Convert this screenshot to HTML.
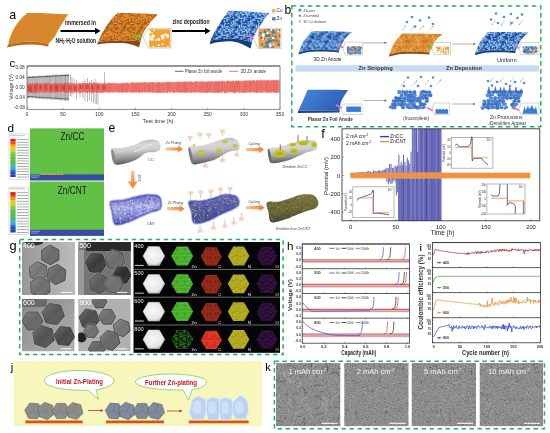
<!DOCTYPE html>
<html><head><meta charset="utf-8"><title>Figure</title>
<style>html,body{margin:0;padding:0;background:#fff;width:550px;height:433px;overflow:hidden}svg{display:block}text{font-family:"Liberation Sans",sans-serif}</style>
</head><body><svg width="550" height="433" viewBox="0 0 550 433"><defs>
<filter id="semnoise" x="0" y="0" width="100%" height="100%">
 <feTurbulence type="fractalNoise" baseFrequency="0.55" numOctaves="3" seed="3" result="n"/>
 <feColorMatrix type="matrix" values="0 0 0 0 0.5  0 0 0 0 0.5  0 0 0 0 0.5  1.2 0 0 0 -0.1" />
</filter>
</defs><defs><pattern id="pOrTex" patternUnits="userSpaceOnUse" width="17" height="17"><rect width="17" height="17" fill="#974C14"/><circle cx="6.8" cy="13.6" r="0.7" fill="#BC6620"/><circle cx="11.1" cy="16.1" r="0.8" fill="#E8922C"/><circle cx="16.5" cy="4.1" r="0.9" fill="#E8922C"/><circle cx="-0.5" cy="4.1" r="0.9" fill="#E8922C"/><circle cx="13.8" cy="16.9" r="0.8" fill="#EE9C36"/><circle cx="13.8" cy="-0.1" r="0.8" fill="#EE9C36"/><circle cx="0.6" cy="11.3" r="0.8" fill="#EE9C36"/><circle cx="17.6" cy="11.3" r="0.8" fill="#EE9C36"/><circle cx="13.9" cy="13.8" r="0.9" fill="#DC8626"/><circle cx="10.5" cy="13.1" r="0.9" fill="#E8922C"/><circle cx="13.1" cy="0.3" r="0.9" fill="#BC6620"/><circle cx="13.1" cy="17.3" r="0.9" fill="#BC6620"/><circle cx="4.8" cy="16.4" r="0.5" fill="#E8922C"/><circle cx="14.9" cy="10.5" r="0.5" fill="#EE9C36"/><circle cx="2.8" cy="1.5" r="0.7" fill="#EE9C36"/><circle cx="12.8" cy="16.5" r="0.8" fill="#E8922C"/><circle cx="12.8" cy="-0.5" r="0.8" fill="#E8922C"/><circle cx="14.5" cy="13.7" r="0.6" fill="#BC6620"/><circle cx="12.8" cy="9.7" r="0.7" fill="#EE9C36"/><circle cx="9" cy="7.1" r="0.8" fill="#DC8626"/><circle cx="14.7" cy="16.5" r="0.6" fill="#DC8626"/><circle cx="14.7" cy="-0.5" r="0.6" fill="#DC8626"/><circle cx="1.2" cy="13.3" r="0.5" fill="#DC8626"/><circle cx="0.7" cy="4.8" r="0.6" fill="#EE9C36"/><circle cx="0.5" cy="13.6" r="0.7" fill="#EE9C36"/><circle cx="17.5" cy="13.6" r="0.7" fill="#EE9C36"/><circle cx="6.9" cy="14" r="0.6" fill="#DC8626"/><circle cx="5.7" cy="2.8" r="0.7" fill="#BC6620"/><circle cx="2.2" cy="11.8" r="0.6" fill="#E8922C"/><circle cx="11.4" cy="1" r="0.9" fill="#E8922C"/><circle cx="9.6" cy="9.1" r="0.6" fill="#EE9C36"/><circle cx="15.4" cy="8.7" r="0.8" fill="#BC6620"/><circle cx="3.8" cy="9" r="0.5" fill="#EE9C36"/><circle cx="8.5" cy="14.4" r="0.8" fill="#E8922C"/><circle cx="8.7" cy="7" r="0.9" fill="#BC6620"/><circle cx="4.7" cy="1.8" r="0.7" fill="#DC8626"/><circle cx="13.4" cy="2.1" r="0.9" fill="#BC6620"/><circle cx="6.8" cy="11.5" r="0.5" fill="#E8922C"/><circle cx="3.2" cy="3.5" r="0.8" fill="#EE9C36"/><circle cx="2.3" cy="9.8" r="0.8" fill="#EE9C36"/><circle cx="0.5" cy="4.3" r="0.6" fill="#EE9C36"/><circle cx="17.5" cy="4.3" r="0.6" fill="#EE9C36"/><circle cx="11.4" cy="3" r="0.8" fill="#DC8626"/><circle cx="8.1" cy="8.1" r="0.7" fill="#DC8626"/><circle cx="5.2" cy="3.4" r="0.5" fill="#DC8626"/><circle cx="4.9" cy="10.5" r="0.6" fill="#BC6620"/><circle cx="15.6" cy="11.2" r="0.5" fill="#EE9C36"/><circle cx="13.7" cy="14.1" r="0.8" fill="#DC8626"/><circle cx="0.5" cy="8.8" r="0.8" fill="#EE9C36"/><circle cx="17.5" cy="8.8" r="0.8" fill="#EE9C36"/><circle cx="0.4" cy="13.4" r="0.6" fill="#EE9C36"/><circle cx="17.4" cy="13.4" r="0.6" fill="#EE9C36"/><circle cx="4.4" cy="1.6" r="0.9" fill="#DC8626"/><circle cx="5.5" cy="15.8" r="0.9" fill="#EE9C36"/><circle cx="9.4" cy="10" r="0.5" fill="#BC6620"/><circle cx="9.9" cy="0.9" r="0.8" fill="#DC8626"/><circle cx="9.1" cy="8.5" r="0.6" fill="#EE9C36"/><circle cx="9.1" cy="9.3" r="0.8" fill="#E8922C"/><circle cx="1.8" cy="13.8" r="0.7" fill="#DC8626"/><circle cx="5.2" cy="1.7" r="0.9" fill="#EE9C36"/><circle cx="5.4" cy="14.8" r="0.5" fill="#EE9C36"/><circle cx="11.1" cy="4.7" r="0.5" fill="#BC6620"/><circle cx="4.9" cy="4.3" r="0.8" fill="#BC6620"/><circle cx="1.1" cy="2.1" r="0.9" fill="#EE9C36"/><circle cx="6.8" cy="9.1" r="0.5" fill="#E8922C"/><circle cx="16.9" cy="0.3" r="0.7" fill="#E8922C"/><circle cx="16.9" cy="17.3" r="0.7" fill="#E8922C"/><circle cx="-0.1" cy="0.3" r="0.7" fill="#E8922C"/><circle cx="-0.1" cy="17.3" r="0.7" fill="#E8922C"/><circle cx="10.5" cy="9.8" r="0.8" fill="#DC8626"/><circle cx="16.1" cy="11.2" r="0.8" fill="#BC6620"/><circle cx="7.1" cy="12.4" r="0.8" fill="#DC8626"/><circle cx="8.2" cy="7.9" r="0.6" fill="#E8922C"/><circle cx="2.6" cy="5" r="0.8" fill="#EE9C36"/><circle cx="1.5" cy="7.5" r="0.8" fill="#DC8626"/><circle cx="16.5" cy="11.8" r="0.7" fill="#EE9C36"/><circle cx="-0.5" cy="11.8" r="0.7" fill="#EE9C36"/><circle cx="0.5" cy="5.1" r="0.8" fill="#EE9C36"/><circle cx="17.5" cy="5.1" r="0.8" fill="#EE9C36"/><circle cx="9.7" cy="13.9" r="0.5" fill="#E8922C"/><circle cx="4" cy="1.4" r="0.6" fill="#DC8626"/><circle cx="12.1" cy="16.9" r="0.5" fill="#BC6620"/><circle cx="12.1" cy="-0.1" r="0.5" fill="#BC6620"/><circle cx="13.8" cy="2.3" r="0.6" fill="#E8922C"/><circle cx="10.7" cy="15.3" r="0.6" fill="#E8922C"/><circle cx="15" cy="8" r="0.5" fill="#DC8626"/><circle cx="13.6" cy="14" r="0.8" fill="#BC6620"/><circle cx="2.2" cy="1" r="0.9" fill="#BC6620"/><circle cx="11.7" cy="3.3" r="0.8" fill="#EE9C36"/><circle cx="15.1" cy="6.2" r="0.5" fill="#DC8626"/><circle cx="8.5" cy="14.1" r="0.6" fill="#EE9C36"/><circle cx="10.5" cy="16.1" r="0.7" fill="#DC8626"/><circle cx="15" cy="8.6" r="0.9" fill="#E8922C"/><circle cx="3.8" cy="11.2" r="0.8" fill="#DC8626"/><circle cx="4.5" cy="15" r="0.8" fill="#E8922C"/><circle cx="5.3" cy="4.1" r="0.6" fill="#E8922C"/><circle cx="11.3" cy="7.4" r="0.9" fill="#DC8626"/><circle cx="17" cy="9.6" r="0.9" fill="#EE9C36"/><circle cx="-0" cy="9.6" r="0.9" fill="#EE9C36"/><circle cx="4.5" cy="8.5" r="0.6" fill="#BC6620"/><circle cx="7.9" cy="11" r="0.6" fill="#BC6620"/><circle cx="14.6" cy="3" r="0.8" fill="#BC6620"/><circle cx="12.2" cy="11.9" r="0.9" fill="#E8922C"/><circle cx="5.3" cy="8.5" r="0.6" fill="#DC8626"/><circle cx="11.5" cy="6.9" r="0.7" fill="#BC6620"/><circle cx="2.7" cy="10.9" r="0.9" fill="#DC8626"/><circle cx="1.2" cy="11.5" r="0.6" fill="#E8922C"/><circle cx="4.5" cy="8.8" r="0.7" fill="#EE9C36"/><circle cx="10.5" cy="1.6" r="0.9" fill="#EE9C36"/><circle cx="15.4" cy="0.1" r="0.9" fill="#BC6620"/><circle cx="15.4" cy="17.1" r="0.9" fill="#BC6620"/><circle cx="16" cy="9.4" r="0.8" fill="#DC8626"/><circle cx="16.3" cy="15.6" r="0.6" fill="#EE9C36"/><circle cx="5.4" cy="6.2" r="0.7" fill="#E8922C"/><circle cx="3.1" cy="7.2" r="0.6" fill="#EE9C36"/><circle cx="16.2" cy="3.4" r="0.5" fill="#DC8626"/><circle cx="7.7" cy="11.2" r="0.7" fill="#DC8626"/><circle cx="16.6" cy="2.2" r="0.6" fill="#BC6620"/><circle cx="-0.4" cy="2.2" r="0.6" fill="#BC6620"/><circle cx="3.5" cy="1.5" r="0.9" fill="#EE9C36"/><circle cx="1" cy="12.5" r="0.7" fill="#E8922C"/><circle cx="15" cy="13.7" r="0.9" fill="#DC8626"/><circle cx="7.9" cy="16.4" r="0.7" fill="#E8922C"/><circle cx="7.9" cy="-0.6" r="0.7" fill="#E8922C"/><circle cx="10.4" cy="3.8" r="0.9" fill="#DC8626"/><circle cx="10.2" cy="11.2" r="0.7" fill="#E8922C"/><circle cx="15.1" cy="3.6" r="0.8" fill="#DC8626"/><circle cx="14.1" cy="13.6" r="0.7" fill="#E8922C"/><circle cx="6.9" cy="1.8" r="0.9" fill="#E8922C"/><circle cx="14.9" cy="1.7" r="0.8" fill="#BC6620"/><circle cx="13.5" cy="14" r="0.6" fill="#DC8626"/><circle cx="0.1" cy="12" r="0.8" fill="#DC8626"/><circle cx="17.1" cy="12" r="0.8" fill="#DC8626"/><circle cx="7.3" cy="16.5" r="0.9" fill="#E8922C"/><circle cx="7.3" cy="-0.5" r="0.9" fill="#E8922C"/><circle cx="3.3" cy="9.1" r="0.6" fill="#E8922C"/><circle cx="15.7" cy="16.9" r="0.8" fill="#BC6620"/><circle cx="15.7" cy="-0.1" r="0.8" fill="#BC6620"/><circle cx="15.7" cy="1.4" r="0.8" fill="#E8922C"/><circle cx="9.9" cy="13.6" r="0.8" fill="#BC6620"/><circle cx="10.3" cy="9.5" r="0.6" fill="#E8922C"/><circle cx="5.7" cy="5.4" r="0.5" fill="#DC8626"/><circle cx="7.8" cy="3.9" r="0.7" fill="#DC8626"/><circle cx="14.3" cy="0.4" r="0.9" fill="#DC8626"/><circle cx="14.3" cy="17.4" r="0.9" fill="#DC8626"/><circle cx="1.5" cy="1.3" r="0.7" fill="#BC6620"/><circle cx="11.5" cy="8.6" r="0.7" fill="#DC8626"/><circle cx="7.5" cy="8.9" r="0.9" fill="#EE9C36"/><circle cx="9.3" cy="15.2" r="0.9" fill="#BC6620"/><circle cx="15.8" cy="11.7" r="0.9" fill="#BC6620"/><circle cx="13.3" cy="5.9" r="0.5" fill="#EE9C36"/><circle cx="13.5" cy="10.8" r="0.6" fill="#BC6620"/><circle cx="5.4" cy="6.9" r="0.8" fill="#BC6620"/><circle cx="2.2" cy="16.7" r="0.8" fill="#BC6620"/><circle cx="2.2" cy="-0.3" r="0.8" fill="#BC6620"/><circle cx="13.5" cy="1.5" r="0.5" fill="#BC6620"/><circle cx="6.7" cy="13.9" r="0.6" fill="#E8922C"/><circle cx="4.8" cy="7.4" r="0.6" fill="#EE9C36"/><circle cx="3.8" cy="12.9" r="0.7" fill="#EE9C36"/><circle cx="14.1" cy="11.3" r="0.5" fill="#E8922C"/><circle cx="13.6" cy="4.9" r="0.7" fill="#BC6620"/><circle cx="5.7" cy="6.2" r="0.8" fill="#EE9C36"/><circle cx="2.4" cy="8" r="0.8" fill="#BC6620"/><circle cx="2.4" cy="1.7" r="0.5" fill="#E8922C"/><circle cx="9.6" cy="2.3" r="0.9" fill="#BC6620"/><circle cx="6.5" cy="0.2" r="0.7" fill="#E8922C"/><circle cx="6.5" cy="17.2" r="0.7" fill="#E8922C"/><circle cx="14.1" cy="1.7" r="0.5" fill="#E8922C"/><circle cx="2.6" cy="3.4" r="0.8" fill="#BC6620"/><circle cx="0.3" cy="9.5" r="0.6" fill="#EE9C36"/><circle cx="17.3" cy="9.5" r="0.6" fill="#EE9C36"/><circle cx="4.4" cy="2.9" r="0.8" fill="#DC8626"/><circle cx="7" cy="13.5" r="0.7" fill="#EE9C36"/><circle cx="11.8" cy="5" r="0.5" fill="#DC8626"/><circle cx="7.4" cy="5.4" r="0.9" fill="#DC8626"/><circle cx="13.7" cy="0.6" r="0.8" fill="#DC8626"/><circle cx="13.7" cy="17.6" r="0.8" fill="#DC8626"/><circle cx="16.6" cy="13.4" r="0.7" fill="#BC6620"/><circle cx="-0.4" cy="13.4" r="0.7" fill="#BC6620"/><circle cx="5.9" cy="12.5" r="0.7" fill="#BC6620"/><circle cx="8.7" cy="0.9" r="0.9" fill="#EE9C36"/><circle cx="0.2" cy="8.8" r="0.6" fill="#E8922C"/><circle cx="17.2" cy="8.8" r="0.6" fill="#E8922C"/><circle cx="15.3" cy="13.4" r="0.6" fill="#E8922C"/><circle cx="1.4" cy="2.2" r="0.9" fill="#DC8626"/><circle cx="15.2" cy="14.4" r="0.9" fill="#DC8626"/><circle cx="10.6" cy="9.9" r="0.5" fill="#DC8626"/><circle cx="6.9" cy="0.2" r="0.7" fill="#BC6620"/><circle cx="6.9" cy="17.2" r="0.7" fill="#BC6620"/><circle cx="14.5" cy="6.3" r="0.9" fill="#E8922C"/><circle cx="14.5" cy="14.2" r="0.5" fill="#EE9C36"/><circle cx="14.4" cy="9" r="0.5" fill="#BC6620"/><circle cx="11.9" cy="14" r="0.7" fill="#DC8626"/><circle cx="14.2" cy="3.8" r="0.9" fill="#DC8626"/><circle cx="4.7" cy="1" r="0.5" fill="#BC6620"/><circle cx="7.7" cy="7.5" r="0.7" fill="#BC6620"/><circle cx="3.9" cy="15.3" r="0.7" fill="#DC8626"/><circle cx="11.4" cy="8.1" r="0.6" fill="#DC8626"/><circle cx="7.8" cy="4.5" r="0.5" fill="#E8922C"/><circle cx="14" cy="0" r="0.7" fill="#E8922C"/><circle cx="14" cy="17" r="0.7" fill="#E8922C"/><circle cx="11.2" cy="4.3" r="0.5" fill="#BC6620"/><circle cx="11.2" cy="1.3" r="0.9" fill="#DC8626"/><circle cx="13.4" cy="14.6" r="0.8" fill="#BC6620"/><circle cx="8.5" cy="10.8" r="0.8" fill="#BC6620"/><circle cx="14.1" cy="14.6" r="0.5" fill="#BC6620"/><circle cx="9.9" cy="14.8" r="0.9" fill="#BC6620"/><circle cx="1.8" cy="12.5" r="0.8" fill="#E8922C"/><circle cx="1.6" cy="15.4" r="0.9" fill="#EE9C36"/><circle cx="4.3" cy="8.2" r="0.6" fill="#DC8626"/><circle cx="8.1" cy="10.4" r="0.7" fill="#DC8626"/><circle cx="0.4" cy="8.1" r="0.9" fill="#DC8626"/><circle cx="17.4" cy="8.1" r="0.9" fill="#DC8626"/><circle cx="16.8" cy="12.3" r="0.7" fill="#BC6620"/><circle cx="-0.2" cy="12.3" r="0.7" fill="#BC6620"/><circle cx="2.8" cy="2.9" r="0.6" fill="#E8922C"/><circle cx="6.1" cy="16.9" r="0.5" fill="#DC8626"/><circle cx="6.1" cy="-0.1" r="0.5" fill="#DC8626"/><circle cx="2.2" cy="4.3" r="0.7" fill="#EE9C36"/><circle cx="0.6" cy="3.9" r="0.8" fill="#BC6620"/><circle cx="17.6" cy="3.9" r="0.8" fill="#BC6620"/><circle cx="11.8" cy="13.1" r="0.7" fill="#E8922C"/><circle cx="11.3" cy="4.4" r="0.8" fill="#EE9C36"/><circle cx="3.8" cy="4.5" r="0.6" fill="#BC6620"/><circle cx="9.2" cy="15.3" r="0.5" fill="#DC8626"/><circle cx="15.8" cy="0.3" r="0.5" fill="#DC8626"/><circle cx="15.8" cy="17.3" r="0.5" fill="#DC8626"/><circle cx="7.4" cy="1.6" r="0.7" fill="#EE9C36"/><circle cx="16.3" cy="7.2" r="0.8" fill="#E8922C"/><circle cx="-0.7" cy="7.2" r="0.8" fill="#E8922C"/><circle cx="5.7" cy="14" r="0.5" fill="#EE9C36"/><circle cx="3.2" cy="16.5" r="0.5" fill="#E8922C"/><circle cx="1.5" cy="2" r="0.7" fill="#BC6620"/><circle cx="2.8" cy="16" r="0.7" fill="#BC6620"/><circle cx="9.8" cy="8" r="0.9" fill="#BC6620"/><circle cx="11.3" cy="4.5" r="0.8" fill="#EE9C36"/><circle cx="9.5" cy="16.1" r="0.8" fill="#E8922C"/><circle cx="6.8" cy="15.8" r="0.5" fill="#EE9C36"/><circle cx="10" cy="13" r="0.8" fill="#BC6620"/><circle cx="2.5" cy="2.2" r="0.7" fill="#DC8626"/><circle cx="8.3" cy="10.8" r="0.5" fill="#EE9C36"/><circle cx="11.8" cy="6.3" r="0.9" fill="#E8922C"/><circle cx="11.4" cy="12.2" r="0.5" fill="#EE9C36"/><circle cx="5.3" cy="5.8" r="0.7" fill="#E8922C"/><circle cx="6" cy="13.2" r="0.5" fill="#BC6620"/><circle cx="13.7" cy="3" r="0.8" fill="#EE9C36"/><circle cx="2.5" cy="4.7" r="0.6" fill="#BC6620"/><circle cx="8.7" cy="9.3" r="0.5" fill="#E8922C"/><circle cx="1.3" cy="9.1" r="0.7" fill="#EE9C36"/><circle cx="11.7" cy="4.5" r="0.7" fill="#BC6620"/><circle cx="11.5" cy="15.2" r="0.9" fill="#BC6620"/><circle cx="14.3" cy="6.2" r="0.7" fill="#EE9C36"/><circle cx="0.5" cy="16.8" r="0.5" fill="#DC8626"/><circle cx="0.5" cy="-0.2" r="0.5" fill="#DC8626"/><circle cx="0.2" cy="13.3" r="0.6" fill="#EE9C36"/><circle cx="17.2" cy="13.3" r="0.6" fill="#EE9C36"/><circle cx="13.2" cy="9.2" r="0.6" fill="#E8922C"/><circle cx="1.7" cy="15.4" r="0.9" fill="#BC6620"/><circle cx="8.4" cy="13.9" r="0.8" fill="#BC6620"/><circle cx="3.5" cy="6" r="0.6" fill="#DC8626"/><circle cx="3" cy="2.2" r="0.5" fill="#BC6620"/><circle cx="12.8" cy="16.2" r="0.9" fill="#DC8626"/><circle cx="12.8" cy="-0.8" r="0.9" fill="#DC8626"/><circle cx="0.7" cy="8.9" r="0.5" fill="#DC8626"/><circle cx="1.7" cy="0.1" r="0.6" fill="#BC6620"/><circle cx="1.7" cy="17.1" r="0.6" fill="#BC6620"/><circle cx="3.1" cy="12.9" r="0.8" fill="#BC6620"/><circle cx="1.9" cy="10.6" r="0.7" fill="#DC8626"/><circle cx="5" cy="9.6" r="0.5" fill="#BC6620"/><circle cx="5.2" cy="1.3" r="0.5" fill="#E8922C"/><circle cx="8.5" cy="4.2" r="0.7" fill="#DC8626"/><circle cx="3" cy="0.9" r="0.9" fill="#EE9C36"/><circle cx="3" cy="17.9" r="0.9" fill="#EE9C36"/><circle cx="0" cy="8.8" r="0.5" fill="#E8922C"/><circle cx="17" cy="8.8" r="0.5" fill="#E8922C"/><circle cx="9.3" cy="13.9" r="0.9" fill="#BC6620"/><circle cx="5.2" cy="12.8" r="0.7" fill="#DC8626"/><circle cx="16.5" cy="5.6" r="0.5" fill="#E8922C"/><circle cx="-0.5" cy="5.6" r="0.5" fill="#E8922C"/><circle cx="13.1" cy="14" r="0.9" fill="#DC8626"/><circle cx="7.3" cy="8.2" r="0.6" fill="#BC6620"/><circle cx="0.7" cy="3.4" r="0.9" fill="#EE9C36"/><circle cx="17.7" cy="3.4" r="0.9" fill="#EE9C36"/><circle cx="1.8" cy="5.2" r="0.7" fill="#E8922C"/><circle cx="8" cy="16.1" r="0.6" fill="#EE9C36"/><circle cx="10.3" cy="1.6" r="0.8" fill="#E8922C"/><circle cx="13.1" cy="8.8" r="0.5" fill="#E8922C"/><circle cx="10" cy="8.9" r="0.8" fill="#EE9C36"/><circle cx="7.1" cy="4.4" r="0.8" fill="#DC8626"/><circle cx="12.8" cy="6.4" r="0.7" fill="#EE9C36"/><circle cx="5.5" cy="15.9" r="0.5" fill="#EE9C36"/><circle cx="17" cy="14.8" r="0.8" fill="#EE9C36"/><circle cx="-0" cy="14.8" r="0.8" fill="#EE9C36"/><circle cx="2.1" cy="12.8" r="0.7" fill="#BC6620"/><circle cx="1" cy="12.3" r="0.5" fill="#DC8626"/><circle cx="1.1" cy="4.5" r="0.8" fill="#BC6620"/><circle cx="8.2" cy="14.9" r="0.8" fill="#EE9C36"/></pattern></defs><defs><pattern id="pOrTex2" patternUnits="userSpaceOnUse" width="17" height="17"><rect width="17" height="17" fill="#B8681E"/><circle cx="0.5" cy="16.5" r="0.5" fill="#F6B055"/><circle cx="0.5" cy="-0.5" r="0.5" fill="#F6B055"/><circle cx="17.5" cy="16.5" r="0.5" fill="#F6B055"/><circle cx="17.5" cy="-0.5" r="0.5" fill="#F6B055"/><circle cx="9.6" cy="16.8" r="0.5" fill="#D08030"/><circle cx="9.6" cy="-0.2" r="0.5" fill="#D08030"/><circle cx="13.4" cy="14.1" r="0.6" fill="#F2A444"/><circle cx="10.1" cy="2.1" r="0.6" fill="#D08030"/><circle cx="4.9" cy="0.1" r="0.8" fill="#D08030"/><circle cx="4.9" cy="17.1" r="0.8" fill="#D08030"/><circle cx="4.8" cy="16" r="0.6" fill="#F6B055"/><circle cx="2.5" cy="3.5" r="0.6" fill="#F2A444"/><circle cx="11.9" cy="14.1" r="0.8" fill="#F6B055"/><circle cx="8.9" cy="4.2" r="0.9" fill="#F2A444"/><circle cx="15" cy="14.9" r="0.8" fill="#E89A3C"/><circle cx="13.4" cy="12.4" r="0.5" fill="#D08030"/><circle cx="2.9" cy="16.6" r="0.5" fill="#F2A444"/><circle cx="2.9" cy="-0.4" r="0.5" fill="#F2A444"/><circle cx="14.3" cy="16.9" r="0.9" fill="#E89A3C"/><circle cx="14.3" cy="-0.1" r="0.9" fill="#E89A3C"/><circle cx="8.2" cy="3.1" r="0.9" fill="#F2A444"/><circle cx="5.5" cy="9.8" r="0.9" fill="#E89A3C"/><circle cx="16.4" cy="10.6" r="0.8" fill="#F2A444"/><circle cx="-0.6" cy="10.6" r="0.8" fill="#F2A444"/><circle cx="1.8" cy="2.3" r="0.6" fill="#F2A444"/><circle cx="10.6" cy="8.7" r="0.5" fill="#F2A444"/><circle cx="1.1" cy="4.3" r="0.7" fill="#E89A3C"/><circle cx="11.5" cy="0.7" r="0.9" fill="#E89A3C"/><circle cx="11.5" cy="17.7" r="0.9" fill="#E89A3C"/><circle cx="9.8" cy="11.1" r="0.5" fill="#D08030"/><circle cx="7" cy="3.6" r="0.7" fill="#F6B055"/><circle cx="8.5" cy="14.8" r="0.5" fill="#D08030"/><circle cx="7.1" cy="9" r="0.6" fill="#D08030"/><circle cx="7.4" cy="3.4" r="0.9" fill="#E89A3C"/><circle cx="15.2" cy="9.2" r="0.9" fill="#F2A444"/><circle cx="4.4" cy="13.9" r="0.5" fill="#F6B055"/><circle cx="14.3" cy="10.9" r="0.8" fill="#E89A3C"/><circle cx="16.8" cy="7.9" r="0.9" fill="#F2A444"/><circle cx="-0.2" cy="7.9" r="0.9" fill="#F2A444"/><circle cx="10" cy="13.7" r="0.6" fill="#F6B055"/><circle cx="8.6" cy="9.4" r="0.6" fill="#D08030"/><circle cx="9.1" cy="14" r="0.5" fill="#F2A444"/><circle cx="14.1" cy="11.1" r="0.8" fill="#D08030"/><circle cx="6.6" cy="16.5" r="0.9" fill="#F2A444"/><circle cx="6.6" cy="-0.5" r="0.9" fill="#F2A444"/><circle cx="5.1" cy="2.8" r="0.6" fill="#E89A3C"/><circle cx="6.8" cy="2.1" r="0.8" fill="#D08030"/><circle cx="12.2" cy="4.7" r="0.9" fill="#E89A3C"/><circle cx="12.1" cy="7.2" r="0.9" fill="#E89A3C"/><circle cx="13.2" cy="15.5" r="0.5" fill="#F2A444"/><circle cx="16.8" cy="8.3" r="0.8" fill="#D08030"/><circle cx="-0.2" cy="8.3" r="0.8" fill="#D08030"/><circle cx="12.9" cy="12.4" r="0.6" fill="#F2A444"/><circle cx="7.9" cy="13" r="0.5" fill="#D08030"/><circle cx="7.7" cy="15" r="0.9" fill="#E89A3C"/><circle cx="11.7" cy="13.4" r="0.6" fill="#F2A444"/><circle cx="8.4" cy="1.9" r="0.5" fill="#F6B055"/><circle cx="9.7" cy="7.1" r="0.5" fill="#F2A444"/><circle cx="2.1" cy="7.8" r="0.5" fill="#D08030"/><circle cx="10.7" cy="5.3" r="0.7" fill="#F6B055"/><circle cx="4.2" cy="10.7" r="0.6" fill="#F2A444"/><circle cx="10.6" cy="0.4" r="0.9" fill="#F2A444"/><circle cx="10.6" cy="17.4" r="0.9" fill="#F2A444"/><circle cx="5.5" cy="1.9" r="0.7" fill="#E89A3C"/><circle cx="3.5" cy="1.4" r="0.6" fill="#F6B055"/><circle cx="16.7" cy="10.1" r="0.9" fill="#E89A3C"/><circle cx="-0.3" cy="10.1" r="0.9" fill="#E89A3C"/><circle cx="3.5" cy="6.1" r="0.6" fill="#E89A3C"/><circle cx="7.5" cy="6.2" r="0.6" fill="#F6B055"/><circle cx="12.3" cy="6" r="0.5" fill="#E89A3C"/><circle cx="16" cy="10.9" r="0.8" fill="#D08030"/><circle cx="9.8" cy="0.6" r="0.6" fill="#F6B055"/><circle cx="9.8" cy="17.6" r="0.6" fill="#F6B055"/><circle cx="14.9" cy="9.1" r="0.8" fill="#D08030"/><circle cx="0.4" cy="15" r="0.8" fill="#E89A3C"/><circle cx="17.4" cy="15" r="0.8" fill="#E89A3C"/><circle cx="14.8" cy="10.8" r="0.8" fill="#F2A444"/><circle cx="5.6" cy="13.5" r="0.9" fill="#D08030"/><circle cx="2.3" cy="5.3" r="0.9" fill="#F2A444"/><circle cx="3.1" cy="11.6" r="0.7" fill="#F2A444"/><circle cx="3.8" cy="6" r="0.8" fill="#D08030"/><circle cx="1.7" cy="10.3" r="0.7" fill="#F2A444"/><circle cx="4.9" cy="12.5" r="0.7" fill="#D08030"/><circle cx="14.8" cy="11.2" r="0.6" fill="#F6B055"/><circle cx="14.6" cy="0.9" r="0.8" fill="#F6B055"/><circle cx="15.4" cy="4.7" r="0.9" fill="#F2A444"/><circle cx="14.5" cy="7.4" r="0.5" fill="#D08030"/><circle cx="7.5" cy="14.2" r="0.7" fill="#F2A444"/><circle cx="0.2" cy="11.3" r="0.7" fill="#F6B055"/><circle cx="17.2" cy="11.3" r="0.7" fill="#F6B055"/><circle cx="1.4" cy="0.5" r="0.7" fill="#D08030"/><circle cx="1.4" cy="17.5" r="0.7" fill="#D08030"/><circle cx="13.8" cy="3.2" r="0.7" fill="#E89A3C"/><circle cx="4.3" cy="5.7" r="0.9" fill="#D08030"/><circle cx="9.1" cy="11.4" r="0.9" fill="#F6B055"/><circle cx="5.9" cy="16.6" r="0.9" fill="#D08030"/><circle cx="5.9" cy="-0.4" r="0.9" fill="#D08030"/><circle cx="12.7" cy="11.2" r="0.8" fill="#F2A444"/><circle cx="5.1" cy="6.4" r="0.6" fill="#F2A444"/><circle cx="6" cy="0.1" r="0.9" fill="#F2A444"/><circle cx="6" cy="17.1" r="0.9" fill="#F2A444"/><circle cx="9.4" cy="11.7" r="0.5" fill="#F6B055"/><circle cx="7" cy="11.6" r="0.8" fill="#D08030"/><circle cx="3.6" cy="8.6" r="0.9" fill="#D08030"/><circle cx="0" cy="6" r="0.6" fill="#E89A3C"/><circle cx="17" cy="6" r="0.6" fill="#E89A3C"/><circle cx="11.2" cy="1.6" r="0.6" fill="#F2A444"/><circle cx="13.7" cy="4.5" r="0.7" fill="#F2A444"/><circle cx="16.5" cy="7.6" r="0.9" fill="#F2A444"/><circle cx="-0.5" cy="7.6" r="0.9" fill="#F2A444"/><circle cx="12.1" cy="14.5" r="0.9" fill="#F6B055"/><circle cx="13" cy="2.6" r="0.8" fill="#F2A444"/><circle cx="8.1" cy="16.4" r="0.8" fill="#E89A3C"/><circle cx="8.1" cy="-0.6" r="0.8" fill="#E89A3C"/><circle cx="15.8" cy="5" r="0.9" fill="#D08030"/><circle cx="2.7" cy="7.7" r="0.8" fill="#F2A444"/><circle cx="10.3" cy="16.4" r="0.6" fill="#E89A3C"/><circle cx="1.6" cy="7.9" r="0.5" fill="#E89A3C"/><circle cx="15.8" cy="13.6" r="0.7" fill="#F2A444"/><circle cx="11.3" cy="7.2" r="0.7" fill="#D08030"/><circle cx="5.2" cy="6" r="0.8" fill="#E89A3C"/><circle cx="4.5" cy="1.4" r="0.6" fill="#D08030"/><circle cx="1.9" cy="13.9" r="0.8" fill="#F2A444"/><circle cx="0.2" cy="4.1" r="0.6" fill="#E89A3C"/><circle cx="17.2" cy="4.1" r="0.6" fill="#E89A3C"/><circle cx="16" cy="11.6" r="0.7" fill="#F2A444"/><circle cx="10.5" cy="15.9" r="0.6" fill="#E89A3C"/><circle cx="7.5" cy="9.2" r="0.9" fill="#E89A3C"/><circle cx="11.7" cy="0.7" r="0.8" fill="#F6B055"/><circle cx="11.7" cy="17.7" r="0.8" fill="#F6B055"/><circle cx="3" cy="12.4" r="0.8" fill="#F6B055"/><circle cx="12" cy="9.6" r="0.7" fill="#D08030"/><circle cx="11.9" cy="12.1" r="0.5" fill="#F6B055"/><circle cx="12.4" cy="14.7" r="0.5" fill="#D08030"/><circle cx="6" cy="0.6" r="0.5" fill="#E89A3C"/><circle cx="13.7" cy="3.4" r="0.9" fill="#E89A3C"/><circle cx="5.8" cy="8.8" r="0.7" fill="#D08030"/><circle cx="11.5" cy="2.7" r="0.5" fill="#E89A3C"/><circle cx="7.8" cy="10.3" r="0.9" fill="#E89A3C"/><circle cx="13.8" cy="8.2" r="0.8" fill="#D08030"/><circle cx="8.8" cy="16.3" r="0.7" fill="#F6B055"/><circle cx="8.8" cy="-0.7" r="0.7" fill="#F6B055"/><circle cx="11.9" cy="2.9" r="0.6" fill="#D08030"/><circle cx="3.1" cy="3.8" r="0.9" fill="#E89A3C"/><circle cx="15.6" cy="0.3" r="0.5" fill="#F6B055"/><circle cx="15.6" cy="17.3" r="0.5" fill="#F6B055"/><circle cx="13.9" cy="3.6" r="0.9" fill="#E89A3C"/><circle cx="13.7" cy="10.7" r="0.6" fill="#D08030"/><circle cx="11.7" cy="5.9" r="0.5" fill="#F2A444"/><circle cx="16.9" cy="4.5" r="0.7" fill="#F2A444"/><circle cx="-0.1" cy="4.5" r="0.7" fill="#F2A444"/><circle cx="10.9" cy="10.4" r="0.9" fill="#D08030"/><circle cx="15.3" cy="5" r="0.6" fill="#E89A3C"/><circle cx="15.5" cy="7.8" r="0.5" fill="#F6B055"/><circle cx="6.3" cy="4" r="0.8" fill="#F6B055"/><circle cx="12.5" cy="1.4" r="0.9" fill="#F2A444"/><circle cx="14.6" cy="12.2" r="0.5" fill="#E89A3C"/><circle cx="6.5" cy="4.1" r="0.6" fill="#D08030"/><circle cx="0.5" cy="2.6" r="0.9" fill="#F2A444"/><circle cx="17.5" cy="2.6" r="0.9" fill="#F2A444"/><circle cx="10.4" cy="11.1" r="0.5" fill="#D08030"/><circle cx="12.9" cy="11.1" r="0.8" fill="#E89A3C"/><circle cx="1.7" cy="13.2" r="0.7" fill="#D08030"/><circle cx="16.7" cy="16.8" r="0.9" fill="#F6B055"/><circle cx="16.7" cy="-0.2" r="0.9" fill="#F6B055"/><circle cx="-0.3" cy="16.8" r="0.9" fill="#F6B055"/><circle cx="-0.3" cy="-0.2" r="0.9" fill="#F6B055"/><circle cx="3.1" cy="10.4" r="0.6" fill="#F6B055"/><circle cx="10.8" cy="14.4" r="0.9" fill="#D08030"/><circle cx="9.1" cy="16" r="0.7" fill="#F2A444"/><circle cx="2.2" cy="6.1" r="0.5" fill="#E89A3C"/><circle cx="5.6" cy="0.5" r="0.5" fill="#F6B055"/><circle cx="9.8" cy="14.5" r="0.6" fill="#D08030"/><circle cx="8.5" cy="15" r="0.8" fill="#F6B055"/><circle cx="11.7" cy="10.3" r="0.8" fill="#D08030"/><circle cx="16.2" cy="8.4" r="0.7" fill="#F6B055"/><circle cx="12.8" cy="7.4" r="0.7" fill="#E89A3C"/><circle cx="4.4" cy="10.1" r="0.7" fill="#D08030"/><circle cx="11" cy="13.6" r="0.9" fill="#E89A3C"/><circle cx="15.8" cy="8.5" r="0.6" fill="#D08030"/><circle cx="10.8" cy="14.6" r="0.8" fill="#F2A444"/><circle cx="1.1" cy="13" r="0.5" fill="#F2A444"/><circle cx="6.5" cy="12.9" r="0.9" fill="#F2A444"/><circle cx="15" cy="10.2" r="0.8" fill="#F6B055"/><circle cx="2.7" cy="16.9" r="0.6" fill="#D08030"/><circle cx="2.7" cy="-0.1" r="0.6" fill="#D08030"/><circle cx="4.9" cy="1.3" r="0.6" fill="#D08030"/><circle cx="6.6" cy="11.8" r="0.5" fill="#F2A444"/><circle cx="11.7" cy="9" r="0.6" fill="#E89A3C"/><circle cx="7.8" cy="1.7" r="0.9" fill="#D08030"/><circle cx="14.4" cy="10.3" r="0.6" fill="#F2A444"/><circle cx="16.7" cy="3.6" r="0.5" fill="#F6B055"/><circle cx="-0.3" cy="3.6" r="0.5" fill="#F6B055"/><circle cx="14.6" cy="5.7" r="0.9" fill="#F6B055"/><circle cx="5.7" cy="11.9" r="0.6" fill="#E89A3C"/><circle cx="3.1" cy="1.8" r="0.9" fill="#D08030"/><circle cx="2.1" cy="13.5" r="0.6" fill="#E89A3C"/><circle cx="7.7" cy="2.2" r="0.6" fill="#F6B055"/><circle cx="2.5" cy="12.6" r="0.6" fill="#D08030"/><circle cx="14" cy="3.8" r="0.5" fill="#F2A444"/><circle cx="5.5" cy="5.9" r="0.9" fill="#F2A444"/><circle cx="5.9" cy="2.2" r="0.9" fill="#F2A444"/><circle cx="16" cy="3.3" r="0.5" fill="#F2A444"/><circle cx="2.9" cy="5.3" r="0.7" fill="#F6B055"/><circle cx="16.7" cy="12.3" r="0.5" fill="#F2A444"/><circle cx="-0.3" cy="12.3" r="0.5" fill="#F2A444"/><circle cx="2.6" cy="15" r="0.9" fill="#D08030"/><circle cx="2" cy="7.2" r="0.5" fill="#D08030"/><circle cx="2.4" cy="15.6" r="0.9" fill="#F6B055"/><circle cx="7" cy="13.4" r="0.6" fill="#F2A444"/><circle cx="8.8" cy="3.9" r="0.6" fill="#E89A3C"/><circle cx="9" cy="0.7" r="0.9" fill="#F6B055"/><circle cx="9" cy="17.7" r="0.9" fill="#F6B055"/><circle cx="2.5" cy="1.5" r="0.5" fill="#E89A3C"/><circle cx="11.8" cy="2.6" r="0.6" fill="#F6B055"/><circle cx="11.8" cy="11.9" r="0.5" fill="#F2A444"/><circle cx="11.6" cy="10.8" r="0.7" fill="#F2A444"/><circle cx="11.2" cy="4.9" r="0.5" fill="#E89A3C"/><circle cx="14.5" cy="6.5" r="0.9" fill="#F2A444"/><circle cx="13.9" cy="15.6" r="0.5" fill="#F6B055"/><circle cx="16" cy="6.7" r="0.9" fill="#F6B055"/><circle cx="14.5" cy="8" r="0.5" fill="#D08030"/><circle cx="5.6" cy="10.5" r="0.6" fill="#F6B055"/><circle cx="16.6" cy="13.5" r="0.6" fill="#F2A444"/><circle cx="-0.4" cy="13.5" r="0.6" fill="#F2A444"/><circle cx="13.6" cy="2.3" r="0.8" fill="#F2A444"/><circle cx="15" cy="9.1" r="0.5" fill="#F2A444"/><circle cx="7.2" cy="12.4" r="0.5" fill="#E89A3C"/><circle cx="9" cy="2.8" r="0.9" fill="#F2A444"/><circle cx="11.7" cy="10" r="0.9" fill="#F6B055"/><circle cx="14.8" cy="9.9" r="0.7" fill="#D08030"/><circle cx="0.9" cy="10" r="0.9" fill="#E89A3C"/><circle cx="17.9" cy="10" r="0.9" fill="#E89A3C"/><circle cx="16.1" cy="11.5" r="0.7" fill="#F2A444"/><circle cx="8.2" cy="1.7" r="0.5" fill="#E89A3C"/><circle cx="10.2" cy="8.3" r="0.7" fill="#F6B055"/><circle cx="14.8" cy="11" r="0.7" fill="#D08030"/><circle cx="10.9" cy="10.3" r="0.5" fill="#D08030"/><circle cx="3" cy="9.9" r="0.7" fill="#F6B055"/><circle cx="10.5" cy="0.6" r="0.5" fill="#E89A3C"/><circle cx="13.6" cy="8.4" r="0.8" fill="#F6B055"/><circle cx="2.5" cy="10.7" r="0.5" fill="#E89A3C"/><circle cx="6" cy="5.7" r="0.8" fill="#D08030"/><circle cx="1.2" cy="14.8" r="0.5" fill="#E89A3C"/><circle cx="14.7" cy="6.6" r="0.7" fill="#F2A444"/><circle cx="15.9" cy="1" r="0.5" fill="#F2A444"/><circle cx="6.8" cy="4.9" r="0.7" fill="#F2A444"/><circle cx="15.2" cy="3" r="0.7" fill="#F2A444"/><circle cx="1.4" cy="14" r="0.6" fill="#E89A3C"/><circle cx="0.9" cy="16.7" r="0.9" fill="#F2A444"/><circle cx="0.9" cy="-0.3" r="0.9" fill="#F2A444"/><circle cx="17.9" cy="16.7" r="0.9" fill="#F2A444"/><circle cx="17.9" cy="-0.3" r="0.9" fill="#F2A444"/><circle cx="0.1" cy="9.3" r="0.8" fill="#F6B055"/><circle cx="17.1" cy="9.3" r="0.8" fill="#F6B055"/><circle cx="5.4" cy="15.8" r="0.7" fill="#F6B055"/><circle cx="16.7" cy="15.4" r="0.6" fill="#D08030"/><circle cx="-0.3" cy="15.4" r="0.6" fill="#D08030"/><circle cx="14.4" cy="6.3" r="0.9" fill="#F2A444"/><circle cx="11.5" cy="10.8" r="0.9" fill="#F2A444"/><circle cx="3.1" cy="16.3" r="0.8" fill="#E89A3C"/><circle cx="3.1" cy="-0.7" r="0.8" fill="#E89A3C"/><circle cx="8.8" cy="5.6" r="0.8" fill="#E89A3C"/><circle cx="8.7" cy="15.1" r="0.9" fill="#F6B055"/><circle cx="3.4" cy="9.9" r="0.9" fill="#E89A3C"/><circle cx="5.4" cy="16.5" r="0.9" fill="#E89A3C"/><circle cx="5.4" cy="-0.5" r="0.9" fill="#E89A3C"/><circle cx="13" cy="11" r="0.9" fill="#F2A444"/><circle cx="1.1" cy="3.8" r="0.7" fill="#F6B055"/><circle cx="3.3" cy="4.8" r="0.5" fill="#F2A444"/><circle cx="11.1" cy="14.4" r="0.8" fill="#F6B055"/><circle cx="4.4" cy="12.5" r="0.8" fill="#D08030"/><circle cx="3.1" cy="16.6" r="0.7" fill="#E89A3C"/><circle cx="3.1" cy="-0.4" r="0.7" fill="#E89A3C"/><circle cx="14.2" cy="11.2" r="0.6" fill="#F6B055"/><circle cx="2.6" cy="1.3" r="0.6" fill="#F2A444"/><circle cx="1.3" cy="15.3" r="0.6" fill="#E89A3C"/><circle cx="8.9" cy="7.8" r="0.7" fill="#E89A3C"/><circle cx="1.3" cy="11.5" r="0.8" fill="#F2A444"/><circle cx="2.6" cy="11.8" r="0.8" fill="#D08030"/><circle cx="15.5" cy="11.7" r="0.6" fill="#F6B055"/><circle cx="2.2" cy="4.7" r="0.9" fill="#E89A3C"/><circle cx="4.2" cy="1.8" r="0.5" fill="#F2A444"/><circle cx="9.4" cy="7.1" r="0.6" fill="#F2A444"/><circle cx="4.8" cy="2.7" r="0.7" fill="#D08030"/><circle cx="6.8" cy="0.7" r="0.9" fill="#E89A3C"/><circle cx="6.8" cy="17.7" r="0.9" fill="#E89A3C"/><circle cx="16.7" cy="0.7" r="0.5" fill="#E89A3C"/><circle cx="-0.3" cy="0.7" r="0.5" fill="#E89A3C"/><circle cx="10" cy="10.3" r="0.8" fill="#F6B055"/><circle cx="0.3" cy="6.6" r="0.8" fill="#F6B055"/><circle cx="17.3" cy="6.6" r="0.8" fill="#F6B055"/><circle cx="7.5" cy="2.3" r="0.5" fill="#F2A444"/><circle cx="6.6" cy="4" r="0.7" fill="#F2A444"/><circle cx="16.8" cy="12.4" r="0.9" fill="#F2A444"/><circle cx="-0.2" cy="12.4" r="0.9" fill="#F2A444"/><circle cx="5.1" cy="15.5" r="0.7" fill="#F2A444"/><circle cx="3" cy="5.5" r="0.7" fill="#E89A3C"/><circle cx="12.3" cy="1.9" r="0.9" fill="#D08030"/><circle cx="0.7" cy="2.4" r="0.9" fill="#D08030"/><circle cx="17.7" cy="2.4" r="0.9" fill="#D08030"/><circle cx="9" cy="15.5" r="0.7" fill="#E89A3C"/><circle cx="11.1" cy="3.6" r="0.6" fill="#E89A3C"/><circle cx="2.2" cy="5.8" r="0.6" fill="#E89A3C"/><circle cx="3.5" cy="13.2" r="0.8" fill="#D08030"/><circle cx="3.5" cy="0.8" r="0.8" fill="#D08030"/><circle cx="9" cy="7.4" r="0.5" fill="#D08030"/><circle cx="2.4" cy="1" r="0.5" fill="#F2A444"/><circle cx="6.7" cy="6.2" r="0.9" fill="#D08030"/><circle cx="7.8" cy="8.8" r="0.5" fill="#D08030"/><circle cx="13.7" cy="3.3" r="0.8" fill="#F2A444"/></pattern></defs><defs><pattern id="pBlTex" patternUnits="userSpaceOnUse" width="17" height="17"><rect width="17" height="17" fill="#1C48A0"/><circle cx="16.4" cy="9.2" r="0.7" fill="#173E90"/><circle cx="-0.6" cy="9.2" r="0.7" fill="#173E90"/><circle cx="16" cy="13.8" r="0.6" fill="#70ACE6"/><circle cx="8.6" cy="13.2" r="0.6" fill="#96CCF2"/><circle cx="1.9" cy="11.2" r="0.5" fill="#70ACE6"/><circle cx="9.9" cy="8.5" r="0.5" fill="#2A5EBC"/><circle cx="1.3" cy="6.2" r="0.8" fill="#173E90"/><circle cx="4.9" cy="12" r="0.9" fill="#173E90"/><circle cx="13" cy="4.9" r="0.5" fill="#90C8F0"/><circle cx="13" cy="3.3" r="0.6" fill="#70ACE6"/><circle cx="14.3" cy="9.3" r="0.8" fill="#96CCF2"/><circle cx="14.6" cy="2.3" r="0.6" fill="#90C8F0"/><circle cx="14.5" cy="6.8" r="0.5" fill="#96CCF2"/><circle cx="12.2" cy="2.8" r="0.5" fill="#70ACE6"/><circle cx="10.4" cy="14.6" r="0.9" fill="#70ACE6"/><circle cx="13.2" cy="4.4" r="0.5" fill="#2A5EBC"/><circle cx="9.3" cy="15.8" r="0.8" fill="#70ACE6"/><circle cx="4.3" cy="16.5" r="0.5" fill="#173E90"/><circle cx="0.7" cy="16.5" r="0.7" fill="#70ACE6"/><circle cx="0.7" cy="-0.5" r="0.7" fill="#70ACE6"/><circle cx="5.5" cy="12.1" r="0.6" fill="#173E90"/><circle cx="1.1" cy="2.6" r="0.6" fill="#173E90"/><circle cx="11.9" cy="7.7" r="0.9" fill="#173E90"/><circle cx="13.3" cy="6.2" r="0.9" fill="#A8D8F4"/><circle cx="16.3" cy="2.2" r="0.9" fill="#90C8F0"/><circle cx="-0.7" cy="2.2" r="0.9" fill="#90C8F0"/><circle cx="11.5" cy="11.8" r="0.6" fill="#2A5EBC"/><circle cx="15.5" cy="6.1" r="0.9" fill="#173E90"/><circle cx="3.9" cy="6.4" r="0.7" fill="#90C8F0"/><circle cx="11.7" cy="11.2" r="0.7" fill="#90C8F0"/><circle cx="13.6" cy="1" r="0.7" fill="#2A5EBC"/><circle cx="13.7" cy="9.3" r="0.9" fill="#90C8F0"/><circle cx="4" cy="7.3" r="0.8" fill="#2A5EBC"/><circle cx="10.5" cy="6" r="0.7" fill="#A8D8F4"/><circle cx="11.7" cy="15.5" r="0.7" fill="#70ACE6"/><circle cx="4.8" cy="9.7" r="0.6" fill="#96CCF2"/><circle cx="10.6" cy="11.4" r="0.6" fill="#90C8F0"/><circle cx="6.7" cy="0" r="0.6" fill="#173E90"/><circle cx="6.7" cy="17" r="0.6" fill="#173E90"/><circle cx="0.2" cy="12" r="0.7" fill="#173E90"/><circle cx="17.2" cy="12" r="0.7" fill="#173E90"/><circle cx="14.3" cy="14.9" r="0.8" fill="#96CCF2"/><circle cx="3.1" cy="9.2" r="0.9" fill="#96CCF2"/><circle cx="6.4" cy="2.9" r="0.6" fill="#2A5EBC"/><circle cx="4.4" cy="3.5" r="0.7" fill="#173E90"/><circle cx="13.3" cy="6" r="0.8" fill="#A8D8F4"/><circle cx="15" cy="12.9" r="0.6" fill="#173E90"/><circle cx="16.3" cy="12.2" r="0.9" fill="#90C8F0"/><circle cx="-0.7" cy="12.2" r="0.9" fill="#90C8F0"/><circle cx="14.2" cy="12.5" r="0.6" fill="#96CCF2"/><circle cx="9.3" cy="3.7" r="0.8" fill="#A8D8F4"/><circle cx="4.4" cy="1.4" r="0.8" fill="#96CCF2"/><circle cx="11.5" cy="2" r="0.5" fill="#70ACE6"/><circle cx="13.9" cy="3.7" r="0.8" fill="#90C8F0"/><circle cx="6" cy="11.9" r="0.8" fill="#90C8F0"/><circle cx="8.6" cy="15.7" r="0.9" fill="#2A5EBC"/><circle cx="4.8" cy="12.1" r="0.8" fill="#70ACE6"/><circle cx="5.7" cy="15" r="0.7" fill="#96CCF2"/><circle cx="9.7" cy="9.9" r="0.9" fill="#173E90"/><circle cx="2.2" cy="12" r="0.5" fill="#96CCF2"/><circle cx="15.9" cy="3.3" r="0.6" fill="#A8D8F4"/><circle cx="14.5" cy="10.3" r="0.7" fill="#2A5EBC"/><circle cx="9.3" cy="5.2" r="0.6" fill="#96CCF2"/><circle cx="15" cy="13.8" r="0.8" fill="#96CCF2"/><circle cx="4.1" cy="14.5" r="0.9" fill="#173E90"/><circle cx="5.5" cy="4.3" r="0.5" fill="#2A5EBC"/><circle cx="1.2" cy="1.2" r="0.6" fill="#96CCF2"/><circle cx="16.5" cy="13.8" r="0.8" fill="#70ACE6"/><circle cx="-0.5" cy="13.8" r="0.8" fill="#70ACE6"/><circle cx="6.6" cy="5.7" r="0.5" fill="#173E90"/><circle cx="9.8" cy="1" r="0.6" fill="#A8D8F4"/><circle cx="9.6" cy="10.3" r="0.8" fill="#2A5EBC"/><circle cx="12" cy="7.6" r="0.7" fill="#70ACE6"/><circle cx="10.1" cy="1.7" r="0.6" fill="#96CCF2"/><circle cx="7.6" cy="7.1" r="0.7" fill="#2A5EBC"/><circle cx="12.6" cy="9.9" r="0.7" fill="#173E90"/><circle cx="10.6" cy="9.2" r="0.6" fill="#2A5EBC"/><circle cx="15.6" cy="8.8" r="0.9" fill="#70ACE6"/><circle cx="3.9" cy="13.5" r="0.6" fill="#70ACE6"/><circle cx="6.6" cy="1.7" r="0.7" fill="#A8D8F4"/><circle cx="6.3" cy="5.7" r="0.8" fill="#173E90"/><circle cx="4.9" cy="3.7" r="0.6" fill="#2A5EBC"/><circle cx="14.5" cy="11.6" r="0.8" fill="#173E90"/><circle cx="12.8" cy="11.5" r="0.5" fill="#70ACE6"/><circle cx="5.7" cy="11.6" r="0.6" fill="#A8D8F4"/><circle cx="12.2" cy="7.9" r="0.8" fill="#2A5EBC"/><circle cx="12.6" cy="1.1" r="0.6" fill="#96CCF2"/><circle cx="16.6" cy="8.5" r="0.5" fill="#90C8F0"/><circle cx="-0.4" cy="8.5" r="0.5" fill="#90C8F0"/><circle cx="16.5" cy="4.1" r="0.7" fill="#2A5EBC"/><circle cx="-0.5" cy="4.1" r="0.7" fill="#2A5EBC"/><circle cx="7.8" cy="6.3" r="0.7" fill="#96CCF2"/><circle cx="15.9" cy="6.4" r="0.9" fill="#70ACE6"/><circle cx="5.4" cy="9" r="0.5" fill="#96CCF2"/><circle cx="1.7" cy="4.7" r="0.7" fill="#173E90"/><circle cx="10" cy="13.7" r="0.6" fill="#90C8F0"/><circle cx="5.8" cy="14" r="0.7" fill="#2A5EBC"/><circle cx="10.7" cy="14.1" r="0.5" fill="#173E90"/><circle cx="4.1" cy="10.3" r="0.6" fill="#2A5EBC"/><circle cx="5.9" cy="9.3" r="0.5" fill="#70ACE6"/><circle cx="0.9" cy="1.6" r="0.6" fill="#A8D8F4"/><circle cx="8.9" cy="14" r="0.8" fill="#90C8F0"/><circle cx="16.2" cy="6.9" r="0.8" fill="#90C8F0"/><circle cx="7.3" cy="12.7" r="0.7" fill="#96CCF2"/><circle cx="5.3" cy="15.8" r="0.8" fill="#173E90"/><circle cx="0.9" cy="9.4" r="0.8" fill="#173E90"/><circle cx="6.9" cy="6.5" r="0.5" fill="#A8D8F4"/><circle cx="7" cy="0.9" r="0.6" fill="#2A5EBC"/><circle cx="1.2" cy="8.7" r="0.9" fill="#90C8F0"/><circle cx="16.2" cy="11.8" r="0.5" fill="#90C8F0"/><circle cx="6.2" cy="4" r="0.9" fill="#90C8F0"/><circle cx="15.8" cy="8.7" r="0.7" fill="#173E90"/><circle cx="8.8" cy="5.5" r="0.6" fill="#70ACE6"/><circle cx="9" cy="15" r="0.8" fill="#70ACE6"/><circle cx="9.3" cy="5.8" r="0.8" fill="#A8D8F4"/><circle cx="10.7" cy="12.7" r="0.5" fill="#70ACE6"/><circle cx="5.7" cy="14.5" r="0.6" fill="#90C8F0"/><circle cx="1.8" cy="2.3" r="0.9" fill="#2A5EBC"/><circle cx="0.4" cy="7.7" r="0.9" fill="#70ACE6"/><circle cx="17.4" cy="7.7" r="0.9" fill="#70ACE6"/><circle cx="3.8" cy="10.2" r="0.9" fill="#2A5EBC"/><circle cx="15.2" cy="13.2" r="0.8" fill="#2A5EBC"/><circle cx="15" cy="12.1" r="0.9" fill="#2A5EBC"/><circle cx="16.7" cy="1.7" r="0.5" fill="#70ACE6"/><circle cx="-0.3" cy="1.7" r="0.5" fill="#70ACE6"/><circle cx="7.9" cy="12.9" r="0.8" fill="#96CCF2"/><circle cx="10.4" cy="4.4" r="0.5" fill="#2A5EBC"/><circle cx="5.8" cy="14.3" r="0.8" fill="#A8D8F4"/><circle cx="3" cy="12.5" r="0.9" fill="#96CCF2"/><circle cx="14.6" cy="5.6" r="0.5" fill="#90C8F0"/><circle cx="14.5" cy="5.3" r="0.5" fill="#70ACE6"/><circle cx="7.5" cy="9.6" r="0.7" fill="#A8D8F4"/><circle cx="14.9" cy="4.7" r="0.9" fill="#2A5EBC"/><circle cx="10.4" cy="0.6" r="0.6" fill="#2A5EBC"/><circle cx="10.4" cy="17.6" r="0.6" fill="#2A5EBC"/><circle cx="8" cy="10.2" r="0.7" fill="#90C8F0"/><circle cx="1.1" cy="5.4" r="0.5" fill="#173E90"/><circle cx="10" cy="8.2" r="0.9" fill="#70ACE6"/><circle cx="10.8" cy="9" r="0.5" fill="#173E90"/><circle cx="11.2" cy="0.6" r="0.7" fill="#2A5EBC"/><circle cx="11.2" cy="17.6" r="0.7" fill="#2A5EBC"/><circle cx="9.3" cy="1.3" r="0.7" fill="#2A5EBC"/><circle cx="7.9" cy="13.4" r="0.6" fill="#A8D8F4"/><circle cx="11.7" cy="0.8" r="0.6" fill="#70ACE6"/><circle cx="5" cy="10.8" r="0.6" fill="#A8D8F4"/><circle cx="3.6" cy="7.9" r="0.7" fill="#96CCF2"/><circle cx="10.8" cy="14.3" r="0.8" fill="#A8D8F4"/><circle cx="6.4" cy="4.2" r="0.7" fill="#90C8F0"/><circle cx="1.3" cy="11.3" r="0.8" fill="#96CCF2"/><circle cx="0.7" cy="14.1" r="0.5" fill="#173E90"/><circle cx="8.5" cy="3.1" r="0.9" fill="#A8D8F4"/><circle cx="12.9" cy="5.9" r="0.7" fill="#90C8F0"/><circle cx="1.6" cy="15.7" r="0.5" fill="#2A5EBC"/><circle cx="1.6" cy="13.7" r="0.9" fill="#70ACE6"/><circle cx="6" cy="4.6" r="0.5" fill="#90C8F0"/><circle cx="0.8" cy="15.8" r="0.8" fill="#90C8F0"/><circle cx="8.6" cy="0.8" r="0.7" fill="#70ACE6"/><circle cx="15.7" cy="10.6" r="0.8" fill="#173E90"/><circle cx="8.7" cy="14.4" r="0.7" fill="#90C8F0"/><circle cx="0.1" cy="15.8" r="0.5" fill="#70ACE6"/><circle cx="17.1" cy="15.8" r="0.5" fill="#70ACE6"/><circle cx="10" cy="8.9" r="0.5" fill="#70ACE6"/><circle cx="16" cy="13.6" r="0.5" fill="#2A5EBC"/><circle cx="5.3" cy="14.6" r="0.6" fill="#96CCF2"/><circle cx="6.6" cy="13.6" r="0.8" fill="#90C8F0"/><circle cx="15.1" cy="3.5" r="0.7" fill="#A8D8F4"/><circle cx="0.9" cy="14.9" r="0.5" fill="#2A5EBC"/><circle cx="13.3" cy="8.9" r="0.9" fill="#2A5EBC"/><circle cx="11.1" cy="7.9" r="0.8" fill="#173E90"/><circle cx="13" cy="11.7" r="0.5" fill="#90C8F0"/><circle cx="14.3" cy="6" r="0.5" fill="#96CCF2"/><circle cx="15.1" cy="8.2" r="0.7" fill="#90C8F0"/><circle cx="1.1" cy="2.6" r="0.8" fill="#2A5EBC"/><circle cx="12.4" cy="0.5" r="0.9" fill="#90C8F0"/><circle cx="12.4" cy="17.5" r="0.9" fill="#90C8F0"/><circle cx="2" cy="10.8" r="0.9" fill="#A8D8F4"/><circle cx="11.3" cy="5.2" r="0.7" fill="#A8D8F4"/><circle cx="5.1" cy="1.6" r="0.9" fill="#70ACE6"/><circle cx="8.3" cy="11.1" r="0.6" fill="#90C8F0"/><circle cx="2.8" cy="8.2" r="0.8" fill="#2A5EBC"/><circle cx="12.1" cy="13.4" r="0.6" fill="#90C8F0"/><circle cx="15.4" cy="9.4" r="0.7" fill="#173E90"/><circle cx="10.6" cy="8.6" r="0.7" fill="#A8D8F4"/><circle cx="7.6" cy="13.2" r="0.6" fill="#70ACE6"/><circle cx="6" cy="7.1" r="0.6" fill="#96CCF2"/><circle cx="15.6" cy="15.3" r="0.7" fill="#A8D8F4"/><circle cx="14" cy="9.1" r="0.7" fill="#173E90"/><circle cx="7.4" cy="14" r="0.5" fill="#2A5EBC"/><circle cx="1.9" cy="11.8" r="0.5" fill="#96CCF2"/><circle cx="1.2" cy="14.8" r="0.8" fill="#2A5EBC"/><circle cx="6.8" cy="14.2" r="0.5" fill="#96CCF2"/><circle cx="16.2" cy="6.3" r="0.7" fill="#173E90"/><circle cx="5.1" cy="12.2" r="0.5" fill="#2A5EBC"/><circle cx="10.2" cy="15.1" r="0.5" fill="#173E90"/><circle cx="3.3" cy="11.6" r="0.8" fill="#173E90"/><circle cx="8.9" cy="3.7" r="0.9" fill="#173E90"/><circle cx="8.1" cy="8.5" r="0.8" fill="#2A5EBC"/><circle cx="1" cy="16.9" r="0.8" fill="#90C8F0"/><circle cx="1" cy="-0.1" r="0.8" fill="#90C8F0"/><circle cx="16.5" cy="3.2" r="0.5" fill="#70ACE6"/><circle cx="-0.5" cy="3.2" r="0.5" fill="#70ACE6"/><circle cx="15.4" cy="15.4" r="0.7" fill="#173E90"/><circle cx="0.5" cy="11.5" r="0.9" fill="#90C8F0"/><circle cx="17.5" cy="11.5" r="0.9" fill="#90C8F0"/><circle cx="2.5" cy="1.2" r="0.6" fill="#96CCF2"/><circle cx="1.8" cy="16" r="0.6" fill="#70ACE6"/><circle cx="1.3" cy="15.5" r="0.9" fill="#70ACE6"/><circle cx="7" cy="0.4" r="0.6" fill="#A8D8F4"/><circle cx="7" cy="17.4" r="0.6" fill="#A8D8F4"/><circle cx="12.7" cy="5.7" r="0.6" fill="#96CCF2"/><circle cx="12.3" cy="9.8" r="0.5" fill="#96CCF2"/><circle cx="12.1" cy="2.5" r="0.5" fill="#173E90"/><circle cx="0.4" cy="11.3" r="0.6" fill="#173E90"/><circle cx="17.4" cy="11.3" r="0.6" fill="#173E90"/><circle cx="3.3" cy="4.6" r="0.9" fill="#A8D8F4"/><circle cx="3.4" cy="1.4" r="0.8" fill="#90C8F0"/><circle cx="16.5" cy="16.3" r="0.6" fill="#96CCF2"/><circle cx="-0.5" cy="16.3" r="0.6" fill="#96CCF2"/><circle cx="8.2" cy="5.5" r="0.8" fill="#173E90"/><circle cx="7" cy="3" r="0.7" fill="#2A5EBC"/><circle cx="6.4" cy="0.5" r="0.9" fill="#96CCF2"/><circle cx="6.4" cy="17.5" r="0.9" fill="#96CCF2"/><circle cx="3.2" cy="3.7" r="0.8" fill="#70ACE6"/><circle cx="8.5" cy="9.8" r="0.5" fill="#173E90"/><circle cx="11.2" cy="12.8" r="0.9" fill="#90C8F0"/><circle cx="9.6" cy="6" r="0.7" fill="#173E90"/><circle cx="11.1" cy="1.9" r="0.9" fill="#173E90"/><circle cx="1.1" cy="0.6" r="0.9" fill="#96CCF2"/><circle cx="1.1" cy="17.6" r="0.9" fill="#96CCF2"/><circle cx="7.4" cy="2" r="0.5" fill="#70ACE6"/><circle cx="15.1" cy="16" r="0.7" fill="#A8D8F4"/><circle cx="9.4" cy="16" r="0.9" fill="#96CCF2"/><circle cx="15" cy="16.7" r="0.7" fill="#173E90"/><circle cx="15" cy="-0.3" r="0.7" fill="#173E90"/><circle cx="7.3" cy="13.6" r="0.5" fill="#2A5EBC"/><circle cx="11.1" cy="4.9" r="0.6" fill="#A8D8F4"/><circle cx="11.2" cy="5.6" r="0.5" fill="#173E90"/><circle cx="13" cy="5" r="0.7" fill="#2A5EBC"/><circle cx="8.9" cy="12.3" r="0.6" fill="#70ACE6"/><circle cx="1.4" cy="12.5" r="0.9" fill="#2A5EBC"/><circle cx="14" cy="6.7" r="0.7" fill="#A8D8F4"/><circle cx="10.2" cy="11.5" r="0.5" fill="#173E90"/><circle cx="8.7" cy="8" r="0.7" fill="#2A5EBC"/><circle cx="4.3" cy="14.4" r="0.7" fill="#A8D8F4"/><circle cx="2.6" cy="10.2" r="0.7" fill="#2A5EBC"/><circle cx="15.9" cy="14.4" r="0.9" fill="#96CCF2"/><circle cx="6.6" cy="2.7" r="0.8" fill="#96CCF2"/><circle cx="7" cy="13.7" r="0.8" fill="#90C8F0"/><circle cx="10.1" cy="6.6" r="0.5" fill="#70ACE6"/><circle cx="4.8" cy="14.7" r="0.9" fill="#96CCF2"/><circle cx="13.4" cy="8.3" r="0.9" fill="#96CCF2"/><circle cx="0.7" cy="16.7" r="0.6" fill="#70ACE6"/><circle cx="0.7" cy="-0.3" r="0.6" fill="#70ACE6"/><circle cx="0.4" cy="3.6" r="0.5" fill="#70ACE6"/><circle cx="17.4" cy="3.6" r="0.5" fill="#70ACE6"/><circle cx="3.2" cy="16.4" r="0.8" fill="#2A5EBC"/><circle cx="3.2" cy="-0.6" r="0.8" fill="#2A5EBC"/><circle cx="12.7" cy="12.2" r="0.5" fill="#90C8F0"/><circle cx="8.3" cy="12.8" r="0.8" fill="#90C8F0"/><circle cx="6.5" cy="10.7" r="0.6" fill="#96CCF2"/><circle cx="0.2" cy="13.1" r="0.6" fill="#90C8F0"/><circle cx="17.2" cy="13.1" r="0.6" fill="#90C8F0"/><circle cx="13.3" cy="1.4" r="0.8" fill="#2A5EBC"/><circle cx="12.8" cy="9" r="0.9" fill="#2A5EBC"/><circle cx="13.2" cy="6.4" r="0.9" fill="#70ACE6"/><circle cx="6.1" cy="3.1" r="0.9" fill="#90C8F0"/><circle cx="1.5" cy="9.7" r="0.9" fill="#A8D8F4"/><circle cx="12.8" cy="4.5" r="0.9" fill="#90C8F0"/><circle cx="3.2" cy="12.9" r="0.9" fill="#90C8F0"/><circle cx="9.8" cy="11.1" r="0.6" fill="#A8D8F4"/><circle cx="5.2" cy="6.2" r="0.6" fill="#2A5EBC"/><circle cx="10.8" cy="9.1" r="0.8" fill="#90C8F0"/><circle cx="12" cy="7.6" r="0.9" fill="#96CCF2"/><circle cx="11.9" cy="9.5" r="0.5" fill="#A8D8F4"/><circle cx="4.9" cy="7.9" r="0.9" fill="#173E90"/><circle cx="3.9" cy="5.1" r="0.5" fill="#96CCF2"/><circle cx="10.3" cy="12.3" r="0.5" fill="#70ACE6"/><circle cx="0.5" cy="7.4" r="0.6" fill="#2A5EBC"/><circle cx="17.5" cy="7.4" r="0.6" fill="#2A5EBC"/><circle cx="4.3" cy="15.7" r="0.7" fill="#96CCF2"/><circle cx="4.6" cy="6.2" r="0.5" fill="#A8D8F4"/><circle cx="10" cy="6.9" r="0.5" fill="#A8D8F4"/><circle cx="5.9" cy="9.7" r="0.7" fill="#173E90"/><circle cx="6" cy="9.5" r="0.8" fill="#A8D8F4"/><circle cx="6.2" cy="4" r="0.6" fill="#173E90"/><circle cx="3.7" cy="7.9" r="0.8" fill="#96CCF2"/><circle cx="6.3" cy="13.4" r="0.7" fill="#2A5EBC"/><circle cx="3.7" cy="9.9" r="0.7" fill="#A8D8F4"/><circle cx="14.5" cy="2.3" r="0.7" fill="#70ACE6"/></pattern></defs><text x="9.2" y="19.4" font-size="12.4" fill="#000">a</text><path d="M27.3,12.9 C42,12.8 56,13.5 68.2,14.3 C63,22 58,30 54.6,37 C52,40 50,42 48.4,44 C38,40.5 22,40.5 8.2,44.5 C10,34 16,22 27.3,12.9 Z" fill="#D8872C"/><path d="M8.2,44.5 C22,40.5 38,40.5 48.4,44 L48.4,46.8 C38,43.6 22,43.6 6.8,47.4 Z" fill="#C0691C"/><line x1="60.5" y1="31" x2="96" y2="31" stroke="#000" stroke-width="2"/><path d="M95,27.8 L100.6,31 L95,34.2 Z" fill="#000"/><text x="65" y="25.2" font-size="7.6" fill="#222" font-weight="bold" textLength="31" lengthAdjust="spacingAndGlyphs">immersed in</text><text x="55.6" y="42.8" font-size="7.4" font-weight="bold" fill="#222" textLength="40.5" lengthAdjust="spacingAndGlyphs">NH<tspan font-size="4.5" dy="1.6">3</tspan><tspan dy="-1.6">·H</tspan><tspan font-size="4.5" dy="1.6">2</tspan><tspan dy="-1.6">O solution</tspan></text><path d="M117.3,13.1 C130,13 146,13.6 158,14.5 C154,18 151,21 149.3,24 C146,28 144.5,30 143.5,32.7 C142,36 141,38.5 140.5,41.5 C133,40.3 128,40.5 123,40.7 C115,40.8 105,41 98.4,41.5 C100,37 102,33 104.2,29.8 C108,23 112,18 117.3,13.1 Z" fill="url(#pOrTex)"/><path d="M98.4,41.5 C105,41 115,40.8 123,40.7 C128,40.5 133,40.3 140.5,41.5 L139,47.3 C133,44.5 128,43.3 123,43 C115,42.8 105,43 96.9,44.4 Z" fill="#8A4A14"/><path d="M134.7,34.6 L142.7,36.2 L142,38 L134.5,36.6 Z" fill="#55C845"/><path d="M148.5,28.4 L171,28.4 L171,48 L148.5,48 L143,37.2 Z" fill="#fff" stroke="#b0b0b0" stroke-width="0.6"/><clipPath id="ci11"><rect x="149.3" y="29.2" width="20.9" height="18"/></clipPath><g clip-path="url(#ci11)"><rect x="148.5" y="28.4" width="22.5" height="19.6" fill="#F4A232"/><circle cx="158.7" cy="39.4" r="1.6" fill="#ffffff"/><circle cx="158.7" cy="45.2" r="0.9" fill="#ffffff"/><circle cx="162.7" cy="43.9" r="0.8" fill="#ffffff"/><circle cx="151.7" cy="39" r="1.6" fill="#ffffff"/><circle cx="161.9" cy="36.2" r="1.2" fill="#ffffff"/><circle cx="162.5" cy="44.7" r="0.8" fill="#ffffff"/><circle cx="152.8" cy="33.1" r="0.7" fill="#ffffff"/><circle cx="155.8" cy="40" r="0.9" fill="#ffffff"/><circle cx="162.9" cy="38.2" r="1.4" fill="#ffffff"/><circle cx="163.2" cy="36.4" r="1.3" fill="#ffffff"/><circle cx="164.4" cy="34.6" r="0.9" fill="#ffffff"/><circle cx="149.2" cy="39.4" r="0.8" fill="#ffffff"/><circle cx="167.5" cy="36" r="1.7" fill="#ffffff"/><circle cx="153.3" cy="46.6" r="0.8" fill="#ffffff"/><circle cx="170.6" cy="36.2" r="0.8" fill="#ffffff"/><circle cx="166" cy="33.7" r="0.8" fill="#ffffff"/><circle cx="148.8" cy="36.4" r="1.6" fill="#ffffff"/><circle cx="154" cy="30.4" r="0.8" fill="#ffffff"/><circle cx="152.5" cy="39.4" r="1.1" fill="#ffffff"/><circle cx="170.7" cy="43.5" r="1.1" fill="#ffffff"/><circle cx="151.1" cy="36.6" r="0.9" fill="#ffffff"/><circle cx="167.9" cy="47.5" r="1.3" fill="#ffffff"/><circle cx="153.2" cy="36.1" r="1.6" fill="#ffffff"/><circle cx="149.4" cy="31.3" r="1.1" fill="#ffffff"/><circle cx="165.9" cy="34.8" r="1" fill="#ffffff"/><circle cx="150.2" cy="32.5" r="1.3" fill="#ffffff"/><circle cx="162" cy="35.7" r="1.2" fill="#ffffff"/></g><line x1="172" y1="31" x2="206" y2="31" stroke="#000" stroke-width="2"/><path d="M205,27.8 L210.6,31 L205,34.2 Z" fill="#000"/><text x="172.5" y="24.4" font-size="7.6" fill="#222" font-weight="bold" textLength="37" lengthAdjust="spacingAndGlyphs">zinc deposition</text><path d="M228.7,10.8 C242,11 256,12 269.5,13 C266,16 264,19 262.2,22.5 C259.5,26 257.5,29 256.4,32.6 C254.5,36 253,39 252,42 C246,40.5 240,39 233,38.5 C226,38.5 218,39 210.5,40.6 C212.5,35 215,30 218.5,25.4 C222,20 225,15 228.7,10.8 Z" fill="url(#pBlTex)"/><path d="M210.5,40.6 C218,39 226,38.5 233,38.5 C240,39 246,40.5 252,42 L250.5,48.6 C245,45 240,42.5 233,41.4 C226,41 218,41.5 209.8,44.3 Z" fill="#173C7A"/><path d="M246.2,34.4 L253.8,36.2 L253.2,38 L246,36.4 Z" fill="#E070D0"/><path d="M257.8,28.3 L281,28.3 L281,48.6 L257.8,48.6 L253.5,37.4 Z" fill="#fff" stroke="#b0b0b0" stroke-width="0.6"/><clipPath id="ci12"><rect x="258.6" y="29.1" width="21.6" height="18.7"/></clipPath><g clip-path="url(#ci12)"><rect x="257.8" y="28.3" width="23.2" height="20.3" fill="#F4A232"/><circle cx="268.8" cy="41.6" r="1.4" fill="#3C7DD0"/><circle cx="266.7" cy="48.5" r="1.2" fill="#3C7DD0"/><circle cx="273.8" cy="40.5" r="1.3" fill="#3C7DD0"/><circle cx="280.5" cy="35.8" r="1" fill="#3C7DD0"/><circle cx="259.2" cy="44.9" r="0.8" fill="#3C7DD0"/><circle cx="273.6" cy="44.5" r="0.8" fill="#ffffff"/><circle cx="276.8" cy="41.7" r="0.9" fill="#3C7DD0"/><circle cx="279.8" cy="30.6" r="1.1" fill="#3C7DD0"/><circle cx="270.3" cy="46.2" r="1.3" fill="#ffffff"/><circle cx="270.7" cy="38.6" r="0.8" fill="#3C7DD0"/><circle cx="273.3" cy="37.8" r="1.3" fill="#ffffff"/><circle cx="272.7" cy="30" r="0.9" fill="#3C7DD0"/><circle cx="266.1" cy="35.7" r="1.4" fill="#3C7DD0"/><circle cx="260.4" cy="33.1" r="1.1" fill="#3C7DD0"/><circle cx="258.5" cy="45" r="1.1" fill="#ffffff"/><circle cx="263" cy="37" r="1.1" fill="#ffffff"/><circle cx="275.3" cy="32.8" r="0.8" fill="#3C7DD0"/><circle cx="258.7" cy="33.9" r="1" fill="#ffffff"/><circle cx="269.7" cy="35.8" r="1" fill="#3C7DD0"/><circle cx="268.8" cy="47.8" r="1.2" fill="#3C7DD0"/><circle cx="268.6" cy="39.4" r="0.9" fill="#3C7DD0"/><circle cx="279" cy="28.4" r="1" fill="#3C7DD0"/><circle cx="262" cy="44.4" r="1.2" fill="#3C7DD0"/><circle cx="272.2" cy="48.3" r="1.7" fill="#3C7DD0"/><circle cx="258.4" cy="34.8" r="1.5" fill="#3C7DD0"/><circle cx="272.6" cy="33" r="1.2" fill="#3C7DD0"/><circle cx="269.2" cy="35.5" r="1.4" fill="#3C7DD0"/><circle cx="278.5" cy="31.6" r="1" fill="#ffffff"/><circle cx="264.3" cy="47.5" r="1.2" fill="#3C7DD0"/><circle cx="274.1" cy="32.6" r="1" fill="#3C7DD0"/><circle cx="258.5" cy="28.4" r="0.7" fill="#3C7DD0"/><circle cx="267.6" cy="33.2" r="1.1" fill="#ffffff"/><circle cx="270.8" cy="41" r="1.6" fill="#3C7DD0"/><circle cx="275.4" cy="36.8" r="1.3" fill="#3C7DD0"/><circle cx="276.1" cy="40.1" r="1" fill="#3C7DD0"/><circle cx="272.6" cy="36.1" r="0.9" fill="#3C7DD0"/><circle cx="278.8" cy="44.5" r="1.6" fill="#3C7DD0"/><circle cx="270.2" cy="44.3" r="1.1" fill="#ffffff"/><circle cx="274.3" cy="32.1" r="1" fill="#3C7DD0"/><circle cx="272.2" cy="30.8" r="1.2" fill="#3C7DD0"/><circle cx="271.3" cy="29.8" r="1.1" fill="#ffffff"/><circle cx="273.7" cy="31.2" r="0.8" fill="#3C7DD0"/><circle cx="265" cy="31.9" r="1.4" fill="#3C7DD0"/><circle cx="266.3" cy="28.9" r="1.2" fill="#3C7DD0"/><circle cx="269.1" cy="29.5" r="1.3" fill="#3C7DD0"/><circle cx="263.3" cy="34.9" r="1.6" fill="#ffffff"/><circle cx="280.2" cy="35.7" r="1.5" fill="#3C7DD0"/><circle cx="264.7" cy="38.8" r="0.8" fill="#3C7DD0"/><circle cx="261.6" cy="37.7" r="1.3" fill="#3C7DD0"/><circle cx="268.5" cy="44.2" r="0.7" fill="#3C7DD0"/><circle cx="267.3" cy="42.5" r="1.5" fill="#3C7DD0"/><circle cx="273.2" cy="48" r="1.3" fill="#3C7DD0"/><circle cx="265.9" cy="43.2" r="1" fill="#3C7DD0"/><circle cx="278.6" cy="41.1" r="0.9" fill="#3C7DD0"/><circle cx="263" cy="39.3" r="1" fill="#ffffff"/><circle cx="267.8" cy="35.7" r="1.1" fill="#3C7DD0"/><circle cx="266.8" cy="46" r="1.6" fill="#3C7DD0"/><circle cx="261.2" cy="33.6" r="0.7" fill="#3C7DD0"/></g><rect x="272.2" y="9.2" width="3.3" height="3.3" fill="#F4A232"/><rect x="272.2" y="17.2" width="3.3" height="3.3" fill="#3C7DD0"/><text x="276.6" y="12.4" font-size="4.6" fill="#333">Cu</text><text x="276.6" y="20.4" font-size="4.6" fill="#333">Zn</text><text x="9.4" y="67" font-size="11.6" fill="#000">c</text><text x="24.8" y="69.4" font-size="4.8" fill="#333" text-anchor="end">0.08</text><line x1="27" y1="67.7" x2="28.5" y2="67.7" stroke="#444" stroke-width="0.5"/><text x="24.8" y="79.3" font-size="4.8" fill="#333" text-anchor="end">0.04</text><line x1="27" y1="77.6" x2="28.5" y2="77.6" stroke="#444" stroke-width="0.5"/><text x="24.8" y="89.1" font-size="4.8" fill="#333" text-anchor="end">0.00</text><line x1="27" y1="87.4" x2="28.5" y2="87.4" stroke="#444" stroke-width="0.5"/><text x="24.8" y="99" font-size="4.8" fill="#333" text-anchor="end">-0.04</text><line x1="27" y1="97.3" x2="28.5" y2="97.3" stroke="#444" stroke-width="0.5"/><text x="24.8" y="108.7" font-size="4.8" fill="#333" text-anchor="end">-0.08</text><line x1="27" y1="107" x2="28.5" y2="107" stroke="#444" stroke-width="0.5"/><text x="27" y="116.4" font-size="5" fill="#333" text-anchor="middle">0</text><line x1="27" y1="109.3" x2="27" y2="107.8" stroke="#444" stroke-width="0.5"/><text x="63.1" y="116.4" font-size="5" fill="#333" text-anchor="middle">50</text><line x1="63.1" y1="109.3" x2="63.1" y2="107.8" stroke="#444" stroke-width="0.5"/><text x="99.3" y="116.4" font-size="5" fill="#333" text-anchor="middle">100</text><line x1="99.3" y1="109.3" x2="99.3" y2="107.8" stroke="#444" stroke-width="0.5"/><text x="135.4" y="116.4" font-size="5" fill="#333" text-anchor="middle">150</text><line x1="135.4" y1="109.3" x2="135.4" y2="107.8" stroke="#444" stroke-width="0.5"/><text x="171.6" y="116.4" font-size="5" fill="#333" text-anchor="middle">200</text><line x1="171.6" y1="109.3" x2="171.6" y2="107.8" stroke="#444" stroke-width="0.5"/><text x="207.7" y="116.4" font-size="5" fill="#333" text-anchor="middle">250</text><line x1="207.7" y1="109.3" x2="207.7" y2="107.8" stroke="#444" stroke-width="0.5"/><text x="243.9" y="116.4" font-size="5" fill="#333" text-anchor="middle">300</text><line x1="243.9" y1="109.3" x2="243.9" y2="107.8" stroke="#444" stroke-width="0.5"/><text x="280" y="116.4" font-size="5" fill="#333" text-anchor="middle">350</text><line x1="280" y1="109.3" x2="280" y2="107.8" stroke="#444" stroke-width="0.5"/><text x="158" y="123.4" font-size="5.6" fill="#333" text-anchor="middle">Test time (h)</text><text transform="translate(13.2,87) rotate(-90)" font-size="5.2" text-anchor="middle" fill="#333">Voltage (V)</text><g stroke="#666" stroke-width="0.45"><line x1="27.6" y1="76.9" x2="27.6" y2="98.2"/><line x1="28.5" y1="76.4" x2="28.5" y2="97.7"/><line x1="29.4" y1="76" x2="29.4" y2="98.1"/><line x1="30.3" y1="76.6" x2="30.3" y2="97.5"/><line x1="31.1" y1="76.2" x2="31.1" y2="97.6"/><line x1="32" y1="76.6" x2="32" y2="97.9"/><line x1="32.7" y1="75.6" x2="32.7" y2="98.6"/><line x1="33.7" y1="76" x2="33.7" y2="97.8"/><line x1="34.5" y1="76.1" x2="34.5" y2="97.9"/><line x1="35.5" y1="76.2" x2="35.5" y2="98"/><line x1="36.4" y1="76.5" x2="36.4" y2="99"/><line x1="37.3" y1="75.9" x2="37.3" y2="98.4"/><line x1="38.1" y1="76.3" x2="38.1" y2="98.1"/><line x1="39.1" y1="76.2" x2="39.1" y2="99"/><line x1="39.8" y1="75.3" x2="39.8" y2="99.2"/><line x1="40.8" y1="75.5" x2="40.8" y2="98.9"/><line x1="41.7" y1="76.2" x2="41.7" y2="98.8"/><line x1="42.6" y1="76" x2="42.6" y2="99.4"/><line x1="43.6" y1="75.7" x2="43.6" y2="98.8"/><line x1="44.4" y1="75.7" x2="44.4" y2="99.6"/><line x1="45.2" y1="76.1" x2="45.2" y2="98.6"/><line x1="46.2" y1="74.9" x2="46.2" y2="99.1"/><line x1="47" y1="75.4" x2="47" y2="99.5"/><line x1="47.8" y1="75.3" x2="47.8" y2="99.3"/><line x1="48.7" y1="75.7" x2="48.7" y2="98.9"/><line x1="49.5" y1="74.8" x2="49.5" y2="99.2"/><line x1="50.3" y1="75.5" x2="50.3" y2="98.9"/><line x1="51.1" y1="74.9" x2="51.1" y2="99.8"/><line x1="51.9" y1="75" x2="51.9" y2="99.7"/><line x1="52.9" y1="74.6" x2="52.9" y2="99.5"/><line x1="53.8" y1="74.5" x2="53.8" y2="99.7"/><line x1="54.8" y1="75.1" x2="54.8" y2="99.5"/><line x1="55.6" y1="74.6" x2="55.6" y2="99.3"/><line x1="56.3" y1="74.6" x2="56.3" y2="100.1"/><line x1="57.2" y1="74.5" x2="57.2" y2="99.3"/><line x1="57.9" y1="75.1" x2="57.9" y2="99.8"/><line x1="58.7" y1="75.4" x2="58.7" y2="99.7"/><line x1="59.7" y1="74.2" x2="59.7" y2="100.3"/><line x1="60.5" y1="75" x2="60.5" y2="100.6"/><line x1="61.4" y1="74.4" x2="61.4" y2="99.5"/><line x1="62.1" y1="74.3" x2="62.1" y2="100.5"/><line x1="63.1" y1="74.5" x2="63.1" y2="100.1"/><line x1="64" y1="74.1" x2="64" y2="100"/><line x1="64.8" y1="74.8" x2="64.8" y2="100.7"/><line x1="65.5" y1="74.3" x2="65.5" y2="100.9"/><line x1="66.2" y1="74.3" x2="66.2" y2="100.6"/><line x1="67.2" y1="74.3" x2="67.2" y2="100.2"/><line x1="68" y1="73.8" x2="68" y2="101"/><line x1="68.7" y1="74.8" x2="68.7" y2="100.1"/><line x1="70.5" y1="74" x2="70.5" y2="96"/><line x1="72" y1="77" x2="72" y2="97"/><line x1="74" y1="79" x2="74" y2="94"/><line x1="76.5" y1="80" x2="76.5" y2="99"/><line x1="80" y1="84" x2="80" y2="97"/><line x1="83" y1="81" x2="83" y2="98"/><line x1="85" y1="79" x2="85" y2="101"/><line x1="87.5" y1="78" x2="87.5" y2="102"/><line x1="89.5" y1="82" x2="89.5" y2="100"/><line x1="91.5" y1="80" x2="91.5" y2="102"/><line x1="93.5" y1="81" x2="93.5" y2="103"/><line x1="95" y1="79" x2="95" y2="104"/><line x1="96.5" y1="82" x2="96.5" y2="104"/><line x1="98" y1="84" x2="98" y2="105"/><line x1="104.5" y1="72" x2="104.5" y2="92"/></g><path d="M27.5,77.5 L69,75.3" stroke="#333" stroke-width="0.7"/><path d="M27.5,96.5 L69,99" stroke="#333" stroke-width="0.6"/><path d="M27.5,83.2 L110,83.2 L279.5,80 L279.5,92.6 L27.5,92.6 Z" fill="#F49490" opacity="0.6"/><g stroke="#E43A34" stroke-width="0.55"><line x1="27.8" y1="84.1" x2="27.8" y2="91.8"/><line x1="28.4" y1="84.2" x2="28.4" y2="91.9"/><line x1="29" y1="83.6" x2="29" y2="92.2"/><line x1="29.9" y1="82.9" x2="29.9" y2="93.2"/><line x1="30.6" y1="83.5" x2="30.6" y2="93.2"/><line x1="31.4" y1="84.1" x2="31.4" y2="92.8"/><line x1="32" y1="84" x2="32" y2="92.6"/><line x1="32.7" y1="82.8" x2="32.7" y2="93"/><line x1="33.5" y1="84.1" x2="33.5" y2="92.9"/><line x1="34.4" y1="83.5" x2="34.4" y2="92.8"/><line x1="35.2" y1="82.9" x2="35.2" y2="93.2"/><line x1="35.9" y1="83.8" x2="35.9" y2="93.2"/><line x1="36.7" y1="82.7" x2="36.7" y2="93"/><line x1="37.5" y1="82.8" x2="37.5" y2="91.7"/><line x1="38.2" y1="82.6" x2="38.2" y2="93.2"/><line x1="39" y1="83.4" x2="39" y2="92.3"/><line x1="39.8" y1="84.1" x2="39.8" y2="92.1"/><line x1="40.5" y1="83.5" x2="40.5" y2="92.1"/><line x1="41.3" y1="83.4" x2="41.3" y2="92.3"/><line x1="42.1" y1="83.4" x2="42.1" y2="91.7"/><line x1="43" y1="83.1" x2="43" y2="92.3"/><line x1="43.7" y1="84.1" x2="43.7" y2="93.2"/><line x1="44.4" y1="83.2" x2="44.4" y2="91.8"/><line x1="45.3" y1="82.8" x2="45.3" y2="92.5"/><line x1="46" y1="83.1" x2="46" y2="92.2"/><line x1="46.7" y1="82.6" x2="46.7" y2="92.5"/><line x1="47.5" y1="83.6" x2="47.5" y2="91.9"/><line x1="48.3" y1="82.6" x2="48.3" y2="92.3"/><line x1="49.2" y1="84.1" x2="49.2" y2="92.4"/><line x1="50" y1="83.3" x2="50" y2="92.5"/><line x1="50.8" y1="84.2" x2="50.8" y2="92.9"/><line x1="51.5" y1="83.7" x2="51.5" y2="92.7"/><line x1="52.2" y1="83.8" x2="52.2" y2="93"/><line x1="53" y1="84.1" x2="53" y2="91.6"/><line x1="53.8" y1="83.6" x2="53.8" y2="92.2"/><line x1="54.4" y1="83.7" x2="54.4" y2="92.3"/><line x1="55.1" y1="82.6" x2="55.1" y2="93.2"/><line x1="55.8" y1="82.7" x2="55.8" y2="92"/><line x1="56.5" y1="84" x2="56.5" y2="91.9"/><line x1="57.2" y1="82.7" x2="57.2" y2="92.4"/><line x1="57.8" y1="83.1" x2="57.8" y2="92.8"/><line x1="58.7" y1="83.9" x2="58.7" y2="91.7"/><line x1="59.4" y1="83.9" x2="59.4" y2="91.7"/><line x1="60.1" y1="83.3" x2="60.1" y2="92.3"/><line x1="60.9" y1="83.7" x2="60.9" y2="92.4"/><line x1="61.6" y1="82.9" x2="61.6" y2="92.1"/><line x1="62.2" y1="83.6" x2="62.2" y2="91.9"/><line x1="63.1" y1="83.6" x2="63.1" y2="91.7"/><line x1="63.8" y1="83.5" x2="63.8" y2="91.7"/><line x1="64.6" y1="82.6" x2="64.6" y2="92.9"/><line x1="65.2" y1="83.6" x2="65.2" y2="93.3"/><line x1="66" y1="82.9" x2="66" y2="92.5"/><line x1="66.7" y1="83.1" x2="66.7" y2="93.1"/><line x1="67.5" y1="82.5" x2="67.5" y2="92.2"/><line x1="68.3" y1="82.8" x2="68.3" y2="93"/><line x1="69.2" y1="83.4" x2="69.2" y2="92.2"/><line x1="70" y1="83.4" x2="70" y2="91.9"/><line x1="70.7" y1="82.8" x2="70.7" y2="93"/><line x1="71.5" y1="83.7" x2="71.5" y2="93"/><line x1="72.3" y1="82.8" x2="72.3" y2="92.3"/><line x1="73.2" y1="83.8" x2="73.2" y2="92.3"/><line x1="74" y1="82.8" x2="74" y2="91.9"/><line x1="74.6" y1="83.1" x2="74.6" y2="92"/><line x1="75.4" y1="84.1" x2="75.4" y2="91.9"/><line x1="76.1" y1="84" x2="76.1" y2="92.6"/><line x1="76.9" y1="83.8" x2="76.9" y2="91.6"/><line x1="77.8" y1="83.7" x2="77.8" y2="93"/><line x1="78.6" y1="82.7" x2="78.6" y2="91.7"/><line x1="79.3" y1="83.4" x2="79.3" y2="93.2"/><line x1="80.2" y1="83.2" x2="80.2" y2="92.7"/><line x1="81" y1="83.1" x2="81" y2="93.2"/><line x1="81.9" y1="83.7" x2="81.9" y2="93.1"/><line x1="82.7" y1="83.6" x2="82.7" y2="92.1"/><line x1="83.4" y1="82.9" x2="83.4" y2="91.7"/><line x1="84.3" y1="83" x2="84.3" y2="91.6"/><line x1="85" y1="82.7" x2="85" y2="92.4"/><line x1="85.7" y1="82.8" x2="85.7" y2="92.4"/><line x1="86.4" y1="83.1" x2="86.4" y2="93"/><line x1="87.1" y1="83.4" x2="87.1" y2="93.1"/><line x1="88" y1="83.1" x2="88" y2="91.7"/><line x1="88.8" y1="83.4" x2="88.8" y2="92"/><line x1="89.5" y1="82.9" x2="89.5" y2="92.1"/><line x1="90.1" y1="82.6" x2="90.1" y2="93.3"/><line x1="91" y1="82.7" x2="91" y2="92.4"/><line x1="91.8" y1="83.4" x2="91.8" y2="91.7"/><line x1="92.5" y1="83.1" x2="92.5" y2="93.2"/><line x1="93.3" y1="83.3" x2="93.3" y2="92.7"/><line x1="93.9" y1="83.7" x2="93.9" y2="93"/><line x1="94.7" y1="83.1" x2="94.7" y2="92.1"/><line x1="95.3" y1="82.6" x2="95.3" y2="91.9"/><line x1="96" y1="83.8" x2="96" y2="92"/><line x1="96.8" y1="83.6" x2="96.8" y2="92.7"/><line x1="97.4" y1="84.1" x2="97.4" y2="92.6"/><line x1="98.1" y1="82.9" x2="98.1" y2="92.8"/><line x1="99" y1="83.1" x2="99" y2="92.3"/><line x1="99.7" y1="82.8" x2="99.7" y2="92.3"/><line x1="100.6" y1="83.4" x2="100.6" y2="93"/><line x1="101.3" y1="84" x2="101.3" y2="92.9"/><line x1="102" y1="83.4" x2="102" y2="92.8"/><line x1="102.7" y1="83.5" x2="102.7" y2="92"/><line x1="103.5" y1="83.1" x2="103.5" y2="93"/><line x1="104.2" y1="84.2" x2="104.2" y2="92.6"/><line x1="104.9" y1="83.2" x2="104.9" y2="91.8"/><line x1="105.7" y1="82.6" x2="105.7" y2="92.6"/><line x1="106.4" y1="83.8" x2="106.4" y2="91.8"/><line x1="107.2" y1="83.7" x2="107.2" y2="92"/><line x1="107.8" y1="83.1" x2="107.8" y2="92.7"/><line x1="108.5" y1="82.5" x2="108.5" y2="92.4"/><line x1="109.4" y1="82.8" x2="109.4" y2="93.2"/><line x1="110.1" y1="82.8" x2="110.1" y2="91.8"/><line x1="110.8" y1="83.3" x2="110.8" y2="91.9"/><line x1="111.4" y1="83.3" x2="111.4" y2="92"/><line x1="112.2" y1="83.2" x2="112.2" y2="92.8"/><line x1="112.9" y1="82.8" x2="112.9" y2="91.9"/><line x1="113.8" y1="82.5" x2="113.8" y2="91.8"/><line x1="114.4" y1="83.8" x2="114.4" y2="92.5"/><line x1="115.3" y1="83.5" x2="115.3" y2="92.2"/><line x1="116" y1="83.6" x2="116" y2="92"/><line x1="116.9" y1="83.1" x2="116.9" y2="91.7"/><line x1="117.6" y1="83.3" x2="117.6" y2="91.8"/><line x1="118.4" y1="83.9" x2="118.4" y2="92.5"/><line x1="119.3" y1="83.5" x2="119.3" y2="92.5"/><line x1="120" y1="83.9" x2="120" y2="93.2"/><line x1="120.7" y1="82.9" x2="120.7" y2="91.7"/><line x1="121.5" y1="83.7" x2="121.5" y2="92.3"/><line x1="122.2" y1="83.3" x2="122.2" y2="92.9"/><line x1="122.8" y1="82.7" x2="122.8" y2="92.7"/><line x1="123.4" y1="83.6" x2="123.4" y2="92.1"/><line x1="124.3" y1="83" x2="124.3" y2="91.9"/><line x1="124.9" y1="82.4" x2="124.9" y2="92"/><line x1="125.7" y1="83.5" x2="125.7" y2="92.7"/><line x1="126.4" y1="83.3" x2="126.4" y2="92.8"/><line x1="127.1" y1="82.3" x2="127.1" y2="92.4"/><line x1="127.8" y1="82.5" x2="127.8" y2="92.3"/><line x1="128.4" y1="83.7" x2="128.4" y2="92.1"/><line x1="129.3" y1="83.4" x2="129.3" y2="91.6"/><line x1="130.2" y1="83.5" x2="130.2" y2="92.5"/><line x1="131" y1="82.9" x2="131" y2="91.6"/><line x1="131.7" y1="82.6" x2="131.7" y2="93.1"/><line x1="132.5" y1="82.3" x2="132.5" y2="92.2"/><line x1="133.1" y1="82.4" x2="133.1" y2="92.2"/><line x1="133.9" y1="82.3" x2="133.9" y2="92.7"/><line x1="134.5" y1="83.5" x2="134.5" y2="92.4"/><line x1="135.3" y1="83.3" x2="135.3" y2="92.2"/><line x1="135.9" y1="82.2" x2="135.9" y2="92.1"/><line x1="136.6" y1="83.2" x2="136.6" y2="92.2"/><line x1="137.4" y1="82.4" x2="137.4" y2="91.7"/><line x1="138.1" y1="82.6" x2="138.1" y2="93.1"/><line x1="138.8" y1="82.3" x2="138.8" y2="91.9"/><line x1="139.5" y1="83.6" x2="139.5" y2="93.2"/><line x1="140.1" y1="82" x2="140.1" y2="92.4"/><line x1="140.9" y1="82.1" x2="140.9" y2="92.3"/><line x1="141.7" y1="81.9" x2="141.7" y2="92.8"/><line x1="142.5" y1="83.2" x2="142.5" y2="92.4"/><line x1="143.3" y1="82.7" x2="143.3" y2="91.8"/><line x1="144" y1="82.2" x2="144" y2="92.1"/><line x1="144.6" y1="82.1" x2="144.6" y2="91.7"/><line x1="145.4" y1="82.2" x2="145.4" y2="92.5"/><line x1="146.2" y1="82.2" x2="146.2" y2="91.8"/><line x1="146.9" y1="82.9" x2="146.9" y2="92.8"/><line x1="147.7" y1="82.8" x2="147.7" y2="91.6"/><line x1="148.4" y1="83.1" x2="148.4" y2="92.2"/><line x1="149" y1="82.5" x2="149" y2="93"/><line x1="149.6" y1="81.9" x2="149.6" y2="92.4"/><line x1="150.5" y1="82.4" x2="150.5" y2="92"/><line x1="151.3" y1="81.9" x2="151.3" y2="92.1"/><line x1="152.1" y1="83.1" x2="152.1" y2="93.1"/><line x1="152.8" y1="82.1" x2="152.8" y2="92.2"/><line x1="153.4" y1="82.1" x2="153.4" y2="92.9"/><line x1="154.3" y1="82.1" x2="154.3" y2="91.7"/><line x1="155.2" y1="83.3" x2="155.2" y2="93"/><line x1="155.9" y1="82.9" x2="155.9" y2="92.9"/><line x1="156.7" y1="82.4" x2="156.7" y2="93.3"/><line x1="157.5" y1="82" x2="157.5" y2="92.3"/><line x1="158.2" y1="82.2" x2="158.2" y2="93"/><line x1="158.9" y1="82.4" x2="158.9" y2="92.9"/><line x1="159.5" y1="82.1" x2="159.5" y2="92.4"/><line x1="160.3" y1="82.7" x2="160.3" y2="93.2"/><line x1="161.1" y1="82.4" x2="161.1" y2="92.8"/><line x1="161.9" y1="83.2" x2="161.9" y2="92.6"/><line x1="162.7" y1="82.2" x2="162.7" y2="92.3"/><line x1="163.5" y1="82.1" x2="163.5" y2="93.1"/><line x1="164.3" y1="83.1" x2="164.3" y2="92.8"/><line x1="165.1" y1="82.1" x2="165.1" y2="91.6"/><line x1="165.9" y1="82.7" x2="165.9" y2="92.8"/><line x1="166.7" y1="81.5" x2="166.7" y2="92.8"/><line x1="167.4" y1="82" x2="167.4" y2="93.1"/><line x1="168.1" y1="82.2" x2="168.1" y2="91.7"/><line x1="168.8" y1="81.7" x2="168.8" y2="92"/><line x1="169.5" y1="81.4" x2="169.5" y2="91.8"/><line x1="170.2" y1="82.6" x2="170.2" y2="93.2"/><line x1="171" y1="82.2" x2="171" y2="91.8"/><line x1="171.8" y1="81.5" x2="171.8" y2="91.7"/><line x1="172.6" y1="82.8" x2="172.6" y2="92.1"/><line x1="173.4" y1="81.8" x2="173.4" y2="93.2"/><line x1="174.3" y1="82.7" x2="174.3" y2="93.3"/><line x1="175.1" y1="81.6" x2="175.1" y2="92.5"/><line x1="175.9" y1="82.4" x2="175.9" y2="92"/><line x1="176.6" y1="81.7" x2="176.6" y2="91.9"/><line x1="177.4" y1="82.6" x2="177.4" y2="92.5"/><line x1="178.1" y1="81.6" x2="178.1" y2="92.2"/><line x1="178.8" y1="81.6" x2="178.8" y2="92.1"/><line x1="179.5" y1="81.7" x2="179.5" y2="92.7"/><line x1="180.2" y1="82.2" x2="180.2" y2="93.2"/><line x1="181" y1="81.3" x2="181" y2="92.3"/><line x1="181.8" y1="82.4" x2="181.8" y2="92.5"/><line x1="182.4" y1="81.9" x2="182.4" y2="92.7"/><line x1="183.3" y1="81.8" x2="183.3" y2="92"/><line x1="183.9" y1="81.9" x2="183.9" y2="92.9"/><line x1="184.5" y1="81.9" x2="184.5" y2="92.6"/><line x1="185.3" y1="81.4" x2="185.3" y2="91.8"/><line x1="185.9" y1="81.5" x2="185.9" y2="93.1"/><line x1="186.6" y1="82.7" x2="186.6" y2="93"/><line x1="187.4" y1="81.7" x2="187.4" y2="92.6"/><line x1="188.2" y1="81.5" x2="188.2" y2="91.9"/><line x1="189.1" y1="82" x2="189.1" y2="92.2"/><line x1="189.8" y1="81.1" x2="189.8" y2="92.6"/><line x1="190.7" y1="81.8" x2="190.7" y2="92.8"/><line x1="191.5" y1="81.5" x2="191.5" y2="92.7"/><line x1="192.4" y1="82.1" x2="192.4" y2="91.9"/><line x1="193.2" y1="82" x2="193.2" y2="92.9"/><line x1="194" y1="82.4" x2="194" y2="93.3"/><line x1="194.7" y1="81.7" x2="194.7" y2="91.7"/><line x1="195.5" y1="81" x2="195.5" y2="92.3"/><line x1="196.3" y1="81.6" x2="196.3" y2="91.9"/><line x1="197.1" y1="81.2" x2="197.1" y2="92.4"/><line x1="197.9" y1="81.3" x2="197.9" y2="92.4"/><line x1="198.7" y1="81.7" x2="198.7" y2="93"/><line x1="199.6" y1="82.4" x2="199.6" y2="91.9"/><line x1="200.3" y1="80.9" x2="200.3" y2="92.8"/><line x1="201" y1="82.2" x2="201" y2="92.4"/><line x1="201.9" y1="80.8" x2="201.9" y2="92.6"/><line x1="202.6" y1="82.1" x2="202.6" y2="91.8"/><line x1="203.2" y1="81.9" x2="203.2" y2="92.2"/><line x1="203.9" y1="81.4" x2="203.9" y2="93.3"/><line x1="204.7" y1="82.1" x2="204.7" y2="93"/><line x1="205.6" y1="81.4" x2="205.6" y2="92.1"/><line x1="206.3" y1="82.2" x2="206.3" y2="93.1"/><line x1="207.1" y1="82.2" x2="207.1" y2="92.9"/><line x1="207.7" y1="81.7" x2="207.7" y2="92.9"/><line x1="208.3" y1="81.2" x2="208.3" y2="92.7"/><line x1="209.1" y1="81.5" x2="209.1" y2="91.8"/><line x1="209.7" y1="82" x2="209.7" y2="92.2"/><line x1="210.5" y1="81.6" x2="210.5" y2="92.1"/><line x1="211.2" y1="81.4" x2="211.2" y2="93.1"/><line x1="212.1" y1="80.8" x2="212.1" y2="92.5"/><line x1="212.9" y1="82" x2="212.9" y2="92.5"/><line x1="213.7" y1="81.6" x2="213.7" y2="92.7"/><line x1="214.5" y1="82.1" x2="214.5" y2="93.3"/><line x1="215.2" y1="81.7" x2="215.2" y2="92.3"/><line x1="215.9" y1="80.6" x2="215.9" y2="93.1"/><line x1="216.7" y1="81.3" x2="216.7" y2="92.4"/><line x1="217.4" y1="82" x2="217.4" y2="92.9"/><line x1="218" y1="81.4" x2="218" y2="93.3"/><line x1="218.7" y1="81" x2="218.7" y2="92.2"/><line x1="219.4" y1="80.6" x2="219.4" y2="92.7"/><line x1="220.1" y1="81.5" x2="220.1" y2="92.4"/><line x1="221" y1="81.6" x2="221" y2="93.1"/><line x1="221.6" y1="81.7" x2="221.6" y2="92.9"/><line x1="222.3" y1="80.3" x2="222.3" y2="91.8"/><line x1="223.1" y1="81.9" x2="223.1" y2="91.7"/><line x1="223.8" y1="81" x2="223.8" y2="91.7"/><line x1="224.6" y1="81.7" x2="224.6" y2="93"/><line x1="225.2" y1="81.8" x2="225.2" y2="92.9"/><line x1="225.9" y1="81.7" x2="225.9" y2="93.2"/><line x1="226.8" y1="81.5" x2="226.8" y2="93"/><line x1="227.5" y1="80.2" x2="227.5" y2="92.8"/><line x1="228.3" y1="80.5" x2="228.3" y2="91.8"/><line x1="229.1" y1="81.7" x2="229.1" y2="91.7"/><line x1="229.7" y1="81.4" x2="229.7" y2="92.1"/><line x1="230.6" y1="80.9" x2="230.6" y2="92.8"/><line x1="231.2" y1="81.5" x2="231.2" y2="91.9"/><line x1="231.9" y1="81" x2="231.9" y2="92.2"/><line x1="232.6" y1="80.9" x2="232.6" y2="91.7"/><line x1="233.3" y1="80.3" x2="233.3" y2="93.1"/><line x1="234" y1="81.8" x2="234" y2="93.1"/><line x1="234.6" y1="81.5" x2="234.6" y2="93.3"/><line x1="235.3" y1="80.9" x2="235.3" y2="92.7"/><line x1="236.1" y1="80.5" x2="236.1" y2="92.8"/><line x1="236.7" y1="80.7" x2="236.7" y2="91.6"/><line x1="237.4" y1="81.4" x2="237.4" y2="91.8"/><line x1="238.1" y1="80.7" x2="238.1" y2="92.1"/><line x1="238.7" y1="80.1" x2="238.7" y2="91.9"/><line x1="239.5" y1="81.3" x2="239.5" y2="93"/><line x1="240.3" y1="81.7" x2="240.3" y2="92"/><line x1="241.2" y1="80.7" x2="241.2" y2="93.2"/><line x1="241.9" y1="81.2" x2="241.9" y2="92.9"/><line x1="242.8" y1="81.2" x2="242.8" y2="92.2"/><line x1="243.6" y1="81.3" x2="243.6" y2="93.2"/><line x1="244.3" y1="81.1" x2="244.3" y2="92.8"/><line x1="244.9" y1="80.1" x2="244.9" y2="92.6"/><line x1="245.7" y1="80.4" x2="245.7" y2="92.7"/><line x1="246.3" y1="80.8" x2="246.3" y2="92.5"/><line x1="247.2" y1="81.1" x2="247.2" y2="91.7"/><line x1="247.9" y1="80" x2="247.9" y2="92.5"/><line x1="248.7" y1="81" x2="248.7" y2="91.6"/><line x1="249.5" y1="80.1" x2="249.5" y2="92.5"/><line x1="250.3" y1="80.6" x2="250.3" y2="92.9"/><line x1="250.9" y1="80.6" x2="250.9" y2="92"/><line x1="251.6" y1="80.8" x2="251.6" y2="91.9"/><line x1="252.4" y1="80.4" x2="252.4" y2="91.8"/><line x1="253.3" y1="79.8" x2="253.3" y2="92.1"/><line x1="254.1" y1="79.7" x2="254.1" y2="92.8"/><line x1="254.8" y1="81.3" x2="254.8" y2="92.1"/><line x1="255.7" y1="81.3" x2="255.7" y2="92.4"/><line x1="256.3" y1="80.2" x2="256.3" y2="93"/><line x1="256.9" y1="80.7" x2="256.9" y2="92.5"/><line x1="257.7" y1="80.3" x2="257.7" y2="93.2"/><line x1="258.4" y1="80.3" x2="258.4" y2="92.1"/><line x1="259.1" y1="80" x2="259.1" y2="92.3"/><line x1="259.9" y1="81.2" x2="259.9" y2="91.6"/><line x1="260.6" y1="79.8" x2="260.6" y2="92.8"/><line x1="261.4" y1="79.6" x2="261.4" y2="92.9"/><line x1="262.3" y1="80.3" x2="262.3" y2="92.6"/><line x1="263.1" y1="81.1" x2="263.1" y2="92"/><line x1="263.9" y1="79.6" x2="263.9" y2="92.2"/><line x1="264.8" y1="80.6" x2="264.8" y2="92.5"/><line x1="265.5" y1="80.3" x2="265.5" y2="91.7"/><line x1="266.3" y1="81.1" x2="266.3" y2="91.8"/><line x1="266.9" y1="80.5" x2="266.9" y2="93"/><line x1="267.6" y1="79.6" x2="267.6" y2="92.7"/><line x1="268.4" y1="79.8" x2="268.4" y2="93"/><line x1="269.2" y1="80.7" x2="269.2" y2="92"/><line x1="269.9" y1="80.5" x2="269.9" y2="92.7"/><line x1="270.7" y1="81" x2="270.7" y2="92.8"/><line x1="271.3" y1="80.2" x2="271.3" y2="92.7"/><line x1="272.2" y1="79.9" x2="272.2" y2="91.7"/><line x1="273" y1="79.7" x2="273" y2="92.5"/><line x1="273.6" y1="80.8" x2="273.6" y2="91.7"/><line x1="274.4" y1="80.8" x2="274.4" y2="92.7"/><line x1="275" y1="80.2" x2="275" y2="93"/><line x1="275.8" y1="80.8" x2="275.8" y2="93"/><line x1="276.5" y1="79.5" x2="276.5" y2="92.8"/><line x1="277.3" y1="80.6" x2="277.3" y2="92.4"/><line x1="278.1" y1="79.5" x2="278.1" y2="92.9"/><line x1="279" y1="80.6" x2="279" y2="92.9"/></g><g fill="#B82020" opacity="0.4"><rect x="28" y="85.9" width="3.8" height="5.8"/><rect x="34" y="85.1" width="3.2" height="5.1"/><rect x="39.5" y="85.2" width="2.4" height="4.4"/><rect x="44.8" y="84.6" width="2" height="5.4"/><rect x="49.6" y="85.6" width="3" height="4.7"/><rect x="54.8" y="85.4" width="3.6" height="5.3"/><rect x="61.6" y="85" width="3.9" height="5.5"/><rect x="68.3" y="85.5" width="3.1" height="4.6"/><rect x="73.6" y="85.6" width="2.9" height="5.2"/><rect x="79.4" y="84.8" width="3.3" height="4.4"/><rect x="85.4" y="84.8" width="3.6" height="4.2"/><rect x="91.2" y="84.9" width="2.1" height="5.1"/><rect x="96.9" y="85.1" width="2.7" height="4.6"/><rect x="102.2" y="85.3" width="3.6" height="4.5"/></g><rect x="27" y="66" width="253" height="43.3" fill="none" stroke="#555" stroke-width="0.7"/><line x1="27" y1="66" x2="280" y2="66" stroke="#888" stroke-width="1.4"/><line x1="175" y1="71.3" x2="183.5" y2="71.3" stroke="#222" stroke-width="0.7"/><text x="185" y="73" font-size="5" fill="#333" textLength="37" lengthAdjust="spacingAndGlyphs">Planar Zn foil anode</text><line x1="229" y1="71.3" x2="238" y2="71.3" stroke="#E8403A" stroke-width="0.7"/><text x="240.5" y="73" font-size="5" fill="#333" textLength="25.5" lengthAdjust="spacingAndGlyphs">3D Zn anode</text><text x="284.6" y="13.7" font-size="12" fill="#000">b</text><rect x="291.8" y="6.1" width="249" height="120.6" fill="none" stroke="#27B06A" stroke-width="1.5" stroke-dasharray="4.5 3.5"/><circle cx="299.9" cy="10.1" r="1.6" fill="#4C90E4"/><circle cx="299.9" cy="15.8" r="1.2" fill="#4C90E4"/><rect x="298.9" y="20.4" width="2" height="2" fill="#F2A535"/><text x="303.3" y="11.7" font-size="4" fill="#444">Zn-ion</text><text x="303.3" y="17.3" font-size="4" fill="#444">Zn-metal</text><text x="303.3" y="22.7" font-size="4" fill="#444" textLength="23" lengthAdjust="spacingAndGlyphs">3D Cu skeleton</text><g transform="translate(311.5,31.4)"><path d="M0,0 C14,-0.2 28,0 40.8,0.6 C37,3.5 35,5 34.4,6.3 C32.5,8.5 31.5,10.5 30.5,12.6 C29.5,15 28.3,17 27.4,19.1 C20,18.3 10,18 0,18.5 C-4,18.8 -9,19.8 -12.7,21 C-11,17 -10,14 -8.9,11.4 C-6,7 -3,3.5 0,0 Z" fill="url(#pBlTex)"/><path d="M-12.7,21 C-9,19.8 -4,18.8 0,18.5 C10,18 20,18.3 27.4,19.1 L27.4,21 C20,20.2 10,20 0,20.4 C-4,20.7 -9,21.7 -13,23 Z" fill="#173C7A"/></g><path d="M338,44.5 L344,47 L343.5,48.6 L337.6,46.2 Z" fill="#E070D0"/><path d="M345.3,42.2 L362.5,42.2 L362.5,55 L345.3,55 L343,48.6 Z" fill="#fff" stroke="#aaa" stroke-width="0.5"/><rect x="347.8" y="47.5" width="1.7" height="1.7" fill="#3C7DD0"/><rect x="356" y="47.6" width="1.7" height="1.7" fill="#F4A232"/><rect x="356.3" y="46.7" width="1.7" height="1.7" fill="#3C7DD0"/><rect x="357.9" y="49.6" width="1.7" height="1.7" fill="#5A94DC"/><rect x="351.7" y="46" width="1.7" height="1.7" fill="#3C7DD0"/><rect x="353.7" y="49.3" width="1.7" height="1.7" fill="#3C7DD0"/><rect x="357.8" y="52.5" width="1.7" height="1.7" fill="#3C7DD0"/><rect x="352.7" y="48.3" width="1.7" height="1.7" fill="#F4A232"/><rect x="359.7" y="46.8" width="1.7" height="1.7" fill="#3C7DD0"/><rect x="352.6" y="49" width="1.7" height="1.7" fill="#F4A232"/><rect x="354.1" y="47.6" width="1.7" height="1.7" fill="#5A94DC"/><rect x="350.9" y="52.3" width="1.7" height="1.7" fill="#3C7DD0"/><rect x="353.9" y="51.5" width="1.7" height="1.7" fill="#3C7DD0"/><rect x="354.3" y="49.9" width="1.7" height="1.7" fill="#F4A232"/><rect x="354.5" y="47.6" width="1.7" height="1.7" fill="#3C7DD0"/><rect x="347.8" y="50.5" width="1.7" height="1.7" fill="#3C7DD0"/><rect x="352.4" y="46.5" width="1.7" height="1.7" fill="#5A94DC"/><rect x="346.9" y="47.3" width="1.7" height="1.7" fill="#3C7DD0"/><rect x="356.1" y="46.7" width="1.7" height="1.7" fill="#F4A232"/><rect x="348.5" y="47.8" width="1.7" height="1.7" fill="#3C7DD0"/><rect x="348.7" y="46.4" width="1.7" height="1.7" fill="#F4A232"/><rect x="353.3" y="49.4" width="1.7" height="1.7" fill="#3C7DD0"/><rect x="359.4" y="49.4" width="1.7" height="1.7" fill="#3C7DD0"/><rect x="355" y="49.6" width="1.7" height="1.7" fill="#3C7DD0"/><rect x="349.8" y="48.6" width="1.7" height="1.7" fill="#3C7DD0"/><rect x="349.4" y="51.8" width="1.7" height="1.7" fill="#3C7DD0"/><rect x="354.8" y="51.6" width="1.7" height="1.7" fill="#3C7DD0"/><rect x="348.6" y="47.7" width="1.7" height="1.7" fill="#F4A232"/><rect x="353.4" y="46.8" width="1.7" height="1.7" fill="#F4A232"/><rect x="354.6" y="52.6" width="1.7" height="1.7" fill="#3C7DD0"/><rect x="357.1" y="48.9" width="1.7" height="1.7" fill="#3C7DD0"/><rect x="352.8" y="46.6" width="1.7" height="1.7" fill="#3C7DD0"/><rect x="352.5" y="52.4" width="1.7" height="1.7" fill="#3C7DD0"/><rect x="347.9" y="50.9" width="1.7" height="1.7" fill="#3C7DD0"/><rect x="348.5" y="50.7" width="1.7" height="1.7" fill="#3C7DD0"/><rect x="353.2" y="52.2" width="1.7" height="1.7" fill="#5A94DC"/><rect x="348" y="51.2" width="1.7" height="1.7" fill="#3C7DD0"/><rect x="358.5" y="46.4" width="1.7" height="1.7" fill="#3C7DD0"/><rect x="355.7" y="51.2" width="1.7" height="1.7" fill="#5A94DC"/><rect x="349.7" y="48.7" width="1.7" height="1.7" fill="#3C7DD0"/><rect x="359.4" y="52.7" width="1.7" height="1.7" fill="#3C7DD0"/><rect x="355" y="46.4" width="1.7" height="1.7" fill="#F4A232"/><rect x="346.9" y="51.6" width="1.7" height="1.7" fill="#3C7DD0"/><rect x="347" y="46.5" width="1.7" height="1.7" fill="#3C7DD0"/><rect x="347.9" y="52" width="1.7" height="1.7" fill="#3C7DD0"/><rect x="359.6" y="51.9" width="1.7" height="1.7" fill="#F4A232"/><rect x="350.8" y="47.3" width="1.7" height="1.7" fill="#3C7DD0"/><rect x="353.4" y="46.5" width="1.7" height="1.7" fill="#3C7DD0"/><rect x="359.4" y="46.2" width="1.7" height="1.7" fill="#F4A232"/><rect x="350.1" y="48.2" width="1.7" height="1.7" fill="#3C7DD0"/><rect x="349.2" y="52.7" width="1.7" height="1.7" fill="#3C7DD0"/><rect x="347" y="49.8" width="1.7" height="1.7" fill="#F4A232"/><rect x="356.7" y="47.2" width="1.7" height="1.7" fill="#F4A232"/><rect x="355.8" y="50.4" width="1.7" height="1.7" fill="#3C7DD0"/><rect x="351.8" y="49.2" width="1.7" height="1.7" fill="#3C7DD0"/><rect x="352.7" y="50.8" width="1.7" height="1.7" fill="#3C7DD0"/><rect x="350.8" y="50.5" width="1.7" height="1.7" fill="#3C7DD0"/><rect x="357.9" y="46.3" width="1.7" height="1.7" fill="#5A94DC"/><rect x="359.5" y="51.5" width="1.7" height="1.7" fill="#3C7DD0"/><rect x="355.4" y="51.7" width="1.7" height="1.7" fill="#3C7DD0"/><rect x="353.1" y="49.7" width="1.7" height="1.7" fill="#F4A232"/><rect x="347.2" y="48.5" width="1.7" height="1.7" fill="#5A94DC"/><rect x="348.6" y="52.6" width="1.7" height="1.7" fill="#3C7DD0"/><rect x="350.7" y="52.8" width="1.7" height="1.7" fill="#3C7DD0"/><rect x="346.8" y="49.1" width="1.7" height="1.7" fill="#3C7DD0"/><rect x="347.4" y="47.6" width="1.7" height="1.7" fill="#3C7DD0"/><rect x="347.9" y="52.5" width="1.7" height="1.7" fill="#F4A232"/><rect x="350.5" y="46.9" width="1.7" height="1.7" fill="#5A94DC"/><rect x="353.7" y="49.4" width="1.7" height="1.7" fill="#5A94DC"/><rect x="354.3" y="49.8" width="1.7" height="1.7" fill="#5A94DC"/><rect x="359.1" y="47.8" width="1.7" height="1.7" fill="#3C7DD0"/><rect x="358.8" y="48.4" width="1.7" height="1.7" fill="#F4A232"/><rect x="358.6" y="48.6" width="1.7" height="1.7" fill="#3C7DD0"/><rect x="357.2" y="51" width="1.7" height="1.7" fill="#F4A232"/><rect x="355.6" y="49.9" width="1.7" height="1.7" fill="#F4A232"/><rect x="358" y="49.9" width="1.7" height="1.7" fill="#3C7DD0"/><rect x="347.8" y="50.2" width="1.7" height="1.7" fill="#5A94DC"/><rect x="350.5" y="50.6" width="1.7" height="1.7" fill="#F4A232"/><rect x="355.8" y="51.9" width="1.7" height="1.7" fill="#F4A232"/><rect x="347.8" y="50.2" width="1.7" height="1.7" fill="#3C7DD0"/><rect x="359.7" y="47.4" width="1.7" height="1.7" fill="#3C7DD0"/><rect x="348.4" y="51" width="1.7" height="1.7" fill="#F4A232"/><rect x="357.7" y="49.6" width="1.7" height="1.7" fill="#3C7DD0"/><rect x="352.1" y="51.2" width="1.7" height="1.7" fill="#F4A232"/><rect x="356.3" y="51.7" width="1.7" height="1.7" fill="#3C7DD0"/><rect x="349.1" y="48.8" width="1.7" height="1.7" fill="#5A94DC"/><rect x="359.9" y="47.3" width="1.7" height="1.7" fill="#3C7DD0"/><rect x="352.6" y="49.8" width="1.7" height="1.7" fill="#F4A232"/><rect x="348.4" y="51.7" width="1.7" height="1.7" fill="#3C7DD0"/><rect x="351.2" y="49.6" width="1.7" height="1.7" fill="#3C7DD0"/><rect x="351.4" y="47" width="1.7" height="1.7" fill="#5A94DC"/><rect x="355.7" y="48.5" width="1.7" height="1.7" fill="#5A94DC"/><rect x="356.2" y="47.5" width="1.7" height="1.7" fill="#5A94DC"/><rect x="349.7" y="51.2" width="1.7" height="1.7" fill="#F4A232"/><rect x="354.2" y="48" width="1.7" height="1.7" fill="#3C7DD0"/><rect x="351.3" y="47.7" width="1.7" height="1.7" fill="#F4A232"/><text x="327.5" y="60.6" font-size="5.2" fill="#222" text-anchor="middle" textLength="28" lengthAdjust="spacingAndGlyphs">3D Zn Anode</text><line x1="363" y1="42.8" x2="385.5" y2="42.8" stroke="#666" stroke-width="0.5"/><path d="M387,42.8 L384.5,41.6 L384.5,44 Z" fill="#666"/><g transform="translate(402,33.5)"><path d="M0,0 C14,-0.2 28,0 40.8,0.6 C37,3.5 35,5 34.4,6.3 C32.5,8.5 31.5,10.5 30.5,12.6 C29.5,15 28.3,17 27.4,19.1 C20,18.3 10,18 0,18.5 C-4,18.8 -9,19.8 -12.7,21 C-11,17 -10,14 -8.9,11.4 C-6,7 -3,3.5 0,0 Z" fill="url(#pOrTex2)"/><path d="M-12.7,21 C-9,19.8 -4,18.8 0,18.5 C10,18 20,18.3 27.4,19.1 L27.4,21 C20,20.2 10,20 0,20.4 C-4,20.7 -9,21.7 -13,23 Z" fill="#8A4A14"/></g><path d="M428,46 L434,48 L433.6,49.6 L427.6,47.6 Z" fill="#55C845"/><path d="M434,42.5 L450.5,42.5 L450.5,54.5 L434,54.5 L432,48.5 Z" fill="#fff" stroke="#aaa" stroke-width="0.5"/><rect x="442.1" y="49.7" width="1.7" height="1.7" fill="#F4A232"/><rect x="446.7" y="51.6" width="1.7" height="1.7" fill="#F4A232"/><rect x="447.4" y="46.5" width="1.7" height="1.7" fill="#F4A232"/><rect x="439.8" y="49.7" width="1.7" height="1.7" fill="#F4A232"/><rect x="436.7" y="48.3" width="1.7" height="1.7" fill="#F4A232"/><rect x="445.2" y="50.8" width="1.7" height="1.7" fill="#F4A232"/><rect x="445.5" y="48.4" width="1.7" height="1.7" fill="#fff"/><rect x="442.4" y="51.3" width="1.7" height="1.7" fill="#F4A232"/><rect x="447.2" y="49.8" width="1.7" height="1.7" fill="#fff"/><rect x="439.4" y="48.5" width="1.7" height="1.7" fill="#F4A232"/><rect x="438.1" y="49.4" width="1.7" height="1.7" fill="#fff"/><rect x="437.1" y="50.6" width="1.7" height="1.7" fill="#fff"/><rect x="440.8" y="47.6" width="1.7" height="1.7" fill="#F4A232"/><rect x="442.8" y="50.7" width="1.7" height="1.7" fill="#F4A232"/><rect x="439" y="46.8" width="1.7" height="1.7" fill="#F4A232"/><rect x="446.9" y="47.3" width="1.7" height="1.7" fill="#F4A232"/><rect x="440.6" y="50.9" width="1.7" height="1.7" fill="#F4A232"/><rect x="441.1" y="51.7" width="1.7" height="1.7" fill="#fff"/><rect x="444.8" y="52.2" width="1.7" height="1.7" fill="#F4A232"/><rect x="446.3" y="48.3" width="1.7" height="1.7" fill="#F4A232"/><rect x="438.9" y="47.5" width="1.7" height="1.7" fill="#F4A232"/><rect x="439.4" y="51.8" width="1.7" height="1.7" fill="#fff"/><rect x="436.8" y="49.4" width="1.7" height="1.7" fill="#F4A232"/><rect x="447.2" y="48.6" width="1.7" height="1.7" fill="#F4A232"/><rect x="445" y="51.8" width="1.7" height="1.7" fill="#fff"/><rect x="445" y="52.1" width="1.7" height="1.7" fill="#fff"/><rect x="445.8" y="48.9" width="1.7" height="1.7" fill="#F4A232"/><rect x="444.7" y="48.2" width="1.7" height="1.7" fill="#F4A232"/><rect x="437.7" y="47.3" width="1.7" height="1.7" fill="#F4A232"/><rect x="439.8" y="48.4" width="1.7" height="1.7" fill="#F4A232"/><rect x="435.5" y="50.5" width="1.7" height="1.7" fill="#fff"/><rect x="438.7" y="49.4" width="1.7" height="1.7" fill="#F4A232"/><rect x="437.5" y="46.8" width="1.7" height="1.7" fill="#F4A232"/><rect x="447.7" y="51.4" width="1.7" height="1.7" fill="#fff"/><rect x="441.2" y="47" width="1.7" height="1.7" fill="#fff"/><rect x="444.2" y="52.3" width="1.7" height="1.7" fill="#F4A232"/><rect x="441.4" y="47.2" width="1.7" height="1.7" fill="#fff"/><rect x="440.1" y="51.1" width="1.7" height="1.7" fill="#F4A232"/><rect x="436.9" y="48.1" width="1.7" height="1.7" fill="#F4A232"/><rect x="445.4" y="47.7" width="1.7" height="1.7" fill="#F4A232"/><rect x="444.3" y="51.4" width="1.7" height="1.7" fill="#fff"/><rect x="445.9" y="52.1" width="1.7" height="1.7" fill="#fff"/><rect x="442.3" y="49" width="1.7" height="1.7" fill="#F4A232"/><rect x="445.8" y="50" width="1.7" height="1.7" fill="#fff"/><rect x="440.4" y="47" width="1.7" height="1.7" fill="#F4A232"/><rect x="440.5" y="49.3" width="1.7" height="1.7" fill="#F4A232"/><rect x="445.9" y="48.9" width="1.7" height="1.7" fill="#F4A232"/><rect x="440.6" y="49.7" width="1.7" height="1.7" fill="#fff"/><rect x="439.4" y="50.2" width="1.7" height="1.7" fill="#fff"/><rect x="443.3" y="46.8" width="1.7" height="1.7" fill="#F4A232"/><rect x="437.4" y="49.2" width="1.7" height="1.7" fill="#F4A232"/><rect x="443.9" y="47.8" width="1.7" height="1.7" fill="#F4A232"/><rect x="445.2" y="49.1" width="1.7" height="1.7" fill="#fff"/><rect x="439.3" y="49.4" width="1.7" height="1.7" fill="#fff"/><rect x="439.9" y="46.8" width="1.7" height="1.7" fill="#F4A232"/><rect x="439.8" y="50.9" width="1.7" height="1.7" fill="#F4A232"/><rect x="445" y="52.2" width="1.7" height="1.7" fill="#F4A232"/><rect x="444" y="46.3" width="1.7" height="1.7" fill="#F4A232"/><rect x="447.3" y="48.5" width="1.7" height="1.7" fill="#F4A232"/><rect x="436" y="46.5" width="1.7" height="1.7" fill="#F4A232"/><rect x="442.7" y="49.8" width="1.7" height="1.7" fill="#F4A232"/><rect x="446.3" y="51.9" width="1.7" height="1.7" fill="#fff"/><rect x="438.8" y="52.3" width="1.7" height="1.7" fill="#fff"/><rect x="435.9" y="50.8" width="1.7" height="1.7" fill="#F4A232"/><rect x="436.7" y="49" width="1.7" height="1.7" fill="#F4A232"/><rect x="444.9" y="46.4" width="1.7" height="1.7" fill="#fff"/><rect x="446.2" y="50.4" width="1.7" height="1.7" fill="#F4A232"/><rect x="445.2" y="48" width="1.7" height="1.7" fill="#F4A232"/><rect x="445.2" y="48.4" width="1.7" height="1.7" fill="#F4A232"/><rect x="444.4" y="46.6" width="1.7" height="1.7" fill="#fff"/><rect x="444" y="47.5" width="1.7" height="1.7" fill="#fff"/><rect x="446.8" y="47.7" width="1.7" height="1.7" fill="#F4A232"/><rect x="438.4" y="49.3" width="1.7" height="1.7" fill="#F4A232"/><rect x="447.7" y="51.4" width="1.7" height="1.7" fill="#F4A232"/><rect x="442.5" y="48" width="1.7" height="1.7" fill="#F4A232"/><rect x="438.8" y="50.5" width="1.7" height="1.7" fill="#fff"/><rect x="444.8" y="51" width="1.7" height="1.7" fill="#F4A232"/><rect x="441.3" y="46.6" width="1.7" height="1.7" fill="#fff"/><rect x="446.7" y="47.5" width="1.7" height="1.7" fill="#F4A232"/><rect x="441.5" y="48.7" width="1.7" height="1.7" fill="#fff"/><rect x="447.1" y="49.6" width="1.7" height="1.7" fill="#F4A232"/><rect x="445.5" y="47.7" width="1.7" height="1.7" fill="#F4A232"/><rect x="436.3" y="49.1" width="1.7" height="1.7" fill="#fff"/><rect x="446.3" y="49.7" width="1.7" height="1.7" fill="#fff"/><rect x="446.2" y="47" width="1.7" height="1.7" fill="#F4A232"/><rect x="440.3" y="48.4" width="1.7" height="1.7" fill="#F4A232"/><rect x="444.1" y="49.3" width="1.7" height="1.7" fill="#F4A232"/><rect x="440.5" y="47.4" width="1.7" height="1.7" fill="#fff"/><rect x="445.5" y="46.8" width="1.7" height="1.7" fill="#F4A232"/><rect x="444.1" y="49.7" width="1.7" height="1.7" fill="#fff"/><rect x="436.4" y="49.9" width="1.7" height="1.7" fill="#F4A232"/><rect x="435.6" y="50.5" width="1.7" height="1.7" fill="#fff"/><circle cx="407" cy="22" r="1.35" fill="#4C90E4"/><circle cx="412" cy="17" r="1.35" fill="#4C90E4"/><circle cx="420" cy="20.5" r="1.35" fill="#4C90E4"/><circle cx="429" cy="17.5" r="1.35" fill="#4C90E4"/><circle cx="433" cy="24" r="1.35" fill="#4C90E4"/><circle cx="415" cy="26.5" r="1.35" fill="#4C90E4"/><line x1="402" y1="30" x2="406" y2="25.5" stroke="#999" stroke-width="0.5"/><path d="M406,25.5 L405.6,26.9 L404.7,26.1 Z" fill="#888"/><line x1="411" y1="30.5" x2="415" y2="26" stroke="#999" stroke-width="0.5"/><path d="M415,26 L414.6,27.4 L413.7,26.6 Z" fill="#888"/><line x1="420" y1="30" x2="424" y2="25.5" stroke="#999" stroke-width="0.5"/><path d="M424,25.5 L423.6,26.9 L422.7,26.1 Z" fill="#888"/><line x1="429" y1="30.5" x2="433" y2="26" stroke="#999" stroke-width="0.5"/><path d="M433,26 L432.6,27.4 L431.7,26.6 Z" fill="#888"/><line x1="452" y1="44" x2="474.5" y2="44" stroke="#666" stroke-width="0.5"/><path d="M476,44 L473.5,42.8 L473.5,45.2 Z" fill="#666"/><g transform="translate(488,32)"><path d="M0,0 C14,-0.2 28,0 40.8,0.6 C37,3.5 35,5 34.4,6.3 C32.5,8.5 31.5,10.5 30.5,12.6 C29.5,15 28.3,17 27.4,19.1 C20,18.3 10,18 0,18.5 C-4,18.8 -9,19.8 -12.7,21 C-11,17 -10,14 -8.9,11.4 C-6,7 -3,3.5 0,0 Z" fill="url(#pBlTex)"/><path d="M-12.7,21 C-9,19.8 -4,18.8 0,18.5 C10,18 20,18.3 27.4,19.1 L27.4,21 C20,20.2 10,20 0,20.4 C-4,20.7 -9,21.7 -13,23 Z" fill="#173C7A"/></g><path d="M514.5,45.5 L520.5,47.8 L520,49.4 L514,47.1 Z" fill="#E070D0"/><path d="M521,42.5 L539,42.5 L539,54.5 L521,54.5 L519,48.5 Z" fill="#fff" stroke="#aaa" stroke-width="0.5"/><rect x="527.1" y="52.2" width="1.7" height="1.7" fill="#3C7DD0"/><rect x="534.8" y="46.1" width="1.7" height="1.7" fill="#3C7DD0"/><rect x="526" y="50.6" width="1.7" height="1.7" fill="#5A94DC"/><rect x="527.6" y="47.8" width="1.7" height="1.7" fill="#F4A232"/><rect x="530.6" y="51.2" width="1.7" height="1.7" fill="#5A94DC"/><rect x="527.3" y="51.1" width="1.7" height="1.7" fill="#3C7DD0"/><rect x="528" y="46.9" width="1.7" height="1.7" fill="#5A94DC"/><rect x="532.3" y="47.4" width="1.7" height="1.7" fill="#3C7DD0"/><rect x="525.1" y="50.5" width="1.7" height="1.7" fill="#3C7DD0"/><rect x="532.5" y="49.5" width="1.7" height="1.7" fill="#F4A232"/><rect x="530.8" y="48.5" width="1.7" height="1.7" fill="#5A94DC"/><rect x="524.4" y="51.6" width="1.7" height="1.7" fill="#5A94DC"/><rect x="535.1" y="51.1" width="1.7" height="1.7" fill="#5A94DC"/><rect x="535.6" y="50.6" width="1.7" height="1.7" fill="#3C7DD0"/><rect x="531.1" y="47.6" width="1.7" height="1.7" fill="#5A94DC"/><rect x="531.6" y="47.9" width="1.7" height="1.7" fill="#F4A232"/><rect x="534.3" y="48" width="1.7" height="1.7" fill="#3C7DD0"/><rect x="525" y="50.6" width="1.7" height="1.7" fill="#3C7DD0"/><rect x="528.6" y="50.5" width="1.7" height="1.7" fill="#F4A232"/><rect x="531.2" y="48.3" width="1.7" height="1.7" fill="#3C7DD0"/><rect x="530" y="51.9" width="1.7" height="1.7" fill="#3C7DD0"/><rect x="523.7" y="50.1" width="1.7" height="1.7" fill="#3C7DD0"/><rect x="525.6" y="50.6" width="1.7" height="1.7" fill="#3C7DD0"/><rect x="533.3" y="51.7" width="1.7" height="1.7" fill="#3C7DD0"/><rect x="530.1" y="46.6" width="1.7" height="1.7" fill="#3C7DD0"/><rect x="534.9" y="47.9" width="1.7" height="1.7" fill="#3C7DD0"/><rect x="532.2" y="52" width="1.7" height="1.7" fill="#F4A232"/><rect x="526.7" y="49.2" width="1.7" height="1.7" fill="#F4A232"/><rect x="527.8" y="46.8" width="1.7" height="1.7" fill="#5A94DC"/><rect x="527.8" y="47.8" width="1.7" height="1.7" fill="#3C7DD0"/><rect x="524.4" y="48.9" width="1.7" height="1.7" fill="#F4A232"/><rect x="531.3" y="47.2" width="1.7" height="1.7" fill="#F4A232"/><rect x="524.3" y="50.3" width="1.7" height="1.7" fill="#3C7DD0"/><rect x="530.2" y="46.3" width="1.7" height="1.7" fill="#3C7DD0"/><rect x="527.9" y="50.1" width="1.7" height="1.7" fill="#3C7DD0"/><rect x="525.9" y="47.6" width="1.7" height="1.7" fill="#F4A232"/><rect x="528.4" y="47" width="1.7" height="1.7" fill="#3C7DD0"/><rect x="526.8" y="49" width="1.7" height="1.7" fill="#5A94DC"/><rect x="528.3" y="48.7" width="1.7" height="1.7" fill="#F4A232"/><rect x="524.7" y="49.4" width="1.7" height="1.7" fill="#3C7DD0"/><rect x="536.3" y="47.1" width="1.7" height="1.7" fill="#F4A232"/><rect x="523.5" y="49.9" width="1.7" height="1.7" fill="#3C7DD0"/><rect x="535.6" y="50.6" width="1.7" height="1.7" fill="#3C7DD0"/><rect x="532" y="50.5" width="1.7" height="1.7" fill="#5A94DC"/><rect x="523.9" y="49.4" width="1.7" height="1.7" fill="#F4A232"/><rect x="522.8" y="50" width="1.7" height="1.7" fill="#F4A232"/><rect x="528.5" y="49.6" width="1.7" height="1.7" fill="#3C7DD0"/><rect x="528" y="49.7" width="1.7" height="1.7" fill="#3C7DD0"/><rect x="532.7" y="51.2" width="1.7" height="1.7" fill="#5A94DC"/><rect x="532.3" y="50.7" width="1.7" height="1.7" fill="#F4A232"/><rect x="532.6" y="47.2" width="1.7" height="1.7" fill="#5A94DC"/><rect x="535.4" y="47.8" width="1.7" height="1.7" fill="#3C7DD0"/><rect x="531.3" y="50.7" width="1.7" height="1.7" fill="#5A94DC"/><rect x="527.7" y="50.5" width="1.7" height="1.7" fill="#F4A232"/><rect x="528.4" y="49.8" width="1.7" height="1.7" fill="#F4A232"/><rect x="531.9" y="48.1" width="1.7" height="1.7" fill="#3C7DD0"/><rect x="535.3" y="50.8" width="1.7" height="1.7" fill="#5A94DC"/><rect x="534.5" y="48.4" width="1.7" height="1.7" fill="#F4A232"/><rect x="532.8" y="47" width="1.7" height="1.7" fill="#F4A232"/><rect x="525.6" y="50.7" width="1.7" height="1.7" fill="#3C7DD0"/><rect x="526.6" y="51.4" width="1.7" height="1.7" fill="#5A94DC"/><rect x="535.8" y="49.2" width="1.7" height="1.7" fill="#F4A232"/><rect x="526.8" y="49.1" width="1.7" height="1.7" fill="#3C7DD0"/><rect x="527.9" y="48.9" width="1.7" height="1.7" fill="#F4A232"/><rect x="532.8" y="48.1" width="1.7" height="1.7" fill="#3C7DD0"/><rect x="524.9" y="49" width="1.7" height="1.7" fill="#3C7DD0"/><rect x="532.2" y="50.9" width="1.7" height="1.7" fill="#3C7DD0"/><rect x="532.5" y="51.2" width="1.7" height="1.7" fill="#F4A232"/><rect x="524.7" y="51.7" width="1.7" height="1.7" fill="#3C7DD0"/><rect x="528.3" y="51.4" width="1.7" height="1.7" fill="#5A94DC"/><rect x="532.9" y="46.7" width="1.7" height="1.7" fill="#5A94DC"/><rect x="532.7" y="47.2" width="1.7" height="1.7" fill="#5A94DC"/><rect x="526.1" y="46.8" width="1.7" height="1.7" fill="#5A94DC"/><rect x="526" y="49.4" width="1.7" height="1.7" fill="#3C7DD0"/><rect x="531.8" y="48.4" width="1.7" height="1.7" fill="#F4A232"/><rect x="535.6" y="50.4" width="1.7" height="1.7" fill="#F4A232"/><rect x="523.6" y="50.6" width="1.7" height="1.7" fill="#5A94DC"/><rect x="529.2" y="52.1" width="1.7" height="1.7" fill="#F4A232"/><rect x="529.5" y="50.8" width="1.7" height="1.7" fill="#3C7DD0"/><rect x="527.6" y="50.2" width="1.7" height="1.7" fill="#F4A232"/><rect x="528.7" y="46.4" width="1.7" height="1.7" fill="#5A94DC"/><rect x="525.1" y="47.1" width="1.7" height="1.7" fill="#5A94DC"/><rect x="526" y="46.8" width="1.7" height="1.7" fill="#5A94DC"/><rect x="524.4" y="50" width="1.7" height="1.7" fill="#3C7DD0"/><rect x="531.8" y="46.4" width="1.7" height="1.7" fill="#3C7DD0"/><rect x="522.8" y="48.3" width="1.7" height="1.7" fill="#F4A232"/><rect x="533.5" y="47.4" width="1.7" height="1.7" fill="#5A94DC"/><rect x="527.7" y="50.8" width="1.7" height="1.7" fill="#3C7DD0"/><rect x="531.8" y="46.8" width="1.7" height="1.7" fill="#3C7DD0"/><rect x="523.7" y="48.5" width="1.7" height="1.7" fill="#3C7DD0"/><rect x="525.7" y="46.1" width="1.7" height="1.7" fill="#3C7DD0"/><rect x="524.3" y="47.6" width="1.7" height="1.7" fill="#F4A232"/><rect x="530.6" y="46.1" width="1.7" height="1.7" fill="#5A94DC"/><rect x="531.1" y="48.2" width="1.7" height="1.7" fill="#3C7DD0"/><rect x="527.7" y="48.3" width="1.7" height="1.7" fill="#3C7DD0"/><rect x="522.9" y="50.9" width="1.7" height="1.7" fill="#3C7DD0"/><rect x="522.8" y="50.5" width="1.7" height="1.7" fill="#3C7DD0"/><rect x="522.6" y="46.2" width="1.7" height="1.7" fill="#5A94DC"/><rect x="525.2" y="51.4" width="1.7" height="1.7" fill="#3C7DD0"/><rect x="524.5" y="46.9" width="1.7" height="1.7" fill="#5A94DC"/><rect x="534.9" y="50.4" width="1.7" height="1.7" fill="#3C7DD0"/><text x="506.8" y="61.5" font-size="5.4" fill="#222" text-anchor="middle" textLength="19.6" lengthAdjust="spacingAndGlyphs">Uniform</text><circle cx="491" cy="19.5" r="1.35" fill="#4C90E4"/><circle cx="496" cy="13.5" r="1.35" fill="#4C90E4"/><circle cx="504" cy="17" r="1.35" fill="#4C90E4"/><circle cx="511" cy="14" r="1.35" fill="#4C90E4"/><circle cx="517.5" cy="18" r="1.35" fill="#4C90E4"/><circle cx="522" cy="14.5" r="1.35" fill="#4C90E4"/><circle cx="498" cy="23" r="1.35" fill="#4C90E4"/><circle cx="511.5" cy="23" r="1.35" fill="#4C90E4"/><line x1="496" y1="20" x2="492" y2="25" stroke="#999" stroke-width="0.5"/><path d="M492,25 L492.3,23.6 L493.3,24.4 Z" fill="#888"/><line x1="505" y1="20.5" x2="501" y2="25.5" stroke="#999" stroke-width="0.5"/><path d="M501,25.5 L501.3,24.1 L502.3,24.9 Z" fill="#888"/><line x1="514" y1="20.5" x2="510" y2="25.5" stroke="#999" stroke-width="0.5"/><path d="M510,25.5 L510.3,24.1 L511.3,24.9 Z" fill="#888"/><line x1="523" y1="20" x2="519" y2="25" stroke="#999" stroke-width="0.5"/><path d="M519,25 L519.3,23.6 L520.3,24.4 Z" fill="#888"/><rect x="295.5" y="65.2" width="243.5" height="6.4" fill="#C6DCF4"/><text x="375.6" y="70.4" font-size="6" fill="#333" font-weight="bold" text-anchor="middle" textLength="34.3" lengthAdjust="spacingAndGlyphs">Zn Stripping</text><text x="464" y="70.4" font-size="6" fill="#333" font-weight="bold" text-anchor="middle" textLength="36" lengthAdjust="spacingAndGlyphs">Zn Depositon</text><defs><linearGradient id="gFoil" x1="0" y1="0" x2="1" y2="0.4"><stop offset="0" stop-color="#4A86DA"/><stop offset="1" stop-color="#2C60B8"/></linearGradient></defs><path d="M307.7,89.8 C320,89.6 336,89.6 348,89.9 C346,93 343,97 341.5,100.5 C340.3,103.5 339.8,107 339.6,110.3 L298.3,110.8 C301.5,104 304.5,97 307.7,89.8 Z" fill="url(#gFoil)"/><path d="M298.3,110.8 L339.6,110.3 L339.6,112.6 L297.6,113 Z" fill="#1E4590"/><path d="M336,104 L343,107.5 L342.5,109.2 L335.5,105.8 Z" fill="#E070D0"/><path d="M343.2,104 L362,104 L362,114.6 L343.2,114.6 L341.2,109.3 Z" fill="#fff" stroke="#aaa" stroke-width="0.5"/><rect x="346.3" y="106.5" width="14.6" height="5.4" fill="#3C7DD0"/><text x="330.2" y="120.5" font-size="5.2" fill="#333" font-weight="bold" text-anchor="middle" textLength="45" lengthAdjust="spacingAndGlyphs">Planar Zn Foil Anode</text><line x1="363.5" y1="100.5" x2="385.5" y2="100.5" stroke="#666" stroke-width="0.5"/><path d="M387,100.5 L384.5,99.3 L384.5,101.7 Z" fill="#666"/><g stroke="#2A5AAA" stroke-width="0.4"><rect x="397.7" y="90.5" width="3.1" height="3.1" fill="#5A90E0" transform="rotate(5.5 399.2 92.1)"/><rect x="401.6" y="90.7" width="4" height="2.8" fill="#4A82DA" transform="rotate(19.7 403.5 92.1)"/><rect x="405.3" y="90.6" width="3" height="2.9" fill="#4A82DA" transform="rotate(-23.3 406.9 92.1)"/><rect x="408.8" y="90.9" width="3.5" height="2.5" fill="#4A82DA" transform="rotate(16.4 410.5 92.1)"/><rect x="412.9" y="90.7" width="3" height="2.9" fill="#3C74CC" transform="rotate(-26.3 414.4 92.1)"/><rect x="420.3" y="90.7" width="3.8" height="2.8" fill="#4A82DA" transform="rotate(-22.3 422.2 92.1)"/><rect x="423.9" y="90.8" width="3.9" height="2.6" fill="#3F78D0" transform="rotate(11.4 425.9 92.1)"/><rect x="428.2" y="91" width="2.9" height="2.3" fill="#3F78D0" transform="rotate(31.2 429.6 92.1)"/><rect x="400.1" y="94.1" width="3" height="2.3" fill="#4A82DA" transform="rotate(-32.2 401.6 95.3)"/><rect x="404.5" y="94" width="4.2" height="2.6" fill="#4A82DA" transform="rotate(14.7 406.6 95.3)"/><rect x="408.4" y="93.7" width="4.2" height="3.2" fill="#3F78D0" transform="rotate(-18.1 410.5 95.3)"/><rect x="412.1" y="93.8" width="4" height="3" fill="#5A90E0" transform="rotate(-29.2 414.1 95.3)"/><rect x="419.6" y="93.8" width="3.9" height="3" fill="#5A90E0" transform="rotate(8.6 421.6 95.3)"/><rect x="423.7" y="94.1" width="3.1" height="2.4" fill="#3C74CC" transform="rotate(-32.8 425.3 95.3)"/><rect x="427.6" y="93.9" width="4.4" height="2.7" fill="#3F78D0" transform="rotate(8.6 429.7 95.3)"/><rect x="394.6" y="96.8" width="4.4" height="2.8" fill="#3F78D0" transform="rotate(14.9 396.8 98.2)"/><rect x="398.3" y="96.9" width="3.2" height="2.6" fill="#3C74CC" transform="rotate(-22.5 399.9 98.2)"/><rect x="402.3" y="97" width="3.8" height="2.4" fill="#4A82DA" transform="rotate(15.9 404.2 98.2)"/><rect x="405.7" y="97" width="3.9" height="2.4" fill="#5A90E0" transform="rotate(-7 407.6 98.2)"/><rect x="409.3" y="97" width="3.4" height="2.4" fill="#5A90E0" transform="rotate(-26.4 411 98.2)"/><rect x="413.3" y="96.8" width="3.4" height="2.7" fill="#4A82DA" transform="rotate(24.6 415 98.2)"/><rect x="417.1" y="97" width="3.2" height="2.4" fill="#4A82DA" transform="rotate(-1.8 418.7 98.2)"/><rect x="420.7" y="96.9" width="3.7" height="2.6" fill="#4A82DA" transform="rotate(7.7 422.5 98.2)"/><rect x="424.8" y="96.8" width="3.5" height="2.7" fill="#3C74CC" transform="rotate(29.3 426.6 98.2)"/><rect x="392.2" y="99.9" width="3.4" height="2.2" fill="#3F78D0" transform="rotate(6.3 393.9 101)"/><rect x="395.5" y="99.9" width="3.2" height="2.2" fill="#3C74CC" transform="rotate(18.6 397.2 101)"/><rect x="399.3" y="99.6" width="3.6" height="2.8" fill="#3F78D0" transform="rotate(13.3 401.1 101)"/><rect x="402.6" y="99.7" width="2.9" height="2.6" fill="#4A82DA" transform="rotate(-15.6 404.1 101)"/><rect x="406.8" y="99.7" width="4.2" height="2.6" fill="#4A82DA" transform="rotate(15 408.9 101)"/><rect x="410.4" y="99.4" width="3.7" height="3.1" fill="#3F78D0" transform="rotate(-12.7 412.2 101)"/><rect x="414.5" y="99.9" width="4.1" height="2.3" fill="#5A90E0" transform="rotate(-9.1 416.6 101)"/><rect x="418" y="99.4" width="3.2" height="3.1" fill="#4A82DA" transform="rotate(-30.4 419.6 101)"/><rect x="425.3" y="99.4" width="3.1" height="3.1" fill="#4A82DA" transform="rotate(33.2 426.9 101)"/><rect x="391.5" y="102.8" width="4.2" height="3" fill="#3C74CC" transform="rotate(-10.8 393.6 104.3)"/><rect x="395.7" y="102.8" width="4" height="3" fill="#5A90E0" transform="rotate(-6.7 397.7 104.3)"/><rect x="399.7" y="102.9" width="3.9" height="2.8" fill="#3C74CC" transform="rotate(-23.7 401.7 104.3)"/><rect x="403.9" y="103.1" width="3.2" height="2.3" fill="#5A90E0" transform="rotate(23.2 405.5 104.3)"/><rect x="407.5" y="103" width="4.2" height="2.5" fill="#5A90E0" transform="rotate(-28.5 409.6 104.3)"/><rect x="411.9" y="102.9" width="3.4" height="2.7" fill="#4A82DA" transform="rotate(17.7 413.6 104.3)"/><rect x="419.3" y="102.8" width="3.8" height="2.9" fill="#3C74CC" transform="rotate(-5.6 421.2 104.3)"/><rect x="422.7" y="103" width="3.3" height="2.6" fill="#3F78D0" transform="rotate(-22.9 424.3 104.3)"/><rect x="389.2" y="106.2" width="4.1" height="2.2" fill="#4A82DA" transform="rotate(24.2 391.2 107.3)"/><rect x="393.2" y="105.8" width="2.9" height="3.1" fill="#4A82DA" transform="rotate(27.7 394.6 107.3)"/><rect x="401.7" y="105.7" width="2.8" height="3.1" fill="#3F78D0" transform="rotate(4.7 403.2 107.3)"/><rect x="406.1" y="106.1" width="4.2" height="2.4" fill="#4A82DA" transform="rotate(20.4 408.2 107.3)"/><rect x="410.4" y="105.7" width="4.1" height="3.1" fill="#5A90E0" transform="rotate(-6.7 412.5 107.3)"/><rect x="414.2" y="105.7" width="4.3" height="3.1" fill="#3C74CC" transform="rotate(27.9 416.4 107.3)"/><rect x="418.3" y="105.7" width="3.1" height="3.2" fill="#5A90E0" transform="rotate(-16.1 419.8 107.3)"/><rect x="422.1" y="106.1" width="3.2" height="2.4" fill="#4A82DA" transform="rotate(-33.2 423.7 107.3)"/></g><path d="M434,103 L449.5,103 L449.5,114.6 L434,114.6 L432,108.8 Z" fill="#fff" stroke="#aaa" stroke-width="0.5"/><path d="M435.5,113.8 L435.5,110 Q437,107.5 438.5,110 Q440,107.5 441.5,110 Q443,107.5 444.5,110 Q446,107.5 448,110 L448,113.8 Z" fill="#3C7DD0"/><path d="M427,107 L433,109.5 L432.5,111.1 L426.5,108.6 Z" fill="#E070D0"/><text x="416.2" y="119.7" font-size="5" fill="#333" text-anchor="middle" textLength="26" lengthAdjust="spacingAndGlyphs">(Incomplete)</text><circle cx="408" cy="77.5" r="1.35" fill="#4C90E4"/><circle cx="421" cy="77" r="1.35" fill="#4C90E4"/><circle cx="433" cy="77.5" r="1.35" fill="#4C90E4"/><circle cx="404" cy="86" r="1.35" fill="#4C90E4"/><circle cx="418" cy="86" r="1.35" fill="#4C90E4"/><circle cx="431" cy="86" r="1.35" fill="#4C90E4"/><line x1="401" y1="86" x2="405" y2="81" stroke="#999" stroke-width="0.5"/><path d="M405,81 L404.7,82.4 L403.7,81.6 Z" fill="#888"/><line x1="413" y1="85.5" x2="417" y2="80.5" stroke="#999" stroke-width="0.5"/><path d="M417,80.5 L416.7,81.9 L415.7,81.1 Z" fill="#888"/><line x1="425" y1="85" x2="429" y2="80" stroke="#999" stroke-width="0.5"/><path d="M429,80 L428.7,81.4 L427.7,80.6 Z" fill="#888"/><line x1="437" y1="84.5" x2="441" y2="79.5" stroke="#999" stroke-width="0.5"/><path d="M441,79.5 L440.7,80.9 L439.7,80.1 Z" fill="#888"/><line x1="452" y1="104" x2="474" y2="104" stroke="#666" stroke-width="0.5"/><path d="M475.5,104 L473,102.8 L473,105.2 Z" fill="#666"/><g stroke="#2A5AAA" stroke-width="0.4"><rect x="487.8" y="90.9" width="3.2" height="2.4" fill="#4A82DA" transform="rotate(16.6 489.4 92.1)"/><rect x="491.7" y="90.9" width="2.9" height="2.4" fill="#3C74CC" transform="rotate(7.1 493.2 92.1)"/><rect x="495.8" y="90.8" width="3.5" height="2.6" fill="#4A82DA" transform="rotate(-15.5 497.5 92.1)"/><rect x="499.9" y="90.9" width="3.5" height="2.5" fill="#5A90E0" transform="rotate(-19.9 501.7 92.1)"/><rect x="503.3" y="90.8" width="3.4" height="2.5" fill="#4A82DA" transform="rotate(-16.5 505 92.1)"/><rect x="507.4" y="90.8" width="4.4" height="2.6" fill="#5A90E0" transform="rotate(3.6 509.6 92.1)"/><rect x="511.4" y="90.9" width="2.9" height="2.4" fill="#4A82DA" transform="rotate(-14.7 512.8 92.1)"/><rect x="515.6" y="90.8" width="3.4" height="2.7" fill="#3C74CC" transform="rotate(23.4 517.3 92.1)"/><rect x="519.3" y="90.5" width="3.2" height="3.1" fill="#3C74CC" transform="rotate(10.4 520.9 92.1)"/><rect x="486.2" y="93.6" width="4.3" height="2.9" fill="#5A90E0" transform="rotate(-19.6 488.3 95)"/><rect x="490.4" y="93.9" width="3.2" height="2.2" fill="#5A90E0" transform="rotate(-12.9 492 95)"/><rect x="497.7" y="93.7" width="3.1" height="2.7" fill="#3F78D0" transform="rotate(26.9 499.3 95)"/><rect x="501.2" y="93.7" width="4" height="2.7" fill="#3F78D0" transform="rotate(17.3 503.2 95)"/><rect x="505.5" y="93.4" width="3.2" height="3.2" fill="#4A82DA" transform="rotate(0.7 507.1 95)"/><rect x="509.6" y="93.8" width="3" height="2.4" fill="#4A82DA" transform="rotate(12.6 511.1 95)"/><rect x="513.3" y="93.8" width="3.5" height="2.5" fill="#4A82DA" transform="rotate(3.7 515.1 95)"/><rect x="517.4" y="93.5" width="4.2" height="3" fill="#5A90E0" transform="rotate(18.8 519.5 95)"/><rect x="489.1" y="96.9" width="3.6" height="2.4" fill="#5A90E0" transform="rotate(28.9 490.9 98)"/><rect x="493.4" y="96.8" width="3.1" height="2.6" fill="#4A82DA" transform="rotate(-23.7 494.9 98)"/><rect x="497.3" y="96.8" width="3" height="2.6" fill="#5A90E0" transform="rotate(34 498.8 98)"/><rect x="500.9" y="96.9" width="3.7" height="2.3" fill="#4A82DA" transform="rotate(16.2 502.7 98)"/><rect x="505.3" y="96.6" width="3" height="2.9" fill="#3C74CC" transform="rotate(31.3 506.8 98)"/><rect x="508.8" y="96.8" width="3.5" height="2.4" fill="#3C74CC" transform="rotate(2.8 510.6 98)"/><rect x="512.9" y="96.8" width="3.9" height="2.6" fill="#3F78D0" transform="rotate(28 514.9 98)"/><rect x="516.4" y="96.6" width="3.3" height="2.8" fill="#3C74CC" transform="rotate(-18.9 518 98)"/><rect x="482.9" y="99.9" width="2.9" height="2.5" fill="#5A90E0" transform="rotate(1 484.3 101.2)"/><rect x="486.9" y="99.6" width="3" height="3.1" fill="#3F78D0" transform="rotate(5 488.4 101.2)"/><rect x="490.5" y="100" width="3.5" height="2.3" fill="#5A90E0" transform="rotate(11.1 492.2 101.2)"/><rect x="494.3" y="99.8" width="4" height="2.9" fill="#4A82DA" transform="rotate(33.9 496.2 101.2)"/><rect x="497.6" y="100" width="4.1" height="2.3" fill="#3F78D0" transform="rotate(-21.6 499.7 101.2)"/><rect x="501.1" y="99.7" width="3.5" height="3.1" fill="#4A82DA" transform="rotate(-29.7 502.9 101.2)"/><rect x="513" y="99.9" width="3.1" height="2.7" fill="#3F78D0" transform="rotate(-20 514.5 101.2)"/><rect x="517.3" y="99.9" width="2.8" height="2.6" fill="#3F78D0" transform="rotate(29.9 518.7 101.2)"/><rect x="482.5" y="103" width="3.9" height="2.7" fill="#3C74CC" transform="rotate(-21.7 484.4 104.3)"/><rect x="486.9" y="102.9" width="3.7" height="2.9" fill="#3F78D0" transform="rotate(-31 488.7 104.3)"/><rect x="490.7" y="102.8" width="3.1" height="3.2" fill="#3C74CC" transform="rotate(-29.4 492.3 104.3)"/><rect x="494.1" y="103" width="4.2" height="2.6" fill="#3C74CC" transform="rotate(30.9 496.2 104.3)"/><rect x="498" y="102.9" width="2.9" height="2.9" fill="#5A90E0" transform="rotate(4.6 499.5 104.3)"/><rect x="502.4" y="103.1" width="3.9" height="2.4" fill="#5A90E0" transform="rotate(-7.3 504.4 104.3)"/><rect x="510.5" y="103" width="3.8" height="2.8" fill="#3C74CC" transform="rotate(-28 512.4 104.3)"/><rect x="514.4" y="103.2" width="3.4" height="2.3" fill="#5A90E0" transform="rotate(-17.9 516 104.3)"/><rect x="481.1" y="106.1" width="4.4" height="2.9" fill="#5A90E0" transform="rotate(-34.5 483.3 107.6)"/><rect x="485.4" y="106.3" width="4.2" height="2.5" fill="#3C74CC" transform="rotate(27.3 487.5 107.6)"/><rect x="489" y="106.4" width="3.9" height="2.4" fill="#5A90E0" transform="rotate(9.4 491 107.6)"/><rect x="492.8" y="106.4" width="4.3" height="2.3" fill="#5A90E0" transform="rotate(9.4 495 107.6)"/><rect x="496.2" y="106" width="3" height="3.2" fill="#3F78D0" transform="rotate(-23.7 497.7 107.6)"/><rect x="500.1" y="106.4" width="2.8" height="2.3" fill="#3C74CC" transform="rotate(26.8 501.5 107.6)"/><rect x="504" y="106.4" width="3.7" height="2.3" fill="#5A90E0" transform="rotate(-26.1 505.9 107.6)"/><rect x="512.1" y="106.1" width="3.4" height="2.9" fill="#5A90E0" transform="rotate(11.7 513.8 107.6)"/><path d="M487.5,92.5 L488.8,86.7 L490.1,92.5 Z" fill="#3C74CC"/><path d="M494.1,92.5 L495.4,86.6 L496.7,92.5 Z" fill="#3C74CC"/><path d="M499.2,92.5 L500.5,86.9 L501.8,92.5 Z" fill="#3C74CC"/><path d="M502.7,92.5 L504,87.3 L505.3,92.5 Z" fill="#3C74CC"/><path d="M508.5,92.5 L509.8,86.7 L511.1,92.5 Z" fill="#3C74CC"/><path d="M514.6,92.5 L515.9,86.9 L517.2,92.5 Z" fill="#3C74CC"/><path d="M519.8,92.5 L521.1,88.7 L522.4,92.5 Z" fill="#3C74CC"/></g><path d="M521,103 L539,103 L539,114.6 L521,114.6 L519,108.8 Z" fill="#fff" stroke="#aaa" stroke-width="0.5"/><path d="M522.5,113.8 L523.5,110 L524.5,106 L525.5,110 L527,108 L528,105 L529,109 L531,107 L532,104.6 L533,108 L535,109 L536,106 L537.5,113.8 Z" fill="#3C7DD0"/><path d="M513,107 L519.5,109.5 L519,111.1 L512.5,108.6 Z" fill="#E070D0"/><text x="506.3" y="119.3" font-size="5" fill="#333" text-anchor="middle" textLength="32.5" lengthAdjust="spacingAndGlyphs">Zn Protrusions</text><text x="507.5" y="124.7" font-size="5" fill="#333" text-anchor="middle" textLength="37.5" lengthAdjust="spacingAndGlyphs" font-style="italic">/Dendrites Appear</text><circle cx="488" cy="81" r="1.35" fill="#4C90E4"/><circle cx="497" cy="82" r="1.35" fill="#4C90E4"/><circle cx="506" cy="84" r="1.35" fill="#4C90E4"/><circle cx="515" cy="82" r="1.35" fill="#4C90E4"/><circle cx="524" cy="83" r="1.35" fill="#4C90E4"/><circle cx="492" cy="85.5" r="1.35" fill="#4C90E4"/><circle cx="510" cy="86" r="1.35" fill="#4C90E4"/><line x1="494" y1="77" x2="490" y2="82" stroke="#999" stroke-width="0.5"/><path d="M490,82 L490.3,80.6 L491.3,81.4 Z" fill="#888"/><line x1="504" y1="77" x2="500" y2="82" stroke="#999" stroke-width="0.5"/><path d="M500,82 L500.3,80.6 L501.3,81.4 Z" fill="#888"/><line x1="514" y1="77" x2="510" y2="82" stroke="#999" stroke-width="0.5"/><path d="M510,82 L510.3,80.6 L511.3,81.4 Z" fill="#888"/><line x1="524" y1="77" x2="520" y2="82" stroke="#999" stroke-width="0.5"/><path d="M520,82 L520.3,80.6 L521.3,81.4 Z" fill="#888"/><text x="7.4" y="132" font-size="11.8" fill="#000">d</text><rect x="30" y="128.4" width="74" height="52" fill="#60BE44"/><g stroke="#6ACA4E" stroke-width="0.4"><line x1="32.5" y1="128.4" x2="32.5" y2="174.4"/><line x1="35" y1="128.4" x2="35" y2="174.4"/><line x1="37.5" y1="128.4" x2="37.5" y2="174.4"/><line x1="40" y1="128.4" x2="40" y2="174.4"/><line x1="42.5" y1="128.4" x2="42.5" y2="174.4"/><line x1="45" y1="128.4" x2="45" y2="174.4"/><line x1="47.5" y1="128.4" x2="47.5" y2="174.4"/><line x1="50" y1="128.4" x2="50" y2="174.4"/><line x1="52.5" y1="128.4" x2="52.5" y2="174.4"/><line x1="55" y1="128.4" x2="55" y2="174.4"/><line x1="57.5" y1="128.4" x2="57.5" y2="174.4"/><line x1="60" y1="128.4" x2="60" y2="174.4"/><line x1="62.5" y1="128.4" x2="62.5" y2="174.4"/><line x1="65" y1="128.4" x2="65" y2="174.4"/><line x1="67.5" y1="128.4" x2="67.5" y2="174.4"/><line x1="70" y1="128.4" x2="70" y2="174.4"/><line x1="72.5" y1="128.4" x2="72.5" y2="174.4"/><line x1="75" y1="128.4" x2="75" y2="174.4"/><line x1="77.5" y1="128.4" x2="77.5" y2="174.4"/><line x1="80" y1="128.4" x2="80" y2="174.4"/><line x1="82.5" y1="128.4" x2="82.5" y2="174.4"/><line x1="85" y1="128.4" x2="85" y2="174.4"/><line x1="87.5" y1="128.4" x2="87.5" y2="174.4"/><line x1="90" y1="128.4" x2="90" y2="174.4"/><line x1="92.5" y1="128.4" x2="92.5" y2="174.4"/><line x1="95" y1="128.4" x2="95" y2="174.4"/><line x1="97.5" y1="128.4" x2="97.5" y2="174.4"/><line x1="100" y1="128.4" x2="100" y2="174.4"/><line x1="102.5" y1="128.4" x2="102.5" y2="174.4"/></g><rect x="30" y="174.4" width="74" height="6" fill="#3A4CA8"/><rect x="31" y="175.4" width="9" height="1" fill="#8A9AD8"/><rect x="31" y="177.2" width="7" height="0.8" fill="#8A9AD8"/><text x="60.5" y="140.4" font-size="11" fill="#1a1a1a" textLength="24" lengthAdjust="spacingAndGlyphs">Zn/CC</text><rect x="9" y="133.9" width="19.5" height="45.5" fill="#fff" stroke="#bbb" stroke-width="0.5"/><rect x="10" y="134.9" width="15" height="1.2" fill="#ccc"/><rect x="10.4" y="138.9" width="5.2" height="2.7" fill="#E81818"/><rect x="10.4" y="141.4" width="5.2" height="2.7" fill="#F04A1C"/><rect x="10.4" y="144" width="5.2" height="2.7" fill="#F5901C"/><rect x="10.4" y="146.5" width="5.2" height="2.7" fill="#F2C81C"/><rect x="10.4" y="149" width="5.2" height="2.7" fill="#C8D828"/><rect x="10.4" y="151.6" width="5.2" height="2.7" fill="#8CC83C"/><rect x="10.4" y="154.1" width="5.2" height="2.7" fill="#6CC044"/><rect x="10.4" y="156.6" width="5.2" height="2.7" fill="#5EBC46"/><rect x="10.4" y="159.2" width="5.2" height="2.7" fill="#5ABA48"/><rect x="10.4" y="161.7" width="5.2" height="2.7" fill="#54B850"/><rect x="10.4" y="164.2" width="5.2" height="2.7" fill="#3CB8A0"/><rect x="10.4" y="166.8" width="5.2" height="2.7" fill="#28B0E0"/><rect x="10.4" y="169.3" width="5.2" height="2.7" fill="#2C78D0"/><rect x="10.4" y="171.8" width="5.2" height="2.7" fill="#2C4CB0"/><rect x="10.4" y="174.4" width="5.2" height="2.7" fill="#2A40A0"/><g fill="#8a8a8a"><rect x="17" y="139.2" width="11" height="0.7"/><rect x="17" y="141.9" width="11" height="0.7"/><rect x="17" y="144.6" width="11" height="0.7"/><rect x="17" y="147.2" width="11" height="0.7"/><rect x="17" y="149.9" width="11" height="0.7"/><rect x="17" y="152.6" width="11" height="0.7"/><rect x="17" y="155.3" width="11" height="0.7"/><rect x="17" y="158" width="11" height="0.7"/><rect x="17" y="160.6" width="11" height="0.7"/><rect x="17" y="163.3" width="11" height="0.7"/><rect x="17" y="166" width="11" height="0.7"/><rect x="17" y="168.7" width="11" height="0.7"/><rect x="17" y="171.3" width="11" height="0.7"/><rect x="17" y="174" width="11" height="0.7"/><rect x="17" y="176.7" width="11" height="0.7"/></g><rect x="30" y="181.6" width="74" height="54.2" fill="#60BE44"/><g stroke="#6ACA4E" stroke-width="0.4"><line x1="32.5" y1="181.6" x2="32.5" y2="229.8"/><line x1="35" y1="181.6" x2="35" y2="229.8"/><line x1="37.5" y1="181.6" x2="37.5" y2="229.8"/><line x1="40" y1="181.6" x2="40" y2="229.8"/><line x1="42.5" y1="181.6" x2="42.5" y2="229.8"/><line x1="45" y1="181.6" x2="45" y2="229.8"/><line x1="47.5" y1="181.6" x2="47.5" y2="229.8"/><line x1="50" y1="181.6" x2="50" y2="229.8"/><line x1="52.5" y1="181.6" x2="52.5" y2="229.8"/><line x1="55" y1="181.6" x2="55" y2="229.8"/><line x1="57.5" y1="181.6" x2="57.5" y2="229.8"/><line x1="60" y1="181.6" x2="60" y2="229.8"/><line x1="62.5" y1="181.6" x2="62.5" y2="229.8"/><line x1="65" y1="181.6" x2="65" y2="229.8"/><line x1="67.5" y1="181.6" x2="67.5" y2="229.8"/><line x1="70" y1="181.6" x2="70" y2="229.8"/><line x1="72.5" y1="181.6" x2="72.5" y2="229.8"/><line x1="75" y1="181.6" x2="75" y2="229.8"/><line x1="77.5" y1="181.6" x2="77.5" y2="229.8"/><line x1="80" y1="181.6" x2="80" y2="229.8"/><line x1="82.5" y1="181.6" x2="82.5" y2="229.8"/><line x1="85" y1="181.6" x2="85" y2="229.8"/><line x1="87.5" y1="181.6" x2="87.5" y2="229.8"/><line x1="90" y1="181.6" x2="90" y2="229.8"/><line x1="92.5" y1="181.6" x2="92.5" y2="229.8"/><line x1="95" y1="181.6" x2="95" y2="229.8"/><line x1="97.5" y1="181.6" x2="97.5" y2="229.8"/><line x1="100" y1="181.6" x2="100" y2="229.8"/><line x1="102.5" y1="181.6" x2="102.5" y2="229.8"/></g><rect x="30" y="229.8" width="74" height="6" fill="#3A4CA8"/><rect x="31" y="230.8" width="9" height="1" fill="#8A9AD8"/><rect x="31" y="232.6" width="7" height="0.8" fill="#8A9AD8"/><text x="57.8" y="193.6" font-size="11" fill="#1a1a1a" textLength="29" lengthAdjust="spacingAndGlyphs">Zn/CNT</text><rect x="9" y="187.1" width="19.5" height="47.7" fill="#fff" stroke="#bbb" stroke-width="0.5"/><rect x="10" y="188.1" width="15" height="1.2" fill="#ccc"/><rect x="10.4" y="192.1" width="5.2" height="2.9" fill="#E81818"/><rect x="10.4" y="194.8" width="5.2" height="2.9" fill="#F04A1C"/><rect x="10.4" y="197.5" width="5.2" height="2.9" fill="#F5901C"/><rect x="10.4" y="200.1" width="5.2" height="2.9" fill="#F2C81C"/><rect x="10.4" y="202.8" width="5.2" height="2.9" fill="#C8D828"/><rect x="10.4" y="205.5" width="5.2" height="2.9" fill="#8CC83C"/><rect x="10.4" y="208.2" width="5.2" height="2.9" fill="#6CC044"/><rect x="10.4" y="210.9" width="5.2" height="2.9" fill="#5EBC46"/><rect x="10.4" y="213.5" width="5.2" height="2.9" fill="#5ABA48"/><rect x="10.4" y="216.2" width="5.2" height="2.9" fill="#54B850"/><rect x="10.4" y="218.9" width="5.2" height="2.9" fill="#3CB8A0"/><rect x="10.4" y="221.6" width="5.2" height="2.9" fill="#28B0E0"/><rect x="10.4" y="224.3" width="5.2" height="2.9" fill="#2C78D0"/><rect x="10.4" y="226.9" width="5.2" height="2.9" fill="#2C4CB0"/><rect x="10.4" y="229.6" width="5.2" height="2.9" fill="#2A40A0"/><g fill="#8a8a8a"><rect x="17" y="192.4" width="11" height="0.7"/><rect x="17" y="195.2" width="11" height="0.7"/><rect x="17" y="198.1" width="11" height="0.7"/><rect x="17" y="200.9" width="11" height="0.7"/><rect x="17" y="203.7" width="11" height="0.7"/><rect x="17" y="206.6" width="11" height="0.7"/><rect x="17" y="209.4" width="11" height="0.7"/><rect x="17" y="212.2" width="11" height="0.7"/><rect x="17" y="215.1" width="11" height="0.7"/><rect x="17" y="217.9" width="11" height="0.7"/><rect x="17" y="220.8" width="11" height="0.7"/><rect x="17" y="223.6" width="11" height="0.7"/><rect x="17" y="226.4" width="11" height="0.7"/><rect x="17" y="229.3" width="11" height="0.7"/><rect x="17" y="232.1" width="11" height="0.7"/></g><path d="M41,174.6 l1.1,-1.6 l1.1,1.6 Z" fill="#E8C020"/><path d="M44.3,174.6 l1.1,-1.6 l1.1,1.6 Z" fill="#E8C020"/><path d="M47.6,174.6 l1.1,-1.6 l1.1,1.6 Z" fill="#E8C020"/><path d="M50.9,174.6 l1.1,-1.6 l1.1,1.6 Z" fill="#E8C020"/><path d="M54.2,174.6 l1.1,-1.6 l1.1,1.6 Z" fill="#E8C020"/><path d="M57.5,174.6 l1.1,-1.6 l1.1,1.6 Z" fill="#E8C020"/><path d="M60.8,174.6 l1.1,-1.6 l1.1,1.6 Z" fill="#E8C020"/><rect x="40.5" y="173.8" width="23" height="0.9" fill="#C8B030"/><text x="108.4" y="132.2" font-size="12.2" fill="#000">e</text><defs><linearGradient id="gCC" x1="0.3" y1="0" x2="0.45" y2="1"><stop offset="0" stop-color="#b4b4b4"/><stop offset="0.25" stop-color="#d8d8d8"/><stop offset="0.45" stop-color="#cccccc"/><stop offset="0.72" stop-color="#969696"/><stop offset="1" stop-color="#505050"/></linearGradient><clipPath id="cgCC"><path d="M111.5,148.9 C113.1,147.3 118.9,148.4 122.7,147.7 C126.5,147 130.9,146 134.5,144.8 C138.1,143.6 141,141.5 144,140.6 C147,139.7 149.9,139.3 152.3,139.4 C154.7,139.5 156.8,140 158.2,141 C159.6,142 160.4,143.9 160.6,145.4 C160.8,146.9 160.4,149 159.4,150.1 C158.4,151.2 156.8,151.4 154.6,151.9 C152.4,152.4 149.2,151.7 146.4,152.8 C143.7,153.9 141.1,156.8 138.1,158.4 C135.1,160 132.3,161.5 128.6,162.5 C124.8,163.5 118.2,165.4 115.6,164.5 C113,163.6 113.7,159.6 113,157 C112.3,154.4 109.9,150.5 111.5,148.9 Z"/></clipPath></defs><path d="M111.5,148.9 C113.1,147.3 118.9,148.4 122.7,147.7 C126.5,147 130.9,146 134.5,144.8 C138.1,143.6 141,141.5 144,140.6 C147,139.7 149.9,139.3 152.3,139.4 C154.7,139.5 156.8,140 158.2,141 C159.6,142 160.4,143.9 160.6,145.4 C160.8,146.9 160.4,149 159.4,150.1 C158.4,151.2 156.8,151.4 154.6,151.9 C152.4,152.4 149.2,151.7 146.4,152.8 C143.7,153.9 141.1,156.8 138.1,158.4 C135.1,160 132.3,161.5 128.6,162.5 C124.8,163.5 118.2,165.4 115.6,164.5 C113,163.6 113.7,159.6 113,157 C112.3,154.4 109.9,150.5 111.5,148.9 Z" fill="url(#gCC)"/><ellipse cx="113.3" cy="156.6" rx="1.6" ry="7.8" fill="#8a8a8a" transform="rotate(-10 113.3 156.6)"/><path d="M134,152 C140,150 146,146 152,144" stroke="#fff" stroke-width="0.8" fill="none" opacity="0.8"/><text x="151" y="161.4" font-size="3.8" fill="#444" text-anchor="middle" font-family='"Liberation Serif",serif'>CC</text><defs><linearGradient id="oa165149" x1="0" y1="0" x2="1" y2="0"><stop offset="0" stop-color="#F8C8A0"/><stop offset="1" stop-color="#F07828"/></linearGradient></defs><path d="M165.5,147.4 L178,147.4 L178,145.4 L183,149 L178,152.6 L178,150.6 L165.5,150.6 Z" fill="url(#oa165149)"/><text x="173.5" y="144.2" font-size="3.4" fill="#444" text-anchor="middle" font-family='"Liberation Serif",serif' font-style="italic">Zn Plating</text><defs><linearGradient id="gPL" x1="0.3" y1="0" x2="0.45" y2="1"><stop offset="0" stop-color="#b4b4b4"/><stop offset="0.25" stop-color="#d8d8d8"/><stop offset="0.45" stop-color="#cccccc"/><stop offset="0.72" stop-color="#969696"/><stop offset="1" stop-color="#505050"/></linearGradient><clipPath id="cgPL"><path d="M188.9,146.9 C190.8,145.2 197.6,146.4 202,145.5 C206.4,144.6 211.3,142.8 215.5,141.5 C219.7,140.2 224,138.4 227.3,138 C230.7,137.6 233.5,138.1 235.6,139.2 C237.7,140.3 239.2,142.8 239.7,144.5 C240.2,146.2 239.2,148.5 238.5,149.5 C237.8,150.5 237.5,150.1 235.6,150.6 C233.7,151.1 230.7,150.9 227.3,152.4 C224,153.9 219.4,157.6 215.5,159.3 C211.6,161 207.3,162 203.6,162.8 C199.8,163.6 195.2,165.3 193,164.2 C190.8,163.1 191.2,158.9 190.5,156 C189.8,153.1 187,148.7 188.9,146.9 Z"/></clipPath></defs><path d="M188.9,146.9 C190.8,145.2 197.6,146.4 202,145.5 C206.4,144.6 211.3,142.8 215.5,141.5 C219.7,140.2 224,138.4 227.3,138 C230.7,137.6 233.5,138.1 235.6,139.2 C237.7,140.3 239.2,142.8 239.7,144.5 C240.2,146.2 239.2,148.5 238.5,149.5 C237.8,150.5 237.5,150.1 235.6,150.6 C233.7,151.1 230.7,150.9 227.3,152.4 C224,153.9 219.4,157.6 215.5,159.3 C211.6,161 207.3,162 203.6,162.8 C199.8,163.6 195.2,165.3 193,164.2 C190.8,163.1 191.2,158.9 190.5,156 C189.8,153.1 187,148.7 188.9,146.9 Z" fill="url(#gPL)"/><ellipse cx="190.7" cy="155.5" rx="1.5" ry="8.5" fill="#7a7a7a" transform="rotate(-12 190.7 155.5)"/><ellipse cx="201.3" cy="152.5" rx="3.8" ry="2.8" fill="#C4C43A" opacity="0.9"/><ellipse cx="219" cy="150.5" rx="3" ry="2.2" fill="#C4C43A" opacity="0.9"/><ellipse cx="225" cy="141.8" rx="3.2" ry="1.8" fill="#C4C43A" opacity="0.9"/><ellipse cx="235" cy="145.7" rx="2.5" ry="2" fill="#C4C43A" opacity="0.9"/><ellipse cx="194" cy="145" rx="1.5" ry="1" fill="#C4C43A" opacity="0.9"/><rect x="187.6" y="136" width="4.8" height="3.2" fill="#F6CDB8" opacity="0.9"/><line x1="190" y1="138.9" x2="190" y2="141.9" stroke="#8a8a60" stroke-width="0.45"/><rect x="197.6" y="132.5" width="4.8" height="3.2" fill="#F6CDB8" opacity="0.9"/><line x1="200" y1="135.4" x2="200" y2="138.4" stroke="#8a8a60" stroke-width="0.45"/><rect x="206.6" y="133" width="4.8" height="3.2" fill="#F6CDB8" opacity="0.9"/><line x1="209" y1="135.9" x2="209" y2="138.9" stroke="#8a8a60" stroke-width="0.45"/><rect x="220.1" y="129.5" width="4.8" height="3.2" fill="#F6CDB8" opacity="0.9"/><line x1="222.5" y1="132.4" x2="222.5" y2="135.4" stroke="#8a8a60" stroke-width="0.45"/><rect x="234.3" y="153.5" width="4.8" height="3.2" fill="#F6CDB8" opacity="0.9"/><line x1="236.7" y1="153.8" x2="236.7" y2="150.8" stroke="#8a8a60" stroke-width="0.45"/><rect x="220.1" y="159" width="4.8" height="3.2" fill="#F6CDB8" opacity="0.9"/><line x1="222.5" y1="159.3" x2="222.5" y2="156.3" stroke="#8a8a60" stroke-width="0.45"/><rect x="203" y="164.5" width="4.8" height="3.2" fill="#F6CDB8" opacity="0.9"/><line x1="205.4" y1="164.8" x2="205.4" y2="161.8" stroke="#8a8a60" stroke-width="0.45"/><defs><linearGradient id="oa246149" x1="0" y1="0" x2="1" y2="0"><stop offset="0" stop-color="#F8C8A0"/><stop offset="1" stop-color="#F07828"/></linearGradient></defs><path d="M246,148 L259,148 L259,146 L264,149.6 L259,153.2 L259,151.2 L246,151.2 Z" fill="url(#oa246149)"/><text x="254" y="144.5" font-size="3.4" fill="#444" text-anchor="middle" font-family='"Liberation Serif",serif'>Cycling</text><defs><linearGradient id="gDZ" x1="0.3" y1="0" x2="0.45" y2="1"><stop offset="0" stop-color="#b4b4b4"/><stop offset="0.25" stop-color="#d8d8d8"/><stop offset="0.45" stop-color="#cccccc"/><stop offset="0.72" stop-color="#969696"/><stop offset="1" stop-color="#505050"/></linearGradient><clipPath id="cgDZ"><path d="M267.9,148.7 C269.5,147.2 275.4,147.8 279,147 C282.6,146.2 285.5,145 289.2,144 C292.9,143 297.7,141.6 301,141 C304.3,140.4 306.6,140.5 309,140.5 C311.4,140.5 313.8,140.1 315.2,141 C316.6,141.9 317.6,144.2 317.6,145.7 C317.6,147.2 317,148.8 315.2,149.9 C313.4,151 309.8,151.1 306.9,152.2 C303.9,153.3 301.1,154.9 297.5,156.4 C293.9,157.9 289.9,160 285.6,161.1 C281.3,162.2 274.2,163.8 271.5,163 C268.8,162.2 270.1,158.4 269.5,156 C268.9,153.6 266.3,150.2 267.9,148.7 Z"/></clipPath></defs><path d="M267.9,148.7 C269.5,147.2 275.4,147.8 279,147 C282.6,146.2 285.5,145 289.2,144 C292.9,143 297.7,141.6 301,141 C304.3,140.4 306.6,140.5 309,140.5 C311.4,140.5 313.8,140.1 315.2,141 C316.6,141.9 317.6,144.2 317.6,145.7 C317.6,147.2 317,148.8 315.2,149.9 C313.4,151 309.8,151.1 306.9,152.2 C303.9,153.3 301.1,154.9 297.5,156.4 C293.9,157.9 289.9,160 285.6,161.1 C281.3,162.2 274.2,163.8 271.5,163 C268.8,162.2 270.1,158.4 269.5,156 C268.9,153.6 266.3,150.2 267.9,148.7 Z" fill="url(#gDZ)"/><ellipse cx="269.6" cy="155.8" rx="1.4" ry="7.2" fill="#6a6a6a" transform="rotate(-10 269.6 155.8)"/><ellipse cx="279.7" cy="153.4" rx="6.5" ry="3.8" fill="#C6C628"/><ellipse cx="279.7" cy="154" rx="3.9" ry="1.9" fill="#A8A81E" opacity="0.7"/><ellipse cx="293.9" cy="151" rx="4" ry="2.8" fill="#C6C628"/><ellipse cx="293.9" cy="151.6" rx="2.4" ry="1.4" fill="#A8A81E" opacity="0.7"/><ellipse cx="303.4" cy="142.8" rx="5.5" ry="2.6" fill="#C6C628"/><ellipse cx="303.4" cy="143.4" rx="3.3" ry="1.3" fill="#A8A81E" opacity="0.7"/><ellipse cx="292.7" cy="144.5" rx="3.8" ry="1.8" fill="#C6C628"/><ellipse cx="292.7" cy="145.1" rx="2.3" ry="0.9" fill="#A8A81E" opacity="0.7"/><ellipse cx="314" cy="144.5" rx="2.8" ry="2.6" fill="#C6C628"/><ellipse cx="314" cy="145.1" rx="1.7" ry="1.3" fill="#A8A81E" opacity="0.7"/><line x1="280.3" y1="149.9" x2="280.3" y2="144.5" stroke="#555" stroke-width="0.8"/><line x1="298" y1="142" x2="298" y2="135" stroke="#555" stroke-width="0.8"/><line x1="307" y1="141" x2="307" y2="135.7" stroke="#555" stroke-width="0.8"/><text x="295" y="168.2" font-size="3.6" fill="#444" text-anchor="middle" font-family='"Liberation Serif",serif' font-style="italic">Dendrite Zn/CC</text><defs><linearGradient id="gDown" x1="0" y1="0" x2="0" y2="1"><stop offset="0" stop-color="#F8C8A0"/><stop offset="1" stop-color="#F07828"/></linearGradient></defs><path d="M131,170.5 L134.6,170.5 L134.6,181.5 L137.8,181.5 L132.8,188.5 L127.8,181.5 L131,181.5 Z" fill="url(#gDown)"/><text transform="translate(137.6,178) rotate(90)" font-size="3.4" text-anchor="middle" fill="#555" font-family='"Liberation Serif",serif'>ZIF8</text><defs><linearGradient id="gCNT" x1="0.3" y1="0" x2="0.45" y2="1"><stop offset="0" stop-color="#5a5ec0"/><stop offset="0.4" stop-color="#a8acE8"/><stop offset="0.7" stop-color="#8a8ed8"/><stop offset="1" stop-color="#3a3ca0"/></linearGradient><clipPath id="cgCNT"><path d="M110.9,202.1 C112.6,200 118.8,201.2 122.7,200.4 C126.7,199.6 130.7,198.3 134.6,197.4 C138.5,196.5 142.5,195.2 146.4,195 C150.3,194.8 155.8,194.9 158.2,196.2 C160.6,197.5 160.9,200.5 161.1,202.7 C161.3,204.9 161.3,207.6 159.4,209.2 C157.5,210.8 153.1,211 149.9,212.2 C146.8,213.4 144.1,214.7 140.5,216.3 C136.9,217.9 132.8,220.3 128.6,221.6 C124.4,222.9 118.3,225.6 115.6,224.2 C112.9,222.8 113.3,216.7 112.5,213 C111.7,209.3 109.2,204.2 110.9,202.1 Z"/></clipPath></defs><path d="M110.9,202.1 C112.6,200 118.8,201.2 122.7,200.4 C126.7,199.6 130.7,198.3 134.6,197.4 C138.5,196.5 142.5,195.2 146.4,195 C150.3,194.8 155.8,194.9 158.2,196.2 C160.6,197.5 160.9,200.5 161.1,202.7 C161.3,204.9 161.3,207.6 159.4,209.2 C157.5,210.8 153.1,211 149.9,212.2 C146.8,213.4 144.1,214.7 140.5,216.3 C136.9,217.9 132.8,220.3 128.6,221.6 C124.4,222.9 118.3,225.6 115.6,224.2 C112.9,222.8 113.3,216.7 112.5,213 C111.7,209.3 109.2,204.2 110.9,202.1 Z" fill="url(#gCNT)"/><g clip-path="url(#cgCNT)" stroke-width="0.5"><line x1="122.7" y1="209.1" x2="124.4" y2="210" stroke="#E8EAFA"/><line x1="153.3" y1="201.2" x2="151.9" y2="201.8" stroke="#ffffff"/><line x1="148" y1="210.5" x2="147.4" y2="212" stroke="#ffffff"/><line x1="130.1" y1="201.9" x2="129.6" y2="202.5" stroke="#2A30A0"/><line x1="111.5" y1="201.3" x2="111.6" y2="203.2" stroke="#E8EAFA"/><line x1="128.1" y1="202.6" x2="128.4" y2="204.5" stroke="#c8caf0"/><line x1="120.1" y1="217.3" x2="120.4" y2="219.3" stroke="#ffffff"/><line x1="110.7" y1="194.9" x2="112.5" y2="195.6" stroke="#c8caf0"/><line x1="152.6" y1="211.9" x2="154.4" y2="213.1" stroke="#ffffff"/><line x1="158.5" y1="214.9" x2="156.4" y2="215.3" stroke="#ffffff"/><line x1="115.8" y1="221.9" x2="115.7" y2="223" stroke="#ffffff"/><line x1="161.5" y1="208.8" x2="161.4" y2="210.3" stroke="#2A30A0"/><line x1="161.1" y1="219.6" x2="159.4" y2="220.9" stroke="#4048B8"/><line x1="143.5" y1="210.3" x2="143.3" y2="212.2" stroke="#4048B8"/><line x1="153.2" y1="219.9" x2="154.6" y2="220" stroke="#2A30A0"/><line x1="155.7" y1="220.6" x2="156.3" y2="222.6" stroke="#ffffff"/><line x1="121.7" y1="216.3" x2="121.4" y2="217.4" stroke="#4048B8"/><line x1="112.8" y1="207.9" x2="112.6" y2="209.5" stroke="#E8EAFA"/><line x1="138.7" y1="221.4" x2="139.6" y2="222.5" stroke="#E8EAFA"/><line x1="138.6" y1="221.3" x2="137.6" y2="221.7" stroke="#ffffff"/><line x1="134.1" y1="223.7" x2="135.9" y2="223.7" stroke="#c8caf0"/><line x1="131.9" y1="195.5" x2="131.9" y2="197.3" stroke="#ffffff"/><line x1="140.1" y1="212" x2="140.4" y2="213.4" stroke="#ffffff"/><line x1="110.9" y1="217.8" x2="112.1" y2="219.3" stroke="#ffffff"/><line x1="131" y1="220.4" x2="131.4" y2="221.6" stroke="#4048B8"/><line x1="161.2" y1="224.2" x2="162" y2="225.4" stroke="#4048B8"/><line x1="148.6" y1="203.4" x2="148.4" y2="204.1" stroke="#E8EAFA"/><line x1="130.4" y1="223.3" x2="129.4" y2="224" stroke="#ffffff"/><line x1="149.8" y1="203.5" x2="151" y2="203.7" stroke="#ffffff"/><line x1="149.3" y1="193.1" x2="148.4" y2="193.2" stroke="#ffffff"/><line x1="147.9" y1="221.1" x2="147.7" y2="222.4" stroke="#ffffff"/><line x1="114.1" y1="208.5" x2="114.1" y2="210.5" stroke="#E8EAFA"/><line x1="144.7" y1="206.9" x2="143.4" y2="208.4" stroke="#2A30A0"/><line x1="155.9" y1="223" x2="155.4" y2="223.7" stroke="#4048B8"/><line x1="142" y1="217.6" x2="143.7" y2="218.6" stroke="#4048B8"/><line x1="134.8" y1="197.3" x2="133.5" y2="198.1" stroke="#ffffff"/><line x1="120.7" y1="223.1" x2="119.4" y2="223.8" stroke="#2A30A0"/><line x1="138.7" y1="194.5" x2="139.2" y2="195.2" stroke="#E8EAFA"/><line x1="154.5" y1="214" x2="154" y2="215.4" stroke="#ffffff"/><line x1="128.5" y1="218.4" x2="127.1" y2="218.7" stroke="#2A30A0"/><line x1="144.8" y1="208.4" x2="144.7" y2="209.4" stroke="#ffffff"/><line x1="120" y1="200.2" x2="121.7" y2="201.1" stroke="#2A30A0"/><line x1="154.2" y1="216.4" x2="154.3" y2="217.3" stroke="#E8EAFA"/><line x1="110.9" y1="219.6" x2="111.4" y2="220.3" stroke="#4048B8"/><line x1="155.1" y1="216.3" x2="155.9" y2="216.5" stroke="#2A30A0"/><line x1="134.7" y1="218" x2="136.5" y2="218.4" stroke="#c8caf0"/><line x1="151.6" y1="216.7" x2="152.6" y2="218" stroke="#ffffff"/><line x1="127.1" y1="211.8" x2="127.2" y2="212.7" stroke="#ffffff"/><line x1="135.3" y1="194.9" x2="135.2" y2="196.3" stroke="#ffffff"/><line x1="156.3" y1="213.4" x2="157.2" y2="215" stroke="#4048B8"/><line x1="158.3" y1="206.3" x2="159.5" y2="206.5" stroke="#2A30A0"/><line x1="145.4" y1="193.8" x2="145.8" y2="195.3" stroke="#E8EAFA"/><line x1="119.2" y1="208.4" x2="118.4" y2="209" stroke="#c8caf0"/><line x1="148.9" y1="202.6" x2="148.4" y2="204" stroke="#2A30A0"/><line x1="111.3" y1="205.8" x2="112.2" y2="207" stroke="#ffffff"/><line x1="150" y1="217.8" x2="149.3" y2="219.1" stroke="#2A30A0"/><line x1="113.1" y1="196.2" x2="111.7" y2="196.3" stroke="#2A30A0"/><line x1="152.4" y1="223" x2="151.7" y2="223.8" stroke="#c8caf0"/><line x1="150.8" y1="219.9" x2="149" y2="219.9" stroke="#E8EAFA"/><line x1="121.1" y1="196" x2="120.3" y2="197.7" stroke="#c8caf0"/><line x1="148" y1="194" x2="148.9" y2="194.7" stroke="#E8EAFA"/><line x1="127" y1="196.4" x2="126.8" y2="198" stroke="#ffffff"/><line x1="110.4" y1="200.9" x2="112" y2="201.7" stroke="#E8EAFA"/><line x1="153.8" y1="201.8" x2="154.1" y2="202.9" stroke="#c8caf0"/><line x1="126.9" y1="193.2" x2="125.6" y2="194.9" stroke="#2A30A0"/><line x1="158.1" y1="201.6" x2="157.3" y2="202.5" stroke="#2A30A0"/><line x1="138.8" y1="221.4" x2="139.5" y2="222.3" stroke="#ffffff"/><line x1="130.2" y1="215.9" x2="130.5" y2="216.7" stroke="#4048B8"/><line x1="134.7" y1="219.4" x2="134.4" y2="220.4" stroke="#ffffff"/><line x1="121.4" y1="200" x2="121.2" y2="201.2" stroke="#4048B8"/><line x1="116.7" y1="206.1" x2="115" y2="206.8" stroke="#ffffff"/><line x1="112" y1="195.1" x2="113.4" y2="195.6" stroke="#ffffff"/><line x1="145.1" y1="204.4" x2="146.2" y2="205.8" stroke="#E8EAFA"/><line x1="121.5" y1="222.2" x2="119.8" y2="223.3" stroke="#ffffff"/><line x1="125.6" y1="220.2" x2="126.5" y2="221.7" stroke="#E8EAFA"/><line x1="129.3" y1="210.3" x2="129" y2="211.4" stroke="#2A30A0"/><line x1="158.6" y1="222.1" x2="160.1" y2="222.7" stroke="#ffffff"/><line x1="127.4" y1="213.1" x2="128.1" y2="214.8" stroke="#4048B8"/><line x1="129.3" y1="213.2" x2="128.3" y2="214.4" stroke="#4048B8"/><line x1="134.7" y1="207.1" x2="133.5" y2="207.1" stroke="#4048B8"/><line x1="126.4" y1="200.9" x2="127.2" y2="201.6" stroke="#E8EAFA"/><line x1="133.2" y1="201.7" x2="134.9" y2="202.2" stroke="#2A30A0"/><line x1="149.4" y1="222.8" x2="149.3" y2="224" stroke="#ffffff"/><line x1="136.3" y1="222.8" x2="134.5" y2="223.8" stroke="#ffffff"/><line x1="151.3" y1="210.1" x2="151" y2="211.3" stroke="#ffffff"/><line x1="134.3" y1="224" x2="135.2" y2="224.9" stroke="#4048B8"/><line x1="134" y1="201.6" x2="134.8" y2="203.1" stroke="#ffffff"/><line x1="130.4" y1="218.8" x2="132" y2="218.9" stroke="#ffffff"/><line x1="159.6" y1="199.1" x2="158" y2="199.5" stroke="#c8caf0"/><line x1="111.5" y1="212.5" x2="110.6" y2="213.3" stroke="#E8EAFA"/><line x1="123.2" y1="224.4" x2="121.7" y2="224.5" stroke="#ffffff"/><line x1="147.1" y1="211.8" x2="148.3" y2="212.8" stroke="#E8EAFA"/><line x1="148.7" y1="208.7" x2="148.2" y2="210" stroke="#c8caf0"/><line x1="111.3" y1="211.1" x2="113" y2="212.4" stroke="#4048B8"/><line x1="144.8" y1="221.8" x2="145.7" y2="222.6" stroke="#2A30A0"/><line x1="143.9" y1="202.3" x2="142.4" y2="203.1" stroke="#2A30A0"/><line x1="116.5" y1="194.8" x2="115.1" y2="195.1" stroke="#ffffff"/><line x1="110.8" y1="195.5" x2="110.2" y2="196.1" stroke="#ffffff"/><line x1="161.8" y1="195" x2="160.6" y2="195.7" stroke="#4048B8"/><line x1="147.6" y1="206.4" x2="148.9" y2="207.1" stroke="#ffffff"/><line x1="114.8" y1="216.4" x2="116.2" y2="216.8" stroke="#4048B8"/><line x1="153.5" y1="220.9" x2="153.2" y2="221.9" stroke="#E8EAFA"/><line x1="116" y1="194.7" x2="115" y2="195.3" stroke="#ffffff"/><line x1="127.6" y1="220" x2="128" y2="221.1" stroke="#c8caf0"/><line x1="121.6" y1="196.2" x2="121" y2="198.1" stroke="#ffffff"/><line x1="154.1" y1="193.6" x2="154.7" y2="195" stroke="#4048B8"/><line x1="115.8" y1="211.9" x2="116.3" y2="213.3" stroke="#ffffff"/><line x1="113.7" y1="199.5" x2="111.9" y2="200.2" stroke="#c8caf0"/><line x1="125.9" y1="215.3" x2="126.5" y2="216.1" stroke="#4048B8"/><line x1="124.7" y1="213.3" x2="123.6" y2="213.6" stroke="#4048B8"/><line x1="118.2" y1="203.1" x2="117.6" y2="204.4" stroke="#2A30A0"/><line x1="128.7" y1="223.7" x2="130.5" y2="224.3" stroke="#c8caf0"/><line x1="132.8" y1="204.6" x2="132.8" y2="206.4" stroke="#4048B8"/><line x1="110.6" y1="198.3" x2="111.5" y2="198.7" stroke="#c8caf0"/><line x1="159.2" y1="216.6" x2="158.3" y2="217.3" stroke="#E8EAFA"/><line x1="153.6" y1="199.6" x2="154" y2="200.5" stroke="#2A30A0"/><line x1="119.8" y1="221" x2="121.1" y2="222.5" stroke="#c8caf0"/><line x1="124.4" y1="193.5" x2="125.2" y2="194.6" stroke="#2A30A0"/><line x1="128.1" y1="196.1" x2="127.8" y2="198.2" stroke="#c8caf0"/><line x1="131.8" y1="215.7" x2="131.4" y2="217" stroke="#2A30A0"/><line x1="150.5" y1="206.8" x2="148.8" y2="207.7" stroke="#ffffff"/><line x1="132.6" y1="199.5" x2="132.6" y2="201.2" stroke="#ffffff"/><line x1="112.6" y1="223.9" x2="113.2" y2="224.9" stroke="#c8caf0"/><line x1="120.2" y1="220.5" x2="118.9" y2="220.8" stroke="#2A30A0"/><line x1="116.1" y1="200.3" x2="116.1" y2="201.9" stroke="#ffffff"/><line x1="138.4" y1="194.9" x2="138.2" y2="196" stroke="#4048B8"/><line x1="136.6" y1="222.4" x2="137.7" y2="223.3" stroke="#c8caf0"/><line x1="138.9" y1="215.8" x2="136.9" y2="216" stroke="#c8caf0"/><line x1="159.2" y1="202" x2="158.1" y2="202.3" stroke="#c8caf0"/><line x1="123.1" y1="209.9" x2="123.2" y2="211.7" stroke="#2A30A0"/><line x1="146.5" y1="193.4" x2="145.9" y2="195.1" stroke="#ffffff"/><line x1="126.3" y1="194.1" x2="126.2" y2="195.2" stroke="#ffffff"/><line x1="127.3" y1="218.6" x2="126.7" y2="220.2" stroke="#E8EAFA"/><line x1="123.8" y1="210.3" x2="123.1" y2="211" stroke="#c8caf0"/><line x1="159.3" y1="206.8" x2="160.8" y2="207.3" stroke="#E8EAFA"/><line x1="143.8" y1="218.3" x2="144.6" y2="218.5" stroke="#E8EAFA"/><line x1="145.5" y1="208.3" x2="144.7" y2="209" stroke="#E8EAFA"/><line x1="125.2" y1="198" x2="125" y2="199.1" stroke="#ffffff"/><line x1="129.1" y1="203.7" x2="130.6" y2="204.6" stroke="#2A30A0"/><line x1="133.5" y1="219.9" x2="135.6" y2="220" stroke="#c8caf0"/><line x1="133.1" y1="215.1" x2="132.7" y2="216.5" stroke="#ffffff"/><line x1="146.3" y1="200" x2="145.4" y2="200.3" stroke="#E8EAFA"/><line x1="127.9" y1="220.6" x2="128.6" y2="221.5" stroke="#2A30A0"/><line x1="133.3" y1="196.4" x2="134.2" y2="196.4" stroke="#2A30A0"/><line x1="145.3" y1="221.4" x2="145.4" y2="223.2" stroke="#c8caf0"/><line x1="128.1" y1="208" x2="128.1" y2="209.2" stroke="#c8caf0"/><line x1="144.1" y1="212.5" x2="146" y2="213.5" stroke="#ffffff"/><line x1="137.9" y1="205.1" x2="138.2" y2="206.5" stroke="#E8EAFA"/><line x1="135.3" y1="214.2" x2="134.6" y2="214.8" stroke="#2A30A0"/><line x1="155.5" y1="209.1" x2="156.4" y2="210.3" stroke="#2A30A0"/><line x1="138.8" y1="206.8" x2="140.3" y2="208" stroke="#E8EAFA"/><line x1="124.6" y1="209.9" x2="125.5" y2="211.7" stroke="#E8EAFA"/><line x1="130.1" y1="214.4" x2="130.7" y2="215.6" stroke="#2A30A0"/><line x1="134.4" y1="215.6" x2="135.7" y2="217.4" stroke="#4048B8"/><line x1="127.5" y1="197.3" x2="128.4" y2="197.9" stroke="#ffffff"/><line x1="141" y1="206.3" x2="140.2" y2="206.3" stroke="#E8EAFA"/><line x1="122.6" y1="194.1" x2="121.8" y2="196" stroke="#ffffff"/><line x1="135.7" y1="223.8" x2="134.3" y2="224.2" stroke="#c8caf0"/><line x1="132.2" y1="202.8" x2="133.3" y2="204.3" stroke="#ffffff"/><line x1="111" y1="194.4" x2="111.1" y2="195.4" stroke="#2A30A0"/><line x1="154.1" y1="212.2" x2="155.5" y2="213.9" stroke="#2A30A0"/><line x1="132.5" y1="210" x2="132.1" y2="210.9" stroke="#ffffff"/><line x1="158.3" y1="217.8" x2="158.6" y2="219.4" stroke="#2A30A0"/><line x1="151.7" y1="201.6" x2="150.2" y2="202.2" stroke="#ffffff"/><line x1="120.3" y1="223.4" x2="121.2" y2="223.5" stroke="#ffffff"/><line x1="110.8" y1="224.7" x2="110.2" y2="225.7" stroke="#ffffff"/><line x1="112.6" y1="217.1" x2="110.6" y2="218" stroke="#ffffff"/><line x1="138.3" y1="206.4" x2="136.5" y2="207.6" stroke="#ffffff"/><line x1="148.3" y1="207.1" x2="147.9" y2="208.9" stroke="#E8EAFA"/><line x1="123.1" y1="197.8" x2="121.9" y2="198.3" stroke="#E8EAFA"/><line x1="132.6" y1="195.6" x2="134.2" y2="196.3" stroke="#2A30A0"/><line x1="130.8" y1="200.1" x2="130.4" y2="201.9" stroke="#ffffff"/><line x1="131.6" y1="203.7" x2="133.3" y2="204.6" stroke="#E8EAFA"/><line x1="132.9" y1="211.6" x2="134.2" y2="213.2" stroke="#4048B8"/><line x1="146" y1="193.3" x2="147.4" y2="194.3" stroke="#ffffff"/><line x1="116.6" y1="211.2" x2="118.5" y2="212.2" stroke="#2A30A0"/><line x1="149.1" y1="210.8" x2="147.5" y2="212" stroke="#ffffff"/><line x1="161.9" y1="195.5" x2="162.2" y2="196.6" stroke="#2A30A0"/><line x1="134.5" y1="193.1" x2="133.6" y2="194" stroke="#ffffff"/><line x1="152.5" y1="207.2" x2="151.1" y2="207.3" stroke="#ffffff"/><line x1="144.1" y1="194" x2="143.9" y2="194.9" stroke="#ffffff"/><line x1="119.9" y1="209.2" x2="118.6" y2="209.3" stroke="#ffffff"/><line x1="153.9" y1="209.4" x2="152.9" y2="211.3" stroke="#4048B8"/><line x1="115.1" y1="212" x2="115" y2="213.1" stroke="#E8EAFA"/><line x1="130.7" y1="222.2" x2="132.1" y2="222.4" stroke="#4048B8"/><line x1="146.8" y1="195.1" x2="148.2" y2="196.2" stroke="#ffffff"/><line x1="153" y1="196.8" x2="151.5" y2="197" stroke="#c8caf0"/><line x1="147.1" y1="221.9" x2="147.7" y2="223" stroke="#2A30A0"/><line x1="156.3" y1="209" x2="157.7" y2="210.4" stroke="#c8caf0"/><line x1="129.3" y1="203.6" x2="128.5" y2="204.7" stroke="#c8caf0"/><line x1="124" y1="205.7" x2="122.1" y2="206.8" stroke="#ffffff"/><line x1="124.1" y1="209.8" x2="125.7" y2="210.1" stroke="#E8EAFA"/><line x1="110.6" y1="200.9" x2="110.1" y2="202.8" stroke="#ffffff"/><line x1="135.7" y1="224.2" x2="136.2" y2="225.5" stroke="#4048B8"/><line x1="150.9" y1="197.5" x2="151.7" y2="199.4" stroke="#ffffff"/><line x1="122.7" y1="218.3" x2="121.6" y2="218.7" stroke="#E8EAFA"/><line x1="150.8" y1="200.7" x2="149.7" y2="201.2" stroke="#ffffff"/><line x1="148.5" y1="211.6" x2="149.1" y2="212.3" stroke="#E8EAFA"/><line x1="147.5" y1="194.3" x2="148.5" y2="194.4" stroke="#c8caf0"/><line x1="110.4" y1="200.3" x2="108.6" y2="201.1" stroke="#ffffff"/><line x1="138" y1="216.3" x2="138.9" y2="217.9" stroke="#c8caf0"/><line x1="156.8" y1="222" x2="156.4" y2="223.7" stroke="#c8caf0"/><line x1="112.5" y1="195.9" x2="112" y2="197.1" stroke="#ffffff"/><line x1="150.5" y1="199.1" x2="148.8" y2="199.4" stroke="#2A30A0"/><line x1="115.4" y1="223.5" x2="114" y2="224.1" stroke="#4048B8"/><line x1="145.5" y1="208.9" x2="144.8" y2="209.3" stroke="#c8caf0"/><line x1="134.2" y1="215.7" x2="135.1" y2="216.5" stroke="#E8EAFA"/><line x1="113" y1="211.8" x2="113.2" y2="213.7" stroke="#c8caf0"/><line x1="137.2" y1="222.3" x2="137" y2="223.5" stroke="#ffffff"/><line x1="124.7" y1="204.3" x2="125.6" y2="205.4" stroke="#2A30A0"/><line x1="126.8" y1="222.2" x2="125.2" y2="223.3" stroke="#ffffff"/><line x1="154.1" y1="221.2" x2="155.2" y2="222" stroke="#4048B8"/><line x1="136.1" y1="209.7" x2="137.2" y2="210.3" stroke="#c8caf0"/><line x1="143" y1="213.3" x2="141.1" y2="213.6" stroke="#E8EAFA"/><line x1="145.3" y1="216.4" x2="147.3" y2="216.7" stroke="#c8caf0"/><line x1="137" y1="196.1" x2="136.3" y2="198" stroke="#2A30A0"/><line x1="154.9" y1="219.2" x2="155.5" y2="220.2" stroke="#E8EAFA"/><line x1="110.7" y1="196" x2="110.3" y2="196.8" stroke="#ffffff"/><line x1="140.5" y1="196.7" x2="140.5" y2="197.6" stroke="#2A30A0"/><line x1="139.9" y1="220" x2="139.2" y2="220.6" stroke="#ffffff"/><line x1="119.2" y1="201.3" x2="120.8" y2="202" stroke="#E8EAFA"/><line x1="140.6" y1="224.1" x2="139.8" y2="225" stroke="#ffffff"/><line x1="126.3" y1="207.4" x2="128.2" y2="207.8" stroke="#E8EAFA"/><line x1="156.7" y1="211" x2="155.3" y2="211.8" stroke="#E8EAFA"/><line x1="143.7" y1="216.7" x2="142.5" y2="218" stroke="#E8EAFA"/><line x1="143.6" y1="216" x2="143.7" y2="217.6" stroke="#E8EAFA"/><line x1="114.2" y1="219" x2="114.8" y2="219.7" stroke="#ffffff"/><line x1="159.8" y1="207.9" x2="159.2" y2="208.5" stroke="#E8EAFA"/><line x1="136.1" y1="195.1" x2="135.8" y2="196.5" stroke="#4048B8"/><line x1="143.8" y1="217.3" x2="145.2" y2="217.4" stroke="#c8caf0"/><line x1="121" y1="198.5" x2="120.5" y2="200.1" stroke="#c8caf0"/><line x1="130.5" y1="209.3" x2="131.3" y2="211.2" stroke="#ffffff"/><line x1="151.8" y1="219.6" x2="151" y2="220.6" stroke="#c8caf0"/><line x1="148.5" y1="193.6" x2="148.7" y2="194.5" stroke="#2A30A0"/><line x1="159.6" y1="194.6" x2="160.6" y2="196.1" stroke="#E8EAFA"/><line x1="137.3" y1="214.3" x2="136.3" y2="215.6" stroke="#ffffff"/><line x1="155.5" y1="201.3" x2="155" y2="203.2" stroke="#2A30A0"/><line x1="143.9" y1="193" x2="144.1" y2="194.2" stroke="#ffffff"/><line x1="134.7" y1="220.1" x2="134.9" y2="222" stroke="#4048B8"/><line x1="132.7" y1="212.8" x2="130.9" y2="214" stroke="#ffffff"/><line x1="128.5" y1="198.2" x2="129.5" y2="199.2" stroke="#ffffff"/><line x1="147.6" y1="202.1" x2="149.2" y2="202.7" stroke="#2A30A0"/><line x1="148.7" y1="201.1" x2="148.4" y2="202.1" stroke="#E8EAFA"/><line x1="158.1" y1="220.4" x2="156.5" y2="221.7" stroke="#E8EAFA"/><line x1="128.5" y1="219.3" x2="126.9" y2="219.8" stroke="#4048B8"/><line x1="152.4" y1="203.3" x2="153.7" y2="204.3" stroke="#E8EAFA"/><line x1="132.4" y1="215.4" x2="133.3" y2="217.2" stroke="#4048B8"/><line x1="153.9" y1="194.2" x2="153.7" y2="195.1" stroke="#4048B8"/><line x1="147.9" y1="197.1" x2="146.4" y2="198.4" stroke="#ffffff"/><line x1="123.8" y1="197.4" x2="124.9" y2="197.6" stroke="#c8caf0"/><line x1="140.6" y1="209.3" x2="141.2" y2="210.5" stroke="#c8caf0"/><line x1="120.3" y1="206.4" x2="121" y2="207.4" stroke="#E8EAFA"/><line x1="127.8" y1="215.8" x2="129.1" y2="215.8" stroke="#E8EAFA"/><line x1="118.8" y1="193.9" x2="119.2" y2="194.8" stroke="#ffffff"/><line x1="147.1" y1="207.2" x2="148" y2="208.1" stroke="#c8caf0"/><line x1="148.4" y1="195.2" x2="147.6" y2="197.1" stroke="#ffffff"/><line x1="154.6" y1="199.1" x2="155.4" y2="200.2" stroke="#4048B8"/><line x1="154.4" y1="203.6" x2="153.3" y2="203.7" stroke="#ffffff"/><line x1="160.5" y1="209.5" x2="161.7" y2="210.2" stroke="#ffffff"/><line x1="129.7" y1="217.2" x2="130.5" y2="217.2" stroke="#E8EAFA"/><line x1="140.5" y1="204.4" x2="139.8" y2="205.3" stroke="#E8EAFA"/><line x1="133.2" y1="201.2" x2="131.4" y2="201.3" stroke="#c8caf0"/><line x1="154.2" y1="193.5" x2="155.1" y2="193.5" stroke="#E8EAFA"/><line x1="159.6" y1="216.1" x2="160.1" y2="218.2" stroke="#4048B8"/><line x1="126" y1="196.1" x2="127.5" y2="197" stroke="#c8caf0"/><line x1="125.7" y1="213.8" x2="124.3" y2="214.6" stroke="#ffffff"/><line x1="156" y1="218.4" x2="156.8" y2="219.5" stroke="#2A30A0"/><line x1="130.1" y1="200.9" x2="128.6" y2="202" stroke="#c8caf0"/><line x1="114.2" y1="224" x2="114.4" y2="224.9" stroke="#2A30A0"/><line x1="157.5" y1="213" x2="157.1" y2="214.9" stroke="#2A30A0"/><line x1="126" y1="214.1" x2="124.4" y2="214.5" stroke="#E8EAFA"/><line x1="114.1" y1="198.3" x2="115.7" y2="199.2" stroke="#c8caf0"/><line x1="159.1" y1="214.9" x2="158.2" y2="216.4" stroke="#4048B8"/><line x1="151.1" y1="224.6" x2="151.5" y2="225.5" stroke="#2A30A0"/><line x1="158.9" y1="223.9" x2="158.2" y2="224.9" stroke="#E8EAFA"/><line x1="143.6" y1="217.8" x2="144.6" y2="218.2" stroke="#c8caf0"/><line x1="124.9" y1="212.9" x2="125.9" y2="214.2" stroke="#ffffff"/><line x1="160.3" y1="220.4" x2="159.9" y2="222.1" stroke="#E8EAFA"/><line x1="143.2" y1="215.3" x2="142.1" y2="216.5" stroke="#ffffff"/><line x1="126.4" y1="213.8" x2="125.3" y2="215.4" stroke="#2A30A0"/><line x1="115.6" y1="221.4" x2="117.2" y2="221.8" stroke="#E8EAFA"/><line x1="111.1" y1="221.3" x2="112.9" y2="222.2" stroke="#E8EAFA"/><line x1="154.4" y1="198.8" x2="153.5" y2="199.8" stroke="#4048B8"/><line x1="160.7" y1="224.2" x2="161.9" y2="225.3" stroke="#ffffff"/><line x1="139.6" y1="195" x2="141" y2="196.7" stroke="#ffffff"/><line x1="132.1" y1="214.4" x2="130.8" y2="216.1" stroke="#c8caf0"/><line x1="118.3" y1="219" x2="116.9" y2="220.5" stroke="#2A30A0"/><line x1="125.7" y1="206.8" x2="125.2" y2="208.3" stroke="#E8EAFA"/><line x1="140.9" y1="212.1" x2="139.6" y2="213.3" stroke="#E8EAFA"/><line x1="134.7" y1="194.5" x2="134.7" y2="196.2" stroke="#c8caf0"/><line x1="129.9" y1="214.5" x2="131" y2="215" stroke="#2A30A0"/><line x1="143.1" y1="218.5" x2="144.3" y2="220.2" stroke="#ffffff"/><line x1="158.4" y1="203.5" x2="158.9" y2="205.1" stroke="#c8caf0"/><line x1="158.8" y1="219.8" x2="159" y2="221.7" stroke="#ffffff"/><line x1="145.4" y1="213.7" x2="146.9" y2="215.3" stroke="#ffffff"/><line x1="145.3" y1="210.5" x2="143.3" y2="210.9" stroke="#4048B8"/><line x1="130.3" y1="193.1" x2="128.6" y2="194.6" stroke="#ffffff"/><line x1="144" y1="194.2" x2="144.8" y2="194.6" stroke="#ffffff"/><line x1="144.7" y1="215.3" x2="145.5" y2="217.2" stroke="#4048B8"/><line x1="141.7" y1="203.3" x2="142.2" y2="204.7" stroke="#ffffff"/><line x1="148.6" y1="218" x2="150" y2="219.3" stroke="#E8EAFA"/><line x1="135" y1="194.8" x2="133.8" y2="195" stroke="#2A30A0"/><line x1="132.2" y1="197.8" x2="131.3" y2="198.8" stroke="#ffffff"/><line x1="143.9" y1="203.6" x2="143.5" y2="204.4" stroke="#4048B8"/><line x1="123.9" y1="213.7" x2="125.6" y2="214.1" stroke="#ffffff"/><line x1="148.6" y1="213.8" x2="147.6" y2="215.3" stroke="#c8caf0"/><line x1="152.2" y1="209" x2="152.7" y2="209.7" stroke="#2A30A0"/><line x1="134.5" y1="214.5" x2="136.1" y2="214.8" stroke="#c8caf0"/><line x1="159.7" y1="213.1" x2="161" y2="214.6" stroke="#ffffff"/><line x1="119.4" y1="196.5" x2="118.8" y2="197.7" stroke="#ffffff"/><line x1="120" y1="196.3" x2="118.9" y2="198.1" stroke="#2A30A0"/><line x1="152.4" y1="205.8" x2="152.6" y2="207.2" stroke="#E8EAFA"/><line x1="151.5" y1="224" x2="151.7" y2="225.8" stroke="#c8caf0"/><line x1="144.8" y1="205.6" x2="146.2" y2="206.4" stroke="#ffffff"/><line x1="119.3" y1="222.8" x2="117.4" y2="223.8" stroke="#4048B8"/><line x1="111.5" y1="199.3" x2="110.1" y2="199.5" stroke="#c8caf0"/><line x1="136.5" y1="213.9" x2="136.1" y2="214.8" stroke="#c8caf0"/><line x1="155.7" y1="205.4" x2="155.9" y2="206.7" stroke="#c8caf0"/><line x1="119.3" y1="219.8" x2="120.5" y2="220.6" stroke="#ffffff"/><line x1="126.1" y1="210.9" x2="127.2" y2="212.4" stroke="#4048B8"/><line x1="128.6" y1="222.7" x2="128.1" y2="223.8" stroke="#c8caf0"/><line x1="134.6" y1="209.8" x2="133.6" y2="209.9" stroke="#2A30A0"/><line x1="125.8" y1="222" x2="125.4" y2="222.7" stroke="#E8EAFA"/><line x1="148.7" y1="195.3" x2="149.1" y2="195.9" stroke="#E8EAFA"/><line x1="143.9" y1="205.6" x2="142.3" y2="206.7" stroke="#4048B8"/><line x1="147.1" y1="221.4" x2="146.7" y2="222.1" stroke="#E8EAFA"/><line x1="124.9" y1="195.3" x2="124.3" y2="197.3" stroke="#ffffff"/><line x1="147.3" y1="220.3" x2="146.5" y2="220.9" stroke="#ffffff"/><line x1="152.2" y1="210.2" x2="151.4" y2="211.4" stroke="#ffffff"/><line x1="120.2" y1="201.4" x2="118.7" y2="201.5" stroke="#ffffff"/><line x1="119.3" y1="219.6" x2="120.6" y2="219.9" stroke="#E8EAFA"/><line x1="115.2" y1="203.2" x2="116.4" y2="204.9" stroke="#ffffff"/><line x1="116.7" y1="208.2" x2="116.9" y2="209.3" stroke="#c8caf0"/><line x1="127.3" y1="219.1" x2="125.9" y2="220" stroke="#4048B8"/><line x1="161.5" y1="197.3" x2="161" y2="198.2" stroke="#2A30A0"/><line x1="139.1" y1="208.7" x2="138.1" y2="208.9" stroke="#4048B8"/><line x1="138.6" y1="211.5" x2="140" y2="212.1" stroke="#ffffff"/><line x1="119.8" y1="219.7" x2="119.6" y2="220.6" stroke="#4048B8"/><line x1="138.1" y1="205.5" x2="136.4" y2="206.3" stroke="#ffffff"/><line x1="120.7" y1="222.6" x2="119.7" y2="224.2" stroke="#4048B8"/><line x1="117.7" y1="209.9" x2="119.3" y2="211.2" stroke="#E8EAFA"/><line x1="113.1" y1="216.7" x2="114" y2="217.1" stroke="#ffffff"/><line x1="123.5" y1="210.5" x2="122.1" y2="210.9" stroke="#c8caf0"/><line x1="161.7" y1="195.9" x2="160" y2="197.2" stroke="#E8EAFA"/><line x1="121.7" y1="222.4" x2="120.2" y2="223.8" stroke="#c8caf0"/><line x1="150.7" y1="202.3" x2="151.4" y2="203.6" stroke="#c8caf0"/><line x1="118.6" y1="218.4" x2="118.4" y2="220.4" stroke="#4048B8"/><line x1="160.3" y1="223.1" x2="161.1" y2="224" stroke="#4048B8"/><line x1="121.4" y1="212" x2="120.9" y2="212.7" stroke="#ffffff"/><line x1="142.1" y1="203" x2="140.7" y2="204.4" stroke="#ffffff"/><line x1="147.7" y1="205.4" x2="148.4" y2="206.4" stroke="#ffffff"/><line x1="114.7" y1="220.3" x2="114.5" y2="221.3" stroke="#4048B8"/><line x1="138.9" y1="213.3" x2="139.9" y2="214.6" stroke="#ffffff"/><line x1="161.6" y1="193.9" x2="161.6" y2="195.5" stroke="#E8EAFA"/><line x1="153.8" y1="197.7" x2="153.1" y2="198.5" stroke="#ffffff"/><line x1="155.1" y1="203.9" x2="155.8" y2="204.3" stroke="#2A30A0"/><line x1="149.3" y1="207.8" x2="148.3" y2="207.9" stroke="#ffffff"/><line x1="145.2" y1="214.9" x2="143.4" y2="216" stroke="#2A30A0"/><line x1="132.5" y1="193.3" x2="130.5" y2="193.5" stroke="#E8EAFA"/><line x1="147.1" y1="221.5" x2="147.8" y2="222.6" stroke="#2A30A0"/><line x1="132.7" y1="221.8" x2="133.7" y2="222.1" stroke="#4048B8"/><line x1="135.1" y1="203.9" x2="135.6" y2="205" stroke="#c8caf0"/><line x1="160.9" y1="213.2" x2="160.1" y2="213.5" stroke="#ffffff"/><line x1="132.5" y1="214.1" x2="133.7" y2="215.8" stroke="#2A30A0"/><line x1="110.7" y1="197.8" x2="110.8" y2="199.4" stroke="#2A30A0"/><line x1="131.9" y1="201.2" x2="131.6" y2="203" stroke="#2A30A0"/><line x1="132.4" y1="196.4" x2="134.3" y2="197.4" stroke="#ffffff"/><line x1="120.5" y1="217.2" x2="120.1" y2="218.7" stroke="#ffffff"/><line x1="114.4" y1="216.2" x2="115.3" y2="217.5" stroke="#c8caf0"/><line x1="111.3" y1="217.1" x2="110.3" y2="217.6" stroke="#2A30A0"/><line x1="154.3" y1="213.6" x2="156.5" y2="213.8" stroke="#c8caf0"/><line x1="136.8" y1="214.4" x2="135.4" y2="215.1" stroke="#2A30A0"/><line x1="150.3" y1="195.4" x2="150.4" y2="196.7" stroke="#ffffff"/><line x1="122" y1="224.5" x2="119.9" y2="224.8" stroke="#2A30A0"/><line x1="156.8" y1="209.6" x2="155.9" y2="211.2" stroke="#2A30A0"/><line x1="142.9" y1="205.3" x2="144.3" y2="205.4" stroke="#ffffff"/><line x1="115.4" y1="197.7" x2="114.6" y2="198.5" stroke="#4048B8"/><line x1="134.7" y1="220.7" x2="134.7" y2="222.2" stroke="#ffffff"/><line x1="139.5" y1="202.5" x2="141" y2="203.7" stroke="#c8caf0"/><line x1="151.5" y1="224.2" x2="150.1" y2="224.3" stroke="#2A30A0"/><line x1="130.3" y1="205.8" x2="128.9" y2="206.5" stroke="#2A30A0"/><line x1="120.7" y1="207.9" x2="121.7" y2="209" stroke="#4048B8"/><line x1="112.8" y1="210.9" x2="112.1" y2="212.2" stroke="#c8caf0"/><line x1="130.5" y1="208.3" x2="132.6" y2="208.3" stroke="#ffffff"/><line x1="142.7" y1="194.4" x2="144.4" y2="194.6" stroke="#E8EAFA"/><line x1="150" y1="198" x2="149.5" y2="199.4" stroke="#4048B8"/><line x1="158.3" y1="217.5" x2="159.5" y2="218.1" stroke="#c8caf0"/><line x1="133.1" y1="201.3" x2="133.3" y2="203" stroke="#4048B8"/><line x1="112.3" y1="220.8" x2="111.3" y2="221" stroke="#c8caf0"/><line x1="129.8" y1="219.1" x2="128.3" y2="219.8" stroke="#4048B8"/><line x1="129.4" y1="203.8" x2="129.1" y2="205.9" stroke="#c8caf0"/><line x1="111.5" y1="223" x2="109.6" y2="223.7" stroke="#E8EAFA"/><line x1="124.5" y1="222.1" x2="125.5" y2="222.6" stroke="#4048B8"/><line x1="149.5" y1="193.7" x2="148.8" y2="195.7" stroke="#ffffff"/><line x1="131.1" y1="218.2" x2="130.6" y2="220.3" stroke="#ffffff"/><line x1="114" y1="211.5" x2="115.7" y2="212.1" stroke="#c8caf0"/><line x1="145.8" y1="217.4" x2="144.7" y2="218" stroke="#E8EAFA"/><line x1="137.1" y1="200.5" x2="138" y2="201.1" stroke="#E8EAFA"/><line x1="130.6" y1="196.5" x2="129.8" y2="197.1" stroke="#ffffff"/><line x1="149.2" y1="207.6" x2="149.5" y2="208.8" stroke="#c8caf0"/><line x1="110.7" y1="204.9" x2="112.2" y2="205" stroke="#c8caf0"/><line x1="146.3" y1="217.8" x2="147.1" y2="219.3" stroke="#4048B8"/><line x1="133.4" y1="202.3" x2="131.5" y2="202.7" stroke="#ffffff"/><line x1="121.9" y1="202.1" x2="121.9" y2="203.5" stroke="#ffffff"/><line x1="119.4" y1="209.4" x2="119.8" y2="210.8" stroke="#4048B8"/><line x1="138" y1="210.6" x2="139.2" y2="211.6" stroke="#ffffff"/><line x1="137.7" y1="212.4" x2="138.4" y2="213.1" stroke="#2A30A0"/><line x1="110.7" y1="221.2" x2="112.2" y2="221.6" stroke="#ffffff"/><line x1="110.6" y1="216.9" x2="108.9" y2="217.2" stroke="#E8EAFA"/><line x1="140.6" y1="220.1" x2="141.5" y2="220.8" stroke="#ffffff"/><line x1="130.2" y1="201.1" x2="131.1" y2="201.6" stroke="#ffffff"/><line x1="135.5" y1="213.1" x2="136.4" y2="214.4" stroke="#4048B8"/><line x1="140.4" y1="211.5" x2="139.6" y2="213" stroke="#4048B8"/><line x1="141.7" y1="212.3" x2="141.6" y2="213.1" stroke="#c8caf0"/><line x1="154.2" y1="209.7" x2="155.6" y2="211" stroke="#c8caf0"/><line x1="153.2" y1="220.6" x2="152.5" y2="220.9" stroke="#ffffff"/><line x1="120" y1="222.6" x2="120.3" y2="223.7" stroke="#ffffff"/><line x1="119.1" y1="208.1" x2="118.5" y2="210.1" stroke="#ffffff"/><line x1="140.9" y1="206.3" x2="140.4" y2="208.2" stroke="#ffffff"/><line x1="159" y1="206.2" x2="159.4" y2="207.3" stroke="#E8EAFA"/></g><path d="M110.9,202.1 C112.6,200 118.8,201.2 122.7,200.4 C126.7,199.6 130.7,198.3 134.6,197.4 C138.5,196.5 142.5,195.2 146.4,195 C150.3,194.8 155.8,194.9 158.2,196.2 C160.6,197.5 160.9,200.5 161.1,202.7 C161.3,204.9 161.3,207.6 159.4,209.2 C157.5,210.8 153.1,211 149.9,212.2 C146.8,213.4 144.1,214.7 140.5,216.3 C136.9,217.9 132.8,220.3 128.6,221.6 C124.4,222.9 118.3,225.6 115.6,224.2 C112.9,222.8 113.3,216.7 112.5,213 C111.7,209.3 109.2,204.2 110.9,202.1 Z" fill="none" stroke="#2e30a0" stroke-width="1.8" stroke-dasharray="0.4 0.5" opacity="0.9"/><path d="M110.9,202.1 C112.6,200 118.8,201.2 122.7,200.4 C126.7,199.6 130.7,198.3 134.6,197.4 C138.5,196.5 142.5,195.2 146.4,195 C150.3,194.8 155.8,194.9 158.2,196.2 C160.6,197.5 160.9,200.5 161.1,202.7 C161.3,204.9 161.3,207.6 159.4,209.2 C157.5,210.8 153.1,211 149.9,212.2 C146.8,213.4 144.1,214.7 140.5,216.3 C136.9,217.9 132.8,220.3 128.6,221.6 C124.4,222.9 118.3,225.6 115.6,224.2 C112.9,222.8 113.3,216.7 112.5,213 C111.7,209.3 109.2,204.2 110.9,202.1 Z" fill="none" stroke="#4446b8" stroke-width="3.2" stroke-dasharray="0.3 0.8" opacity="0.75"/><text x="150.8" y="225" font-size="3.8" fill="#444" text-anchor="middle" font-family='"Liberation Serif",serif'>CNT</text><defs><linearGradient id="oa167208" x1="0" y1="0" x2="1" y2="0"><stop offset="0" stop-color="#F8C8A0"/><stop offset="1" stop-color="#F07828"/></linearGradient></defs><path d="M167,207.1 L179.5,207.1 L179.5,205.1 L184.5,208.7 L179.5,212.3 L179.5,210.3 L167,210.3 Z" fill="url(#oa167208)"/><text x="175.5" y="204" font-size="3.4" fill="#444" text-anchor="middle" font-family='"Liberation Serif",serif' font-style="italic">Zn Plating</text><defs><linearGradient id="gCP" x1="0.3" y1="0" x2="0.45" y2="1"><stop offset="0" stop-color="#6a70b8"/><stop offset="1" stop-color="#404890"/></linearGradient><clipPath id="cgCP"><path d="M189.3,201.6 C191.1,199.8 197.8,201.5 202,200.9 C206.2,200.3 210.9,198.9 214.7,197.8 C218.5,196.8 221.3,194.8 224.9,194.6 C228.5,194.4 234,194.9 236.3,196.5 C238.6,198.1 239.2,202.1 238.8,204.1 C238.4,206.1 236.8,206.9 233.8,208.6 C230.8,210.3 225.2,212.3 221,214.3 C216.8,216.3 212.8,219.1 208.4,220.6 C204,222.1 197.2,224.5 194.4,223.1 C191.6,221.7 192.3,215.6 191.5,212 C190.7,208.4 187.6,203.4 189.3,201.6 Z"/></clipPath></defs><path d="M189.3,201.6 C191.1,199.8 197.8,201.5 202,200.9 C206.2,200.3 210.9,198.9 214.7,197.8 C218.5,196.8 221.3,194.8 224.9,194.6 C228.5,194.4 234,194.9 236.3,196.5 C238.6,198.1 239.2,202.1 238.8,204.1 C238.4,206.1 236.8,206.9 233.8,208.6 C230.8,210.3 225.2,212.3 221,214.3 C216.8,216.3 212.8,219.1 208.4,220.6 C204,222.1 197.2,224.5 194.4,223.1 C191.6,221.7 192.3,215.6 191.5,212 C190.7,208.4 187.6,203.4 189.3,201.6 Z" fill="url(#gCP)"/><g clip-path="url(#cgCP)"><circle cx="238.9" cy="194.7" r="0.55" fill="#2A2E80"/><circle cx="213.2" cy="222.2" r="0.55" fill="#D8D040"/><circle cx="189.8" cy="197.3" r="0.55" fill="#D8D040"/><circle cx="231.2" cy="222.9" r="0.55" fill="#D8D040"/><circle cx="220.8" cy="194.1" r="0.55" fill="#D8D040"/><circle cx="210.8" cy="200.4" r="0.55" fill="#8088E0"/><circle cx="196.9" cy="200.1" r="0.55" fill="#C8C030"/><circle cx="213.4" cy="208.5" r="0.55" fill="#3038A0"/><circle cx="232.6" cy="220.9" r="0.55" fill="#D8D040"/><circle cx="237.3" cy="210.9" r="0.55" fill="#C8C030"/><circle cx="216.3" cy="197.4" r="0.55" fill="#2A2E80"/><circle cx="222.8" cy="214.8" r="0.55" fill="#C8C030"/><circle cx="192.8" cy="198.7" r="0.55" fill="#D8D040"/><circle cx="230.2" cy="213.4" r="0.55" fill="#D8D040"/><circle cx="219.1" cy="199.3" r="0.55" fill="#8088E0"/><circle cx="222.1" cy="209.4" r="0.55" fill="#D8D040"/><circle cx="195" cy="215.4" r="0.55" fill="#8088E0"/><circle cx="192.5" cy="212.6" r="0.55" fill="#8088E0"/><circle cx="204" cy="210.2" r="0.55" fill="#D8D040"/><circle cx="191.8" cy="198.2" r="0.55" fill="#8088E0"/><circle cx="195.8" cy="222.8" r="0.55" fill="#8088E0"/><circle cx="230.6" cy="207" r="0.55" fill="#8088E0"/><circle cx="230.2" cy="200.4" r="0.55" fill="#D8D040"/><circle cx="215.5" cy="213.8" r="0.55" fill="#3038A0"/><circle cx="222.9" cy="218.4" r="0.55" fill="#3038A0"/><circle cx="225.7" cy="221" r="0.55" fill="#C8C030"/><circle cx="201.6" cy="205.6" r="0.55" fill="#8088E0"/><circle cx="214.9" cy="197.8" r="0.55" fill="#2A2E80"/><circle cx="207.5" cy="219.3" r="0.55" fill="#3038A0"/><circle cx="195.8" cy="207.2" r="0.55" fill="#3038A0"/><circle cx="197.7" cy="197.7" r="0.55" fill="#8088E0"/><circle cx="196" cy="214.3" r="0.55" fill="#8088E0"/><circle cx="204.8" cy="199.5" r="0.55" fill="#C8C030"/><circle cx="198.1" cy="197.3" r="0.55" fill="#C8C030"/><circle cx="191.2" cy="195.8" r="0.55" fill="#8088E0"/><circle cx="199.9" cy="203.1" r="0.55" fill="#C8C030"/><circle cx="233.5" cy="202.1" r="0.55" fill="#8088E0"/><circle cx="223.4" cy="201" r="0.55" fill="#D8D040"/><circle cx="199.6" cy="214.8" r="0.55" fill="#C8C030"/><circle cx="226.8" cy="215.2" r="0.55" fill="#C8C030"/><circle cx="201.6" cy="217.7" r="0.55" fill="#2A2E80"/><circle cx="212.8" cy="193.2" r="0.55" fill="#2A2E80"/><circle cx="224.1" cy="201.3" r="0.55" fill="#3038A0"/><circle cx="214.4" cy="221.6" r="0.55" fill="#3038A0"/><circle cx="213.2" cy="199.5" r="0.55" fill="#3038A0"/><circle cx="224.9" cy="201" r="0.55" fill="#2A2E80"/><circle cx="235.7" cy="201.9" r="0.55" fill="#C8C030"/><circle cx="231.7" cy="198.3" r="0.55" fill="#3038A0"/><circle cx="204.3" cy="200.6" r="0.55" fill="#3038A0"/><circle cx="221.8" cy="207.2" r="0.55" fill="#8088E0"/><circle cx="224.1" cy="218.7" r="0.55" fill="#3038A0"/><circle cx="192" cy="197.2" r="0.55" fill="#2A2E80"/><circle cx="228.4" cy="201.2" r="0.55" fill="#2A2E80"/><circle cx="225.1" cy="202" r="0.55" fill="#C8C030"/><circle cx="240" cy="221.2" r="0.55" fill="#D8D040"/><circle cx="194.5" cy="193.8" r="0.55" fill="#2A2E80"/><circle cx="227.4" cy="198.8" r="0.55" fill="#C8C030"/><circle cx="200.7" cy="217.4" r="0.55" fill="#8088E0"/><circle cx="188.7" cy="196.8" r="0.55" fill="#D8D040"/><circle cx="210" cy="197.8" r="0.55" fill="#D8D040"/><circle cx="205.1" cy="195.4" r="0.55" fill="#D8D040"/><circle cx="215.8" cy="207.5" r="0.55" fill="#D8D040"/><circle cx="227.8" cy="195.5" r="0.55" fill="#D8D040"/><circle cx="231.4" cy="221.9" r="0.55" fill="#D8D040"/><circle cx="229.8" cy="213.2" r="0.55" fill="#3038A0"/><circle cx="209.7" cy="195.5" r="0.55" fill="#2A2E80"/><circle cx="203.9" cy="208.6" r="0.55" fill="#2A2E80"/><circle cx="194.1" cy="221.9" r="0.55" fill="#C8C030"/><circle cx="235.9" cy="217.4" r="0.55" fill="#D8D040"/><circle cx="202.3" cy="212.7" r="0.55" fill="#2A2E80"/><circle cx="234.5" cy="216" r="0.55" fill="#3038A0"/><circle cx="225.1" cy="198.5" r="0.55" fill="#D8D040"/><circle cx="234.1" cy="198.4" r="0.55" fill="#8088E0"/><circle cx="208.1" cy="217.8" r="0.55" fill="#D8D040"/><circle cx="216.8" cy="201.4" r="0.55" fill="#3038A0"/><circle cx="194.4" cy="220.6" r="0.55" fill="#D8D040"/><circle cx="210.2" cy="210.8" r="0.55" fill="#D8D040"/><circle cx="203.6" cy="217.4" r="0.55" fill="#8088E0"/><circle cx="220.5" cy="214.4" r="0.55" fill="#3038A0"/><circle cx="203.9" cy="221.9" r="0.55" fill="#3038A0"/><circle cx="212.3" cy="196.8" r="0.55" fill="#C8C030"/><circle cx="208.3" cy="209.7" r="0.55" fill="#C8C030"/><circle cx="233.2" cy="199.4" r="0.55" fill="#2A2E80"/><circle cx="217.5" cy="223.6" r="0.55" fill="#3038A0"/><circle cx="238.7" cy="211.2" r="0.55" fill="#3038A0"/><circle cx="219.8" cy="212" r="0.55" fill="#8088E0"/><circle cx="209.3" cy="223.8" r="0.55" fill="#D8D040"/><circle cx="226.6" cy="198.3" r="0.55" fill="#8088E0"/><circle cx="224.9" cy="204.9" r="0.55" fill="#2A2E80"/><circle cx="203.9" cy="203.5" r="0.55" fill="#2A2E80"/><circle cx="204.9" cy="206.4" r="0.55" fill="#3038A0"/><circle cx="217.8" cy="202.6" r="0.55" fill="#2A2E80"/><circle cx="229.1" cy="209.8" r="0.55" fill="#3038A0"/><circle cx="191.2" cy="203.6" r="0.55" fill="#2A2E80"/><circle cx="191.8" cy="209.4" r="0.55" fill="#C8C030"/><circle cx="208.4" cy="210.7" r="0.55" fill="#D8D040"/><circle cx="231.5" cy="193.4" r="0.55" fill="#3038A0"/><circle cx="200.5" cy="202.8" r="0.55" fill="#8088E0"/><circle cx="220.9" cy="203.6" r="0.55" fill="#2A2E80"/><circle cx="235.4" cy="195" r="0.55" fill="#3038A0"/><circle cx="207.7" cy="215.6" r="0.55" fill="#D8D040"/><circle cx="215.2" cy="207.8" r="0.55" fill="#8088E0"/><circle cx="196.6" cy="202.6" r="0.55" fill="#D8D040"/><circle cx="212.2" cy="201.1" r="0.55" fill="#2A2E80"/><circle cx="219.8" cy="223.6" r="0.55" fill="#C8C030"/><circle cx="227.7" cy="203.4" r="0.55" fill="#D8D040"/><circle cx="230" cy="194.6" r="0.55" fill="#D8D040"/><circle cx="239" cy="216" r="0.55" fill="#3038A0"/><circle cx="229.2" cy="194.6" r="0.55" fill="#3038A0"/><circle cx="221.3" cy="194" r="0.55" fill="#3038A0"/><circle cx="203.7" cy="219.8" r="0.55" fill="#8088E0"/><circle cx="193.9" cy="215" r="0.55" fill="#D8D040"/><circle cx="212" cy="193" r="0.55" fill="#8088E0"/><circle cx="194" cy="200.6" r="0.55" fill="#D8D040"/><circle cx="205.4" cy="210.4" r="0.55" fill="#3038A0"/><circle cx="209.8" cy="210" r="0.55" fill="#C8C030"/><circle cx="196.8" cy="211.2" r="0.55" fill="#C8C030"/><circle cx="191.2" cy="195.5" r="0.55" fill="#8088E0"/><circle cx="237.9" cy="218.6" r="0.55" fill="#D8D040"/><circle cx="201.1" cy="203.1" r="0.55" fill="#2A2E80"/><circle cx="230.7" cy="200.5" r="0.55" fill="#8088E0"/><circle cx="195.4" cy="215.5" r="0.55" fill="#8088E0"/><circle cx="193.7" cy="205.6" r="0.55" fill="#8088E0"/><circle cx="231.8" cy="201.9" r="0.55" fill="#C8C030"/><circle cx="236.6" cy="218.8" r="0.55" fill="#3038A0"/><circle cx="199.8" cy="207.1" r="0.55" fill="#D8D040"/><circle cx="195.2" cy="210.2" r="0.55" fill="#D8D040"/><circle cx="231.7" cy="215" r="0.55" fill="#D8D040"/><circle cx="225.4" cy="223.4" r="0.55" fill="#2A2E80"/><circle cx="199.7" cy="209.2" r="0.55" fill="#D8D040"/><circle cx="210.5" cy="208.2" r="0.55" fill="#D8D040"/><circle cx="213.2" cy="223.7" r="0.55" fill="#C8C030"/><circle cx="209.2" cy="207.1" r="0.55" fill="#8088E0"/><circle cx="212.7" cy="200.6" r="0.55" fill="#C8C030"/><circle cx="196.4" cy="214.7" r="0.55" fill="#D8D040"/><circle cx="224.2" cy="221.2" r="0.55" fill="#3038A0"/><circle cx="210.8" cy="197.9" r="0.55" fill="#3038A0"/><circle cx="191.8" cy="196.9" r="0.55" fill="#2A2E80"/><circle cx="227.1" cy="205.2" r="0.55" fill="#3038A0"/><circle cx="198.7" cy="205.9" r="0.55" fill="#8088E0"/><circle cx="194.7" cy="222" r="0.55" fill="#C8C030"/><circle cx="227.3" cy="214" r="0.55" fill="#3038A0"/><circle cx="217.3" cy="220.1" r="0.55" fill="#3038A0"/><circle cx="195.7" cy="193.9" r="0.55" fill="#D8D040"/><circle cx="208.1" cy="198.8" r="0.55" fill="#8088E0"/><circle cx="231.1" cy="212.7" r="0.55" fill="#8088E0"/><circle cx="218.2" cy="204.5" r="0.55" fill="#8088E0"/><circle cx="193.7" cy="212.8" r="0.55" fill="#C8C030"/><circle cx="192" cy="202.2" r="0.55" fill="#3038A0"/><circle cx="213.2" cy="196.5" r="0.55" fill="#C8C030"/><circle cx="224.8" cy="217.4" r="0.55" fill="#2A2E80"/><circle cx="223.7" cy="195.9" r="0.55" fill="#C8C030"/><circle cx="202.2" cy="200.1" r="0.55" fill="#D8D040"/><circle cx="205.4" cy="220.5" r="0.55" fill="#2A2E80"/><circle cx="211.6" cy="211" r="0.55" fill="#3038A0"/><circle cx="194.7" cy="199.6" r="0.55" fill="#2A2E80"/><circle cx="212" cy="221.4" r="0.55" fill="#D8D040"/><circle cx="225.7" cy="213.3" r="0.55" fill="#3038A0"/><circle cx="213.8" cy="221.8" r="0.55" fill="#D8D040"/><circle cx="208.4" cy="199.1" r="0.55" fill="#2A2E80"/><circle cx="228.4" cy="213.7" r="0.55" fill="#3038A0"/><circle cx="224.4" cy="222.3" r="0.55" fill="#2A2E80"/><circle cx="222" cy="195.7" r="0.55" fill="#3038A0"/><circle cx="219.8" cy="209.2" r="0.55" fill="#8088E0"/><circle cx="233.7" cy="212" r="0.55" fill="#3038A0"/><circle cx="195.6" cy="195.5" r="0.55" fill="#D8D040"/><circle cx="210" cy="194.8" r="0.55" fill="#C8C030"/><circle cx="196.8" cy="209.8" r="0.55" fill="#2A2E80"/><circle cx="188.2" cy="196" r="0.55" fill="#3038A0"/><circle cx="223" cy="203" r="0.55" fill="#D8D040"/><circle cx="233.4" cy="216.3" r="0.55" fill="#8088E0"/><circle cx="207" cy="206.9" r="0.55" fill="#3038A0"/><circle cx="208.8" cy="196.1" r="0.55" fill="#2A2E80"/><circle cx="208.7" cy="201.6" r="0.55" fill="#C8C030"/><circle cx="214.6" cy="216.2" r="0.55" fill="#3038A0"/><circle cx="194.4" cy="214.4" r="0.55" fill="#2A2E80"/><circle cx="198.7" cy="219.8" r="0.55" fill="#D8D040"/><circle cx="219" cy="193.8" r="0.55" fill="#8088E0"/><circle cx="236.6" cy="213.9" r="0.55" fill="#C8C030"/><circle cx="214" cy="219.7" r="0.55" fill="#2A2E80"/><circle cx="202" cy="218.3" r="0.55" fill="#8088E0"/><circle cx="220.3" cy="199.7" r="0.55" fill="#D8D040"/><circle cx="233.7" cy="204.4" r="0.55" fill="#2A2E80"/><circle cx="239.2" cy="209" r="0.55" fill="#C8C030"/><circle cx="192.4" cy="199.3" r="0.55" fill="#8088E0"/><circle cx="238.8" cy="204.6" r="0.55" fill="#D8D040"/><circle cx="234.1" cy="199.6" r="0.55" fill="#C8C030"/><circle cx="214" cy="194" r="0.55" fill="#8088E0"/><circle cx="217.9" cy="211.7" r="0.55" fill="#D8D040"/><circle cx="207" cy="204.5" r="0.55" fill="#C8C030"/><circle cx="202.1" cy="197.8" r="0.55" fill="#8088E0"/><circle cx="234.1" cy="211.6" r="0.55" fill="#2A2E80"/><circle cx="210.8" cy="223.7" r="0.55" fill="#3038A0"/><circle cx="203.7" cy="214.8" r="0.55" fill="#D8D040"/><circle cx="206.3" cy="200.3" r="0.55" fill="#C8C030"/><circle cx="231.6" cy="196.5" r="0.55" fill="#3038A0"/><circle cx="210.6" cy="222.7" r="0.55" fill="#3038A0"/><circle cx="188.5" cy="204.7" r="0.55" fill="#8088E0"/><circle cx="208.9" cy="199.9" r="0.55" fill="#2A2E80"/><circle cx="214.5" cy="210.4" r="0.55" fill="#3038A0"/><circle cx="195.5" cy="207.5" r="0.55" fill="#3038A0"/><circle cx="200.4" cy="210.6" r="0.55" fill="#8088E0"/><circle cx="206.7" cy="203.2" r="0.55" fill="#8088E0"/><circle cx="228.8" cy="196.4" r="0.55" fill="#3038A0"/><circle cx="190.1" cy="213.8" r="0.55" fill="#C8C030"/><circle cx="195.6" cy="213.9" r="0.55" fill="#C8C030"/><circle cx="207.7" cy="212.5" r="0.55" fill="#2A2E80"/><circle cx="222.3" cy="199.7" r="0.55" fill="#2A2E80"/><circle cx="212.7" cy="218.4" r="0.55" fill="#8088E0"/><circle cx="192.9" cy="209.5" r="0.55" fill="#D8D040"/><circle cx="234" cy="200.9" r="0.55" fill="#C8C030"/><circle cx="225" cy="222.8" r="0.55" fill="#8088E0"/><circle cx="195.3" cy="205.5" r="0.55" fill="#C8C030"/><circle cx="220.2" cy="217.2" r="0.55" fill="#3038A0"/><circle cx="239.2" cy="205.7" r="0.55" fill="#C8C030"/><circle cx="194.4" cy="204.3" r="0.55" fill="#D8D040"/><circle cx="203.8" cy="212.3" r="0.55" fill="#D8D040"/><circle cx="197" cy="221.7" r="0.55" fill="#8088E0"/><circle cx="235.9" cy="193.9" r="0.55" fill="#C8C030"/><circle cx="192.8" cy="220.1" r="0.55" fill="#3038A0"/><circle cx="218.9" cy="219.3" r="0.55" fill="#8088E0"/><circle cx="194.5" cy="210.2" r="0.55" fill="#8088E0"/><circle cx="216.8" cy="223.9" r="0.55" fill="#8088E0"/><circle cx="190" cy="195.8" r="0.55" fill="#C8C030"/><circle cx="217.4" cy="202.3" r="0.55" fill="#8088E0"/><circle cx="214.5" cy="213.2" r="0.55" fill="#2A2E80"/><circle cx="228.1" cy="197.6" r="0.55" fill="#8088E0"/><circle cx="224" cy="218.3" r="0.55" fill="#3038A0"/><circle cx="209.4" cy="196.2" r="0.55" fill="#D8D040"/><circle cx="194.6" cy="216.5" r="0.55" fill="#D8D040"/><circle cx="231.1" cy="221.8" r="0.55" fill="#3038A0"/><circle cx="190" cy="199.2" r="0.55" fill="#D8D040"/><circle cx="201.1" cy="220.9" r="0.55" fill="#C8C030"/><circle cx="226.6" cy="211.8" r="0.55" fill="#D8D040"/><circle cx="218.7" cy="214.1" r="0.55" fill="#D8D040"/><circle cx="216.8" cy="214.8" r="0.55" fill="#2A2E80"/><circle cx="225.1" cy="217.2" r="0.55" fill="#3038A0"/><circle cx="236.7" cy="221.9" r="0.55" fill="#3038A0"/><circle cx="189.7" cy="221.6" r="0.55" fill="#D8D040"/><circle cx="226.9" cy="223.6" r="0.55" fill="#D8D040"/><circle cx="209" cy="218.1" r="0.55" fill="#2A2E80"/><circle cx="230.2" cy="204.5" r="0.55" fill="#8088E0"/><circle cx="229.9" cy="220.6" r="0.55" fill="#2A2E80"/><circle cx="222.6" cy="193.5" r="0.55" fill="#D8D040"/><circle cx="229.9" cy="215.5" r="0.55" fill="#C8C030"/><circle cx="189.9" cy="202.9" r="0.55" fill="#3038A0"/><circle cx="239.3" cy="218.1" r="0.55" fill="#3038A0"/><circle cx="236" cy="221.4" r="0.55" fill="#3038A0"/><circle cx="218.5" cy="195.1" r="0.55" fill="#C8C030"/><circle cx="218.5" cy="196.8" r="0.55" fill="#D8D040"/><circle cx="240" cy="200.8" r="0.55" fill="#8088E0"/><circle cx="228.6" cy="215.5" r="0.55" fill="#3038A0"/><circle cx="216.7" cy="204" r="0.55" fill="#C8C030"/><circle cx="229.4" cy="205.5" r="0.55" fill="#3038A0"/><circle cx="200.1" cy="203.3" r="0.55" fill="#C8C030"/><circle cx="213.2" cy="221.3" r="0.55" fill="#8088E0"/><circle cx="235.1" cy="205" r="0.55" fill="#D8D040"/><circle cx="193.5" cy="215.9" r="0.55" fill="#3038A0"/><circle cx="239.3" cy="202.1" r="0.55" fill="#3038A0"/><circle cx="213.9" cy="204.4" r="0.55" fill="#C8C030"/></g><path d="M189.3,201.6 C191.1,199.8 197.8,201.5 202,200.9 C206.2,200.3 210.9,198.9 214.7,197.8 C218.5,196.8 221.3,194.8 224.9,194.6 C228.5,194.4 234,194.9 236.3,196.5 C238.6,198.1 239.2,202.1 238.8,204.1 C238.4,206.1 236.8,206.9 233.8,208.6 C230.8,210.3 225.2,212.3 221,214.3 C216.8,216.3 212.8,219.1 208.4,220.6 C204,222.1 197.2,224.5 194.4,223.1 C191.6,221.7 192.3,215.6 191.5,212 C190.7,208.4 187.6,203.4 189.3,201.6 Z" fill="none" stroke="#4048b8" stroke-width="1.6" stroke-dasharray="0.4 0.5" opacity="0.9"/><path d="M189.3,201.6 C191.1,199.8 197.8,201.5 202,200.9 C206.2,200.3 210.9,198.9 214.7,197.8 C218.5,196.8 221.3,194.8 224.9,194.6 C228.5,194.4 234,194.9 236.3,196.5 C238.6,198.1 239.2,202.1 238.8,204.1 C238.4,206.1 236.8,206.9 233.8,208.6 C230.8,210.3 225.2,212.3 221,214.3 C216.8,216.3 212.8,219.1 208.4,220.6 C204,222.1 197.2,224.5 194.4,223.1 C191.6,221.7 192.3,215.6 191.5,212 C190.7,208.4 187.6,203.4 189.3,201.6 Z" fill="none" stroke="#5a60c8" stroke-width="2.6" stroke-dasharray="0.3 0.9" opacity="0.7"/><rect x="188.2" y="191.2" width="4.8" height="3.2" fill="#F6CDB8" opacity="0.9"/><line x1="190.6" y1="194.1" x2="190.6" y2="199.1" stroke="#8a8a60" stroke-width="0.45"/><rect x="198.4" y="190.5" width="4.8" height="3.2" fill="#F6CDB8" opacity="0.9"/><line x1="200.8" y1="193.4" x2="200.8" y2="198.4" stroke="#8a8a60" stroke-width="0.45"/><rect x="208.5" y="189.5" width="4.8" height="3.2" fill="#F6CDB8" opacity="0.9"/><line x1="210.9" y1="192.4" x2="210.9" y2="197.4" stroke="#8a8a60" stroke-width="0.45"/><rect x="218" y="187.5" width="4.8" height="3.2" fill="#F6CDB8" opacity="0.9"/><line x1="220.4" y1="190.4" x2="220.4" y2="195.4" stroke="#8a8a60" stroke-width="0.45"/><rect x="227.6" y="187" width="4.8" height="3.2" fill="#F6CDB8" opacity="0.9"/><line x1="230" y1="189.9" x2="230" y2="194.9" stroke="#8a8a60" stroke-width="0.45"/><rect x="197.6" y="229.5" width="4.8" height="3.2" fill="#F6CDB8" opacity="0.9"/><line x1="200" y1="229.8" x2="200" y2="224.8" stroke="#8a8a60" stroke-width="0.45"/><rect x="211.1" y="226.5" width="4.8" height="3.2" fill="#F6CDB8" opacity="0.9"/><line x1="213.5" y1="226.8" x2="213.5" y2="221.8" stroke="#8a8a60" stroke-width="0.45"/><rect x="222.5" y="224.5" width="4.8" height="3.2" fill="#F6CDB8" opacity="0.9"/><line x1="224.9" y1="224.8" x2="224.9" y2="219.8" stroke="#8a8a60" stroke-width="0.45"/><rect x="231.4" y="221.5" width="4.8" height="3.2" fill="#F6CDB8" opacity="0.9"/><line x1="233.8" y1="221.8" x2="233.8" y2="216.8" stroke="#8a8a60" stroke-width="0.45"/><rect x="239" y="217.5" width="4.8" height="3.2" fill="#F6CDB8" opacity="0.9"/><line x1="241.4" y1="217.8" x2="241.4" y2="212.8" stroke="#8a8a60" stroke-width="0.45"/><defs><linearGradient id="oa246207" x1="0" y1="0" x2="1" y2="0"><stop offset="0" stop-color="#F8C8A0"/><stop offset="1" stop-color="#F07828"/></linearGradient></defs><path d="M246,206.1 L259.5,206.1 L259.5,204.1 L264.5,207.7 L259.5,211.3 L259.5,209.3 L246,209.3 Z" fill="url(#oa246207)"/><text x="254" y="202.5" font-size="3.4" fill="#444" text-anchor="middle" font-family='"Liberation Serif",serif'>Cycling</text><defs><linearGradient id="gDF" x1="0.3" y1="0" x2="0.45" y2="1"><stop offset="0" stop-color="#7a7642"/><stop offset="0.6" stop-color="#6a6636"/><stop offset="1" stop-color="#3c3c40"/></linearGradient><clipPath id="cgDF"><path d="M267,202.2 C268.8,200.5 274.9,202.3 279,201.6 C283.1,200.9 287.9,199 291.7,197.8 C295.5,196.6 298.3,195 301.9,194.6 C305.5,194.2 310.6,193.9 313.3,195.2 C316.1,196.5 318,200.1 318.4,202.2 C318.8,204.3 317.5,206.5 315.8,207.9 C314.1,209.3 311.2,209.4 308.2,210.5 C305.2,211.6 301.8,212.8 298,214.3 C294.2,215.8 289.8,218 285.4,219.3 C281,220.6 274.2,223.4 271.4,222.2 C268.6,221 269.2,215.3 268.5,212 C267.8,208.7 265.2,203.9 267,202.2 Z"/></clipPath></defs><path d="M267,202.2 C268.8,200.5 274.9,202.3 279,201.6 C283.1,200.9 287.9,199 291.7,197.8 C295.5,196.6 298.3,195 301.9,194.6 C305.5,194.2 310.6,193.9 313.3,195.2 C316.1,196.5 318,200.1 318.4,202.2 C318.8,204.3 317.5,206.5 315.8,207.9 C314.1,209.3 311.2,209.4 308.2,210.5 C305.2,211.6 301.8,212.8 298,214.3 C294.2,215.8 289.8,218 285.4,219.3 C281,220.6 274.2,223.4 271.4,222.2 C268.6,221 269.2,215.3 268.5,212 C267.8,208.7 265.2,203.9 267,202.2 Z" fill="url(#gDF)"/><g clip-path="url(#cgDF)"><circle cx="299.3" cy="219.7" r="0.6" fill="#5E5A2C"/><circle cx="293.1" cy="207.5" r="0.6" fill="#9A9448"/><circle cx="305.6" cy="214.8" r="0.6" fill="#8A8440"/><circle cx="315.2" cy="222.3" r="0.6" fill="#9A9448"/><circle cx="306.3" cy="200.8" r="0.6" fill="#8A8440"/><circle cx="275.1" cy="203.8" r="0.6" fill="#5E5A2C"/><circle cx="276.7" cy="196.8" r="0.6" fill="#9A9448"/><circle cx="293.4" cy="212.4" r="0.6" fill="#9A9448"/><circle cx="293.6" cy="205.1" r="0.6" fill="#8A8440"/><circle cx="283.9" cy="197.6" r="0.6" fill="#5E5A2C"/><circle cx="286.9" cy="222.7" r="0.6" fill="#4E4A22"/><circle cx="307" cy="206.4" r="0.6" fill="#5E5A2C"/><circle cx="278.5" cy="203.3" r="0.6" fill="#4E4A22"/><circle cx="314.2" cy="195.4" r="0.6" fill="#8A8440"/><circle cx="310.3" cy="194.6" r="0.6" fill="#5E5A2C"/><circle cx="315.6" cy="209.4" r="0.6" fill="#9A9448"/><circle cx="278.7" cy="204.5" r="0.6" fill="#4E4A22"/><circle cx="310.3" cy="198.6" r="0.6" fill="#9A9448"/><circle cx="300.6" cy="212.7" r="0.6" fill="#5E5A2C"/><circle cx="278" cy="207.4" r="0.6" fill="#9A9448"/><circle cx="275.4" cy="199" r="0.6" fill="#9A9448"/><circle cx="271.2" cy="212.6" r="0.6" fill="#8A8440"/><circle cx="287.1" cy="195.3" r="0.6" fill="#4E4A22"/><circle cx="315.8" cy="205" r="0.6" fill="#5E5A2C"/><circle cx="298.3" cy="220.8" r="0.6" fill="#4E4A22"/><circle cx="276.3" cy="220.2" r="0.6" fill="#5E5A2C"/><circle cx="292.3" cy="199.9" r="0.6" fill="#4E4A22"/><circle cx="296.3" cy="197" r="0.6" fill="#4E4A22"/><circle cx="281.1" cy="206.2" r="0.6" fill="#5E5A2C"/><circle cx="314.2" cy="221.5" r="0.6" fill="#8A8440"/><circle cx="279.3" cy="209.9" r="0.6" fill="#5E5A2C"/><circle cx="285.4" cy="198.7" r="0.6" fill="#9A9448"/><circle cx="296.8" cy="207.2" r="0.6" fill="#9A9448"/><circle cx="298.2" cy="197.7" r="0.6" fill="#9A9448"/><circle cx="270.8" cy="212.3" r="0.6" fill="#5E5A2C"/><circle cx="289.3" cy="218.5" r="0.6" fill="#5E5A2C"/><circle cx="317.3" cy="206.9" r="0.6" fill="#4E4A22"/><circle cx="301.7" cy="212.2" r="0.6" fill="#4E4A22"/><circle cx="298.6" cy="204" r="0.6" fill="#4E4A22"/><circle cx="280.2" cy="209.7" r="0.6" fill="#8A8440"/><circle cx="293.1" cy="222.6" r="0.6" fill="#8A8440"/><circle cx="284.2" cy="195.4" r="0.6" fill="#5E5A2C"/><circle cx="303.7" cy="210.6" r="0.6" fill="#8A8440"/><circle cx="319.1" cy="208.6" r="0.6" fill="#8A8440"/><circle cx="301.9" cy="207.3" r="0.6" fill="#4E4A22"/><circle cx="285.6" cy="196.1" r="0.6" fill="#5E5A2C"/><circle cx="302" cy="193.1" r="0.6" fill="#8A8440"/><circle cx="288.1" cy="220.6" r="0.6" fill="#4E4A22"/><circle cx="293.3" cy="209.3" r="0.6" fill="#8A8440"/><circle cx="287.9" cy="201.7" r="0.6" fill="#4E4A22"/><circle cx="306.8" cy="204.4" r="0.6" fill="#4E4A22"/><circle cx="291.7" cy="211.5" r="0.6" fill="#4E4A22"/><circle cx="303.7" cy="217.3" r="0.6" fill="#5E5A2C"/><circle cx="281.9" cy="199.3" r="0.6" fill="#9A9448"/><circle cx="290.5" cy="217.5" r="0.6" fill="#4E4A22"/><circle cx="290.4" cy="205.8" r="0.6" fill="#4E4A22"/><circle cx="298.3" cy="207.3" r="0.6" fill="#8A8440"/><circle cx="286" cy="213.8" r="0.6" fill="#5E5A2C"/><circle cx="277.9" cy="198.2" r="0.6" fill="#9A9448"/><circle cx="283.5" cy="203.2" r="0.6" fill="#8A8440"/><circle cx="313" cy="205.1" r="0.6" fill="#5E5A2C"/><circle cx="269.8" cy="195.8" r="0.6" fill="#8A8440"/><circle cx="271.8" cy="218.8" r="0.6" fill="#8A8440"/><circle cx="285.7" cy="202.3" r="0.6" fill="#4E4A22"/><circle cx="307" cy="212.7" r="0.6" fill="#8A8440"/><circle cx="301.7" cy="218.8" r="0.6" fill="#5E5A2C"/><circle cx="299.6" cy="198.2" r="0.6" fill="#9A9448"/><circle cx="309" cy="220.7" r="0.6" fill="#4E4A22"/><circle cx="301.1" cy="196.1" r="0.6" fill="#9A9448"/><circle cx="282.2" cy="208.4" r="0.6" fill="#8A8440"/><circle cx="267.1" cy="200.7" r="0.6" fill="#4E4A22"/><circle cx="287.3" cy="206.3" r="0.6" fill="#5E5A2C"/><circle cx="299.1" cy="220.8" r="0.6" fill="#5E5A2C"/><circle cx="287.2" cy="212.9" r="0.6" fill="#8A8440"/><circle cx="319.4" cy="211" r="0.6" fill="#8A8440"/><circle cx="293.7" cy="212" r="0.6" fill="#4E4A22"/><circle cx="318.8" cy="214.2" r="0.6" fill="#9A9448"/><circle cx="316.1" cy="198" r="0.6" fill="#9A9448"/><circle cx="285.4" cy="222.4" r="0.6" fill="#4E4A22"/><circle cx="292.7" cy="198.3" r="0.6" fill="#9A9448"/><circle cx="314.2" cy="194.5" r="0.6" fill="#5E5A2C"/><circle cx="289.4" cy="203.8" r="0.6" fill="#4E4A22"/><circle cx="268.1" cy="218.4" r="0.6" fill="#5E5A2C"/><circle cx="271.5" cy="204.1" r="0.6" fill="#4E4A22"/><circle cx="315.2" cy="208.9" r="0.6" fill="#4E4A22"/><circle cx="318.8" cy="196.2" r="0.6" fill="#9A9448"/><circle cx="268.5" cy="220.7" r="0.6" fill="#9A9448"/><circle cx="272.6" cy="202.8" r="0.6" fill="#9A9448"/><circle cx="309.7" cy="211.4" r="0.6" fill="#9A9448"/><circle cx="315.3" cy="193" r="0.6" fill="#9A9448"/><circle cx="299" cy="220.4" r="0.6" fill="#9A9448"/><circle cx="279.8" cy="197.8" r="0.6" fill="#9A9448"/><circle cx="307.2" cy="207.7" r="0.6" fill="#9A9448"/><circle cx="268.9" cy="197.1" r="0.6" fill="#5E5A2C"/><circle cx="267.7" cy="217.2" r="0.6" fill="#4E4A22"/><circle cx="299.7" cy="203.2" r="0.6" fill="#8A8440"/><circle cx="316.4" cy="198.3" r="0.6" fill="#4E4A22"/><circle cx="312.4" cy="209.8" r="0.6" fill="#8A8440"/><circle cx="302.5" cy="205.2" r="0.6" fill="#5E5A2C"/><circle cx="311.8" cy="219.5" r="0.6" fill="#4E4A22"/><circle cx="291.8" cy="196.2" r="0.6" fill="#4E4A22"/><circle cx="295.6" cy="217.8" r="0.6" fill="#5E5A2C"/><circle cx="290.2" cy="222.8" r="0.6" fill="#4E4A22"/><circle cx="306.2" cy="203.3" r="0.6" fill="#5E5A2C"/><circle cx="271.7" cy="208.1" r="0.6" fill="#4E4A22"/><circle cx="296.8" cy="220.8" r="0.6" fill="#4E4A22"/><circle cx="297.3" cy="198.4" r="0.6" fill="#9A9448"/><circle cx="316.4" cy="202.2" r="0.6" fill="#5E5A2C"/><circle cx="301.6" cy="202.4" r="0.6" fill="#5E5A2C"/><circle cx="284.5" cy="210.2" r="0.6" fill="#5E5A2C"/><circle cx="283.5" cy="211.6" r="0.6" fill="#9A9448"/><circle cx="313.2" cy="213.6" r="0.6" fill="#8A8440"/><circle cx="289.4" cy="204.5" r="0.6" fill="#9A9448"/><circle cx="300.8" cy="222.1" r="0.6" fill="#4E4A22"/><circle cx="271.9" cy="200" r="0.6" fill="#8A8440"/><circle cx="283.7" cy="193.7" r="0.6" fill="#5E5A2C"/><circle cx="293.9" cy="210.9" r="0.6" fill="#5E5A2C"/><circle cx="274.8" cy="198.6" r="0.6" fill="#4E4A22"/><circle cx="315.3" cy="211.2" r="0.6" fill="#5E5A2C"/><circle cx="303.4" cy="217.5" r="0.6" fill="#4E4A22"/><circle cx="319.5" cy="196.5" r="0.6" fill="#9A9448"/><circle cx="308.3" cy="213" r="0.6" fill="#8A8440"/><circle cx="298.3" cy="211.4" r="0.6" fill="#4E4A22"/><circle cx="315.9" cy="195.8" r="0.6" fill="#9A9448"/><circle cx="318.8" cy="218.8" r="0.6" fill="#8A8440"/><circle cx="274.8" cy="209.9" r="0.6" fill="#4E4A22"/><circle cx="284.2" cy="209.4" r="0.6" fill="#8A8440"/><circle cx="276.2" cy="198.9" r="0.6" fill="#4E4A22"/><circle cx="288.7" cy="196.2" r="0.6" fill="#9A9448"/><circle cx="266.7" cy="219.6" r="0.6" fill="#5E5A2C"/><circle cx="293.3" cy="205.1" r="0.6" fill="#4E4A22"/><circle cx="276.5" cy="212.2" r="0.6" fill="#5E5A2C"/><circle cx="284.9" cy="204.4" r="0.6" fill="#8A8440"/><circle cx="290.7" cy="194.1" r="0.6" fill="#8A8440"/><circle cx="316.8" cy="207.1" r="0.6" fill="#9A9448"/><circle cx="296.7" cy="218.4" r="0.6" fill="#9A9448"/><circle cx="303.4" cy="209.8" r="0.6" fill="#9A9448"/><circle cx="278.3" cy="214.6" r="0.6" fill="#8A8440"/><circle cx="285.2" cy="222.9" r="0.6" fill="#9A9448"/><circle cx="318.2" cy="196.6" r="0.6" fill="#8A8440"/><circle cx="287.2" cy="212.1" r="0.6" fill="#5E5A2C"/><circle cx="304.2" cy="209.3" r="0.6" fill="#8A8440"/><circle cx="317" cy="202.4" r="0.6" fill="#8A8440"/><circle cx="279.4" cy="211.1" r="0.6" fill="#5E5A2C"/><circle cx="270.2" cy="211.5" r="0.6" fill="#4E4A22"/><circle cx="271" cy="217" r="0.6" fill="#9A9448"/><circle cx="293.7" cy="193.5" r="0.6" fill="#9A9448"/><circle cx="280.1" cy="199.3" r="0.6" fill="#8A8440"/><circle cx="295.3" cy="199" r="0.6" fill="#4E4A22"/><circle cx="279.5" cy="222" r="0.6" fill="#4E4A22"/><circle cx="268.7" cy="203" r="0.6" fill="#4E4A22"/><circle cx="291.3" cy="215.6" r="0.6" fill="#8A8440"/><circle cx="277.4" cy="217" r="0.6" fill="#5E5A2C"/><circle cx="275.3" cy="197.8" r="0.6" fill="#4E4A22"/><circle cx="303.8" cy="196.6" r="0.6" fill="#9A9448"/><circle cx="317.1" cy="194.6" r="0.6" fill="#8A8440"/><circle cx="313.7" cy="195.1" r="0.6" fill="#8A8440"/><circle cx="315.6" cy="219.8" r="0.6" fill="#9A9448"/><circle cx="276.4" cy="203.9" r="0.6" fill="#8A8440"/><circle cx="306.9" cy="193" r="0.6" fill="#5E5A2C"/><circle cx="292" cy="193.5" r="0.6" fill="#9A9448"/><circle cx="270.9" cy="202" r="0.6" fill="#4E4A22"/><circle cx="267.9" cy="214.6" r="0.6" fill="#9A9448"/><circle cx="286.7" cy="208.6" r="0.6" fill="#9A9448"/><circle cx="319" cy="207" r="0.6" fill="#4E4A22"/><circle cx="266.6" cy="199.6" r="0.6" fill="#8A8440"/><circle cx="306.4" cy="204.5" r="0.6" fill="#5E5A2C"/><circle cx="318.7" cy="194.8" r="0.6" fill="#4E4A22"/><circle cx="275.1" cy="211.9" r="0.6" fill="#9A9448"/><circle cx="282.8" cy="220.2" r="0.6" fill="#4E4A22"/><circle cx="309.6" cy="201.5" r="0.6" fill="#8A8440"/><circle cx="305" cy="195" r="0.6" fill="#8A8440"/><circle cx="280.9" cy="199.3" r="0.6" fill="#4E4A22"/><circle cx="270.3" cy="209.2" r="0.6" fill="#5E5A2C"/><circle cx="272.1" cy="207.6" r="0.6" fill="#4E4A22"/><circle cx="272.2" cy="194.1" r="0.6" fill="#4E4A22"/><circle cx="310.4" cy="203.4" r="0.6" fill="#8A8440"/><circle cx="291.9" cy="222.3" r="0.6" fill="#4E4A22"/><circle cx="273" cy="220.2" r="0.6" fill="#8A8440"/><circle cx="289.3" cy="218.4" r="0.6" fill="#4E4A22"/><circle cx="272.1" cy="218.6" r="0.6" fill="#9A9448"/><circle cx="293.6" cy="212.9" r="0.6" fill="#8A8440"/><circle cx="312.1" cy="198.2" r="0.6" fill="#9A9448"/><circle cx="267.7" cy="208.5" r="0.6" fill="#4E4A22"/><circle cx="307.7" cy="216.7" r="0.6" fill="#9A9448"/><circle cx="308.6" cy="212.1" r="0.6" fill="#9A9448"/><circle cx="307.7" cy="204.3" r="0.6" fill="#8A8440"/><circle cx="273.5" cy="207.6" r="0.6" fill="#5E5A2C"/><circle cx="283.9" cy="207.8" r="0.6" fill="#5E5A2C"/><circle cx="273.9" cy="222.4" r="0.6" fill="#8A8440"/><circle cx="284.7" cy="217.1" r="0.6" fill="#9A9448"/><circle cx="295" cy="215.3" r="0.6" fill="#8A8440"/><circle cx="291" cy="221.4" r="0.6" fill="#9A9448"/><circle cx="277.4" cy="199.6" r="0.6" fill="#4E4A22"/><circle cx="308.3" cy="205.1" r="0.6" fill="#4E4A22"/><circle cx="275.4" cy="207.9" r="0.6" fill="#5E5A2C"/><circle cx="270.1" cy="197.5" r="0.6" fill="#9A9448"/><circle cx="310.5" cy="220.1" r="0.6" fill="#5E5A2C"/><circle cx="290.9" cy="216.8" r="0.6" fill="#8A8440"/><circle cx="294.3" cy="222.9" r="0.6" fill="#5E5A2C"/><circle cx="292.9" cy="194.2" r="0.6" fill="#8A8440"/><circle cx="318.2" cy="207" r="0.6" fill="#5E5A2C"/><circle cx="271.8" cy="217.3" r="0.6" fill="#5E5A2C"/><circle cx="293.3" cy="205" r="0.6" fill="#9A9448"/><circle cx="270.3" cy="194" r="0.6" fill="#4E4A22"/><circle cx="286.8" cy="211.7" r="0.6" fill="#4E4A22"/><circle cx="299.1" cy="220.2" r="0.6" fill="#5E5A2C"/><circle cx="285.3" cy="199.1" r="0.6" fill="#4E4A22"/><circle cx="288.7" cy="196.6" r="0.6" fill="#5E5A2C"/><circle cx="279.6" cy="222" r="0.6" fill="#5E5A2C"/><circle cx="315.7" cy="197.2" r="0.6" fill="#8A8440"/><circle cx="304.2" cy="214.8" r="0.6" fill="#8A8440"/><circle cx="288.2" cy="202.1" r="0.6" fill="#4E4A22"/><circle cx="298.6" cy="221.4" r="0.6" fill="#5E5A2C"/><circle cx="294" cy="213.3" r="0.6" fill="#5E5A2C"/><circle cx="279.4" cy="219.9" r="0.6" fill="#5E5A2C"/><circle cx="306.6" cy="196" r="0.6" fill="#8A8440"/><circle cx="284.5" cy="208.1" r="0.6" fill="#5E5A2C"/><circle cx="275.1" cy="214.9" r="0.6" fill="#8A8440"/><circle cx="282.3" cy="197" r="0.6" fill="#5E5A2C"/></g><text x="293" y="229.6" font-size="3.6" fill="#444" text-anchor="middle" font-family='"Liberation Serif",serif' font-style="italic">Dendrite-free Zn/CNT</text><text x="321.2" y="138" font-size="12.8" fill="#000" font-family='"Liberation Serif",serif'>f</text><text x="340.2" y="140.8" font-size="5.8" fill="#222" text-anchor="end">400</text><line x1="342" y1="138.8" x2="343.6" y2="138.8" stroke="#222" stroke-width="0.5"/><text x="340.2" y="159.2" font-size="5.8" fill="#222" text-anchor="end">200</text><line x1="342" y1="157.2" x2="343.6" y2="157.2" stroke="#222" stroke-width="0.5"/><text x="340.2" y="177.5" font-size="5.8" fill="#222" text-anchor="end">0</text><line x1="342" y1="175.5" x2="343.6" y2="175.5" stroke="#222" stroke-width="0.5"/><text x="340.2" y="195.8" font-size="5.8" fill="#222" text-anchor="end">-200</text><line x1="342" y1="193.8" x2="343.6" y2="193.8" stroke="#222" stroke-width="0.5"/><text x="340.2" y="214.2" font-size="5.8" fill="#222" text-anchor="end">-400</text><line x1="342" y1="212.2" x2="343.6" y2="212.2" stroke="#222" stroke-width="0.5"/><text x="350.6" y="228.6" font-size="5.8" fill="#222" text-anchor="middle">0</text><line x1="350.6" y1="220.8" x2="350.6" y2="219.20000000000002" stroke="#222" stroke-width="0.5"/><text x="395.7" y="228.6" font-size="5.8" fill="#222" text-anchor="middle">50</text><line x1="395.7" y1="220.8" x2="395.7" y2="219.20000000000002" stroke="#222" stroke-width="0.5"/><text x="440.8" y="228.6" font-size="5.8" fill="#222" text-anchor="middle">100</text><line x1="440.8" y1="220.8" x2="440.8" y2="219.20000000000002" stroke="#222" stroke-width="0.5"/><text x="485.9" y="228.6" font-size="5.8" fill="#222" text-anchor="middle">150</text><line x1="485.9" y1="220.8" x2="485.9" y2="219.20000000000002" stroke="#222" stroke-width="0.5"/><text x="531" y="228.6" font-size="5.8" fill="#222" text-anchor="middle">200</text><line x1="531" y1="220.8" x2="531" y2="219.20000000000002" stroke="#222" stroke-width="0.5"/><text x="442.5" y="235.4" font-size="6.4" fill="#222" text-anchor="middle">Time (h)</text><text transform="translate(328.2,176) rotate(-90)" font-size="6" text-anchor="middle" fill="#222">Potential (mV)</text><rect x="398" y="179" width="43.1" height="41.8" fill="#B4B4E0"/><rect x="413.7" y="128.8" width="27.3" height="43.2" fill="#B8B8E2"/><g stroke="#30309A" stroke-width="0.75"><line x1="351.1" y1="173.1" x2="351.1" y2="176"/><line x1="352.3" y1="172.8" x2="352.3" y2="176"/><line x1="353.5" y1="172.9" x2="353.5" y2="176"/><line x1="354.9" y1="172.7" x2="354.9" y2="176"/><line x1="356.1" y1="172.7" x2="356.1" y2="176"/><line x1="357.3" y1="172.7" x2="357.3" y2="176"/><line x1="358.6" y1="172.1" x2="358.6" y2="176"/><line x1="359.9" y1="172.2" x2="359.9" y2="176"/><line x1="361.1" y1="172.2" x2="361.1" y2="176"/><line x1="362.3" y1="171.8" x2="362.3" y2="176"/><line x1="363.4" y1="172.2" x2="363.4" y2="176"/><line x1="364.9" y1="172" x2="364.9" y2="176"/><line x1="366.3" y1="171.6" x2="366.3" y2="176"/><line x1="367.7" y1="171.4" x2="367.7" y2="176"/><line x1="368.8" y1="171.2" x2="368.8" y2="176"/><line x1="370" y1="171.5" x2="370" y2="176"/><line x1="371.1" y1="172.1" x2="371.1" y2="176"/><line x1="372.3" y1="172.1" x2="372.3" y2="176"/><line x1="373.6" y1="170.4" x2="373.6" y2="176"/><line x1="375" y1="171.1" x2="375" y2="176"/><line x1="376.1" y1="171.2" x2="376.1" y2="176"/><line x1="377.2" y1="171.4" x2="377.2" y2="176"/><line x1="378.5" y1="170.4" x2="378.5" y2="176"/><line x1="379.6" y1="170.6" x2="379.6" y2="176"/><line x1="380.9" y1="170.7" x2="380.9" y2="176"/><line x1="382" y1="170.6" x2="382" y2="176"/><line x1="383.1" y1="169.8" x2="383.1" y2="176"/><line x1="384.4" y1="169.8" x2="384.4" y2="176"/><line x1="385.7" y1="168.7" x2="385.7" y2="176"/><line x1="386.9" y1="167.8" x2="386.9" y2="181.6"/><line x1="388.3" y1="168.1" x2="388.3" y2="184.3"/><line x1="389.7" y1="163.9" x2="389.7" y2="182.3"/><line x1="391" y1="163.8" x2="391" y2="184"/><line x1="392.3" y1="167.9" x2="392.3" y2="183.3"/><line x1="393.7" y1="167.6" x2="393.7" y2="180.5"/><line x1="395.1" y1="165.6" x2="395.1" y2="181.9"/><line x1="396.3" y1="166.5" x2="396.3" y2="195.4"/><line x1="397.4" y1="165.6" x2="397.4" y2="192.4"/><line x1="398.9" y1="154.7" x2="398.9" y2="220.8"/><line x1="400" y1="165.4" x2="400" y2="220.8"/><line x1="401.2" y1="162" x2="401.2" y2="220.8"/><line x1="402.3" y1="164.7" x2="402.3" y2="220.8"/><line x1="403.5" y1="154.9" x2="403.5" y2="220.8"/><line x1="404.9" y1="161.7" x2="404.9" y2="220.8"/><line x1="406" y1="165.7" x2="406" y2="220.8"/><line x1="407.3" y1="157.7" x2="407.3" y2="220.8"/><line x1="408.4" y1="160.6" x2="408.4" y2="220.8"/><line x1="409.7" y1="163.6" x2="409.7" y2="220.8"/><line x1="411" y1="151.6" x2="411" y2="220.8"/><line x1="412.4" y1="128.8" x2="412.4" y2="220.8"/><line x1="413.8" y1="128.8" x2="413.8" y2="220.8"/><line x1="415" y1="128.8" x2="415" y2="220.8"/><line x1="416.4" y1="128.8" x2="416.4" y2="220.8"/><line x1="417.7" y1="151.8" x2="417.7" y2="220.8"/><line x1="418.9" y1="128.8" x2="418.9" y2="220.8"/><line x1="420.3" y1="128.8" x2="420.3" y2="220.8"/><line x1="421.7" y1="128.8" x2="421.7" y2="220.8"/><line x1="422.8" y1="128.8" x2="422.8" y2="220.8"/><line x1="424.2" y1="128.8" x2="424.2" y2="220.8"/><line x1="425.4" y1="128.8" x2="425.4" y2="220.8"/><line x1="426.5" y1="128.8" x2="426.5" y2="220.8"/><line x1="427.7" y1="128.8" x2="427.7" y2="220.8"/><line x1="429" y1="128.8" x2="429" y2="220.8"/><line x1="430.1" y1="128.8" x2="430.1" y2="220.8"/><line x1="431.4" y1="128.8" x2="431.4" y2="220.8"/><line x1="432.7" y1="128.8" x2="432.7" y2="220.8"/><line x1="433.8" y1="128.8" x2="433.8" y2="220.8"/><line x1="434.9" y1="128.8" x2="434.9" y2="220.8"/><line x1="436" y1="128.8" x2="436" y2="220.8"/><line x1="437.3" y1="128.8" x2="437.3" y2="220.8"/><line x1="438.6" y1="128.8" x2="438.6" y2="220.8"/><line x1="439.8" y1="128.8" x2="439.8" y2="220.8"/><line x1="441" y1="128.8" x2="441" y2="220.8"/></g><rect x="350.6" y="172.8" width="179.5" height="5.4" fill="#F08C34"/><g stroke="#F4A060" stroke-width="0.4"><line x1="350.6" y1="172.4" x2="350.6" y2="178.6"/><line x1="351.8" y1="172.4" x2="351.8" y2="178.6"/><line x1="352.9" y1="172.4" x2="352.9" y2="178.6"/><line x1="354.1" y1="172.4" x2="354.1" y2="178.6"/><line x1="355.3" y1="172.4" x2="355.3" y2="178.6"/><line x1="356.5" y1="172.4" x2="356.5" y2="178.6"/><line x1="357.6" y1="172.4" x2="357.6" y2="178.6"/><line x1="358.8" y1="172.4" x2="358.8" y2="178.6"/><line x1="360" y1="172.4" x2="360" y2="178.6"/><line x1="361.2" y1="172.4" x2="361.2" y2="178.6"/><line x1="362.3" y1="172.4" x2="362.3" y2="178.6"/><line x1="363.5" y1="172.4" x2="363.5" y2="178.6"/><line x1="364.7" y1="172.4" x2="364.7" y2="178.6"/><line x1="365.8" y1="172.4" x2="365.8" y2="178.6"/><line x1="367" y1="172.4" x2="367" y2="178.6"/><line x1="368.2" y1="172.4" x2="368.2" y2="178.6"/><line x1="369.4" y1="172.4" x2="369.4" y2="178.6"/><line x1="370.5" y1="172.4" x2="370.5" y2="178.6"/><line x1="371.7" y1="172.4" x2="371.7" y2="178.6"/><line x1="372.9" y1="172.4" x2="372.9" y2="178.6"/><line x1="374.1" y1="172.4" x2="374.1" y2="178.6"/><line x1="375.2" y1="172.4" x2="375.2" y2="178.6"/><line x1="376.4" y1="172.4" x2="376.4" y2="178.6"/><line x1="377.6" y1="172.4" x2="377.6" y2="178.6"/><line x1="378.7" y1="172.4" x2="378.7" y2="178.6"/><line x1="379.9" y1="172.4" x2="379.9" y2="178.6"/><line x1="381.1" y1="172.4" x2="381.1" y2="178.6"/><line x1="382.3" y1="172.4" x2="382.3" y2="178.6"/><line x1="383.4" y1="172.4" x2="383.4" y2="178.6"/><line x1="384.6" y1="172.4" x2="384.6" y2="178.6"/><line x1="385.8" y1="172.4" x2="385.8" y2="178.6"/><line x1="387" y1="172.4" x2="387" y2="178.6"/><line x1="388.1" y1="172.4" x2="388.1" y2="178.6"/><line x1="389.3" y1="172.4" x2="389.3" y2="178.6"/><line x1="390.5" y1="172.4" x2="390.5" y2="178.6"/><line x1="391.6" y1="172.4" x2="391.6" y2="178.6"/><line x1="392.8" y1="172.4" x2="392.8" y2="178.6"/><line x1="394" y1="172.4" x2="394" y2="178.6"/><line x1="395.2" y1="172.4" x2="395.2" y2="178.6"/><line x1="396.3" y1="172.4" x2="396.3" y2="178.6"/><line x1="397.5" y1="172.4" x2="397.5" y2="178.6"/><line x1="398.7" y1="172.4" x2="398.7" y2="178.6"/><line x1="399.8" y1="172.4" x2="399.8" y2="178.6"/><line x1="401" y1="172.4" x2="401" y2="178.6"/><line x1="402.2" y1="172.4" x2="402.2" y2="178.6"/><line x1="403.4" y1="172.4" x2="403.4" y2="178.6"/><line x1="404.5" y1="172.4" x2="404.5" y2="178.6"/><line x1="405.7" y1="172.4" x2="405.7" y2="178.6"/><line x1="406.9" y1="172.4" x2="406.9" y2="178.6"/><line x1="408.1" y1="172.4" x2="408.1" y2="178.6"/><line x1="409.2" y1="172.4" x2="409.2" y2="178.6"/><line x1="410.4" y1="172.4" x2="410.4" y2="178.6"/><line x1="411.6" y1="172.4" x2="411.6" y2="178.6"/><line x1="412.7" y1="172.4" x2="412.7" y2="178.6"/><line x1="413.9" y1="172.4" x2="413.9" y2="178.6"/><line x1="415.1" y1="172.4" x2="415.1" y2="178.6"/><line x1="416.3" y1="172.4" x2="416.3" y2="178.6"/><line x1="417.4" y1="172.4" x2="417.4" y2="178.6"/><line x1="418.6" y1="172.4" x2="418.6" y2="178.6"/><line x1="419.8" y1="172.4" x2="419.8" y2="178.6"/><line x1="421" y1="172.4" x2="421" y2="178.6"/><line x1="422.1" y1="172.4" x2="422.1" y2="178.6"/><line x1="423.3" y1="172.4" x2="423.3" y2="178.6"/><line x1="424.5" y1="172.4" x2="424.5" y2="178.6"/><line x1="425.6" y1="172.4" x2="425.6" y2="178.6"/><line x1="426.8" y1="172.4" x2="426.8" y2="178.6"/><line x1="428" y1="172.4" x2="428" y2="178.6"/><line x1="429.2" y1="172.4" x2="429.2" y2="178.6"/><line x1="430.3" y1="172.4" x2="430.3" y2="178.6"/><line x1="431.5" y1="172.4" x2="431.5" y2="178.6"/><line x1="432.7" y1="172.4" x2="432.7" y2="178.6"/><line x1="433.9" y1="172.4" x2="433.9" y2="178.6"/><line x1="435" y1="172.4" x2="435" y2="178.6"/><line x1="436.2" y1="172.4" x2="436.2" y2="178.6"/><line x1="437.4" y1="172.4" x2="437.4" y2="178.6"/><line x1="438.5" y1="172.4" x2="438.5" y2="178.6"/><line x1="439.7" y1="172.4" x2="439.7" y2="178.6"/><line x1="440.9" y1="172.4" x2="440.9" y2="178.6"/><line x1="442.1" y1="172.4" x2="442.1" y2="178.6"/><line x1="443.2" y1="172.4" x2="443.2" y2="178.6"/><line x1="444.4" y1="172.4" x2="444.4" y2="178.6"/><line x1="445.6" y1="172.4" x2="445.6" y2="178.6"/><line x1="446.8" y1="172.4" x2="446.8" y2="178.6"/><line x1="447.9" y1="172.4" x2="447.9" y2="178.6"/><line x1="449.1" y1="172.4" x2="449.1" y2="178.6"/><line x1="450.3" y1="172.4" x2="450.3" y2="178.6"/><line x1="451.4" y1="172.4" x2="451.4" y2="178.6"/><line x1="452.6" y1="172.4" x2="452.6" y2="178.6"/><line x1="453.8" y1="172.4" x2="453.8" y2="178.6"/><line x1="455" y1="172.4" x2="455" y2="178.6"/><line x1="456.1" y1="172.4" x2="456.1" y2="178.6"/><line x1="457.3" y1="172.4" x2="457.3" y2="178.6"/><line x1="458.5" y1="172.4" x2="458.5" y2="178.6"/><line x1="459.7" y1="172.4" x2="459.7" y2="178.6"/><line x1="460.8" y1="172.4" x2="460.8" y2="178.6"/><line x1="462" y1="172.4" x2="462" y2="178.6"/><line x1="463.2" y1="172.4" x2="463.2" y2="178.6"/><line x1="464.3" y1="172.4" x2="464.3" y2="178.6"/><line x1="465.5" y1="172.4" x2="465.5" y2="178.6"/><line x1="466.7" y1="172.4" x2="466.7" y2="178.6"/><line x1="467.9" y1="172.4" x2="467.9" y2="178.6"/><line x1="469" y1="172.4" x2="469" y2="178.6"/><line x1="470.2" y1="172.4" x2="470.2" y2="178.6"/><line x1="471.4" y1="172.4" x2="471.4" y2="178.6"/><line x1="472.6" y1="172.4" x2="472.6" y2="178.6"/><line x1="473.7" y1="172.4" x2="473.7" y2="178.6"/><line x1="474.9" y1="172.4" x2="474.9" y2="178.6"/><line x1="476.1" y1="172.4" x2="476.1" y2="178.6"/><line x1="477.2" y1="172.4" x2="477.2" y2="178.6"/><line x1="478.4" y1="172.4" x2="478.4" y2="178.6"/><line x1="479.6" y1="172.4" x2="479.6" y2="178.6"/><line x1="480.8" y1="172.4" x2="480.8" y2="178.6"/><line x1="481.9" y1="172.4" x2="481.9" y2="178.6"/><line x1="483.1" y1="172.4" x2="483.1" y2="178.6"/><line x1="484.3" y1="172.4" x2="484.3" y2="178.6"/><line x1="485.4" y1="172.4" x2="485.4" y2="178.6"/><line x1="486.6" y1="172.4" x2="486.6" y2="178.6"/><line x1="487.8" y1="172.4" x2="487.8" y2="178.6"/><line x1="489" y1="172.4" x2="489" y2="178.6"/><line x1="490.1" y1="172.4" x2="490.1" y2="178.6"/><line x1="491.3" y1="172.4" x2="491.3" y2="178.6"/><line x1="492.5" y1="172.4" x2="492.5" y2="178.6"/><line x1="493.7" y1="172.4" x2="493.7" y2="178.6"/><line x1="494.8" y1="172.4" x2="494.8" y2="178.6"/><line x1="496" y1="172.4" x2="496" y2="178.6"/><line x1="497.2" y1="172.4" x2="497.2" y2="178.6"/><line x1="498.3" y1="172.4" x2="498.3" y2="178.6"/><line x1="499.5" y1="172.4" x2="499.5" y2="178.6"/><line x1="500.7" y1="172.4" x2="500.7" y2="178.6"/><line x1="501.9" y1="172.4" x2="501.9" y2="178.6"/><line x1="503" y1="172.4" x2="503" y2="178.6"/><line x1="504.2" y1="172.4" x2="504.2" y2="178.6"/><line x1="505.4" y1="172.4" x2="505.4" y2="178.6"/><line x1="506.6" y1="172.4" x2="506.6" y2="178.6"/><line x1="507.7" y1="172.4" x2="507.7" y2="178.6"/><line x1="508.9" y1="172.4" x2="508.9" y2="178.6"/><line x1="510.1" y1="172.4" x2="510.1" y2="178.6"/><line x1="511.2" y1="172.4" x2="511.2" y2="178.6"/><line x1="512.4" y1="172.4" x2="512.4" y2="178.6"/><line x1="513.6" y1="172.4" x2="513.6" y2="178.6"/><line x1="514.8" y1="172.4" x2="514.8" y2="178.6"/><line x1="515.9" y1="172.4" x2="515.9" y2="178.6"/><line x1="517.1" y1="172.4" x2="517.1" y2="178.6"/><line x1="518.3" y1="172.4" x2="518.3" y2="178.6"/><line x1="519.5" y1="172.4" x2="519.5" y2="178.6"/><line x1="520.6" y1="172.4" x2="520.6" y2="178.6"/><line x1="521.8" y1="172.4" x2="521.8" y2="178.6"/><line x1="523" y1="172.4" x2="523" y2="178.6"/><line x1="524.1" y1="172.4" x2="524.1" y2="178.6"/><line x1="525.3" y1="172.4" x2="525.3" y2="178.6"/><line x1="526.5" y1="172.4" x2="526.5" y2="178.6"/><line x1="527.7" y1="172.4" x2="527.7" y2="178.6"/><line x1="528.8" y1="172.4" x2="528.8" y2="178.6"/><line x1="530" y1="172.4" x2="530" y2="178.6"/></g><rect x="342" y="128.8" width="197.8" height="92" fill="none" stroke="#222" stroke-width="0.8"/><text x="346" y="138.2" font-size="5" fill="#222">2 mA cm<tspan font-size="3" dy="-1.8">-2</tspan></text><text x="346" y="144.8" font-size="5" fill="#222">2 mAh cm<tspan font-size="3" dy="-1.8">-2</tspan></text><line x1="380" y1="136.6" x2="389" y2="136.6" stroke="#3A3A9A" stroke-width="1.4"/><text x="390" y="138.2" font-size="5" fill="#222">ZnCC</text><line x1="380" y1="141.6" x2="389" y2="141.6" stroke="#F08A30" stroke-width="1.4"/><text x="390" y="143.4" font-size="5" fill="#222">ZnCNT</text><rect x="352.8" y="186.8" width="41.2" height="30.7" fill="#fff" stroke="#999" stroke-width="0.7"/><text x="392.5" y="190.8" font-size="3" fill="#333" text-anchor="end">10<tspan font-size="1.8" dy="-1">th</tspan></text><text transform="translate(346.6,202.2) rotate(-90)" font-size="2.8" text-anchor="middle" fill="#333">Potential (mV)</text><text x="352" y="192.6" font-size="2.8" fill="#333" text-anchor="end">40</text><text x="352" y="199.2" font-size="2.8" fill="#333" text-anchor="end">20</text><text x="352" y="206.2" font-size="2.8" fill="#333" text-anchor="end">0</text><text x="352" y="212.8" font-size="2.8" fill="#333" text-anchor="end">-20</text><polyline points="356.8,200.4 360,198 363.8,196.5 367,195.5 370,194.3 372,192.5 373,189.9 373.4,192 373.4,213.6 377,213.1 383,213.8 389.2,214.9" fill="none" stroke="#3A3AA0" stroke-width="0.8"/><polyline points="356.8,198.2 373,197.8 373,213.2 377,212.6 389.2,212.7" fill="none" stroke="#F08C34" stroke-width="0.8"/><rect x="451.5" y="137.4" width="41.4" height="30.8" fill="#fff" stroke="#999" stroke-width="0.7"/><text x="491.4" y="141.4" font-size="3" fill="#333" text-anchor="end">20<tspan font-size="1.8" dy="-1">th</tspan></text><text transform="translate(445.3,152.8) rotate(-90)" font-size="2.8" text-anchor="middle" fill="#333">Potential (mV)</text><text x="450.7" y="141" font-size="2.8" fill="#333" text-anchor="end">80</text><text x="450.7" y="147.5" font-size="2.8" fill="#333" text-anchor="end">50</text><text x="450.7" y="153.5" font-size="2.8" fill="#333" text-anchor="end">0</text><text x="450.7" y="159.7" font-size="2.8" fill="#333" text-anchor="end">-50</text><text x="450.7" y="166" font-size="2.8" fill="#333" text-anchor="end">-80</text><polyline points="455.3,145.5 456.4,144 458,145 459.6,146.9 464,146.8 468.4,146.4 470.5,144 471.6,136.8 472.2,137.5 472.2,161 473.8,158.4 481.4,158.4 484,161.5 488,164.9" fill="none" stroke="#3A3AA0" stroke-width="0.8"/><polyline points="455.3,147.4 471.8,147.2 471.8,157.8 488,157.8" fill="none" stroke="#F08C34" stroke-width="0.8"/><rect x="486.9" y="184" width="38.1" height="30" fill="#fff" stroke="#999" stroke-width="0.7"/><text x="523.5" y="188" font-size="3" fill="#333" text-anchor="end">50<tspan font-size="1.8" dy="-1">th</tspan></text><text transform="translate(480.7,199) rotate(-90)" font-size="2.8" text-anchor="middle" fill="#333">Potential (mV)</text><text x="486.1" y="185.5" font-size="2.8" fill="#333" text-anchor="end">200</text><text x="486.1" y="192.6" font-size="2.8" fill="#333" text-anchor="end">100</text><text x="486.1" y="199.7" font-size="2.8" fill="#333" text-anchor="end">0</text><text x="486.1" y="207.4" font-size="2.8" fill="#333" text-anchor="end">-100</text><text x="486.1" y="214.6" font-size="2.8" fill="#333" text-anchor="end">-200</text><polyline points="491.3,194.4 492.4,196 498.4,196 499.5,193 500,184.2" fill="none" stroke="#3A3AA0" stroke-width="0.8"/><polyline points="507.3,184.2 507.3,205.3 509.3,202.5 513.6,203.6 515.3,206 515.3,213.8" fill="none" stroke="#3A3AA0" stroke-width="0.8"/><line x1="523.4" y1="201" x2="523.4" y2="213.8" stroke="#3A3AA0" stroke-width="0.8"/><polyline points="491.3,198.2 507.3,198.2 507.3,200.9 524,200.9 524,213.8" fill="none" stroke="#F08C34" stroke-width="0.8"/><defs><linearGradient id="gHexSh" x1="0" y1="0" x2="1" y2="1"><stop offset="0" stop-color="#fff" stop-opacity="0.18"/><stop offset="0.5" stop-color="#fff" stop-opacity="0"/><stop offset="1" stop-color="#000" stop-opacity="0.2"/></linearGradient></defs><text x="9.6" y="249.6" font-size="12.8" fill="#000" font-family='"Liberation Serif",serif'>g</text><rect x="19.7" y="239.6" width="263.4" height="115" fill="none" stroke="#27B06A" stroke-width="1.5" stroke-dasharray="4.5 3.5"/><defs><linearGradient id="gT1" x1="0" y1="0" x2="1" y2="0"><stop offset="0" stop-color="#989898"/><stop offset="1" stop-color="#bcbcbc"/></linearGradient></defs><clipPath id="cT1"><rect x="22" y="242" width="53" height="53"/></clipPath><g clip-path="url(#cT1)"><rect x="22" y="242" width="53" height="53" fill="url(#gT1)"/><ellipse cx="34" cy="242.5" rx="9" ry="3" fill="#333"/><polygon points="59.7,260.4 50.3,265.9 40.9,260.4 40.9,249.6 50.3,244.1 59.7,249.5" fill="#d8d8d8" opacity="0.55"/><polygon points="59,260 50.3,265 41.6,260 41.6,250 50.3,245 59,250" fill="#6a6a6a" stroke="#2e2e2e" stroke-width="0.7"/><polygon points="59,260 50.3,265 41.6,260 41.6,250 50.3,245 59,250" fill="url(#gHexSh)"/><polygon points="48.3,276.1 39.3,282.4 29.5,277.8 28.5,266.9 37.5,260.6 47.3,265.2" fill="#d8d8d8" opacity="0.55"/><polygon points="47.5,275.7 39.3,281.5 30.2,277.2 29.3,267.3 37.5,261.5 46.6,265.8" fill="#767676" stroke="#2e2e2e" stroke-width="0.7"/><polygon points="47.5,275.7 39.3,281.5 30.2,277.2 29.3,267.3 37.5,261.5 46.6,265.8" fill="url(#gHexSh)"/><polygon points="65.8,280.9 55.6,285.7 46.4,279.2 47.4,268.1 57.6,263.3 66.8,269.8" fill="#d8d8d8" opacity="0.55"/><polygon points="65,280.4 55.7,284.8 47.3,278.9 48.2,268.6 57.5,264.2 65.9,270.1" fill="#666666" stroke="#2e2e2e" stroke-width="0.7"/><polygon points="65,280.4 55.7,284.8 47.3,278.9 48.2,268.6 57.5,264.2 65.9,270.1" fill="url(#gHexSh)"/><polygon points="50.8,292.6 40.7,298.9 30.2,293.3 29.8,281.4 39.9,275.1 50.4,280.7" fill="#d8d8d8" opacity="0.55"/><polygon points="50,292.2 40.7,298 31,292.8 30.6,281.8 39.9,276 49.6,281.2" fill="#6e6e6e" stroke="#2e2e2e" stroke-width="0.7"/><polygon points="50,292.2 40.7,298 31,292.8 30.6,281.8 39.9,276 49.6,281.2" fill="url(#gHexSh)"/></g><text x="23" y="248.4" font-size="7" fill="#fff">400</text><line x1="61" y1="292.4" x2="71.5" y2="292.4" stroke="#fff" stroke-width="0.9"/><clipPath id="cT2"><rect x="78.2" y="242" width="52.7" height="53"/></clipPath><g clip-path="url(#cT2)"><rect x="78.2" y="242" width="52.7" height="53" fill="#747474"/><rect x="86" y="242" width="45" height="9" fill="#2a2a2a"/><rect x="78" y="250" width="6" height="45" fill="#9a9a9a"/><polygon points="107.9,264 101,273.8 89.2,272.7 84.1,262 91,252.2 102.8,253.3" fill="#d8d8d8" opacity="0.55"/><polygon points="107,264 100.6,273 89.7,272 85,262 91.4,253 102.3,254" fill="#3a3a3a" stroke="#2e2e2e" stroke-width="0.7"/><polygon points="107,264 100.6,273 89.7,272 85,262 91.4,253 102.3,254" fill="url(#gHexSh)"/><polygon points="126,263 118,271 106.9,268.1 104,257 112,249 123.1,251.9" fill="#d8d8d8" opacity="0.55"/><polygon points="125.1,262.7 117.7,270.1 107.6,267.4 104.9,257.3 112.3,249.9 122.4,252.6" fill="#6a6a6a" stroke="#2e2e2e" stroke-width="0.7"/><polygon points="125.1,262.7 117.7,270.1 107.6,267.4 104.9,257.3 112.3,249.9 122.4,252.6" fill="url(#gHexSh)"/><polygon points="132.4,275 127.2,284 116.8,284 111.6,275 116.8,266 127.2,266" fill="#d8d8d8" opacity="0.55"/><polygon points="131.5,275 126.8,283.2 117.2,283.2 112.5,275 117.2,266.8 126.8,266.8" fill="#2a2a2a" stroke="#2e2e2e" stroke-width="0.7"/><polygon points="131.5,275 126.8,283.2 117.2,283.2 112.5,275 117.2,266.8 126.8,266.8" fill="url(#gHexSh)"/><polygon points="109.3,288.3 100,294.9 89.7,290 88.7,278.7 98,272.1 108.3,277" fill="#d8d8d8" opacity="0.55"/><polygon points="108.5,287.9 99.9,294 90.4,289.5 89.5,279.1 98.1,273 107.6,277.5" fill="#5a5a5a" stroke="#2e2e2e" stroke-width="0.7"/><polygon points="108.5,287.9 99.9,294 90.4,289.5 89.5,279.1 98.1,273 107.6,277.5" fill="url(#gHexSh)"/><polygon points="124.2,286.3 117.6,294.3 107.3,292.5 103.8,282.7 110.4,274.7 120.7,276.5" fill="#d8d8d8" opacity="0.55"/><polygon points="123.4,286.1 117.2,293.4 107.9,291.8 104.6,282.9 110.8,275.6 120.1,277.2" fill="#6e6e6e" stroke="#2e2e2e" stroke-width="0.7"/><polygon points="123.4,286.1 117.2,293.4 107.9,291.8 104.6,282.9 110.8,275.6 120.1,277.2" fill="url(#gHexSh)"/></g><text x="79.2" y="248.4" font-size="7" fill="#fff">500</text><line x1="116.9" y1="292.4" x2="127.4" y2="292.4" stroke="#fff" stroke-width="0.9"/><defs><linearGradient id="gT3" x1="0" y1="0" x2="1" y2="1"><stop offset="0" stop-color="#8a8a8a"/><stop offset="1" stop-color="#b0b0b0"/></linearGradient></defs><clipPath id="cT3"><rect x="22" y="299" width="52.7" height="52.4"/></clipPath><g clip-path="url(#cT3)"><rect x="22" y="299" width="52.7" height="52.4" fill="url(#gT3)"/><rect x="22" y="299" width="25" height="8" fill="#6a6a6a"/><polygon points="65.4,316.2 57.4,325.7 45.2,323.5 41,311.8 49,302.3 61.2,304.5" fill="#d8d8d8" opacity="0.55"/><polygon points="64.5,316 57.1,324.8 45.8,322.8 41.9,312 49.3,303.2 60.6,305.2" fill="#585858" stroke="#2e2e2e" stroke-width="0.7"/><polygon points="64.5,316 57.1,324.8 45.8,322.8 41.9,312 49.3,303.2 60.6,305.2" fill="url(#gHexSh)"/><polygon points="43.9,321 38.2,330.9 26.8,330.9 21.1,321 26.8,311.1 38.2,311.1" fill="#d8d8d8" opacity="0.55"/><polygon points="43,321 37.8,330.1 27.3,330.1 22,321 27.2,311.9 37.8,311.9" fill="#666666" stroke="#2e2e2e" stroke-width="0.7"/><polygon points="43,321 37.8,330.1 27.3,330.1 22,321 27.2,311.9 37.8,311.9" fill="url(#gHexSh)"/><polygon points="55.2,340.7 45.7,348.7 34,344.5 31.8,332.3 41.3,324.3 53,328.5" fill="#d8d8d8" opacity="0.55"/><polygon points="54.3,340.4 45.5,347.8 34.7,343.9 32.7,332.6 41.5,325.2 52.3,329.1" fill="#525252" stroke="#2e2e2e" stroke-width="0.7"/><polygon points="54.3,340.4 45.5,347.8 34.7,343.9 32.7,332.6 41.5,325.2 52.3,329.1" fill="url(#gHexSh)"/><polygon points="75.7,337 69.1,346.3 57.8,345.3 52.9,335 59.5,325.7 70.8,326.7" fill="#d8d8d8" opacity="0.55"/><polygon points="74.8,336.9 68.7,345.5 58.3,344.6 53.8,335.1 59.9,326.5 70.3,327.4" fill="#484848" stroke="#2e2e2e" stroke-width="0.7"/><polygon points="74.8,336.9 68.7,345.5 58.3,344.6 53.8,335.1 59.9,326.5 70.3,327.4" fill="url(#gHexSh)"/></g><text x="23" y="305.4" font-size="7" fill="#fff">600</text><line x1="60.7" y1="348.8" x2="71.2" y2="348.8" stroke="#fff" stroke-width="0.9"/><clipPath id="cT4"><rect x="78.2" y="299" width="52.5" height="52.4"/></clipPath><g clip-path="url(#cT4)"><rect x="78.2" y="299" width="52.5" height="52.4" fill="#b0b0b0"/><circle cx="81.5" cy="337.5" r="5" fill="#222"/><polygon points="107.9,301.5 103.7,308.8 95.3,308.8 91.1,301.5 95.3,294.2 103.7,294.2" fill="#d8d8d8" opacity="0.55"/><polygon points="107,301.5 103.2,308 95.8,308 92,301.5 95.8,295 103.2,295" fill="#666666" stroke="#2e2e2e" stroke-width="0.7"/><polygon points="107,301.5 103.2,308 95.8,308 92,301.5 95.8,295 103.2,295" fill="url(#gHexSh)"/><polygon points="100.4,320.9 93.1,329.6 81.9,327.6 78,316.9 85.3,308.2 96.5,310.2" fill="#d8d8d8" opacity="0.55"/><polygon points="99.5,320.7 92.8,328.8 82.5,326.9 78.9,317.1 85.6,309 95.9,310.9" fill="#4c4c4c" stroke="#2e2e2e" stroke-width="0.7"/><polygon points="99.5,320.7 92.8,328.8 82.5,326.9 78.9,317.1 85.6,309 95.9,310.9" fill="url(#gHexSh)"/><polygon points="116.6,316.8 111.9,324.9 102.5,324.9 97.8,316.8 102.5,308.7 111.9,308.7" fill="#d8d8d8" opacity="0.55"/><polygon points="115.7,316.8 111.5,324.2 103,324.2 98.7,316.8 103,309.4 111.5,309.4" fill="#6c6c6c" stroke="#2e2e2e" stroke-width="0.7"/><polygon points="115.7,316.8 111.5,324.2 103,324.2 98.7,316.8 103,309.4 111.5,309.4" fill="url(#gHexSh)"/><polygon points="131,331.3 123.4,337.6 114.1,334.3 112.4,324.5 120,318.2 129.3,321.5" fill="#d8d8d8" opacity="0.55"/><polygon points="130.2,331 123.3,336.8 114.8,333.7 113.2,324.8 120.1,319 128.6,322.1" fill="#727272" stroke="#2e2e2e" stroke-width="0.7"/><polygon points="130.2,331 123.3,336.8 114.8,333.7 113.2,324.8 120.1,319 128.6,322.1" fill="url(#gHexSh)"/><polygon points="99.6,331.7 94.7,338.6 86.4,337.9 82.8,330.3 87.7,323.4 96,324.1" fill="#d8d8d8" opacity="0.55"/><polygon points="98.7,331.7 94.4,337.8 86.9,337.1 83.7,330.3 88,324.2 95.5,324.9" fill="#707070" stroke="#2e2e2e" stroke-width="0.7"/><polygon points="98.7,331.7 94.4,337.8 86.9,337.1 83.7,330.3 88,324.2 95.5,324.9" fill="url(#gHexSh)"/><polygon points="121,343.3 113,351.3 101.9,348.4 99,337.3 107,329.3 118.1,332.2" fill="#d8d8d8" opacity="0.55"/><polygon points="120.1,343 112.7,350.4 102.6,347.7 99.9,337.6 107.3,330.2 117.4,332.9" fill="#666666" stroke="#2e2e2e" stroke-width="0.7"/><polygon points="120.1,343 112.7,350.4 102.6,347.7 99.9,337.6 107.3,330.2 117.4,332.9" fill="url(#gHexSh)"/><polygon points="106.2,349 101.5,357.1 92.1,357.1 87.4,349 92.1,340.9 101.5,340.9" fill="#d8d8d8" opacity="0.55"/><polygon points="105.3,349 101,356.4 92.5,356.4 88.3,349 92.5,341.6 101,341.6" fill="#626262" stroke="#2e2e2e" stroke-width="0.7"/><polygon points="105.3,349 101,356.4 92.5,356.4 88.3,349 92.5,341.6 101,341.6" fill="url(#gHexSh)"/></g><text x="79.2" y="305.4" font-size="7" fill="#fff">800</text><line x1="116.7" y1="348.8" x2="127.2" y2="348.8" stroke="#fff" stroke-width="0.9"/><rect x="133.5" y="242" width="146.5" height="110.8" fill="#050505"/><defs><pattern id="pGreen" patternUnits="userSpaceOnUse" width="8" height="8"><rect width="8" height="8" fill="#44B026"/><rect x="4" y="3.6" width="0.7" height="0.7" fill="#2E8A1A"/><rect x="3.8" y="0.1" width="0.6" height="0.6" fill="#5CC838"/><rect x="3.8" y="8.1" width="0.6" height="0.6" fill="#5CC838"/><rect x="6.1" y="4.8" width="0.9" height="0.9" fill="#2E8A1A"/><rect x="5.8" y="1.8" width="0.8" height="0.8" fill="#5CC838"/><rect x="0.6" y="4.1" width="0.6" height="0.6" fill="#5CC838"/><rect x="8.6" y="4.1" width="0.6" height="0.6" fill="#5CC838"/><rect x="4.5" y="1.4" width="0.8" height="0.8" fill="#5CC838"/><rect x="2.6" y="3.1" width="0.9" height="0.9" fill="#78DC50"/><rect x="5.2" y="3.6" width="0.8" height="0.8" fill="#78DC50"/><rect x="4.5" y="7.7" width="0.8" height="0.8" fill="#2E8A1A"/><rect x="4.5" y="-0.3" width="0.8" height="0.8" fill="#2E8A1A"/><rect x="2.8" y="2.8" width="0.8" height="0.8" fill="#5CC838"/><rect x="2.8" y="6.2" width="0.6" height="0.6" fill="#2E8A1A"/><rect x="5.3" y="7" width="0.8" height="0.8" fill="#78DC50"/><rect x="7.4" y="1.8" width="0.5" height="0.5" fill="#78DC50"/><rect x="0.9" y="5" width="0.6" height="0.6" fill="#78DC50"/><rect x="0.1" y="4.3" width="0.6" height="0.6" fill="#2E8A1A"/><rect x="8.1" y="4.3" width="0.6" height="0.6" fill="#2E8A1A"/><rect x="3.1" y="0.3" width="0.6" height="0.6" fill="#78DC50"/><rect x="3.1" y="8.3" width="0.6" height="0.6" fill="#78DC50"/><rect x="5.5" y="3" width="0.7" height="0.7" fill="#2E8A1A"/><rect x="0.8" y="7.4" width="0.9" height="0.9" fill="#2E8A1A"/><rect x="0.8" y="-0.6" width="0.9" height="0.9" fill="#2E8A1A"/><rect x="8.8" y="7.4" width="0.9" height="0.9" fill="#2E8A1A"/><rect x="8.8" y="-0.6" width="0.9" height="0.9" fill="#2E8A1A"/><rect x="6.5" y="0.8" width="0.7" height="0.7" fill="#5CC838"/><rect x="6.2" y="5.9" width="0.8" height="0.8" fill="#2E8A1A"/><rect x="6.8" y="7.1" width="0.7" height="0.7" fill="#78DC50"/><rect x="3.8" y="4.1" width="0.7" height="0.7" fill="#2E8A1A"/><rect x="7.7" y="2.2" width="0.9" height="0.9" fill="#2E8A1A"/><rect x="-0.3" y="2.2" width="0.9" height="0.9" fill="#2E8A1A"/><rect x="7.5" y="3.4" width="0.8" height="0.8" fill="#5CC838"/><rect x="-0.5" y="3.4" width="0.8" height="0.8" fill="#5CC838"/><rect x="1.1" y="7" width="0.7" height="0.7" fill="#78DC50"/><rect x="4.1" y="1.3" width="0.5" height="0.5" fill="#2E8A1A"/><rect x="0.4" y="6.1" width="0.7" height="0.7" fill="#78DC50"/><rect x="8.4" y="6.1" width="0.7" height="0.7" fill="#78DC50"/><rect x="5.5" y="1.4" width="0.5" height="0.5" fill="#5CC838"/><rect x="3.2" y="2.9" width="0.8" height="0.8" fill="#78DC50"/><rect x="8" y="1.8" width="0.6" height="0.6" fill="#2E8A1A"/><rect x="-0" y="1.8" width="0.6" height="0.6" fill="#2E8A1A"/><rect x="6" y="0.9" width="0.7" height="0.7" fill="#2E8A1A"/><rect x="3.9" y="3.5" width="0.5" height="0.5" fill="#78DC50"/><rect x="3" y="1.7" width="0.6" height="0.6" fill="#5CC838"/><rect x="5.3" y="1.1" width="0.9" height="0.9" fill="#5CC838"/><rect x="0.3" y="5" width="0.7" height="0.7" fill="#2E8A1A"/><rect x="8.3" y="5" width="0.7" height="0.7" fill="#2E8A1A"/><rect x="5.6" y="3.8" width="0.6" height="0.6" fill="#78DC50"/><rect x="3.9" y="0.3" width="0.6" height="0.6" fill="#2E8A1A"/><rect x="3.9" y="8.3" width="0.6" height="0.6" fill="#2E8A1A"/><rect x="3.5" y="7.2" width="0.8" height="0.8" fill="#78DC50"/><rect x="7.8" y="0.8" width="0.8" height="0.8" fill="#2E8A1A"/><rect x="7.8" y="8.8" width="0.8" height="0.8" fill="#2E8A1A"/><rect x="-0.2" y="0.8" width="0.8" height="0.8" fill="#2E8A1A"/><rect x="-0.2" y="8.8" width="0.8" height="0.8" fill="#2E8A1A"/><rect x="2" y="2.5" width="0.7" height="0.7" fill="#2E8A1A"/></pattern></defs><defs><pattern id="pGreenD" patternUnits="userSpaceOnUse" width="8" height="8"><rect width="8" height="8" fill="#0a1a06"/><rect x="1.2" y="3.9" width="0.8" height="0.8" fill="#2A6A18"/><rect x="6.3" y="5.4" width="0.6" height="0.6" fill="#3A9A22"/><rect x="3.5" y="4.7" width="0.6" height="0.6" fill="#1A4010"/><rect x="4.5" y="1.1" width="0.7" height="0.7" fill="#1A4010"/><rect x="6.5" y="6.2" width="0.6" height="0.6" fill="#2A6A18"/><rect x="6.7" y="1.9" width="0.8" height="0.8" fill="#3A9A22"/><rect x="4.3" y="4.5" width="0.8" height="0.8" fill="#4CB030"/><rect x="3.3" y="2.3" width="0.7" height="0.7" fill="#1A4010"/><rect x="0.2" y="2.4" width="0.9" height="0.9" fill="#2A6A18"/><rect x="8.2" y="2.4" width="0.9" height="0.9" fill="#2A6A18"/><rect x="2.4" y="1.7" width="0.6" height="0.6" fill="#3A9A22"/><rect x="5.4" y="4.8" width="0.8" height="0.8" fill="#1A4010"/><rect x="8" y="3.2" width="0.8" height="0.8" fill="#4CB030"/><rect x="-0" y="3.2" width="0.8" height="0.8" fill="#4CB030"/><rect x="7.2" y="2.4" width="0.9" height="0.9" fill="#2A6A18"/><rect x="-0.8" y="2.4" width="0.9" height="0.9" fill="#2A6A18"/><rect x="5.4" y="5.4" width="0.8" height="0.8" fill="#4CB030"/><rect x="3.4" y="0.2" width="0.8" height="0.8" fill="#1A4010"/><rect x="3.4" y="8.2" width="0.8" height="0.8" fill="#1A4010"/><rect x="4.1" y="0.6" width="0.7" height="0.7" fill="#4CB030"/><rect x="4.1" y="8.6" width="0.7" height="0.7" fill="#4CB030"/><rect x="6.5" y="3.1" width="0.7" height="0.7" fill="#3A9A22"/><rect x="5.6" y="5" width="0.8" height="0.8" fill="#1A4010"/><rect x="7.7" y="7.4" width="0.7" height="0.7" fill="#3A9A22"/><rect x="7.7" y="-0.6" width="0.7" height="0.7" fill="#3A9A22"/><rect x="-0.3" y="7.4" width="0.7" height="0.7" fill="#3A9A22"/><rect x="-0.3" y="-0.6" width="0.7" height="0.7" fill="#3A9A22"/><rect x="0.4" y="3.5" width="0.7" height="0.7" fill="#2A6A18"/><rect x="8.4" y="3.5" width="0.7" height="0.7" fill="#2A6A18"/><rect x="3.4" y="3.5" width="0.6" height="0.6" fill="#1A4010"/><rect x="7.1" y="2.2" width="0.6" height="0.6" fill="#1A4010"/><rect x="3.7" y="6" width="0.9" height="0.9" fill="#4CB030"/><rect x="7.3" y="0.7" width="0.8" height="0.8" fill="#1A4010"/><rect x="7.3" y="8.7" width="0.8" height="0.8" fill="#1A4010"/><rect x="-0.7" y="0.7" width="0.8" height="0.8" fill="#1A4010"/><rect x="-0.7" y="8.7" width="0.8" height="0.8" fill="#1A4010"/><rect x="5.2" y="2.3" width="0.6" height="0.6" fill="#1A4010"/><rect x="1.5" y="7.3" width="0.8" height="0.8" fill="#4CB030"/><rect x="1.5" y="-0.7" width="0.8" height="0.8" fill="#4CB030"/><rect x="4.7" y="7.5" width="0.9" height="0.9" fill="#3A9A22"/><rect x="4.7" y="-0.5" width="0.9" height="0.9" fill="#3A9A22"/><rect x="6.5" y="0.6" width="0.7" height="0.7" fill="#1A4010"/><rect x="6.5" y="8.6" width="0.7" height="0.7" fill="#1A4010"/><rect x="2.9" y="4.7" width="0.8" height="0.8" fill="#2A6A18"/><rect x="6.7" y="6.4" width="0.7" height="0.7" fill="#1A4010"/><rect x="5.6" y="7.8" width="0.7" height="0.7" fill="#1A4010"/><rect x="5.6" y="-0.2" width="0.7" height="0.7" fill="#1A4010"/><rect x="5.6" y="8" width="0.7" height="0.7" fill="#4CB030"/><rect x="5.6" y="-0" width="0.7" height="0.7" fill="#4CB030"/><rect x="0.3" y="0.9" width="0.7" height="0.7" fill="#2A6A18"/><rect x="8.3" y="0.9" width="0.7" height="0.7" fill="#2A6A18"/><rect x="0.1" y="2.4" width="0.6" height="0.6" fill="#3A9A22"/><rect x="8.1" y="2.4" width="0.6" height="0.6" fill="#3A9A22"/><rect x="6.6" y="7.6" width="0.7" height="0.7" fill="#3A9A22"/><rect x="6.6" y="-0.4" width="0.7" height="0.7" fill="#3A9A22"/><rect x="0.5" y="2" width="0.9" height="0.9" fill="#4CB030"/><rect x="8.5" y="2" width="0.9" height="0.9" fill="#4CB030"/><rect x="6.2" y="5.8" width="0.6" height="0.6" fill="#1A4010"/><rect x="0.4" y="6.7" width="0.7" height="0.7" fill="#4CB030"/><rect x="8.4" y="6.7" width="0.7" height="0.7" fill="#4CB030"/><rect x="2.8" y="6.1" width="0.7" height="0.7" fill="#1A4010"/><rect x="6.7" y="4.2" width="0.7" height="0.7" fill="#3A9A22"/><rect x="7.6" y="1.6" width="0.7" height="0.7" fill="#3A9A22"/><rect x="-0.4" y="1.6" width="0.7" height="0.7" fill="#3A9A22"/><rect x="3.5" y="0.6" width="0.7" height="0.7" fill="#4CB030"/><rect x="3.5" y="8.6" width="0.7" height="0.7" fill="#4CB030"/><rect x="4" y="7.4" width="0.9" height="0.9" fill="#3A9A22"/><rect x="4" y="-0.6" width="0.9" height="0.9" fill="#3A9A22"/><rect x="0.8" y="2.2" width="0.7" height="0.7" fill="#2A6A18"/><rect x="7.5" y="2.2" width="0.9" height="0.9" fill="#3A9A22"/><rect x="-0.5" y="2.2" width="0.9" height="0.9" fill="#3A9A22"/><rect x="6.7" y="6.7" width="0.9" height="0.9" fill="#4CB030"/><rect x="2" y="2.6" width="0.7" height="0.7" fill="#2A6A18"/><rect x="0.3" y="7.5" width="0.7" height="0.7" fill="#3A9A22"/><rect x="0.3" y="-0.5" width="0.7" height="0.7" fill="#3A9A22"/><rect x="8.3" y="7.5" width="0.7" height="0.7" fill="#3A9A22"/><rect x="8.3" y="-0.5" width="0.7" height="0.7" fill="#3A9A22"/><rect x="0.6" y="4.4" width="0.8" height="0.8" fill="#4CB030"/><rect x="8.6" y="4.4" width="0.8" height="0.8" fill="#4CB030"/><rect x="2.4" y="5.6" width="0.8" height="0.8" fill="#1A4010"/><rect x="7.4" y="0.1" width="0.6" height="0.6" fill="#2A6A18"/><rect x="7.4" y="8.1" width="0.6" height="0.6" fill="#2A6A18"/><rect x="-0.6" y="0.1" width="0.6" height="0.6" fill="#2A6A18"/><rect x="-0.6" y="8.1" width="0.6" height="0.6" fill="#2A6A18"/><rect x="3.3" y="4.1" width="0.6" height="0.6" fill="#4CB030"/><rect x="6" y="0.1" width="0.9" height="0.9" fill="#3A9A22"/><rect x="6" y="8.1" width="0.9" height="0.9" fill="#3A9A22"/><rect x="5.8" y="7" width="0.9" height="0.9" fill="#1A4010"/><rect x="3.7" y="1.6" width="0.7" height="0.7" fill="#4CB030"/></pattern></defs><defs><pattern id="pRed" patternUnits="userSpaceOnUse" width="8" height="8"><rect width="8" height="8" fill="#8E2618"/><rect x="4" y="6.9" width="0.5" height="0.5" fill="#601810"/><rect x="0.3" y="7.6" width="0.6" height="0.6" fill="#B83A28"/><rect x="0.3" y="-0.4" width="0.6" height="0.6" fill="#B83A28"/><rect x="8.3" y="7.6" width="0.6" height="0.6" fill="#B83A28"/><rect x="8.3" y="-0.4" width="0.6" height="0.6" fill="#B83A28"/><rect x="2.5" y="6.5" width="0.5" height="0.5" fill="#B83A28"/><rect x="2.8" y="4.5" width="0.6" height="0.6" fill="#A83222"/><rect x="5.7" y="7.4" width="0.8" height="0.8" fill="#B83A28"/><rect x="5.7" y="-0.6" width="0.8" height="0.8" fill="#B83A28"/><rect x="0.4" y="0.2" width="0.9" height="0.9" fill="#601810"/><rect x="0.4" y="8.2" width="0.9" height="0.9" fill="#601810"/><rect x="8.4" y="0.2" width="0.9" height="0.9" fill="#601810"/><rect x="8.4" y="8.2" width="0.9" height="0.9" fill="#601810"/><rect x="2.8" y="4.6" width="0.6" height="0.6" fill="#601810"/><rect x="3.8" y="6.4" width="0.8" height="0.8" fill="#601810"/><rect x="3.5" y="1.1" width="0.8" height="0.8" fill="#601810"/><rect x="5" y="4.4" width="0.9" height="0.9" fill="#B83A28"/><rect x="0.1" y="3.5" width="0.6" height="0.6" fill="#601810"/><rect x="8.1" y="3.5" width="0.6" height="0.6" fill="#601810"/><rect x="5" y="5.3" width="0.7" height="0.7" fill="#A83222"/><rect x="7.3" y="1.2" width="0.6" height="0.6" fill="#601810"/><rect x="0.8" y="0.6" width="0.5" height="0.5" fill="#601810"/><rect x="4.6" y="0.5" width="0.6" height="0.6" fill="#601810"/><rect x="4.6" y="8.5" width="0.6" height="0.6" fill="#601810"/><rect x="2.2" y="5.4" width="0.7" height="0.7" fill="#B83A28"/><rect x="4.6" y="2.7" width="0.7" height="0.7" fill="#A83222"/><rect x="4.6" y="2.4" width="0.8" height="0.8" fill="#B83A28"/><rect x="4" y="3.6" width="0.7" height="0.7" fill="#A83222"/><rect x="0.8" y="0.4" width="0.7" height="0.7" fill="#A83222"/><rect x="0.8" y="8.4" width="0.7" height="0.7" fill="#A83222"/><rect x="5.7" y="1.3" width="0.7" height="0.7" fill="#601810"/><rect x="5.6" y="4.2" width="0.9" height="0.9" fill="#B83A28"/><rect x="3.5" y="1.1" width="0.8" height="0.8" fill="#601810"/><rect x="0.5" y="3" width="0.6" height="0.6" fill="#B83A28"/><rect x="8.5" y="3" width="0.6" height="0.6" fill="#B83A28"/><rect x="1.8" y="7.1" width="0.9" height="0.9" fill="#A83222"/><rect x="7.2" y="7.6" width="0.8" height="0.8" fill="#A83222"/><rect x="7.2" y="-0.4" width="0.8" height="0.8" fill="#A83222"/><rect x="7.5" y="7.7" width="0.9" height="0.9" fill="#B83A28"/><rect x="7.5" y="-0.3" width="0.9" height="0.9" fill="#B83A28"/><rect x="-0.5" y="7.7" width="0.9" height="0.9" fill="#B83A28"/><rect x="-0.5" y="-0.3" width="0.9" height="0.9" fill="#B83A28"/><rect x="3.9" y="0.9" width="0.9" height="0.9" fill="#A83222"/><rect x="4.5" y="7.4" width="0.7" height="0.7" fill="#601810"/><rect x="4.5" y="-0.6" width="0.7" height="0.7" fill="#601810"/><rect x="5.2" y="7.1" width="0.8" height="0.8" fill="#A83222"/><rect x="2.3" y="4.4" width="0.8" height="0.8" fill="#601810"/><rect x="1.7" y="1.2" width="0.8" height="0.8" fill="#601810"/><rect x="4.3" y="7.9" width="0.6" height="0.6" fill="#B83A28"/><rect x="4.3" y="-0.1" width="0.6" height="0.6" fill="#B83A28"/><rect x="7.8" y="6.8" width="0.7" height="0.7" fill="#A83222"/><rect x="-0.2" y="6.8" width="0.7" height="0.7" fill="#A83222"/><rect x="7.4" y="2.9" width="0.8" height="0.8" fill="#A83222"/><rect x="-0.6" y="2.9" width="0.8" height="0.8" fill="#A83222"/><rect x="1.3" y="4.6" width="0.8" height="0.8" fill="#A83222"/><rect x="7.1" y="7.9" width="0.8" height="0.8" fill="#601810"/><rect x="7.1" y="-0.1" width="0.8" height="0.8" fill="#601810"/><rect x="3.9" y="3.7" width="0.6" height="0.6" fill="#A83222"/><rect x="7.5" y="2.3" width="0.6" height="0.6" fill="#601810"/><rect x="-0.5" y="2.3" width="0.6" height="0.6" fill="#601810"/><rect x="5.3" y="1.2" width="0.7" height="0.7" fill="#B83A28"/></pattern></defs><defs><pattern id="pRed2" patternUnits="userSpaceOnUse" width="8" height="8"><rect width="8" height="8" fill="#D8301E"/><rect x="5.9" y="7.3" width="0.5" height="0.5" fill="#F05A40"/><rect x="4.2" y="5.3" width="0.8" height="0.8" fill="#B02010"/><rect x="4" y="4.4" width="0.8" height="0.8" fill="#E84830"/><rect x="1.2" y="7.6" width="0.8" height="0.8" fill="#E84830"/><rect x="1.2" y="-0.4" width="0.8" height="0.8" fill="#E84830"/><rect x="3.7" y="7.1" width="0.8" height="0.8" fill="#E84830"/><rect x="1.8" y="5.3" width="0.7" height="0.7" fill="#E84830"/><rect x="6.5" y="1.2" width="0.7" height="0.7" fill="#E84830"/><rect x="2.3" y="0.9" width="0.6" height="0.6" fill="#B02010"/><rect x="1.1" y="5.6" width="0.6" height="0.6" fill="#E84830"/><rect x="0.8" y="0.6" width="0.7" height="0.7" fill="#F05A40"/><rect x="0.8" y="8.6" width="0.7" height="0.7" fill="#F05A40"/><rect x="6.1" y="7.9" width="0.8" height="0.8" fill="#B02010"/><rect x="6.1" y="-0.1" width="0.8" height="0.8" fill="#B02010"/><rect x="0.2" y="4.8" width="0.8" height="0.8" fill="#E84830"/><rect x="8.2" y="4.8" width="0.8" height="0.8" fill="#E84830"/><rect x="4.8" y="7.4" width="0.6" height="0.6" fill="#F05A40"/><rect x="2.5" y="2.9" width="0.6" height="0.6" fill="#B02010"/><rect x="3.4" y="4.5" width="0.8" height="0.8" fill="#E84830"/><rect x="0.1" y="6.5" width="0.5" height="0.5" fill="#F05A40"/><rect x="8.1" y="6.5" width="0.5" height="0.5" fill="#F05A40"/><rect x="4.8" y="7.4" width="0.8" height="0.8" fill="#F05A40"/><rect x="4.8" y="-0.6" width="0.8" height="0.8" fill="#F05A40"/><rect x="3.5" y="5.2" width="0.7" height="0.7" fill="#E84830"/><rect x="5" y="2.8" width="0.8" height="0.8" fill="#B02010"/><rect x="6.6" y="0.8" width="0.8" height="0.8" fill="#B02010"/><rect x="4.9" y="7.1" width="0.8" height="0.8" fill="#B02010"/><rect x="4.7" y="4.5" width="0.6" height="0.6" fill="#E84830"/><rect x="7.2" y="3" width="0.7" height="0.7" fill="#B02010"/><rect x="5.5" y="4.1" width="0.8" height="0.8" fill="#F05A40"/><rect x="3.2" y="6.9" width="0.8" height="0.8" fill="#F05A40"/><rect x="1.8" y="5.8" width="0.6" height="0.6" fill="#B02010"/><rect x="6.7" y="3.5" width="0.8" height="0.8" fill="#F05A40"/><rect x="0.7" y="7.9" width="0.7" height="0.7" fill="#F05A40"/><rect x="0.7" y="-0.1" width="0.7" height="0.7" fill="#F05A40"/><rect x="8.7" y="7.9" width="0.7" height="0.7" fill="#F05A40"/><rect x="8.7" y="-0.1" width="0.7" height="0.7" fill="#F05A40"/><rect x="6.6" y="7.3" width="0.7" height="0.7" fill="#B02010"/><rect x="4.9" y="5.2" width="0.8" height="0.8" fill="#E84830"/><rect x="7" y="0.9" width="0.6" height="0.6" fill="#E84830"/><rect x="1.5" y="2.8" width="0.9" height="0.9" fill="#B02010"/><rect x="4.4" y="2.2" width="0.9" height="0.9" fill="#B02010"/><rect x="0.8" y="0" width="0.7" height="0.7" fill="#E84830"/><rect x="0.8" y="8" width="0.7" height="0.7" fill="#E84830"/><rect x="2.9" y="4.9" width="0.8" height="0.8" fill="#E84830"/><rect x="1" y="5.5" width="0.9" height="0.9" fill="#F05A40"/><rect x="3.6" y="2.7" width="0.8" height="0.8" fill="#E84830"/><rect x="7.7" y="0.9" width="0.6" height="0.6" fill="#B02010"/><rect x="-0.3" y="0.9" width="0.6" height="0.6" fill="#B02010"/><rect x="2.1" y="3.9" width="0.7" height="0.7" fill="#F05A40"/><rect x="3.7" y="6" width="0.7" height="0.7" fill="#B02010"/></pattern></defs><defs><pattern id="pYel" patternUnits="userSpaceOnUse" width="8" height="8"><rect width="8" height="8" fill="#B0A81C"/><rect x="1.6" y="4.9" width="0.5" height="0.5" fill="#D8D040"/><rect x="1.8" y="6.2" width="0.8" height="0.8" fill="#8A8010"/><rect x="4.7" y="5.4" width="0.7" height="0.7" fill="#C8C030"/><rect x="1.8" y="5.5" width="0.7" height="0.7" fill="#8A8010"/><rect x="4.9" y="1" width="0.8" height="0.8" fill="#D8D040"/><rect x="3.4" y="5" width="0.7" height="0.7" fill="#8A8010"/><rect x="5.5" y="5.2" width="0.6" height="0.6" fill="#8A8010"/><rect x="5.5" y="0.9" width="0.9" height="0.9" fill="#D8D040"/><rect x="5.5" y="8.9" width="0.9" height="0.9" fill="#D8D040"/><rect x="3.1" y="1.2" width="0.8" height="0.8" fill="#C8C030"/><rect x="4.4" y="0.3" width="0.8" height="0.8" fill="#C8C030"/><rect x="4.4" y="8.3" width="0.8" height="0.8" fill="#C8C030"/><rect x="2.7" y="7.1" width="0.6" height="0.6" fill="#8A8010"/><rect x="0.8" y="1.3" width="0.6" height="0.6" fill="#8A8010"/><rect x="4.5" y="1.3" width="0.6" height="0.6" fill="#8A8010"/><rect x="5.3" y="7.6" width="0.6" height="0.6" fill="#8A8010"/><rect x="5.3" y="-0.4" width="0.6" height="0.6" fill="#8A8010"/><rect x="1.2" y="3.6" width="0.6" height="0.6" fill="#C8C030"/><rect x="2.2" y="1.6" width="0.6" height="0.6" fill="#C8C030"/><rect x="7.1" y="2.8" width="0.9" height="0.9" fill="#C8C030"/><rect x="1.1" y="7.7" width="0.6" height="0.6" fill="#C8C030"/><rect x="1.1" y="-0.3" width="0.6" height="0.6" fill="#C8C030"/><rect x="2.4" y="2.1" width="0.7" height="0.7" fill="#D8D040"/><rect x="3.2" y="5.3" width="0.8" height="0.8" fill="#C8C030"/><rect x="4.1" y="4" width="0.7" height="0.7" fill="#C8C030"/><rect x="7.8" y="5.7" width="0.6" height="0.6" fill="#C8C030"/><rect x="-0.2" y="5.7" width="0.6" height="0.6" fill="#C8C030"/><rect x="5.8" y="3.5" width="0.7" height="0.7" fill="#8A8010"/><rect x="4.9" y="5.2" width="0.6" height="0.6" fill="#C8C030"/><rect x="3.4" y="5.3" width="0.6" height="0.6" fill="#8A8010"/><rect x="3.8" y="6.9" width="0.9" height="0.9" fill="#8A8010"/><rect x="1.1" y="5.4" width="0.7" height="0.7" fill="#D8D040"/><rect x="1.6" y="2.6" width="0.6" height="0.6" fill="#D8D040"/><rect x="4.8" y="4.7" width="0.5" height="0.5" fill="#C8C030"/><rect x="7.4" y="6.6" width="0.8" height="0.8" fill="#C8C030"/><rect x="-0.6" y="6.6" width="0.8" height="0.8" fill="#C8C030"/><rect x="3.3" y="0.7" width="0.5" height="0.5" fill="#8A8010"/><rect x="2.1" y="4.4" width="0.5" height="0.5" fill="#D8D040"/><rect x="6.4" y="1.3" width="0.9" height="0.9" fill="#8A8010"/><rect x="1.2" y="0.2" width="0.6" height="0.6" fill="#8A8010"/><rect x="1.2" y="8.2" width="0.6" height="0.6" fill="#8A8010"/><rect x="1.3" y="2.6" width="0.6" height="0.6" fill="#D8D040"/><rect x="5.7" y="2.4" width="0.6" height="0.6" fill="#D8D040"/><rect x="0.6" y="0.7" width="0.8" height="0.8" fill="#8A8010"/><rect x="0.6" y="8.7" width="0.8" height="0.8" fill="#8A8010"/><rect x="8.6" y="0.7" width="0.8" height="0.8" fill="#8A8010"/><rect x="8.6" y="8.7" width="0.8" height="0.8" fill="#8A8010"/><rect x="1.4" y="4.2" width="0.5" height="0.5" fill="#8A8010"/><rect x="2.2" y="6" width="0.8" height="0.8" fill="#C8C030"/><rect x="1.8" y="6.4" width="0.8" height="0.8" fill="#C8C030"/></pattern></defs><defs><pattern id="pPur" patternUnits="userSpaceOnUse" width="8" height="8"><rect width="8" height="8" fill="#1e0a26"/><rect x="6.3" y="0.2" width="0.8" height="0.8" fill="#6A2A80"/><rect x="6.3" y="8.2" width="0.8" height="0.8" fill="#6A2A80"/><rect x="5.9" y="6.1" width="0.8" height="0.8" fill="#6A2A80"/><rect x="6.6" y="6.5" width="0.5" height="0.5" fill="#5A2070"/><rect x="7.9" y="3.3" width="0.5" height="0.5" fill="#3A1448"/><rect x="-0.1" y="3.3" width="0.5" height="0.5" fill="#3A1448"/><rect x="1.7" y="0.5" width="0.9" height="0.9" fill="#3A1448"/><rect x="1.7" y="8.5" width="0.9" height="0.9" fill="#3A1448"/><rect x="3.2" y="7.2" width="0.7" height="0.7" fill="#5A2070"/><rect x="2.4" y="3.8" width="0.9" height="0.9" fill="#28102e"/><rect x="3" y="3.4" width="0.7" height="0.7" fill="#3A1448"/><rect x="1.6" y="6.8" width="0.8" height="0.8" fill="#6A2A80"/><rect x="2.5" y="5.9" width="0.6" height="0.6" fill="#28102e"/><rect x="4.9" y="3.5" width="0.8" height="0.8" fill="#3A1448"/><rect x="4.9" y="7" width="0.7" height="0.7" fill="#28102e"/><rect x="3.4" y="7.6" width="0.8" height="0.8" fill="#3A1448"/><rect x="3.4" y="-0.4" width="0.8" height="0.8" fill="#3A1448"/><rect x="0.8" y="3" width="0.7" height="0.7" fill="#3A1448"/><rect x="4.3" y="6.5" width="0.8" height="0.8" fill="#5A2070"/><rect x="6.2" y="0.3" width="0.7" height="0.7" fill="#28102e"/><rect x="6.2" y="8.3" width="0.7" height="0.7" fill="#28102e"/><rect x="6.4" y="4.1" width="0.8" height="0.8" fill="#6A2A80"/><rect x="5.8" y="3.8" width="0.9" height="0.9" fill="#3A1448"/><rect x="4.2" y="4.2" width="0.8" height="0.8" fill="#3A1448"/><rect x="6.2" y="0.3" width="0.9" height="0.9" fill="#6A2A80"/><rect x="6.2" y="8.3" width="0.9" height="0.9" fill="#6A2A80"/><rect x="4.7" y="0.7" width="0.6" height="0.6" fill="#5A2070"/><rect x="2" y="2.9" width="0.6" height="0.6" fill="#6A2A80"/><rect x="4.7" y="4.4" width="0.7" height="0.7" fill="#28102e"/><rect x="0.3" y="0.5" width="0.6" height="0.6" fill="#28102e"/><rect x="0.3" y="8.5" width="0.6" height="0.6" fill="#28102e"/><rect x="8.3" y="0.5" width="0.6" height="0.6" fill="#28102e"/><rect x="8.3" y="8.5" width="0.6" height="0.6" fill="#28102e"/><rect x="0.2" y="2.2" width="0.5" height="0.5" fill="#28102e"/><rect x="8.2" y="2.2" width="0.5" height="0.5" fill="#28102e"/><rect x="3.3" y="6.8" width="0.9" height="0.9" fill="#3A1448"/><rect x="6.6" y="2.2" width="0.8" height="0.8" fill="#28102e"/><rect x="0.4" y="4.4" width="0.7" height="0.7" fill="#3A1448"/><rect x="8.4" y="4.4" width="0.7" height="0.7" fill="#3A1448"/><rect x="1.6" y="3" width="0.6" height="0.6" fill="#6A2A80"/><rect x="0.3" y="6.5" width="0.7" height="0.7" fill="#5A2070"/><rect x="8.3" y="6.5" width="0.7" height="0.7" fill="#5A2070"/><rect x="0.8" y="3.5" width="0.9" height="0.9" fill="#6A2A80"/><rect x="8.8" y="3.5" width="0.9" height="0.9" fill="#6A2A80"/><rect x="4.2" y="2.9" width="0.6" height="0.6" fill="#3A1448"/><rect x="2.7" y="0.9" width="0.6" height="0.6" fill="#5A2070"/><rect x="0.3" y="4.7" width="0.8" height="0.8" fill="#3A1448"/><rect x="8.3" y="4.7" width="0.8" height="0.8" fill="#3A1448"/><rect x="1.8" y="4.1" width="0.6" height="0.6" fill="#3A1448"/><rect x="4.2" y="1.9" width="0.8" height="0.8" fill="#5A2070"/><rect x="6.6" y="7.8" width="0.8" height="0.8" fill="#3A1448"/><rect x="6.6" y="-0.2" width="0.8" height="0.8" fill="#3A1448"/><rect x="3.2" y="4.8" width="0.6" height="0.6" fill="#28102e"/><rect x="3.2" y="2" width="0.6" height="0.6" fill="#3A1448"/><rect x="7.7" y="1.3" width="0.6" height="0.6" fill="#6A2A80"/><rect x="-0.3" y="1.3" width="0.6" height="0.6" fill="#6A2A80"/><rect x="4.1" y="4.6" width="0.9" height="0.9" fill="#5A2070"/><rect x="7.8" y="0.8" width="0.9" height="0.9" fill="#28102e"/><rect x="7.8" y="8.8" width="0.9" height="0.9" fill="#28102e"/><rect x="-0.2" y="0.8" width="0.9" height="0.9" fill="#28102e"/><rect x="-0.2" y="8.8" width="0.9" height="0.9" fill="#28102e"/><rect x="2.1" y="1.9" width="0.6" height="0.6" fill="#6A2A80"/><rect x="1.4" y="1.1" width="0.7" height="0.7" fill="#28102e"/><rect x="4.6" y="3" width="0.6" height="0.6" fill="#5A2070"/><rect x="1.1" y="6" width="0.6" height="0.6" fill="#28102e"/><rect x="7.8" y="4.4" width="0.7" height="0.7" fill="#3A1448"/><rect x="-0.2" y="4.4" width="0.7" height="0.7" fill="#3A1448"/><rect x="4.2" y="3" width="0.9" height="0.9" fill="#3A1448"/><rect x="6.3" y="7.4" width="0.7" height="0.7" fill="#28102e"/><rect x="6.3" y="-0.6" width="0.7" height="0.7" fill="#28102e"/><rect x="6.8" y="6.4" width="0.7" height="0.7" fill="#6A2A80"/></pattern></defs><defs><radialGradient id="gw0" cx="0.45" cy="0.45" r="0.6"><stop offset="0" stop-color="#f8f8f8"/><stop offset="0.75" stop-color="#e6e6e6"/><stop offset="1" stop-color="#b0b0b0"/></radialGradient></defs><polygon points="165.3,256 159.6,265.9 148.2,265.9 142.5,256 148.2,246.1 159.6,246.1" fill="#9a9a9a" opacity="0.6"/><polygon points="164.8,256 159.3,265.4 148.5,265.4 143,256 148.4,246.6 159.3,246.6" fill="url(#gw0)"/><polygon points="193.2,256 187.7,265.5 176.7,265.5 171.2,256 176.7,246.5 187.7,246.5" fill="url(#pGreen)"/><polygon points="221.9,256.5 216.6,265.7 206,265.7 200.7,256.5 206,247.3 216.6,247.3" fill="url(#pRed)"/><polygon points="249.4,256 244,265.4 233.2,265.4 227.8,256 233.2,246.6 244,246.6" fill="url(#pYel)"/><polygon points="277.6,256 272.3,265.2 261.7,265.2 256.4,256 261.7,246.8 272.3,246.8" fill="url(#pPur)"/><text x="134.3" y="247.6" font-size="5.6" fill="#eee">400</text><line x1="134.8" y1="265.4" x2="143.8" y2="265.4" stroke="#ddd" stroke-width="0.9"/><text x="191.5" y="268" font-size="4.4" fill="#eee">Zn</text><text x="218.3" y="268" font-size="4.4" fill="#eee">C</text><text x="247.8" y="268" font-size="4.4" fill="#eee">N</text><text x="275.6" y="268" font-size="4.4" fill="#eee">O</text><line x1="133.5" y1="269.4" x2="280" y2="269.4" stroke="#9a9a9a" stroke-width="0.7"/><defs><radialGradient id="gw1" cx="0.45" cy="0.45" r="0.6"><stop offset="0" stop-color="#f8f8f8"/><stop offset="0.75" stop-color="#e6e6e6"/><stop offset="1" stop-color="#b0b0b0"/></radialGradient></defs><polygon points="165.3,283.8 159.6,293.7 148.2,293.7 142.5,283.8 148.2,273.9 159.6,273.9" fill="#9a9a9a" opacity="0.6"/><polygon points="164.8,283.8 159.3,293.2 148.5,293.2 143,283.8 148.4,274.4 159.3,274.4" fill="url(#gw1)"/><polygon points="193.2,283.8 187.7,293.3 176.7,293.3 171.2,283.8 176.7,274.3 187.7,274.3" fill="url(#pGreen)"/><polygon points="221.9,284.3 216.6,293.5 206,293.5 200.7,284.3 206,275.1 216.6,275.1" fill="url(#pRed)"/><polygon points="249.4,283.8 244,293.2 233.2,293.2 227.8,283.8 233.2,274.4 244,274.4" fill="url(#pYel)"/><polygon points="277.6,283.8 272.3,293 261.7,293 256.4,283.8 261.7,274.6 272.3,274.6" fill="url(#pPur)"/><text x="134.3" y="275.4" font-size="5.6" fill="#eee">500</text><line x1="134.8" y1="293.2" x2="143.8" y2="293.2" stroke="#ddd" stroke-width="0.9"/><text x="191.5" y="295.8" font-size="4.4" fill="#eee">Zn</text><text x="218.3" y="295.8" font-size="4.4" fill="#eee">C</text><text x="247.8" y="295.8" font-size="4.4" fill="#eee">N</text><text x="275.6" y="295.8" font-size="4.4" fill="#eee">O</text><line x1="133.5" y1="297.2" x2="280" y2="297.2" stroke="#9a9a9a" stroke-width="0.7"/><defs><radialGradient id="gw2" cx="0.45" cy="0.45" r="0.6"><stop offset="0" stop-color="#f8f8f8"/><stop offset="0.75" stop-color="#e6e6e6"/><stop offset="1" stop-color="#b0b0b0"/></radialGradient></defs><polygon points="165.3,311.6 159.6,321.5 148.2,321.5 142.5,311.6 148.2,301.7 159.6,301.7" fill="#9a9a9a" opacity="0.6"/><polygon points="164.8,311.6 159.3,321 148.5,321 143,311.6 148.4,302.2 159.3,302.2" fill="url(#gw2)"/><polygon points="193.2,311.6 187.7,321.1 176.7,321.1 171.2,311.6 176.7,302.1 187.7,302.1" fill="url(#pGreen)"/><polygon points="221.9,312.1 216.6,321.3 206,321.3 200.7,312.1 206,302.9 216.6,302.9" fill="url(#pRed)"/><polygon points="249.4,311.6 244,321 233.2,321 227.8,311.6 233.2,302.2 244,302.2" fill="url(#pYel)"/><polygon points="277.6,311.6 272.3,320.8 261.7,320.8 256.4,311.6 261.7,302.4 272.3,302.4" fill="url(#pPur)"/><text x="134.3" y="303.2" font-size="5.6" fill="#eee">600</text><line x1="134.8" y1="321" x2="143.8" y2="321" stroke="#ddd" stroke-width="0.9"/><text x="191.5" y="323.6" font-size="4.4" fill="#eee">Zn</text><text x="218.3" y="323.6" font-size="4.4" fill="#eee">C</text><text x="247.8" y="323.6" font-size="4.4" fill="#eee">N</text><text x="275.6" y="323.6" font-size="4.4" fill="#eee">O</text><line x1="133.5" y1="325" x2="280" y2="325" stroke="#9a9a9a" stroke-width="0.7"/><defs><radialGradient id="gw3" cx="0.45" cy="0.45" r="0.6"><stop offset="0" stop-color="#f8f8f8"/><stop offset="0.75" stop-color="#e6e6e6"/><stop offset="1" stop-color="#b0b0b0"/></radialGradient></defs><polygon points="165.3,339.4 159.6,349.3 148.2,349.3 142.5,339.4 148.2,329.5 159.6,329.5" fill="#9a9a9a" opacity="0.6"/><polygon points="164.8,339.4 159.3,348.8 148.5,348.8 143,339.4 148.4,330 159.3,330" fill="url(#gw3)"/><polygon points="193.2,339.4 187.7,348.9 176.7,348.9 171.2,339.4 176.7,329.9 187.7,329.9" fill="url(#pGreenD)"/><polygon points="221.9,339.9 216.6,349.1 206,349.1 200.7,339.9 206,330.7 216.6,330.7" fill="url(#pRed2)"/><polygon points="249.4,339.4 244,348.8 233.2,348.8 227.8,339.4 233.2,330 244,330" fill="url(#pYel)"/><polygon points="277.6,339.4 272.3,348.6 261.7,348.6 256.4,339.4 261.7,330.2 272.3,330.2" fill="url(#pPur)"/><text x="134.3" y="331" font-size="5.6" fill="#eee">800</text><line x1="134.8" y1="348.8" x2="143.8" y2="348.8" stroke="#ddd" stroke-width="0.9"/><text x="191.5" y="351.4" font-size="4.4" fill="#eee">Zn</text><text x="218.3" y="351.4" font-size="4.4" fill="#eee">C</text><text x="247.8" y="351.4" font-size="4.4" fill="#eee">N</text><text x="275.6" y="351.4" font-size="4.4" fill="#eee">O</text><text x="286.9" y="249.6" font-size="11.6" fill="#000">h</text><text x="301" y="248.9" font-size="3.4" fill="#333" font-weight="bold" text-anchor="end">0.6</text><line x1="302.2" y1="247.7" x2="303.2" y2="247.7" stroke="#333" stroke-width="0.4"/><text x="301" y="255.1" font-size="3.4" fill="#333" font-weight="bold" text-anchor="end">0.3</text><line x1="302.2" y1="253.9" x2="303.2" y2="253.9" stroke="#333" stroke-width="0.4"/><text x="301" y="261.4" font-size="3.4" fill="#333" font-weight="bold" text-anchor="end">0.0</text><line x1="302.2" y1="260.2" x2="303.2" y2="260.2" stroke="#333" stroke-width="0.4"/><text x="301" y="267.6" font-size="3.4" fill="#333" font-weight="bold" text-anchor="end">-0.3</text><line x1="302.2" y1="266.4" x2="303.2" y2="266.4" stroke="#333" stroke-width="0.4"/><line x1="302.2" y1="259.8" x2="409.5" y2="259.8" stroke="#E04040" stroke-width="1.3" opacity="0.85"/><line x1="302.2" y1="261.4" x2="409.5" y2="261.4" stroke="#333" stroke-width="0.5"/><line x1="302.2" y1="262.2" x2="409.5" y2="262.2" stroke="#E04040" stroke-width="0.8" opacity="0.6"/><path d="M379.4,259.5 C382.4,259.3 383,258.1 383.4,247.3" fill="none" stroke="#3050E0" stroke-width="0.7"/><path d="M386.7,259.5 C389.7,259.3 390.3,258.1 390.7,247.3" fill="none" stroke="#222" stroke-width="0.7"/><path d="M401.4,259.5 C404.4,259.3 405,258.1 405.4,247.3" fill="none" stroke="#E04040" stroke-width="0.7"/><line x1="302.2" y1="246.7" x2="302.2" y2="260.2" stroke="#3050E0" stroke-width="0.7"/><text x="314.3" y="249.6" font-size="3.8" fill="#333" font-weight="bold">400</text><line x1="329.3" y1="248.3" x2="334.4" y2="248.3" stroke="#3050E0" stroke-width="0.8"/><text x="335.3" y="249.5" font-size="3.2" fill="#333">1st</text><line x1="341.5" y1="248.3" x2="346.5" y2="248.3" stroke="#222" stroke-width="0.8"/><text x="347.3" y="249.5" font-size="3.2" fill="#333">50th</text><line x1="355.5" y1="248.3" x2="360.5" y2="248.3" stroke="#E04040" stroke-width="0.8"/><text x="361.3" y="249.5" font-size="3.2" fill="#333">200th</text><line x1="302.2" y1="244" x2="409.5" y2="244" stroke="#333" stroke-width="0.8"/><line x1="302.7" y1="268.7" x2="302.7" y2="267.5" stroke="#333" stroke-width="0.4"/><line x1="323.7" y1="268.7" x2="323.7" y2="267.5" stroke="#333" stroke-width="0.4"/><line x1="344.6" y1="268.7" x2="344.6" y2="267.5" stroke="#333" stroke-width="0.4"/><line x1="365.6" y1="268.7" x2="365.6" y2="267.5" stroke="#333" stroke-width="0.4"/><line x1="386.5" y1="268.7" x2="386.5" y2="267.5" stroke="#333" stroke-width="0.4"/><line x1="407.5" y1="268.7" x2="407.5" y2="267.5" stroke="#333" stroke-width="0.4"/><text x="301" y="273.6" font-size="3.4" fill="#333" font-weight="bold" text-anchor="end">0.6</text><line x1="302.2" y1="272.4" x2="303.2" y2="272.4" stroke="#333" stroke-width="0.4"/><text x="301" y="279.9" font-size="3.4" fill="#333" font-weight="bold" text-anchor="end">0.3</text><line x1="302.2" y1="278.7" x2="303.2" y2="278.7" stroke="#333" stroke-width="0.4"/><text x="301" y="286.1" font-size="3.4" fill="#333" font-weight="bold" text-anchor="end">0.0</text><line x1="302.2" y1="284.9" x2="303.2" y2="284.9" stroke="#333" stroke-width="0.4"/><text x="301" y="292.4" font-size="3.4" fill="#333" font-weight="bold" text-anchor="end">-0.3</text><line x1="302.2" y1="291.2" x2="303.2" y2="291.2" stroke="#333" stroke-width="0.4"/><line x1="302.2" y1="284.5" x2="409.5" y2="284.5" stroke="#E04040" stroke-width="1.3" opacity="0.85"/><line x1="302.2" y1="286.2" x2="409.5" y2="286.2" stroke="#333" stroke-width="0.5"/><line x1="302.2" y1="287" x2="409.5" y2="287" stroke="#E04040" stroke-width="0.8" opacity="0.6"/><path d="M395.1,284.3 C398.1,284.1 398.7,282.8 399.1,272" fill="none" stroke="#3050E0" stroke-width="0.7"/><path d="M400.4,284.3 C403.4,284.1 404,282.8 404.4,272" fill="none" stroke="#222" stroke-width="0.7"/><path d="M402.5,284.3 C405.5,284.1 406.1,282.8 406.5,272" fill="none" stroke="#E04040" stroke-width="0.7"/><text x="314.3" y="274.3" font-size="3.8" fill="#333" font-weight="bold">500</text><line x1="329.3" y1="273" x2="334.4" y2="273" stroke="#3050E0" stroke-width="0.8"/><text x="335.3" y="274.2" font-size="3.2" fill="#333">1st</text><line x1="341.5" y1="273" x2="346.5" y2="273" stroke="#222" stroke-width="0.8"/><text x="347.3" y="274.2" font-size="3.2" fill="#333">50th</text><line x1="355.5" y1="273" x2="360.5" y2="273" stroke="#E04040" stroke-width="0.8"/><text x="361.3" y="274.2" font-size="3.2" fill="#333">200th</text><line x1="302.2" y1="268.7" x2="409.5" y2="268.7" stroke="#333" stroke-width="0.8"/><line x1="302.7" y1="293.5" x2="302.7" y2="292.3" stroke="#333" stroke-width="0.4"/><line x1="323.7" y1="293.5" x2="323.7" y2="292.3" stroke="#333" stroke-width="0.4"/><line x1="344.6" y1="293.5" x2="344.6" y2="292.3" stroke="#333" stroke-width="0.4"/><line x1="365.6" y1="293.5" x2="365.6" y2="292.3" stroke="#333" stroke-width="0.4"/><line x1="386.5" y1="293.5" x2="386.5" y2="292.3" stroke="#333" stroke-width="0.4"/><line x1="407.5" y1="293.5" x2="407.5" y2="292.3" stroke="#333" stroke-width="0.4"/><text x="301" y="298.4" font-size="3.4" fill="#333" font-weight="bold" text-anchor="end">0.6</text><line x1="302.2" y1="297.2" x2="303.2" y2="297.2" stroke="#333" stroke-width="0.4"/><text x="301" y="304.6" font-size="3.4" fill="#333" font-weight="bold" text-anchor="end">0.3</text><line x1="302.2" y1="303.4" x2="303.2" y2="303.4" stroke="#333" stroke-width="0.4"/><text x="301" y="310.9" font-size="3.4" fill="#333" font-weight="bold" text-anchor="end">0.0</text><line x1="302.2" y1="309.7" x2="303.2" y2="309.7" stroke="#333" stroke-width="0.4"/><text x="301" y="317.1" font-size="3.4" fill="#333" font-weight="bold" text-anchor="end">-0.3</text><line x1="302.2" y1="315.9" x2="303.2" y2="315.9" stroke="#333" stroke-width="0.4"/><line x1="302.2" y1="309.3" x2="409.5" y2="309.3" stroke="#E04040" stroke-width="1.3" opacity="0.85"/><line x1="302.2" y1="310.9" x2="409.5" y2="310.9" stroke="#333" stroke-width="0.5"/><line x1="302.2" y1="311.7" x2="409.5" y2="311.7" stroke="#E04040" stroke-width="0.8" opacity="0.6"/><path d="M370,309 C373,308.8 373.6,307.6 374,296.8" fill="none" stroke="#3050E0" stroke-width="0.7"/><path d="M392,309 C395,308.8 395.6,307.6 396,296.8" fill="none" stroke="#222" stroke-width="0.7"/><path d="M394.1,309 C397.1,308.8 397.7,307.6 398.1,296.8" fill="none" stroke="#E04040" stroke-width="0.7"/><path d="M302.2,302.4 C305.8,306.5 309,309.3 312.1,311.3 L369.8,310.7" fill="none" stroke="#3050E0" stroke-width="0.7"/><text x="314.3" y="299.1" font-size="3.8" fill="#333" font-weight="bold">600</text><line x1="329.3" y1="297.8" x2="334.4" y2="297.8" stroke="#3050E0" stroke-width="0.8"/><text x="335.3" y="299" font-size="3.2" fill="#333">1st</text><line x1="341.5" y1="297.8" x2="346.5" y2="297.8" stroke="#222" stroke-width="0.8"/><text x="347.3" y="299" font-size="3.2" fill="#333">50th</text><line x1="355.5" y1="297.8" x2="360.5" y2="297.8" stroke="#E04040" stroke-width="0.8"/><text x="361.3" y="299" font-size="3.2" fill="#333">200th</text><line x1="302.2" y1="293.5" x2="409.5" y2="293.5" stroke="#333" stroke-width="0.8"/><line x1="302.7" y1="318.2" x2="302.7" y2="317" stroke="#333" stroke-width="0.4"/><line x1="323.7" y1="318.2" x2="323.7" y2="317" stroke="#333" stroke-width="0.4"/><line x1="344.6" y1="318.2" x2="344.6" y2="317" stroke="#333" stroke-width="0.4"/><line x1="365.6" y1="318.2" x2="365.6" y2="317" stroke="#333" stroke-width="0.4"/><line x1="386.5" y1="318.2" x2="386.5" y2="317" stroke="#333" stroke-width="0.4"/><line x1="407.5" y1="318.2" x2="407.5" y2="317" stroke="#333" stroke-width="0.4"/><text x="301" y="323.1" font-size="3.4" fill="#333" font-weight="bold" text-anchor="end">0.6</text><line x1="302.2" y1="321.9" x2="303.2" y2="321.9" stroke="#333" stroke-width="0.4"/><text x="301" y="329.4" font-size="3.4" fill="#333" font-weight="bold" text-anchor="end">0.3</text><line x1="302.2" y1="328.2" x2="303.2" y2="328.2" stroke="#333" stroke-width="0.4"/><text x="301" y="335.8" font-size="3.4" fill="#333" font-weight="bold" text-anchor="end">0.0</text><line x1="302.2" y1="334.6" x2="303.2" y2="334.6" stroke="#333" stroke-width="0.4"/><text x="301" y="342.1" font-size="3.4" fill="#333" font-weight="bold" text-anchor="end">-0.3</text><line x1="302.2" y1="340.9" x2="303.2" y2="340.9" stroke="#333" stroke-width="0.4"/><line x1="302.2" y1="334.1" x2="409.5" y2="334.1" stroke="#E04040" stroke-width="1.3" opacity="0.85"/><line x1="302.2" y1="335.8" x2="409.5" y2="335.8" stroke="#333" stroke-width="0.5"/><line x1="302.2" y1="336.7" x2="409.5" y2="336.7" stroke="#E04040" stroke-width="0.8" opacity="0.6"/><path d="M358.4,333.9 C361.4,333.7 362,332.5 362.4,321.5" fill="none" stroke="#3050E0" stroke-width="0.7"/><path d="M389.9,333.9 C392.9,333.7 393.5,332.5 393.9,321.5" fill="none" stroke="#222" stroke-width="0.7"/><path d="M383.6,333.9 C386.6,333.7 387.2,332.5 387.6,321.5" fill="none" stroke="#E04040" stroke-width="0.7"/><path d="M302.2,320.8 C307.9,327.2 313.2,330.3 323.7,332.9 C329.9,335 334.1,335.8 360.3,335.6" fill="none" stroke="#3050E0" stroke-width="0.7"/><text x="314.3" y="323.8" font-size="3.8" fill="#333" font-weight="bold">800</text><line x1="329.3" y1="322.5" x2="334.4" y2="322.5" stroke="#3050E0" stroke-width="0.8"/><text x="335.3" y="323.7" font-size="3.2" fill="#333">1st</text><line x1="341.5" y1="322.5" x2="346.5" y2="322.5" stroke="#222" stroke-width="0.8"/><text x="347.3" y="323.7" font-size="3.2" fill="#333">50th</text><line x1="355.5" y1="322.5" x2="360.5" y2="322.5" stroke="#E04040" stroke-width="0.8"/><text x="361.3" y="323.7" font-size="3.2" fill="#333">200th</text><line x1="302.2" y1="318.2" x2="409.5" y2="318.2" stroke="#333" stroke-width="0.8"/><line x1="302.7" y1="343.2" x2="302.7" y2="342" stroke="#333" stroke-width="0.4"/><line x1="323.7" y1="343.2" x2="323.7" y2="342" stroke="#333" stroke-width="0.4"/><line x1="344.6" y1="343.2" x2="344.6" y2="342" stroke="#333" stroke-width="0.4"/><line x1="365.6" y1="343.2" x2="365.6" y2="342" stroke="#333" stroke-width="0.4"/><line x1="386.5" y1="343.2" x2="386.5" y2="342" stroke="#333" stroke-width="0.4"/><line x1="407.5" y1="343.2" x2="407.5" y2="342" stroke="#333" stroke-width="0.4"/><rect x="302.2" y="244" width="107.3" height="99.2" fill="none" stroke="#333" stroke-width="0.8"/><text x="302.7" y="347.6" font-size="4" fill="#333" font-weight="bold" text-anchor="middle">0.0</text><text x="323.7" y="347.6" font-size="4" fill="#333" font-weight="bold" text-anchor="middle">0.2</text><text x="344.6" y="347.6" font-size="4" fill="#333" font-weight="bold" text-anchor="middle">0.4</text><text x="365.6" y="347.6" font-size="4" fill="#333" font-weight="bold" text-anchor="middle">0.6</text><text x="386.5" y="347.6" font-size="4" fill="#333" font-weight="bold" text-anchor="middle">0.8</text><text x="407.5" y="347.6" font-size="4" fill="#333" font-weight="bold" text-anchor="middle">1.0</text><text x="358.8" y="354.8" font-size="7.2" fill="#2a2a2a" font-weight="bold" text-anchor="middle" textLength="35" lengthAdjust="spacingAndGlyphs">Capacity (mAh)</text><text transform="translate(292,295) rotate(-90)" font-size="6.2" font-weight="bold" text-anchor="middle" fill="#333">Voltage (V)</text><text x="419.6" y="250.8" font-size="8.5" font-weight="bold" fill="#222">i</text><text x="431.2" y="246.5" font-size="3.0" fill="#333" font-weight="bold" text-anchor="end">100</text><line x1="432.4" y1="245.4" x2="433.4" y2="245.4" stroke="#333" stroke-width="0.4"/><text x="431.2" y="249.8" font-size="3.0" fill="#333" font-weight="bold" text-anchor="end">90</text><line x1="432.4" y1="248.7" x2="433.4" y2="248.7" stroke="#333" stroke-width="0.4"/><text x="431.2" y="254.6" font-size="3.0" fill="#333" font-weight="bold" text-anchor="end">70</text><line x1="432.4" y1="253.5" x2="433.4" y2="253.5" stroke="#333" stroke-width="0.4"/><text x="431.2" y="259.5" font-size="3.0" fill="#333" font-weight="bold" text-anchor="end">50</text><line x1="432.4" y1="258.4" x2="433.4" y2="258.4" stroke="#333" stroke-width="0.4"/><polyline points="433.5,255 434,253.2 434.6,251.4 435.1,249.6 435.6,249.7 436.2,249.8 436.7,249.9 437.2,250 437.8,250.1 438.3,250.2 438.8,250.3 439.4,250.4 439.9,250.5 440.4,250.6 441,250.7 441.5,250.8 442,250.9 442.6,251 443.1,251.1 443.6,251.2 444.1,251.3 444.7,251.4 445.2,251.5 445.7,251.5 446.3,251.6 446.8,251.7 447.3,251.8 447.9,251.9 448.4,252 448.9,252 449.5,252.1 450,252.2 450.5,252.3 451.1,252.4 451.6,252.4 452.1,252.5 452.7,252.6 453.2,252.6 453.7,252.7 454.3,252.8 454.8,252.8 455.3,252.9 455.9,252.9 456.4,253 456.9,253 457.5,253.1 458,253.1 458.5,253.2 459.1,253.2 459.6,253.3 460.1,253.3 460.7,253.4 461.2,253.4 461.7,253.4 462.3,253.4 462.8,253.5 463.3,253.5 463.9,253.5 464.4,253.5 464.9,253.6 465.4,253.6 466,254.6 466.5,253.1 467,253.5 467.6,252.7 468.1,254.9 468.6,252.6 469.2,253.9 469.7,253.7 470.2,253.9 470.8,253.1 471.3,253 471.8,253 472.4,252.1 472.9,252.6 473.4,252.5 474,253.7 474.5,252.8 475,251.9 475.6,251.6 476.1,252.4 476.6,254 477.2,251.5 477.7,252.5 478.2,253.3 478.8,251.5 479.3,253.3 479.8,253.4 480.4,253.2 480.9,251.4 481.4,253.4 482,251.5 482.5,252.9 483,252.9 483.6,252.1 484.1,252.6 484.6,252.6 485.2,252.7 485.7,251.3 486.2,253 486.8,252 487.3,251.3 487.8,250.6 488.3,252.4 488.9,252.8 489.4,252.4 489.9,251.8 490.5,251.9 491,251 491.5,250.3 492.1,252.3 492.6,251.8 493.1,251.2 493.7,252 494.2,250.1 494.7,249.9 495.3,250.3 495.8,251.8 496.3,250.4 496.9,249.6 497.4,249.8 497.9,249.6 498.5,251.6 499,251.7 499.5,249.3 500.1,250.8 500.6,249.6 501.1,251.2 501.7,249.6 502.2,250.8 502.7,248.9 503.3,250.3 503.8,249.9 504.3,249.1 504.9,251.2 505.4,250 505.9,250.7 506.5,249.3 507,249.6 507.5,251.1 508.1,250.2 508.6,251.3 509.1,250.6 509.6,251.4 510.2,249.7 510.7,250.2 511.2,251.2 511.8,248.9 512.3,250.2 512.8,248.8 513.4,249.4 513.9,249.9 514.4,249.4 515,249 515.5,249 516,250.5 516.6,251.1 517.1,250.4 517.6,249.7 518.2,250.7 518.7,248.9 519.2,250.8 519.8,250.3 520.3,250.1 520.8,250.3 521.4,249.1 521.9,250 522.4,250.2 523,250 523.5,250.1 524,253.8 524.6,253.7 525.1,249.5 525.6,250.8 526.2,250.2 526.7,251.1 527.2,250.8 527.8,250 528.3,251.4 528.8,250.9 529.4,249.2 529.9,249.6 530.4,249.4 530.9,250 531.5,250.2 532,250.1 532.5,251.1 533.1,249.7 533.6,251 534.1,249.9 534.7,250.6 535.2,249.2 535.7,250.7 536.3,249.4 536.8,250.6 537.3,249.7 537.9,250.9 538.4,250.8 538.9,249 539.5,250.9 540,250.3" fill="none" stroke="#B03030" stroke-width="0.8"/><line x1="437" y1="262.6" x2="441.5" y2="262.6" stroke="#B03030" stroke-width="0.8"/><circle cx="439.2" cy="262.6" r="0.9" fill="#B03030"/><text x="443" y="263.9" font-size="3.6" fill="#333" font-weight="bold">400</text><line x1="432.4" y1="242.6" x2="540.5" y2="242.6" stroke="#333" stroke-width="0.8"/><line x1="433.5" y1="267.6" x2="433.5" y2="266.4" stroke="#333" stroke-width="0.5"/><line x1="460.1" y1="267.6" x2="460.1" y2="266.4" stroke="#333" stroke-width="0.5"/><line x1="486.8" y1="267.6" x2="486.8" y2="266.4" stroke="#333" stroke-width="0.5"/><line x1="513.4" y1="267.6" x2="513.4" y2="266.4" stroke="#333" stroke-width="0.5"/><line x1="540" y1="267.6" x2="540" y2="266.4" stroke="#333" stroke-width="0.5"/><text x="431.2" y="271.5" font-size="3.0" fill="#333" font-weight="bold" text-anchor="end">100</text><line x1="432.4" y1="270.4" x2="433.4" y2="270.4" stroke="#333" stroke-width="0.4"/><text x="431.2" y="274.8" font-size="3.0" fill="#333" font-weight="bold" text-anchor="end">90</text><line x1="432.4" y1="273.7" x2="433.4" y2="273.7" stroke="#333" stroke-width="0.4"/><text x="431.2" y="279.6" font-size="3.0" fill="#333" font-weight="bold" text-anchor="end">70</text><line x1="432.4" y1="278.5" x2="433.4" y2="278.5" stroke="#333" stroke-width="0.4"/><text x="431.2" y="284.5" font-size="3.0" fill="#333" font-weight="bold" text-anchor="end">50</text><line x1="432.4" y1="283.4" x2="433.4" y2="283.4" stroke="#333" stroke-width="0.4"/><polyline points="433.5,282 434,280.1 434.6,278.9 435.1,278 435.6,277.5 436.2,277.1 436.7,276.8 437.2,276.6 437.8,276.5 438.3,276.5 438.8,276.4 439.4,276.4 439.9,276.3 440.4,276.3 441,276.3 441.5,276.3 442,276.3 442.6,276.3 443.1,276.3 443.6,276.3 444.1,276.3 444.7,276.3 445.2,276.3 445.7,276.3 446.3,276.3 446.8,276.3 447.3,276.3 447.9,276.3 448.4,276.3 448.9,276.3 449.5,276.3 450,276.3 450.5,276.3 451.1,276.3 451.6,276.3 452.1,276.3 452.7,276.3 453.2,276.3 453.7,276.3 454.3,276.3 454.8,276.3 455.3,276.3 455.9,276.3 456.4,276.3 456.9,276.3 457.5,276.3 458,276.3 458.5,276.3 459.1,276.3 459.6,276.3 460.1,276.3 460.7,276.3 461.2,276.3 461.7,276.3 462.3,276.3 462.8,276.3 463.3,276.3 463.9,276.3 464.4,276.3 464.9,276.3 465.4,276.3 466,276.3 466.5,276.3 467,276.3 467.6,276.3 468.1,276.3 468.6,276.3 469.2,276.3 469.7,276.3 470.2,276.3 470.8,276.3 471.3,276.3 471.8,276.3 472.4,276.3 472.9,276.3 473.4,276.3 474,276.3 474.5,276.3 475,276.3 475.6,276.3 476.1,276.3 476.6,276.3 477.2,276.3 477.7,276.3 478.2,276.3 478.8,276.3 479.3,276.3 479.8,276.3 480.4,276.3 480.9,276.3 481.4,276.3 482,276.3 482.5,276.3 483,276.3 483.6,276.3 484.1,276.3 484.6,276.3 485.2,276.3 485.7,276.3 486.2,276.3 486.8,276.3 487.3,276.3 487.8,276.3 488.3,276.3 488.9,276.3 489.4,276.3 489.9,276.3 490.5,276.3 491,276.3 491.5,276.3 492.1,276.3 492.6,276.3 493.1,276.3 493.7,276.3 494.2,276.3 494.7,276.3 495.3,276.3 495.8,276.3 496.3,276.3 496.9,276.3 497.4,276.3 497.9,276.3 498.5,276.3 499,276.3 499.5,276.3 500.1,276.3 500.6,276.3 501.1,276.3 501.7,276.3 502.2,276.3 502.7,276.3 503.3,276.3 503.8,276.3 504.3,276.3 504.9,276.3 505.4,276.3 505.9,276.3 506.5,276.3 507,276.3 507.5,276.3 508.1,276.3 508.6,276.3 509.1,276.3 509.6,276.3 510.2,276.3 510.7,276.3 511.2,276.3 511.8,276.3 512.3,276.3 512.8,276.3 513.4,276.3 513.9,276.3 514.4,276.3 515,276.3 515.5,276.3 516,276.3 516.6,276.3 517.1,276.3 517.6,276.3 518.2,276.3 518.7,276.3 519.2,276.3 519.8,276.3 520.3,276.3 520.8,276.3 521.4,276.3 521.9,276.3 522.4,276.3 523,276.3 523.5,276.3 524,276.3 524.6,276.3 525.1,276.3 525.6,276.3 526.2,276.3 526.7,276.3 527.2,276.3 527.8,276.3 528.3,276.3 528.8,276.3 529.4,276.3 529.9,276.3 530.4,276.3 530.9,276.3 531.5,276.3 532,276.3 532.5,276.3 533.1,276.3 533.6,276.3 534.1,276.3 534.7,276.3 535.2,276.3 535.7,276.3 536.3,276.3 536.8,276.3 537.3,276.3 537.9,276.3 538.4,276.3 538.9,276.3 539.5,276.3 540,276.3" fill="none" stroke="#40A040" stroke-width="0.8"/><line x1="437" y1="287.6" x2="441.5" y2="287.6" stroke="#40A040" stroke-width="0.8"/><circle cx="439.2" cy="287.6" r="0.9" fill="#40A040"/><text x="443" y="288.9" font-size="3.6" fill="#333" font-weight="bold">500</text><line x1="432.4" y1="267.6" x2="540.5" y2="267.6" stroke="#333" stroke-width="0.8"/><line x1="433.5" y1="292.6" x2="433.5" y2="291.4" stroke="#333" stroke-width="0.5"/><line x1="460.1" y1="292.6" x2="460.1" y2="291.4" stroke="#333" stroke-width="0.5"/><line x1="486.8" y1="292.6" x2="486.8" y2="291.4" stroke="#333" stroke-width="0.5"/><line x1="513.4" y1="292.6" x2="513.4" y2="291.4" stroke="#333" stroke-width="0.5"/><line x1="540" y1="292.6" x2="540" y2="291.4" stroke="#333" stroke-width="0.5"/><text x="431.2" y="296.5" font-size="3.0" fill="#333" font-weight="bold" text-anchor="end">100</text><line x1="432.4" y1="295.4" x2="433.4" y2="295.4" stroke="#333" stroke-width="0.4"/><text x="431.2" y="299.8" font-size="3.0" fill="#333" font-weight="bold" text-anchor="end">90</text><line x1="432.4" y1="298.7" x2="433.4" y2="298.7" stroke="#333" stroke-width="0.4"/><text x="431.2" y="304.7" font-size="3.0" fill="#333" font-weight="bold" text-anchor="end">70</text><line x1="432.4" y1="303.6" x2="433.4" y2="303.6" stroke="#333" stroke-width="0.4"/><text x="431.2" y="309.6" font-size="3.0" fill="#333" font-weight="bold" text-anchor="end">50</text><line x1="432.4" y1="308.5" x2="433.4" y2="308.5" stroke="#333" stroke-width="0.4"/><polyline points="433.5,310.6 434,308.4 434.6,306.2 435.1,304 435.6,301.8 436.2,299.8 436.7,299.9 437.2,299.9 437.8,300 438.3,300 438.8,300.1 439.4,300.2 439.9,300.2 440.4,300.3 441,300.3 441.5,300.4 442,300.5 442.6,300.5 443.1,300.6 443.6,300.7 444.1,300.7 444.7,300.8 445.2,300.8 445.7,300.9 446.3,301 446.8,301 447.3,301.1 447.9,301.1 448.4,301.2 448.9,301.3 449.5,301.3 450,301.4 450.5,301.4 451.1,301.5 451.6,301.6 452.1,301.6 452.7,301.7 453.2,301.8 453.7,301.8 454.3,301.9 454.8,301.9 455.3,302 455.9,302.1 456.4,302.1 456.9,302.2 457.5,302.2 458,302.3 458.5,302.4 459.1,302.4 459.6,302.5 460.1,302.5 460.7,302.6 461.2,302.7 461.7,302.7 462.3,302.8 462.8,302.9 463.3,302.9 463.9,303 464.4,303 464.9,303.1 465.4,303.2 466,303.2 466.5,303.3 467,303.3 467.6,303.4 468.1,303.5 468.6,303.5 469.2,303.6 469.7,303.6 470.2,303.7 470.8,303.8 471.3,303.8 471.8,303.9 472.4,304 472.9,304 473.4,304.1 474,304.1 474.5,304.2 475,304.3 475.6,304.3 476.1,304.4 476.6,304.4 477.2,304.5 477.7,304.6 478.2,304.6 478.8,304.7 479.3,302.9 479.8,305.2 480.4,307 480.9,304.2 481.4,305.2 482,304.5 482.5,306.2 483,306 483.6,305.7 484.1,307.4 484.6,306.2 485.2,304.9 485.7,306.3 486.2,306.9 486.8,306.8 487.3,300.7 487.8,307.1 488.3,304.7 488.9,305.1 489.4,305.5 489.9,304.1 490.5,306.4 491,304.6 491.5,302.7 492.1,297.7 492.6,303.6 493.1,304.4 493.7,304.5 494.2,306 494.7,302.4 495.3,304.3 495.8,302.8 496.3,303.7 496.9,304.4 497.4,302.4 497.9,304.7 498.5,305.1 499,304.5 499.5,299.9 500.1,301.8 500.6,302.2 501.1,303.7 501.7,301.1 502.2,301.6 502.7,304 503.3,302.6 503.8,300.9 504.3,302.7 504.9,304.3 505.4,301.2 505.9,300.6 506.5,303.5 507,300.3 507.5,301.3 508.1,303.1 508.6,299.8 509.1,301.9 509.6,299.6 510.2,302.1 510.7,299.5 511.2,297 511.8,301.2 512.3,300.9 512.8,301.8 513.4,303.2 513.9,296.9 514.4,302.3 515,298.2 515.5,303.1 516,298 516.6,300.1 517.1,302.4 517.6,301.8 518.2,303.2 518.7,300 519.2,303.8 519.8,302.5 520.3,303 520.8,301.9 521.4,301.7 521.9,302.1 522.4,303.2 523,302.7 523.5,299.8 524,301.6 524.6,302.2 525.1,302.6 525.6,302 526.2,302.8 526.7,301.6 527.2,297.2 527.8,301.3 528.3,299.6 528.8,300.3 529.4,299.8 529.9,299.4 530.4,303.4 530.9,299.6 531.5,301.2 532,300.6 532.5,300 533.1,300.1 533.6,303.6 534.1,299.9 534.7,301.5 535.2,300.1 535.7,302.6 536.3,301.8 536.8,302.3 537.3,301.1 537.9,302.7 538.4,302.3 538.9,299.5 539.5,302.3 540,300.8" fill="none" stroke="#F0963A" stroke-width="0.8"/><line x1="437" y1="312.7" x2="441.5" y2="312.7" stroke="#F0963A" stroke-width="0.8"/><circle cx="439.2" cy="312.7" r="0.9" fill="#F0963A"/><text x="443" y="314" font-size="3.6" fill="#333" font-weight="bold">600</text><line x1="432.4" y1="292.6" x2="540.5" y2="292.6" stroke="#333" stroke-width="0.8"/><line x1="433.5" y1="317.7" x2="433.5" y2="316.5" stroke="#333" stroke-width="0.5"/><line x1="460.1" y1="317.7" x2="460.1" y2="316.5" stroke="#333" stroke-width="0.5"/><line x1="486.8" y1="317.7" x2="486.8" y2="316.5" stroke="#333" stroke-width="0.5"/><line x1="513.4" y1="317.7" x2="513.4" y2="316.5" stroke="#333" stroke-width="0.5"/><line x1="540" y1="317.7" x2="540" y2="316.5" stroke="#333" stroke-width="0.5"/><text x="431.2" y="321.6" font-size="3.0" fill="#333" font-weight="bold" text-anchor="end">100</text><line x1="432.4" y1="320.5" x2="433.4" y2="320.5" stroke="#333" stroke-width="0.4"/><text x="431.2" y="324.9" font-size="3.0" fill="#333" font-weight="bold" text-anchor="end">90</text><line x1="432.4" y1="323.8" x2="433.4" y2="323.8" stroke="#333" stroke-width="0.4"/><text x="431.2" y="329.8" font-size="3.0" fill="#333" font-weight="bold" text-anchor="end">70</text><line x1="432.4" y1="328.7" x2="433.4" y2="328.7" stroke="#333" stroke-width="0.4"/><text x="431.2" y="334.7" font-size="3.0" fill="#333" font-weight="bold" text-anchor="end">50</text><line x1="432.4" y1="333.6" x2="433.4" y2="333.6" stroke="#333" stroke-width="0.4"/><polyline points="433.5,337 434,336.1 434.6,335.1 435.1,334.1 435.6,333.2 436.2,332.2 436.7,331.3 437.2,330.3 437.8,329.4 438.3,328.4 438.8,327.5 439.4,327.4 439.9,327.2 440.4,327.1 441,327 441.5,326.9 442,326.8 442.6,326.6 443.1,326.5 443.6,326.4 444.1,326.2 444.7,326.1 445.2,326 445.7,325.9 446.3,325.8 446.8,325.6 447.3,325.5 447.9,325.4 448.4,325.2 448.9,324.3 449.5,327.3 450,327.5 450.5,327.6 451.1,327.4 451.6,325.9 452.1,331.3 452.7,327.5 453.2,329.1 453.7,325.7 454.3,327.6 454.8,328.1 455.3,328.1 455.9,326.6 456.4,325.6 456.9,328.4 457.5,328 458,328.6 458.5,328.8 459.1,325.8 459.6,327.8 460.1,327.5 460.7,328.3 461.2,328.4 461.7,326.8 462.3,325.7 462.8,327 463.3,327.9 463.9,326.8 464.4,328.3 464.9,326.4 465.4,329 466,328.6 466.5,328.1 467,325.6 467.6,325.9 468.1,326.4 468.6,329.1 469.2,326.7 469.7,325.7 470.2,328.6 470.8,329 471.3,327.6 471.8,326.1 472.4,326.2 472.9,326.4 473.4,329 474,326 474.5,328.2 475,327 475.6,326.5 476.1,327.2 476.6,328.7 477.2,326.1 477.7,326.8 478.2,325.7 478.8,325.8 479.3,327.3 479.8,327.8 480.4,327.8 480.9,327.4 481.4,327.1 482,325.5 482.5,327.6 483,326.8 483.6,327.2 484.1,329.7 484.6,326.8 485.2,324.8 485.7,326.8 486.2,328.1 486.8,327.8 487.3,327.6 487.8,326.9 488.3,327.7 488.9,328.2 489.4,327.4 489.9,325.8 490.5,327.3 491,327.3 491.5,328.6 492.1,326 492.6,328.6 493.1,326.2 493.7,325.6 494.2,327.8 494.7,328.6 495.3,326 495.8,326.5 496.3,328 496.9,326.1 497.4,328.9 497.9,326.1 498.5,327.1 499,328 499.5,326.7 500.1,327.5 500.6,326.7 501.1,328.8 501.7,329 502.2,325.5 502.7,328.5 503.3,324.2 503.8,329.1 504.3,325.5 504.9,329.4 505.4,327.5 505.9,325.7 506.5,327.8 507,328.8 507.5,331 508.1,325.8 508.6,328.6 509.1,323.1 509.6,326.9 510.2,325.6 510.7,327.8 511.2,326.6 511.8,332.1 512.3,327.4 512.8,326.8 513.4,327 513.9,325.6 514.4,327.7 515,327.6 515.5,327.4 516,329 516.6,326.6 517.1,327 517.6,327.4 518.2,329 518.7,329 519.2,328.5 519.8,329 520.3,326.1 520.8,326.3 521.4,329.1 521.9,328.2 522.4,326.6 523,327.9 523.5,326.3 524,329.6 524.6,327.6 525.1,326.8 525.6,328.1 526.2,328.3 526.7,326.7 527.2,325.6 527.8,326.1 528.3,328.5 528.8,327.6 529.4,327.2 529.9,325.7 530.4,327.2 530.9,328.4 531.5,328.9 532,327.4 532.5,326.1 533.1,328.1 533.6,327.8 534.1,327.3 534.7,326.5 535.2,325.9 535.7,326.7 536.3,328 536.8,326 537.3,327.4 537.9,327 538.4,325.9 538.9,326.2 539.5,325.8 540,327.8" fill="none" stroke="#3050E0" stroke-width="0.8"/><line x1="437" y1="337.8" x2="441.5" y2="337.8" stroke="#3050E0" stroke-width="0.8"/><circle cx="439.2" cy="337.8" r="0.9" fill="#3050E0"/><text x="443" y="339.1" font-size="3.6" fill="#333" font-weight="bold">800</text><line x1="432.4" y1="317.7" x2="540.5" y2="317.7" stroke="#333" stroke-width="0.8"/><line x1="433.5" y1="342.8" x2="433.5" y2="341.6" stroke="#333" stroke-width="0.5"/><line x1="460.1" y1="342.8" x2="460.1" y2="341.6" stroke="#333" stroke-width="0.5"/><line x1="486.8" y1="342.8" x2="486.8" y2="341.6" stroke="#333" stroke-width="0.5"/><line x1="513.4" y1="342.8" x2="513.4" y2="341.6" stroke="#333" stroke-width="0.5"/><line x1="540" y1="342.8" x2="540" y2="341.6" stroke="#333" stroke-width="0.5"/><rect x="432.4" y="242.6" width="108.1" height="100.2" fill="none" stroke="#333" stroke-width="0.8"/><text x="433.5" y="347.9" font-size="4" fill="#333" font-weight="bold" text-anchor="middle">0</text><text x="460.1" y="347.9" font-size="4" fill="#333" font-weight="bold" text-anchor="middle">50</text><text x="486.8" y="347.9" font-size="4" fill="#333" font-weight="bold" text-anchor="middle">100</text><text x="513.4" y="347.9" font-size="4" fill="#333" font-weight="bold" text-anchor="middle">150</text><text x="540" y="347.9" font-size="4" fill="#333" font-weight="bold" text-anchor="middle">200</text><text x="485.5" y="355.2" font-size="7.2" fill="#2a2a2a" font-weight="bold" text-anchor="middle" textLength="47" lengthAdjust="spacingAndGlyphs">Cycle number (n)</text><text transform="translate(422.8,292) rotate(-90)" font-size="6.4" font-weight="bold" text-anchor="middle" fill="#333" textLength="75" lengthAdjust="spacingAndGlyphs">Coulombic efficiency (%)</text><text x="10.8" y="370.5" font-size="11.4" fill="#000">j</text><rect x="14" y="361" width="248.2" height="65" fill="#F7F6BC"/><path d="M79,370.5 C98,370.5 114,375 114,380.5 C114,385 106,388.5 96,389.8 L98.5,399.5 L88,390.3 C62,390.8 44.5,386.5 44.5,380.5 C44.5,375 60,370.5 79,370.5 Z" fill="#fff" stroke="#7CC86A" stroke-width="0.8"/><text x="79.5" y="384" font-size="6.4" fill="#C8141E" font-weight="bold" text-anchor="middle" textLength="47" lengthAdjust="spacingAndGlyphs">Initial Zn-Plating</text><path d="M171,374 C190,374 206.5,377.5 206.5,382 C206.5,386 200,388.5 192,389.5 L188.6,400 L183,390 C155,390.5 135.5,386.5 135.5,382 C135.5,377.5 152,374 171,374 Z" fill="#fff" stroke="#7CC86A" stroke-width="0.8"/><text x="171" y="384.8" font-size="6.4" fill="#C8141E" font-weight="bold" text-anchor="middle" textLength="52" lengthAdjust="spacingAndGlyphs">Further Zn-plating</text><rect x="25.4" y="420.5" width="57.3" height="2.8" fill="#D2561A"/><rect x="106" y="420.5" width="58" height="2.8" fill="#D2561A"/><rect x="188.8" y="420.5" width="59.8" height="2.8" fill="#D2561A"/><polygon points="42.3,411.8 37.2,419 28.5,418.2 24.7,410.2 29.8,403 38.5,403.8" fill="#8C8C8C" stroke="#555" stroke-width="0.5"/><path d="M33.5,411 L39.6,415.3 M33.5,411 L26.7,414.2 M33.5,411 L34.2,403.5" stroke="#555" stroke-width="0.35" fill="none" opacity="0.7"/><polygon points="54.3,414 47.5,419.7 39.3,416.7 37.7,408 44.5,402.3 52.7,405.3" fill="#8C8C8C" stroke="#555" stroke-width="0.5"/><path d="M46,411 L50.8,416.7 M46,411 L38.6,412.3 M46,411 L48.6,404" stroke="#555" stroke-width="0.35" fill="none" opacity="0.7"/><polygon points="69.8,411 65.4,418.6 56.6,418.6 52.2,411 56.6,403.4 65.4,403.4" fill="#8C8C8C" stroke="#555" stroke-width="0.5"/><path d="M61,411 L67.5,414.7 M61,411 L54.5,414.7 M61,411 L61,403.5" stroke="#555" stroke-width="0.35" fill="none" opacity="0.7"/><polygon points="83,413.3 76.8,419.5 68.3,417.2 66,408.7 72.2,402.5 80.7,404.8" fill="#8C8C8C" stroke="#555" stroke-width="0.5"/><path d="M74.5,411 L79.8,416.3 M74.5,411 L67.3,412.9 M74.5,411 L76.4,403.8" stroke="#555" stroke-width="0.35" fill="none" opacity="0.7"/><polygon points="122.8,411.8 117.7,419 109,418.2 105.2,410.2 110.3,403 119,403.8" fill="#7F8A9A" stroke="#4a5060" stroke-width="0.5"/><path d="M114,411 L120.1,415.3 M114,411 L107.2,414.2 M114,411 L114.7,403.5" stroke="#4a5060" stroke-width="0.35" fill="none" opacity="0.7"/><polygon points="135.3,414 128.5,419.7 120.3,416.7 118.7,408 125.5,402.3 133.7,405.3" fill="#7F8A9A" stroke="#4a5060" stroke-width="0.5"/><path d="M127,411 L131.8,416.7 M127,411 L119.6,412.3 M127,411 L129.6,404" stroke="#4a5060" stroke-width="0.35" fill="none" opacity="0.7"/><polygon points="150.8,411 146.4,418.6 137.6,418.6 133.2,411 137.6,403.4 146.4,403.4" fill="#7F8A9A" stroke="#4a5060" stroke-width="0.5"/><path d="M142,411 L148.5,414.7 M142,411 L135.5,414.7 M142,411 L142,403.5" stroke="#4a5060" stroke-width="0.35" fill="none" opacity="0.7"/><polygon points="164.6,412.8 158.7,419.4 150.1,417.5 147.4,409.2 153.3,402.6 161.9,404.5" fill="#7F8A9A" stroke="#4a5060" stroke-width="0.5"/><path d="M156,411 L161.6,416 M156,411 L148.9,413.3 M156,411 L157.6,403.7" stroke="#4a5060" stroke-width="0.35" fill="none" opacity="0.7"/><polygon points="192,400 198,395.7 205,399 206.5,410 204,419.6 192,419.6 189.5,412" fill="#BBD3EE" stroke="#DDEBF8" stroke-width="0.7"/><polygon points="193.8,402.6 197.1,400.2 200.9,402 201.7,408.1 200.4,413.4 193.8,413.4 192.4,409.2" fill="#D2E3F6" opacity="0.8"/><polygon points="207,399 213,397.6 219,399 220,410 218.5,420 208,420 206,410" fill="#BBD3EE" stroke="#DDEBF8" stroke-width="0.7"/><polygon points="208.7,402 212,401.3 215.3,402 215.9,408.1 215.1,413.6 209.3,413.6 208.2,408.1" fill="#D2E3F6" opacity="0.8"/><polygon points="220,399 226,397.6 232,399.5 233,410 231.5,420 221,420 219,410" fill="#BBD3EE" stroke="#DDEBF8" stroke-width="0.7"/><polygon points="221.7,402.1 225,401.3 228.3,402.3 228.9,408.1 228.1,413.6 222.3,413.6 221.2,408.1" fill="#D2E3F6" opacity="0.8"/><polygon points="233,402 240,395 247,400 248.6,410 246,418.8 236,419.3 232,412" fill="#BBD3EE" stroke="#DDEBF8" stroke-width="0.7"/><polygon points="235.3,403.8 239.2,399.9 243,402.7 243.9,408.2 242.5,413 237,413.3 234.8,409.3" fill="#D2E3F6" opacity="0.8"/><line x1="88" y1="410.5" x2="101.5" y2="410.5" stroke="#C03020" stroke-width="0.8"/><path d="M103.5,410.5 L100.5,408.9 L100.5,412.1 Z" fill="#C03020"/><line x1="167" y1="411" x2="180.5" y2="411" stroke="#C03020" stroke-width="0.8"/><path d="M182.5,411 L179.5,409.4 L179.5,412.6 Z" fill="#C03020"/><text x="265.2" y="371.4" font-size="11.2" fill="#000">k</text><rect x="274.4" y="361.2" width="270" height="67.6" fill="none" stroke="#27B06A" stroke-width="1.5" stroke-dasharray="4.5 3.5"/><filter id="fSem" x="0" y="0" width="100%" height="100%"><feTurbulence type="fractalNoise" baseFrequency="0.7" numOctaves="2" seed="4"/><feColorMatrix type="matrix" values="0.33 0.33 0.33 0 0  0.33 0.33 0.33 0 0  0.33 0.33 0.33 0 0  0 0 0 0 1"/><feComponentTransfer><feFuncR type="linear" slope="2" intercept="-0.5"/><feFuncG type="linear" slope="2" intercept="-0.5"/><feFuncB type="linear" slope="2" intercept="-0.5"/></feComponentTransfer></filter><clipPath id="cSem0"><rect x="276" y="363" width="64.4" height="63.3"/></clipPath><g clip-path="url(#cSem0)"><rect x="276" y="363" width="64.4" height="63.3" fill="#767676"/><rect x="276" y="363" width="64.4" height="63.3" filter="url(#fSem)" opacity="0.35"/><g fill="none" stroke-linecap="round"><path d="M285.7,380.7 A8.1,8.1 0 0 1 273.4,375.4" stroke="#505050" stroke-width="0.7"/><path d="M301.6,411.8 A5.5,5.5 0 0 1 307.7,409.9" stroke="#b4b4b4" stroke-width="0.5"/><path d="M338.9,368.2 A8.5,8.5 0 0 1 345.3,372.1" stroke="#505050" stroke-width="0.7"/><path d="M322.3,397.4 A6.3,6.3 0 0 1 326.7,406.2" stroke="#b4b4b4" stroke-width="0.9"/><path d="M330.8,401.6 A8.6,8.6 0 0 1 336.7,395.8" stroke="#a8a8a8" stroke-width="0.7"/><path d="M322.1,402.8 A7.4,7.4 0 0 1 324.7,414.4" stroke="#a8a8a8" stroke-width="0.9"/><path d="M338.6,372.5 A6.3,6.3 0 0 1 332.3,371.9" stroke="#505050" stroke-width="0.7"/><path d="M305.2,403.4 A5.7,5.7 0 0 1 308.4,409.1" stroke="#a8a8a8" stroke-width="0.9"/><path d="M338.6,415.4 A6.7,6.7 0 0 1 335.1,422.9" stroke="#505050" stroke-width="0.5"/><path d="M314.6,386.7 A6.1,6.1 0 0 1 320.3,385" stroke="#505050" stroke-width="0.9"/><path d="M316.9,415.8 A5.3,5.3 0 0 1 323.6,413.5" stroke="#505050" stroke-width="0.5"/><path d="M310.2,358.1 A9.6,9.6 0 0 1 311.2,367.2" stroke="#505050" stroke-width="0.9"/><path d="M304.6,426.8 A7,7 0 0 1 296.9,423.8" stroke="#b4b4b4" stroke-width="0.9"/><path d="M311.2,381.1 A7.4,7.4 0 0 1 317.2,370.2" stroke="#a8a8a8" stroke-width="0.7"/><path d="M319,422.6 A9.3,9.3 0 0 1 311.4,409.8" stroke="#a8a8a8" stroke-width="0.5"/><path d="M277.6,406.8 A9.4,9.4 0 0 1 277.2,397.7" stroke="#a8a8a8" stroke-width="0.7"/><path d="M294.8,418.6 A7.8,7.8 0 0 1 300.6,410.2" stroke="#a8a8a8" stroke-width="0.5"/><path d="M315.1,396 A5.1,5.1 0 0 1 321.6,399.6" stroke="#505050" stroke-width="0.7"/><path d="M271,371.9 A9.8,9.8 0 0 1 284.9,364.2" stroke="#b4b4b4" stroke-width="0.7"/><path d="M317.2,373.3 A5.7,5.7 0 0 1 308.1,374.5" stroke="#a8a8a8" stroke-width="0.5"/><path d="M315.6,373.4 A4.9,4.9 0 0 1 317,377.1" stroke="#505050" stroke-width="0.9"/><path d="M325.6,424.5 A7.2,7.2 0 0 1 328.9,418.8" stroke="#b4b4b4" stroke-width="0.7"/><path d="M303.8,408.3 A8.7,8.7 0 0 1 294.8,412.4" stroke="#b4b4b4" stroke-width="0.5"/><path d="M324.9,357.2 A9.2,9.2 0 0 1 329.6,365" stroke="#505050" stroke-width="0.5"/><path d="M287.3,365.6 A9.3,9.3 0 0 1 297,370.9" stroke="#505050" stroke-width="0.5"/><path d="M322,361.6 A6.7,6.7 0 0 1 327.4,370.6" stroke="#505050" stroke-width="0.9"/><path d="M304.7,417.5 A7.3,7.3 0 0 1 294.9,424.6" stroke="#505050" stroke-width="0.5"/><path d="M295.9,381.9 A9.8,9.8 0 0 1 284.1,370.8" stroke="#b4b4b4" stroke-width="0.9"/><path d="M337.1,358.8 A9,9 0 0 1 347.7,367.4" stroke="#b4b4b4" stroke-width="0.7"/><path d="M302.7,387 A8.9,8.9 0 0 1 305.6,393.9" stroke="#505050" stroke-width="0.7"/><path d="M329.7,380.5 A4.9,4.9 0 0 1 337.3,380" stroke="#a8a8a8" stroke-width="0.5"/><path d="M289,428.5 A4.6,4.6 0 0 1 281.9,427.2" stroke="#b4b4b4" stroke-width="0.5"/><path d="M286.1,372.4 A9.3,9.3 0 0 1 289.5,382.2" stroke="#a8a8a8" stroke-width="0.7"/><path d="M312.3,370.2 A8.3,8.3 0 0 1 323.7,363.2" stroke="#a8a8a8" stroke-width="0.9"/><path d="M274.7,399.4 A6.1,6.1 0 0 1 279.5,395.3" stroke="#b4b4b4" stroke-width="0.9"/><path d="M300.5,381.1 A4.5,4.5 0 0 1 297.2,386.9" stroke="#b4b4b4" stroke-width="0.9"/><path d="M291,406.3 A5.1,5.1 0 0 1 290.4,398.1" stroke="#a8a8a8" stroke-width="0.9"/><path d="M287.5,389.6 A5.5,5.5 0 0 1 287.3,395" stroke="#505050" stroke-width="0.5"/><path d="M322.6,411.7 A9.3,9.3 0 0 1 331.7,399.4" stroke="#b4b4b4" stroke-width="0.5"/><path d="M301.5,402.4 A8,8 0 0 1 306.2,396.9" stroke="#a8a8a8" stroke-width="0.9"/><path d="M311.9,412.5 l-0.3,-1.3" stroke="#a4a4a4" stroke-width="0.4"/><path d="M302.1,396 l-2.2,2.4" stroke="#9a9a9a" stroke-width="0.4"/><path d="M338.6,402.2 l0.7,-1.9" stroke="#5c5c5c" stroke-width="0.6"/><path d="M292.3,422.3 l-2.2,1" stroke="#9a9a9a" stroke-width="0.4"/><path d="M300.6,418 l-1.6,-0.2" stroke="#a4a4a4" stroke-width="0.6"/><path d="M305,423 l-1.1,-2" stroke="#525252" stroke-width="0.4"/><path d="M282.6,423.1 l-2,1.9" stroke="#5c5c5c" stroke-width="0.4"/><path d="M282.4,392.5 l2.9,-0.6" stroke="#a4a4a4" stroke-width="0.4"/><path d="M319.2,373.7 l-2.9,1.6" stroke="#b2b2b2" stroke-width="0.4"/><path d="M326.6,404.9 l1.8,0.8" stroke="#9a9a9a" stroke-width="0.6"/><path d="M276.2,397 l1.3,-2.9" stroke="#5c5c5c" stroke-width="0.6"/><path d="M291.6,376.2 l-2.5,0.9" stroke="#5c5c5c" stroke-width="0.4"/><path d="M334.1,406.5 l3.1,1.4" stroke="#525252" stroke-width="0.6"/><path d="M303.1,367 l2.8,-2" stroke="#525252" stroke-width="0.6"/><path d="M314.1,369.5 l-0.3,-2.2" stroke="#9a9a9a" stroke-width="0.4"/><path d="M278.2,405.2 l1.9,2.8" stroke="#525252" stroke-width="0.4"/><path d="M309.5,381.6 l2.6,-0.8" stroke="#5c5c5c" stroke-width="0.4"/><path d="M316.4,370.1 l-1.3,-0.6" stroke="#525252" stroke-width="0.4"/><path d="M300.9,404.3 l-0.9,-2" stroke="#9a9a9a" stroke-width="0.6"/><path d="M336.9,425.3 l1,0.8" stroke="#525252" stroke-width="0.4"/><path d="M278.3,387.3 l1.9,2.2" stroke="#525252" stroke-width="0.6"/><path d="M339.1,372.4 l1.7,-0.4" stroke="#a4a4a4" stroke-width="0.6"/><path d="M294.5,379.8 l-0.3,-1.2" stroke="#b2b2b2" stroke-width="0.6"/><path d="M282,380.9 l-1.4,-1.5" stroke="#9a9a9a" stroke-width="0.6"/><path d="M324.6,384.5 l2.3,-2.3" stroke="#5c5c5c" stroke-width="0.6"/><path d="M318.1,382.9 l3.3,-0.2" stroke="#9a9a9a" stroke-width="0.4"/><path d="M304.2,368.4 l-0.5,2.6" stroke="#525252" stroke-width="0.4"/><path d="M292.7,398.4 l-1.5,-0.8" stroke="#525252" stroke-width="0.4"/><path d="M299.8,405.1 l-0.9,-1.6" stroke="#9a9a9a" stroke-width="0.6"/><path d="M292.9,422.7 l-1.5,2.7" stroke="#b2b2b2" stroke-width="0.6"/><path d="M333.8,419 l-1.1,-2.9" stroke="#5c5c5c" stroke-width="0.6"/><path d="M304.7,410.3 l-2,-2.9" stroke="#525252" stroke-width="0.6"/><path d="M289.2,392.3 l-1.6,-2.4" stroke="#b2b2b2" stroke-width="0.6"/><path d="M316.6,384.2 l0.4,2.3" stroke="#9a9a9a" stroke-width="0.6"/><path d="M284.7,394.2 l2.1,1.6" stroke="#9a9a9a" stroke-width="0.4"/><path d="M293.7,403.9 l3.4,0.8" stroke="#5c5c5c" stroke-width="0.4"/><path d="M333.4,416.1 l-3.1,0.5" stroke="#a4a4a4" stroke-width="0.4"/><path d="M338.7,389.6 l-2.5,-0.7" stroke="#5c5c5c" stroke-width="0.4"/><path d="M284.5,406.1 l-1.6,-0.4" stroke="#a4a4a4" stroke-width="0.6"/><path d="M304.6,367.5 l-2,1" stroke="#9a9a9a" stroke-width="0.4"/><path d="M320.7,391 l2.6,0.6" stroke="#5c5c5c" stroke-width="0.6"/><path d="M286.2,390.9 l-1.9,1.9" stroke="#a4a4a4" stroke-width="0.4"/><path d="M278.1,399.4 l1.3,-1.9" stroke="#9a9a9a" stroke-width="0.6"/><path d="M320,419 l-1.3,2.5" stroke="#5c5c5c" stroke-width="0.4"/><path d="M330.1,420.3 l-0.7,-1" stroke="#5c5c5c" stroke-width="0.4"/><path d="M279.2,377.8 l-1.1,-2" stroke="#5c5c5c" stroke-width="0.6"/><path d="M285.1,390.3 l-1.6,-0.1" stroke="#a4a4a4" stroke-width="0.6"/><path d="M328.2,424.9 l0.8,-1.5" stroke="#9a9a9a" stroke-width="0.6"/><path d="M315.3,408.5 l3.3,-0.4" stroke="#5c5c5c" stroke-width="0.6"/><path d="M298.3,410.7 l-1,1.6" stroke="#5c5c5c" stroke-width="0.4"/><path d="M289.2,410.4 l-1.4,0.3" stroke="#a4a4a4" stroke-width="0.6"/><path d="M293.7,394.3 l1.3,-1" stroke="#525252" stroke-width="0.6"/><path d="M323,372.6 l-0.8,0.9" stroke="#b2b2b2" stroke-width="0.4"/><path d="M306.1,397.4 l-1.2,1.2" stroke="#b2b2b2" stroke-width="0.6"/><path d="M309.4,383.9 l2.6,-2.3" stroke="#b2b2b2" stroke-width="0.4"/><path d="M316.2,392.4 l-2.2,2.5" stroke="#a4a4a4" stroke-width="0.4"/><path d="M277.3,420.2 l2.3,1" stroke="#525252" stroke-width="0.6"/><path d="M297.8,416.4 l3.3,0.2" stroke="#525252" stroke-width="0.4"/><path d="M308.9,383.6 l-2.6,-2.1" stroke="#a4a4a4" stroke-width="0.6"/><path d="M286.7,395.7 l-2.2,-1.7" stroke="#525252" stroke-width="0.4"/><path d="M284.6,418.1 l1.9,0.5" stroke="#525252" stroke-width="0.6"/><path d="M279.7,398.8 l0.9,1.3" stroke="#9a9a9a" stroke-width="0.6"/><path d="M276.1,424.1 l2.2,1.3" stroke="#525252" stroke-width="0.4"/><path d="M302,379.8 l0.7,-1.7" stroke="#9a9a9a" stroke-width="0.4"/><path d="M276.2,414.4 l1.4,2.8" stroke="#a4a4a4" stroke-width="0.4"/><path d="M287.4,365.6 l-1.2,2.1" stroke="#525252" stroke-width="0.4"/><path d="M305.7,423.6 l-1.7,-0" stroke="#525252" stroke-width="0.4"/><path d="M339.7,396.7 l2,-1.2" stroke="#9a9a9a" stroke-width="0.4"/><path d="M326.2,369.4 l-2.4,2.3" stroke="#b2b2b2" stroke-width="0.4"/><path d="M314.1,415.8 l0.7,-1.2" stroke="#5c5c5c" stroke-width="0.4"/><path d="M303,381.6 l1.1,-0.9" stroke="#b2b2b2" stroke-width="0.4"/><path d="M309.2,373.2 l-1.8,-2.8" stroke="#a4a4a4" stroke-width="0.4"/><path d="M320.3,388.7 l-0.6,-2.4" stroke="#a4a4a4" stroke-width="0.6"/><path d="M292.3,388.2 l-2.4,-0.9" stroke="#9a9a9a" stroke-width="0.6"/><path d="M333.9,388.5 l-1.9,1.2" stroke="#9a9a9a" stroke-width="0.6"/><path d="M327.3,388.1 l1,-0.8" stroke="#525252" stroke-width="0.6"/><path d="M338.3,396.7 l1.2,0.1" stroke="#525252" stroke-width="0.6"/><path d="M336.4,423.6 l1.9,-2.8" stroke="#9a9a9a" stroke-width="0.6"/><path d="M317.4,418.7 l-1.9,-2.6" stroke="#9a9a9a" stroke-width="0.6"/><path d="M324,397.5 l-2.6,-0.2" stroke="#b2b2b2" stroke-width="0.6"/><path d="M290.7,378.5 l2.7,-2" stroke="#b2b2b2" stroke-width="0.4"/><path d="M321.9,390.1 l0.3,-2.6" stroke="#9a9a9a" stroke-width="0.4"/><path d="M340,369.7 l-1.2,-0.3" stroke="#a4a4a4" stroke-width="0.4"/><path d="M335,392.2 l-2.6,-0.5" stroke="#b2b2b2" stroke-width="0.4"/><path d="M297.5,398.9 l-2.2,-0.3" stroke="#a4a4a4" stroke-width="0.6"/><path d="M316.7,382.2 l-1.6,2.9" stroke="#525252" stroke-width="0.4"/><path d="M324.3,369 l-2.8,-1.1" stroke="#5c5c5c" stroke-width="0.6"/><path d="M306.2,423.3 l-2.1,1.1" stroke="#525252" stroke-width="0.6"/><path d="M318.8,421.4 l1.3,1.7" stroke="#5c5c5c" stroke-width="0.4"/><path d="M289.8,412.3 l-0.2,-1.3" stroke="#b2b2b2" stroke-width="0.6"/><path d="M291.7,368.2 l-2.8,-0.8" stroke="#9a9a9a" stroke-width="0.6"/><path d="M310.3,425.7 l2.5,2.2" stroke="#b2b2b2" stroke-width="0.6"/><path d="M336.3,399.2 l1.2,1.4" stroke="#9a9a9a" stroke-width="0.6"/><path d="M338.2,373.8 l0.4,2.2" stroke="#525252" stroke-width="0.6"/><path d="M299.7,376.6 l2.8,-0.5" stroke="#525252" stroke-width="0.6"/><path d="M288.7,422.8 l1,-2.5" stroke="#a4a4a4" stroke-width="0.6"/><path d="M338.3,363.5 l0.2,-2.7" stroke="#b2b2b2" stroke-width="0.6"/><path d="M333.8,392.1 l-2.4,1.4" stroke="#9a9a9a" stroke-width="0.6"/><path d="M305,394.4 l2.6,-2.2" stroke="#5c5c5c" stroke-width="0.6"/><path d="M293,400.4 l2.1,0.7" stroke="#5c5c5c" stroke-width="0.6"/><path d="M338,392.7 l1.4,-0.5" stroke="#9a9a9a" stroke-width="0.6"/><path d="M311.9,379.9 l-0.1,-1.7" stroke="#9a9a9a" stroke-width="0.4"/><path d="M285.2,416.7 l0.8,-2.6" stroke="#9a9a9a" stroke-width="0.6"/><path d="M339.2,420.6 l-0.8,2.6" stroke="#a4a4a4" stroke-width="0.6"/><path d="M321.4,375.7 l0.9,2.6" stroke="#b2b2b2" stroke-width="0.6"/><path d="M296,381.1 l-0.8,2.2" stroke="#5c5c5c" stroke-width="0.6"/><path d="M329.8,423 l1.6,-1.9" stroke="#525252" stroke-width="0.4"/><path d="M330,408.9 l-0.5,-2.8" stroke="#5c5c5c" stroke-width="0.6"/><path d="M291.5,407.4 l-0.5,-1.2" stroke="#9a9a9a" stroke-width="0.4"/><path d="M330.5,398.4 l-1.3,2.8" stroke="#525252" stroke-width="0.6"/></g></g><text x="288.5" y="374.2" font-size="7.5" fill="#f4f4f4">1 mAh cm<tspan font-size="4.4" dy="-2.9">-2</tspan></text><line x1="321.4" y1="423.3" x2="337.4" y2="423.3" stroke="#fff" stroke-width="1"/><clipPath id="cSem1"><rect x="344.2" y="363" width="64.4" height="63.3"/></clipPath><g clip-path="url(#cSem1)"><rect x="344.2" y="363" width="64.4" height="63.3" fill="#767676"/><rect x="344.2" y="363" width="64.4" height="63.3" filter="url(#fSem)" opacity="0.35"/><g fill="none" stroke-linecap="round"><path d="M371.3,398.6 l-2.4,-0.9" stroke="#a4a4a4" stroke-width="0.6"/><path d="M354.4,415.3 l2.4,1.3" stroke="#9a9a9a" stroke-width="0.4"/><path d="M347,364.6 l2.3,-2" stroke="#5c5c5c" stroke-width="0.4"/><path d="M383.2,372.9 l-2.5,1.5" stroke="#b2b2b2" stroke-width="0.4"/><path d="M387.6,422.9 l0.3,-1.3" stroke="#9a9a9a" stroke-width="0.6"/><path d="M346.5,420.2 l-0.6,-1.6" stroke="#b2b2b2" stroke-width="0.4"/><path d="M400.4,371.9 l0.4,-2" stroke="#9a9a9a" stroke-width="0.6"/><path d="M362.7,425.9 l2.6,-1.8" stroke="#5c5c5c" stroke-width="0.4"/><path d="M366.4,371.8 l-1.5,-1.1" stroke="#a4a4a4" stroke-width="0.4"/><path d="M405.7,408.1 l1.2,-2" stroke="#9a9a9a" stroke-width="0.6"/><path d="M401.1,410.3 l0.5,2.4" stroke="#525252" stroke-width="0.4"/><path d="M356.1,383 l1.5,0.4" stroke="#5c5c5c" stroke-width="0.6"/><path d="M407.5,406 l1.2,-3" stroke="#5c5c5c" stroke-width="0.6"/><path d="M385.4,411.5 l2.4,0.4" stroke="#525252" stroke-width="0.6"/><path d="M394.9,375.2 l0.9,-1.5" stroke="#525252" stroke-width="0.6"/><path d="M379.6,382.7 l-0.6,-3" stroke="#525252" stroke-width="0.6"/><path d="M395.7,374.3 l-2.8,0.9" stroke="#9a9a9a" stroke-width="0.4"/><path d="M365.3,374.9 l-2.1,-0.3" stroke="#a4a4a4" stroke-width="0.6"/><path d="M369.9,374.9 l-0.4,-1.6" stroke="#5c5c5c" stroke-width="0.4"/><path d="M364.6,392.1 l2.8,1.3" stroke="#b2b2b2" stroke-width="0.6"/><path d="M392.4,384.2 l1.1,1.7" stroke="#9a9a9a" stroke-width="0.4"/><path d="M346.6,385.2 l-2.1,1.1" stroke="#a4a4a4" stroke-width="0.6"/><path d="M378.9,418.6 l-1.1,2.6" stroke="#9a9a9a" stroke-width="0.4"/><path d="M365.6,384.5 l1.7,2" stroke="#525252" stroke-width="0.6"/><path d="M372.3,392.3 l0.5,-2.1" stroke="#525252" stroke-width="0.6"/><path d="M350.5,403 l-0.4,3.2" stroke="#b2b2b2" stroke-width="0.6"/><path d="M387,409.4 l2.3,-2" stroke="#b2b2b2" stroke-width="0.6"/><path d="M368.2,366.9 l-2,-1.4" stroke="#a4a4a4" stroke-width="0.6"/><path d="M346.4,422.8 l2.5,0.5" stroke="#b2b2b2" stroke-width="0.4"/><path d="M348.1,414 l0.8,-1.3" stroke="#9a9a9a" stroke-width="0.4"/><path d="M357.3,391.7 l-1,-0.8" stroke="#9a9a9a" stroke-width="0.6"/><path d="M382.2,422.5 l0,2.9" stroke="#9a9a9a" stroke-width="0.6"/><path d="M369.3,363.1 l1.1,0.6" stroke="#5c5c5c" stroke-width="0.4"/><path d="M376.3,375 l-1.1,0.6" stroke="#5c5c5c" stroke-width="0.4"/><path d="M366,411.5 l-1.7,-2.4" stroke="#525252" stroke-width="0.4"/><path d="M387,391.3 l-2.1,-1.2" stroke="#b2b2b2" stroke-width="0.4"/><path d="M401.3,404.8 l1.4,-2.8" stroke="#a4a4a4" stroke-width="0.6"/><path d="M379.7,365.4 l-2.3,2.2" stroke="#b2b2b2" stroke-width="0.4"/><path d="M403.2,384.1 l2.1,0.4" stroke="#9a9a9a" stroke-width="0.6"/><path d="M356.2,388.3 l1.4,-1.6" stroke="#b2b2b2" stroke-width="0.6"/><path d="M357.9,382.6 l-3.3,-0.8" stroke="#5c5c5c" stroke-width="0.6"/><path d="M407.8,407.5 l2,-0.4" stroke="#a4a4a4" stroke-width="0.4"/><path d="M364.3,372.2 l0.9,-2.6" stroke="#a4a4a4" stroke-width="0.6"/><path d="M375.6,413.7 l1.6,-1.2" stroke="#9a9a9a" stroke-width="0.4"/><path d="M368.3,391.6 l1,-1.3" stroke="#5c5c5c" stroke-width="0.4"/><path d="M375.6,405.9 l-1.7,-1.1" stroke="#a4a4a4" stroke-width="0.6"/><path d="M398,409.6 l2.1,1.5" stroke="#525252" stroke-width="0.6"/><path d="M345.6,388.9 l1.8,1.9" stroke="#525252" stroke-width="0.4"/><path d="M403.4,391.5 l-1.1,2.9" stroke="#9a9a9a" stroke-width="0.6"/><path d="M374,394.1 l-3.2,-0.6" stroke="#9a9a9a" stroke-width="0.4"/><path d="M392.7,424.4 l-1.5,-2.6" stroke="#a4a4a4" stroke-width="0.6"/><path d="M396.3,367.9 l0.1,1.3" stroke="#525252" stroke-width="0.4"/><path d="M369.5,397.4 l1.3,-1.4" stroke="#9a9a9a" stroke-width="0.6"/><path d="M354.2,386.9 l1.2,1.3" stroke="#5c5c5c" stroke-width="0.4"/><path d="M385.7,423 l-1.1,-3" stroke="#5c5c5c" stroke-width="0.4"/><path d="M346.4,417.7 l-1.2,1" stroke="#5c5c5c" stroke-width="0.4"/><path d="M371.2,394 l0.2,2.9" stroke="#9a9a9a" stroke-width="0.4"/><path d="M400.7,411.7 l0.7,-1.5" stroke="#9a9a9a" stroke-width="0.6"/><path d="M355.8,414.2 l0.9,2.6" stroke="#525252" stroke-width="0.4"/><path d="M380.6,412.9 l1.1,1" stroke="#5c5c5c" stroke-width="0.6"/><path d="M362.3,388 l-2.8,1.6" stroke="#a4a4a4" stroke-width="0.4"/><path d="M360.4,376.8 l-1.3,0.8" stroke="#b2b2b2" stroke-width="0.4"/><path d="M376.9,395.6 l-3.1,1.3" stroke="#b2b2b2" stroke-width="0.6"/><path d="M349.4,421.8 l-0.8,-2.9" stroke="#9a9a9a" stroke-width="0.6"/><path d="M350.9,412.1 l2,-2.2" stroke="#9a9a9a" stroke-width="0.4"/><path d="M365.9,377.6 l-1.5,2.4" stroke="#a4a4a4" stroke-width="0.4"/><path d="M374.1,382.4 l-1.1,-0.9" stroke="#5c5c5c" stroke-width="0.6"/><path d="M407.5,398.9 l-2.7,0.6" stroke="#b2b2b2" stroke-width="0.6"/><path d="M374.8,374.3 l-3.2,-1" stroke="#a4a4a4" stroke-width="0.6"/><path d="M352.7,416.6 l-0.2,2.4" stroke="#b2b2b2" stroke-width="0.6"/><path d="M375,393.7 l0.7,-1.6" stroke="#b2b2b2" stroke-width="0.6"/><path d="M384.8,413.9 l1.2,-2.5" stroke="#525252" stroke-width="0.6"/><path d="M362.5,394.6 l1.4,1" stroke="#525252" stroke-width="0.6"/><path d="M354.8,412.9 l1.4,-1.3" stroke="#525252" stroke-width="0.6"/><path d="M356.6,382.6 l1,-2.2" stroke="#b2b2b2" stroke-width="0.4"/><path d="M345.7,423.4 l0.1,1.7" stroke="#a4a4a4" stroke-width="0.6"/><path d="M371.4,405.3 l1.2,-3.1" stroke="#525252" stroke-width="0.4"/><path d="M350,401.8 l1.7,-2" stroke="#9a9a9a" stroke-width="0.6"/><path d="M391.9,386 l-1.5,0.6" stroke="#b2b2b2" stroke-width="0.6"/><path d="M348,379.2 l-0.1,-3.4" stroke="#a4a4a4" stroke-width="0.4"/><path d="M405.8,367.3 l1,-1.3" stroke="#b2b2b2" stroke-width="0.6"/><path d="M345.3,387.7 l1,2.3" stroke="#9a9a9a" stroke-width="0.6"/><path d="M388,398.3 l-1.7,2.3" stroke="#a4a4a4" stroke-width="0.4"/><path d="M377.9,391.6 l-1.9,-2.8" stroke="#b2b2b2" stroke-width="0.6"/><path d="M378.2,364.4 l2.5,-0.2" stroke="#b2b2b2" stroke-width="0.6"/><path d="M362.7,378 l-3,-0.9" stroke="#b2b2b2" stroke-width="0.4"/><path d="M346.3,374.8 l-1.1,1.3" stroke="#525252" stroke-width="0.6"/><path d="M407.4,376.9 l-2.7,0.3" stroke="#5c5c5c" stroke-width="0.6"/><path d="M388.6,425.2 l1.7,-0" stroke="#b2b2b2" stroke-width="0.4"/><path d="M387.3,382.4 l1.1,-0.4" stroke="#a4a4a4" stroke-width="0.4"/><path d="M352.4,365.3 l0.7,1.5" stroke="#5c5c5c" stroke-width="0.4"/><path d="M354.8,390.6 l0.2,3.4" stroke="#a4a4a4" stroke-width="0.4"/><path d="M357,385.1 l-1.4,-0.7" stroke="#9a9a9a" stroke-width="0.6"/><path d="M370.6,396.1 l-0.9,2.3" stroke="#a4a4a4" stroke-width="0.4"/><path d="M369.1,425.4 l-0.7,2.5" stroke="#5c5c5c" stroke-width="0.4"/><path d="M400.9,383.2 l-2.2,-1.3" stroke="#b2b2b2" stroke-width="0.4"/><path d="M382.3,385.3 l1.7,-0" stroke="#b2b2b2" stroke-width="0.4"/><path d="M355.2,376.2 l0.7,-1.2" stroke="#b2b2b2" stroke-width="0.4"/><path d="M366.4,365.4 l-1.1,0.4" stroke="#9a9a9a" stroke-width="0.4"/><path d="M404.7,369.3 l-2.7,-1.4" stroke="#525252" stroke-width="0.6"/><path d="M402.2,407.6 l1.8,0.9" stroke="#a4a4a4" stroke-width="0.6"/><path d="M358.7,371.4 l1.1,0.9" stroke="#b2b2b2" stroke-width="0.6"/><path d="M362.3,366.7 l-1.7,0.8" stroke="#9a9a9a" stroke-width="0.6"/><path d="M357.5,374.5 l1.2,-1.2" stroke="#b2b2b2" stroke-width="0.6"/><path d="M348.8,425.8 l-1.7,0.2" stroke="#525252" stroke-width="0.6"/><path d="M380,386.9 l-1.2,0.8" stroke="#a4a4a4" stroke-width="0.6"/><path d="M371.6,397 l-0.5,1.2" stroke="#9a9a9a" stroke-width="0.6"/><path d="M347.8,411.2 l-0.8,-3.1" stroke="#5c5c5c" stroke-width="0.4"/><path d="M358.7,367.3 l0.8,-1.1" stroke="#a4a4a4" stroke-width="0.4"/><path d="M385,369.9 l-2.2,1.2" stroke="#a4a4a4" stroke-width="0.6"/><path d="M354.8,367.4 l-1.8,0.4" stroke="#a4a4a4" stroke-width="0.6"/><path d="M388.1,390.5 l-1.6,0" stroke="#9a9a9a" stroke-width="0.6"/><path d="M366.1,367.4 l-1.9,-1.6" stroke="#b2b2b2" stroke-width="0.4"/><path d="M356.5,411.7 l-2,-0.7" stroke="#b2b2b2" stroke-width="0.4"/><path d="M370.4,363.6 l-1.8,-0.1" stroke="#a4a4a4" stroke-width="0.6"/><path d="M405.3,383.6 l-1.6,0.3" stroke="#5c5c5c" stroke-width="0.4"/><path d="M358.8,424.5 l3.4,-0.8" stroke="#a4a4a4" stroke-width="0.6"/><path d="M362.4,388.4 l0.7,2" stroke="#9a9a9a" stroke-width="0.6"/><path d="M399.9,365.7 l1.7,-2.2" stroke="#5c5c5c" stroke-width="0.6"/><path d="M399.6,368.4 l-3,-0.4" stroke="#5c5c5c" stroke-width="0.4"/><path d="M401.5,419.2 l2.1,-2.7" stroke="#b2b2b2" stroke-width="0.6"/><path d="M380.5,378.3 l-0.2,-2" stroke="#525252" stroke-width="0.4"/><path d="M371.5,384 l-1.4,0.4" stroke="#9a9a9a" stroke-width="0.4"/><path d="M353.2,395.4 l0.5,2.7" stroke="#a4a4a4" stroke-width="0.6"/><path d="M355.9,397.1 l0.5,1.9" stroke="#b2b2b2" stroke-width="0.4"/><path d="M378.4,419.1 l3.2,-0" stroke="#a4a4a4" stroke-width="0.4"/><path d="M379.3,364.6 l1.3,3.1" stroke="#5c5c5c" stroke-width="0.6"/><path d="M386.3,394.2 l-1.9,-2.2" stroke="#b2b2b2" stroke-width="0.4"/><path d="M402,369.8 l0.7,-1.2" stroke="#5c5c5c" stroke-width="0.6"/><path d="M408.5,368.4 l-2.8,0.4" stroke="#a4a4a4" stroke-width="0.6"/><path d="M391.9,385.8 l-1.5,-2.3" stroke="#9a9a9a" stroke-width="0.6"/><path d="M346.5,409.9 l-0.3,1.3" stroke="#525252" stroke-width="0.4"/><path d="M355.5,410.9 l0.6,2.8" stroke="#525252" stroke-width="0.6"/><path d="M371.1,400.6 l-0.5,3.3" stroke="#b2b2b2" stroke-width="0.4"/><path d="M403.3,365.6 l-0.5,2.8" stroke="#525252" stroke-width="0.4"/><path d="M384.1,377.2 l-3,-1.4" stroke="#9a9a9a" stroke-width="0.6"/><path d="M397,424.4 l-1.2,0.4" stroke="#b2b2b2" stroke-width="0.6"/><path d="M359.1,368.1 l-1.9,1.5" stroke="#a4a4a4" stroke-width="0.4"/><path d="M401.2,393.1 l1.6,1.6" stroke="#9a9a9a" stroke-width="0.6"/><path d="M375.4,371.6 l-0.7,-2.5" stroke="#5c5c5c" stroke-width="0.4"/><path d="M400.7,407.3 l2.9,1.7" stroke="#5c5c5c" stroke-width="0.4"/><path d="M397.3,377.2 l1.5,-2.2" stroke="#9a9a9a" stroke-width="0.4"/><path d="M366,409.1 l1.1,1" stroke="#9a9a9a" stroke-width="0.6"/><path d="M401.6,383.9 l-1.9,-0.5" stroke="#525252" stroke-width="0.6"/><path d="M390.8,402.4 l0.4,-2.1" stroke="#9a9a9a" stroke-width="0.4"/><path d="M377,399.8 l3,0.4" stroke="#a4a4a4" stroke-width="0.4"/><path d="M368,369.5 l-2,-1.4" stroke="#525252" stroke-width="0.4"/><path d="M371.7,390 l-0.6,2.2" stroke="#5c5c5c" stroke-width="0.4"/><path d="M353.1,415.8 l2.3,-1.1" stroke="#9a9a9a" stroke-width="0.6"/><path d="M397.8,385 l-0.9,-1" stroke="#9a9a9a" stroke-width="0.4"/></g></g><text x="356.7" y="374.2" font-size="7.5" fill="#f4f4f4">2 mAh cm<tspan font-size="4.4" dy="-2.9">-2</tspan></text><line x1="389.6" y1="423.3" x2="405.6" y2="423.3" stroke="#fff" stroke-width="1"/><clipPath id="cSem2"><rect x="411.6" y="363" width="64.4" height="63.3"/></clipPath><g clip-path="url(#cSem2)"><rect x="411.6" y="363" width="64.4" height="63.3" fill="#767676"/><rect x="411.6" y="363" width="64.4" height="63.3" filter="url(#fSem)" opacity="0.35"/><g fill="none" stroke-linecap="round"><path d="M470.4,394.1 l-1.8,-0.8" stroke="#a4a4a4" stroke-width="0.4"/><path d="M434.5,373.9 l1.1,1.1" stroke="#a4a4a4" stroke-width="0.4"/><path d="M455.3,415.6 l-1.2,0.9" stroke="#a4a4a4" stroke-width="0.4"/><path d="M460,422.3 l1.6,-0" stroke="#9a9a9a" stroke-width="0.6"/><path d="M433.4,419.3 l-1.3,0.2" stroke="#a4a4a4" stroke-width="0.4"/><path d="M450.2,410.3 l1.4,-0.3" stroke="#9a9a9a" stroke-width="0.4"/><path d="M424.7,411.9 l-1.4,-0.6" stroke="#525252" stroke-width="0.4"/><path d="M443.6,421.5 l-0.9,-2.3" stroke="#5c5c5c" stroke-width="0.4"/><path d="M470.4,379 l2.7,-1.6" stroke="#5c5c5c" stroke-width="0.4"/><path d="M444.4,382.3 l2.1,-0.5" stroke="#a4a4a4" stroke-width="0.4"/><path d="M475.4,401.9 l-1.2,0.4" stroke="#525252" stroke-width="0.4"/><path d="M444.6,416.3 l1.5,-2.8" stroke="#b2b2b2" stroke-width="0.6"/><path d="M452.2,365.5 l2.8,0.7" stroke="#a4a4a4" stroke-width="0.6"/><path d="M425.5,366.4 l-1.1,1.5" stroke="#b2b2b2" stroke-width="0.6"/><path d="M471.8,399.5 l-1.2,0.9" stroke="#9a9a9a" stroke-width="0.4"/><path d="M467.5,386.7 l0.9,-1.3" stroke="#5c5c5c" stroke-width="0.6"/><path d="M442.4,383.8 l1.9,-0.6" stroke="#a4a4a4" stroke-width="0.4"/><path d="M431,425.1 l1.8,0.4" stroke="#b2b2b2" stroke-width="0.6"/><path d="M446.3,367.9 l2.5,-2.2" stroke="#525252" stroke-width="0.4"/><path d="M424.5,402.1 l3.3,-0.5" stroke="#5c5c5c" stroke-width="0.4"/><path d="M426.1,366.1 l1.6,-2.9" stroke="#9a9a9a" stroke-width="0.6"/><path d="M442.3,388 l-0.8,-2.1" stroke="#525252" stroke-width="0.6"/><path d="M415.4,390.1 l-2,-1.7" stroke="#9a9a9a" stroke-width="0.4"/><path d="M413.9,400.6 l-1.7,-0.2" stroke="#5c5c5c" stroke-width="0.4"/><path d="M423.1,404 l0.5,2.7" stroke="#b2b2b2" stroke-width="0.6"/><path d="M469.7,367.9 l1.4,-0.6" stroke="#a4a4a4" stroke-width="0.4"/><path d="M453.7,368.5 l0.2,3" stroke="#5c5c5c" stroke-width="0.6"/><path d="M453.5,380.6 l-0.8,-2.4" stroke="#9a9a9a" stroke-width="0.6"/><path d="M429.7,425.9 l2.2,-1.5" stroke="#a4a4a4" stroke-width="0.6"/><path d="M456,396.2 l1,1" stroke="#9a9a9a" stroke-width="0.4"/><path d="M462.6,397.3 l1.2,-3.2" stroke="#b2b2b2" stroke-width="0.4"/><path d="M462.2,367.3 l2.1,-2.8" stroke="#a4a4a4" stroke-width="0.6"/><path d="M413.1,381.3 l-0.3,-1.6" stroke="#5c5c5c" stroke-width="0.4"/><path d="M466.9,400.7 l-2.1,1" stroke="#525252" stroke-width="0.6"/><path d="M429.5,424 l2.1,2.2" stroke="#5c5c5c" stroke-width="0.4"/><path d="M470.4,386.4 l0.3,-1.2" stroke="#b2b2b2" stroke-width="0.6"/><path d="M421.6,406.8 l1.8,2.4" stroke="#9a9a9a" stroke-width="0.4"/><path d="M464.5,394.7 l0.5,1.1" stroke="#9a9a9a" stroke-width="0.6"/><path d="M453.5,397 l-3.3,0.7" stroke="#9a9a9a" stroke-width="0.6"/><path d="M440.5,411.2 l0.3,-1.9" stroke="#525252" stroke-width="0.6"/><path d="M419.3,422.4 l1.2,-0.4" stroke="#9a9a9a" stroke-width="0.4"/><path d="M411.9,385.4 l-2.7,-0" stroke="#9a9a9a" stroke-width="0.6"/><path d="M458.6,386.5 l1.9,-1.7" stroke="#525252" stroke-width="0.4"/><path d="M464.6,375.3 l-2,0.1" stroke="#a4a4a4" stroke-width="0.6"/><path d="M457.9,393 l1.6,-0.6" stroke="#a4a4a4" stroke-width="0.4"/><path d="M474.3,393.9 l-1.7,2.4" stroke="#525252" stroke-width="0.6"/><path d="M448.8,380 l-0.3,1.8" stroke="#5c5c5c" stroke-width="0.6"/><path d="M434.2,365.3 l3.2,1.2" stroke="#525252" stroke-width="0.6"/><path d="M452,369.2 l-0.7,-2.3" stroke="#525252" stroke-width="0.4"/><path d="M425.1,405.4 l-1.7,-0.1" stroke="#525252" stroke-width="0.4"/><path d="M435.3,413 l1.9,-0.7" stroke="#525252" stroke-width="0.4"/><path d="M470.7,376.8 l2.4,1.9" stroke="#a4a4a4" stroke-width="0.4"/><path d="M423.1,394 l-1.1,-1.5" stroke="#525252" stroke-width="0.4"/><path d="M468.6,419.8 l1.6,-0.2" stroke="#5c5c5c" stroke-width="0.4"/><path d="M446.3,399.9 l0.9,-1.3" stroke="#5c5c5c" stroke-width="0.4"/><path d="M429.2,391 l1.3,-0.1" stroke="#a4a4a4" stroke-width="0.4"/><path d="M440.2,408 l3,1.2" stroke="#a4a4a4" stroke-width="0.4"/><path d="M425.8,411.3 l1.2,0.4" stroke="#9a9a9a" stroke-width="0.6"/><path d="M413.3,394 l0.1,-1.7" stroke="#525252" stroke-width="0.6"/><path d="M462.7,403.5 l1.3,2.7" stroke="#9a9a9a" stroke-width="0.4"/><path d="M438.9,407.7 l-3.2,-0.6" stroke="#9a9a9a" stroke-width="0.4"/><path d="M456.5,372.3 l-2.7,0.7" stroke="#525252" stroke-width="0.6"/><path d="M454.9,412.2 l-0.4,2" stroke="#525252" stroke-width="0.6"/><path d="M457.7,385.5 l-2.1,1.7" stroke="#a4a4a4" stroke-width="0.6"/><path d="M457.4,376.2 l2.8,1.7" stroke="#525252" stroke-width="0.6"/><path d="M435.9,382.7 l0.2,-2.3" stroke="#525252" stroke-width="0.6"/><path d="M462.3,375.6 l2.2,0.4" stroke="#9a9a9a" stroke-width="0.4"/><path d="M440,367.9 l-3.1,1.1" stroke="#5c5c5c" stroke-width="0.4"/><path d="M455.1,406.3 l-1,1.3" stroke="#a4a4a4" stroke-width="0.4"/><path d="M467.2,397.6 l1,-1.8" stroke="#525252" stroke-width="0.4"/><path d="M421,412 l1.5,1.2" stroke="#a4a4a4" stroke-width="0.6"/><path d="M437.6,385.6 l-2.6,0.5" stroke="#b2b2b2" stroke-width="0.4"/><path d="M456.8,399.9 l-1.8,1.2" stroke="#9a9a9a" stroke-width="0.4"/><path d="M467.5,386.5 l-1.8,0.7" stroke="#9a9a9a" stroke-width="0.4"/><path d="M449.6,387.8 l-2.8,1.6" stroke="#a4a4a4" stroke-width="0.4"/><path d="M463.7,385.2 l0.1,2.6" stroke="#b2b2b2" stroke-width="0.6"/><path d="M472.5,372.4 l-2.4,-0.7" stroke="#525252" stroke-width="0.4"/><path d="M451.6,417.3 l1.5,-2.5" stroke="#9a9a9a" stroke-width="0.6"/><path d="M470.1,415.9 l1.5,-2.8" stroke="#5c5c5c" stroke-width="0.4"/><path d="M461.2,371.3 l0.8,-2.1" stroke="#5c5c5c" stroke-width="0.6"/><path d="M442.2,379.8 l3.3,1.1" stroke="#9a9a9a" stroke-width="0.6"/><path d="M456.6,396.6 l3.1,-0.3" stroke="#a4a4a4" stroke-width="0.4"/><path d="M451.8,397 l3.1,0.1" stroke="#9a9a9a" stroke-width="0.6"/><path d="M475.9,421.1 l1.5,-0.7" stroke="#9a9a9a" stroke-width="0.4"/><path d="M418.3,415.3 l-2.6,-0.2" stroke="#9a9a9a" stroke-width="0.4"/><path d="M444.7,400.3 l-2.7,-0.9" stroke="#a4a4a4" stroke-width="0.6"/><path d="M472.6,381 l1.8,-0.7" stroke="#525252" stroke-width="0.4"/><path d="M459.2,382.6 l-2.3,0.3" stroke="#b2b2b2" stroke-width="0.4"/><path d="M450.4,414.6 l-2.7,-1.8" stroke="#5c5c5c" stroke-width="0.4"/><path d="M424,391.9 l2,-0.9" stroke="#b2b2b2" stroke-width="0.6"/><path d="M453.2,419.3 l-1.3,-1.2" stroke="#b2b2b2" stroke-width="0.6"/><path d="M468.5,384.1 l1.5,0" stroke="#525252" stroke-width="0.4"/><path d="M468.3,419.4 l0.4,1.6" stroke="#b2b2b2" stroke-width="0.4"/><path d="M461.1,425.1 l2.1,-0.8" stroke="#5c5c5c" stroke-width="0.6"/><path d="M435.8,385.1 l-0.7,3.1" stroke="#5c5c5c" stroke-width="0.4"/><path d="M454.1,365.4 l0.7,1" stroke="#a4a4a4" stroke-width="0.4"/><path d="M449.2,379.3 l-2.4,-0.6" stroke="#b2b2b2" stroke-width="0.6"/><path d="M453.2,377.5 l1.2,-0.5" stroke="#525252" stroke-width="0.6"/><path d="M444.1,404.7 l-1.8,0.5" stroke="#9a9a9a" stroke-width="0.6"/><path d="M453.8,383.7 l1.4,-0.8" stroke="#b2b2b2" stroke-width="0.6"/><path d="M445.1,396.9 l0.7,-1.7" stroke="#9a9a9a" stroke-width="0.6"/><path d="M463,374.4 l-2.3,-0.8" stroke="#5c5c5c" stroke-width="0.4"/><path d="M440.7,376.9 l3.1,-1.3" stroke="#525252" stroke-width="0.4"/><path d="M462.5,418.9 l-2.9,-0.1" stroke="#525252" stroke-width="0.4"/><path d="M414.5,388.8 l-2.2,1.3" stroke="#a4a4a4" stroke-width="0.4"/><path d="M472.9,386 l2.1,2.7" stroke="#b2b2b2" stroke-width="0.4"/><path d="M461.1,400.4 l1,-1.9" stroke="#a4a4a4" stroke-width="0.4"/><path d="M420.5,392.4 l1.6,-0.6" stroke="#b2b2b2" stroke-width="0.6"/><path d="M459.7,402.8 l-1,1.5" stroke="#5c5c5c" stroke-width="0.4"/><path d="M436.8,416.2 l3,-1.1" stroke="#b2b2b2" stroke-width="0.6"/><path d="M415.9,400.7 l-3,1.8" stroke="#a4a4a4" stroke-width="0.4"/><path d="M432.8,394.4 l1.8,-2.6" stroke="#9a9a9a" stroke-width="0.6"/><path d="M472.7,423.9 l2.5,-2.1" stroke="#a4a4a4" stroke-width="0.4"/><path d="M434.4,411.1 l3.3,0.1" stroke="#5c5c5c" stroke-width="0.4"/><path d="M419.3,417.2 l-0.3,-1.9" stroke="#525252" stroke-width="0.4"/><path d="M413.4,414.2 l-1.4,0.3" stroke="#5c5c5c" stroke-width="0.4"/><path d="M451,404.6 l1.3,-1.1" stroke="#9a9a9a" stroke-width="0.4"/><path d="M463.2,382.7 l-0.5,2.4" stroke="#a4a4a4" stroke-width="0.6"/><path d="M431.9,410 l0.5,2.8" stroke="#5c5c5c" stroke-width="0.4"/><path d="M463.8,405.5 l-1.2,-2.8" stroke="#b2b2b2" stroke-width="0.4"/><path d="M441.7,371.3 l0.6,-2.6" stroke="#5c5c5c" stroke-width="0.4"/><path d="M423.5,365.9 l-2.6,-1.7" stroke="#9a9a9a" stroke-width="0.6"/><path d="M413.1,388.3 l1.4,0" stroke="#a4a4a4" stroke-width="0.4"/><path d="M438,371.2 l2.4,-1.7" stroke="#5c5c5c" stroke-width="0.4"/><path d="M442.8,395.8 l-1.9,0.6" stroke="#a4a4a4" stroke-width="0.6"/><path d="M421.5,383.6 l-0,-3.2" stroke="#525252" stroke-width="0.6"/><path d="M449.7,388.6 l-2.4,-2.4" stroke="#9a9a9a" stroke-width="0.6"/><path d="M450.7,419.4 l-1.3,2.5" stroke="#5c5c5c" stroke-width="0.6"/><path d="M471.3,372.9 l0.6,-1.7" stroke="#5c5c5c" stroke-width="0.6"/><path d="M428.6,422.3 l-0.8,-1.7" stroke="#525252" stroke-width="0.4"/></g></g><text x="424.1" y="374.2" font-size="7.5" fill="#f4f4f4">5 mAh cm<tspan font-size="4.4" dy="-2.9">-2</tspan></text><line x1="457" y1="423.3" x2="473" y2="423.3" stroke="#fff" stroke-width="1"/><clipPath id="cSem3"><rect x="479.6" y="363" width="63.4" height="63.3"/></clipPath><g clip-path="url(#cSem3)"><rect x="479.6" y="363" width="63.4" height="63.3" fill="#767676"/><rect x="479.6" y="363" width="63.4" height="63.3" filter="url(#fSem)" opacity="0.35"/><g fill="none" stroke-linecap="round"><path d="M514.3,370.8 l-0.4,2.2" stroke="#a4a4a4" stroke-width="0.6"/><path d="M503.1,382.2 l-1.5,-1" stroke="#5c5c5c" stroke-width="0.4"/><path d="M507.2,409.9 l-2.1,2.6" stroke="#9a9a9a" stroke-width="0.4"/><path d="M522.2,365.8 l-2.6,0.6" stroke="#b2b2b2" stroke-width="0.6"/><path d="M488,405 l-0.9,2.7" stroke="#9a9a9a" stroke-width="0.4"/><path d="M531.1,390.1 l-0.9,-0.9" stroke="#a4a4a4" stroke-width="0.6"/><path d="M521.9,377.2 l1.3,-1.5" stroke="#9a9a9a" stroke-width="0.4"/><path d="M482.8,414.3 l-1.2,-2.7" stroke="#5c5c5c" stroke-width="0.4"/><path d="M535.8,364 l2.4,-0.8" stroke="#5c5c5c" stroke-width="0.4"/><path d="M520.2,405.5 l-2.6,-2" stroke="#9a9a9a" stroke-width="0.4"/><path d="M487.7,397.8 l-1.1,-1.3" stroke="#b2b2b2" stroke-width="0.4"/><path d="M505.8,401.5 l2.8,-0.2" stroke="#b2b2b2" stroke-width="0.4"/><path d="M522.5,393.4 l1.4,-0.8" stroke="#525252" stroke-width="0.4"/><path d="M542.9,384 l-0.9,-1.3" stroke="#5c5c5c" stroke-width="0.4"/><path d="M519.2,383.1 l-2.2,-2.3" stroke="#525252" stroke-width="0.4"/><path d="M514.5,383.8 l-1,2.2" stroke="#9a9a9a" stroke-width="0.6"/><path d="M491.8,403.8 l-3.1,-0.1" stroke="#b2b2b2" stroke-width="0.4"/><path d="M487.8,394.2 l0.3,1.2" stroke="#525252" stroke-width="0.6"/><path d="M485.7,371.5 l2.4,-1" stroke="#9a9a9a" stroke-width="0.4"/><path d="M505.1,366.2 l1.1,0.9" stroke="#a4a4a4" stroke-width="0.6"/><path d="M523.9,368 l-1.4,0.4" stroke="#5c5c5c" stroke-width="0.6"/><path d="M536.5,386.4 l0.4,-1.6" stroke="#5c5c5c" stroke-width="0.6"/><path d="M528.6,389.4 l2.5,0.4" stroke="#a4a4a4" stroke-width="0.4"/><path d="M512.4,381.5 l1.3,-1.9" stroke="#9a9a9a" stroke-width="0.6"/><path d="M527.2,391.9 l-0.3,1.2" stroke="#9a9a9a" stroke-width="0.4"/><path d="M493.4,424.9 l-1.9,-0.8" stroke="#b2b2b2" stroke-width="0.6"/><path d="M516.5,420.2 l2.2,2.4" stroke="#9a9a9a" stroke-width="0.4"/><path d="M487.7,403.8 l-0.7,-2.2" stroke="#b2b2b2" stroke-width="0.6"/><path d="M527.9,394.3 l-1.9,-2.7" stroke="#b2b2b2" stroke-width="0.4"/><path d="M517.8,371.9 l1,-1.6" stroke="#b2b2b2" stroke-width="0.4"/><path d="M499.4,418 l2,1.7" stroke="#b2b2b2" stroke-width="0.6"/><path d="M511.5,375.1 l-0.3,-1.9" stroke="#525252" stroke-width="0.6"/><path d="M482.1,420.9 l2.7,1.5" stroke="#5c5c5c" stroke-width="0.6"/><path d="M505.1,389.4 l0.7,-2.4" stroke="#525252" stroke-width="0.4"/><path d="M514.1,393.2 l-2.4,0.3" stroke="#b2b2b2" stroke-width="0.4"/><path d="M535.4,406.4 l2.3,1.8" stroke="#9a9a9a" stroke-width="0.6"/><path d="M510.8,389.5 l1.9,-1.6" stroke="#a4a4a4" stroke-width="0.4"/><path d="M542.8,369.3 l2.7,-0.3" stroke="#525252" stroke-width="0.4"/><path d="M538.2,388.8 l0.9,1.4" stroke="#9a9a9a" stroke-width="0.6"/><path d="M533.6,421.6 l-2.9,-0.3" stroke="#9a9a9a" stroke-width="0.4"/><path d="M513.7,406 l-0.1,3.5" stroke="#9a9a9a" stroke-width="0.4"/><path d="M493.6,373.9 l-0.9,1" stroke="#5c5c5c" stroke-width="0.4"/><path d="M484.9,398.5 l0.8,-1.5" stroke="#9a9a9a" stroke-width="0.6"/><path d="M492.4,367.4 l2,-0.4" stroke="#a4a4a4" stroke-width="0.6"/><path d="M504.5,368.2 l2.7,1.4" stroke="#9a9a9a" stroke-width="0.4"/><path d="M487.7,401.5 l1.5,0.2" stroke="#525252" stroke-width="0.4"/><path d="M535.5,370.3 l-1,-1.9" stroke="#5c5c5c" stroke-width="0.6"/><path d="M534.9,381.8 l2.2,-0.2" stroke="#5c5c5c" stroke-width="0.4"/><path d="M539.6,388 l1.6,-2.5" stroke="#5c5c5c" stroke-width="0.4"/><path d="M494.4,383.8 l-2.8,-1.9" stroke="#525252" stroke-width="0.6"/><path d="M538.8,364 l-1.5,1" stroke="#a4a4a4" stroke-width="0.6"/><path d="M536.3,386.1 l-1.7,2.1" stroke="#b2b2b2" stroke-width="0.4"/><path d="M515.8,374.8 l-3.1,-0.1" stroke="#a4a4a4" stroke-width="0.4"/><path d="M503.3,421.1 l-1.4,-1.3" stroke="#5c5c5c" stroke-width="0.6"/><path d="M533.7,391.8 l-0.6,-2.9" stroke="#a4a4a4" stroke-width="0.6"/><path d="M510,379.1 l-3.4,0.7" stroke="#9a9a9a" stroke-width="0.4"/><path d="M537.8,373 l-3.3,-0.3" stroke="#525252" stroke-width="0.4"/><path d="M510,368.9 l-1.5,0.5" stroke="#b2b2b2" stroke-width="0.4"/><path d="M493.1,411.1 l-2.6,2.3" stroke="#b2b2b2" stroke-width="0.6"/><path d="M517,377.5 l1.5,1.7" stroke="#525252" stroke-width="0.4"/><path d="M535.8,403.1 l-1.3,1.4" stroke="#5c5c5c" stroke-width="0.4"/><path d="M539.1,414.7 l-0.1,2.5" stroke="#9a9a9a" stroke-width="0.6"/><path d="M538.3,423 l-0.1,2.5" stroke="#b2b2b2" stroke-width="0.6"/><path d="M529.8,416.7 l-0,2" stroke="#b2b2b2" stroke-width="0.6"/><path d="M483,393.9 l0.8,1" stroke="#525252" stroke-width="0.4"/><path d="M511,418.3 l-2.4,-0.2" stroke="#9a9a9a" stroke-width="0.4"/><path d="M536.3,422.8 l0.6,2.3" stroke="#5c5c5c" stroke-width="0.6"/><path d="M501.3,385.2 l0.1,-1.4" stroke="#9a9a9a" stroke-width="0.6"/><path d="M508,397.5 l-0.2,2.8" stroke="#5c5c5c" stroke-width="0.4"/><path d="M519.3,407.6 l-0.6,-1.6" stroke="#a4a4a4" stroke-width="0.6"/><path d="M490.5,417.3 l1.4,-2.2" stroke="#9a9a9a" stroke-width="0.6"/><path d="M514,397.7 l0.9,2.6" stroke="#5c5c5c" stroke-width="0.6"/><path d="M523.4,398.9 l-1.2,0.4" stroke="#525252" stroke-width="0.6"/><path d="M510.1,422.8 l-0.1,-1.3" stroke="#525252" stroke-width="0.6"/><path d="M538.4,425.5 l0.4,1.8" stroke="#525252" stroke-width="0.4"/><path d="M519.2,391 l-1.4,-2.5" stroke="#9a9a9a" stroke-width="0.4"/><path d="M511.6,405.1 l-0.8,0.9" stroke="#b2b2b2" stroke-width="0.6"/><path d="M540.2,419.2 l1.2,2" stroke="#9a9a9a" stroke-width="0.4"/><path d="M484.7,367 l-1.8,-1.1" stroke="#b2b2b2" stroke-width="0.4"/><path d="M483.7,398.5 l1.6,1.1" stroke="#9a9a9a" stroke-width="0.6"/><path d="M519.3,392.4 l2.4,1.1" stroke="#9a9a9a" stroke-width="0.6"/><path d="M514.7,407.7 l-1.7,-2.8" stroke="#9a9a9a" stroke-width="0.6"/><path d="M500.2,399.4 l2.1,0.4" stroke="#5c5c5c" stroke-width="0.4"/><path d="M480.9,373.5 l-3,-1.6" stroke="#525252" stroke-width="0.6"/><path d="M498.4,368.7 l-1.3,0.6" stroke="#5c5c5c" stroke-width="0.6"/><path d="M483.1,364.2 l-2.3,-1.4" stroke="#b2b2b2" stroke-width="0.4"/><path d="M503.6,405 l1.8,0" stroke="#b2b2b2" stroke-width="0.4"/><path d="M497.7,418 l2,-0.3" stroke="#525252" stroke-width="0.4"/><path d="M515.6,381.2 l2.7,0.4" stroke="#525252" stroke-width="0.4"/><path d="M507.9,384.6 l-0.4,-1.4" stroke="#9a9a9a" stroke-width="0.4"/><path d="M517.9,370.2 l1.5,-1.3" stroke="#a4a4a4" stroke-width="0.4"/><path d="M517.1,419.4 l-1.7,-1.2" stroke="#a4a4a4" stroke-width="0.4"/><path d="M507.7,401.6 l2.8,1.7" stroke="#9a9a9a" stroke-width="0.6"/><path d="M524.3,421 l2.6,-0" stroke="#5c5c5c" stroke-width="0.4"/><path d="M519.4,412.8 l-2.7,-1.9" stroke="#a4a4a4" stroke-width="0.4"/><path d="M517.9,394.1 l0.2,-2.1" stroke="#5c5c5c" stroke-width="0.6"/><path d="M533.3,365.8 l1,-3.2" stroke="#525252" stroke-width="0.6"/><path d="M538.7,394 l-3.2,-0.9" stroke="#9a9a9a" stroke-width="0.6"/><path d="M480.9,392.5 l1.6,2.7" stroke="#525252" stroke-width="0.6"/><path d="M484.9,394.2 l1.7,2.3" stroke="#525252" stroke-width="0.4"/><path d="M511.7,417.7 l1.2,1.7" stroke="#525252" stroke-width="0.4"/><path d="M496.8,376.4 l1.2,1.2" stroke="#9a9a9a" stroke-width="0.6"/><path d="M495.2,398 l2.8,0.6" stroke="#b2b2b2" stroke-width="0.4"/><path d="M526.2,425 l0.3,-2.2" stroke="#525252" stroke-width="0.4"/><path d="M532.3,398.3 l-0.6,-1.3" stroke="#b2b2b2" stroke-width="0.6"/><path d="M510.3,401.3 l0.8,-3.1" stroke="#525252" stroke-width="0.6"/><path d="M482,380.7 l-1.8,-1" stroke="#b2b2b2" stroke-width="0.6"/><path d="M513,387.8 l-1.3,1.9" stroke="#b2b2b2" stroke-width="0.4"/><path d="M480.1,410.9 l0.4,1.3" stroke="#b2b2b2" stroke-width="0.4"/><path d="M499.7,364.8 l0.2,2.4" stroke="#b2b2b2" stroke-width="0.6"/><path d="M517.6,375 l0.3,-1.5" stroke="#a4a4a4" stroke-width="0.4"/><path d="M479.8,400 l-1.9,-1.5" stroke="#5c5c5c" stroke-width="0.4"/><path d="M520.5,386.7 l-1.2,2.8" stroke="#a4a4a4" stroke-width="0.6"/><path d="M516.6,376.9 l1.2,0.8" stroke="#525252" stroke-width="0.6"/><path d="M499.5,368.8 l0.8,-1.1" stroke="#9a9a9a" stroke-width="0.4"/><path d="M518.1,417.5 l1.5,-1.8" stroke="#525252" stroke-width="0.4"/><path d="M515.5,383.6 l-2.9,-1.9" stroke="#a4a4a4" stroke-width="0.4"/><path d="M526.1,406 l0.5,-3.3" stroke="#9a9a9a" stroke-width="0.4"/><path d="M496.9,413.3 l1.1,1.6" stroke="#5c5c5c" stroke-width="0.6"/><path d="M488.4,417 l-2.8,0.4" stroke="#525252" stroke-width="0.6"/><path d="M503.6,412.5 l-0.3,-2.8" stroke="#525252" stroke-width="0.4"/><path d="M481.3,401.5 l-1.4,0.1" stroke="#b2b2b2" stroke-width="0.4"/><path d="M537.2,366.6 l-0.1,1.7" stroke="#5c5c5c" stroke-width="0.6"/><path d="M521.4,379.9 l1.8,-2.8" stroke="#525252" stroke-width="0.6"/><path d="M525.8,419.5 l0.5,-3" stroke="#b2b2b2" stroke-width="0.6"/><path d="M507.3,393.7 l0.7,1.2" stroke="#5c5c5c" stroke-width="0.4"/><path d="M507.2,405.3 l-1.3,-2.9" stroke="#5c5c5c" stroke-width="0.4"/><path d="M485.1,409.9 l2,-2.7" stroke="#a4a4a4" stroke-width="0.6"/><path d="M481.5,421 l1.6,0.4" stroke="#a4a4a4" stroke-width="0.6"/><path d="M534.1,374.8 l1.3,-0.2" stroke="#9a9a9a" stroke-width="0.6"/></g></g><text x="488.1" y="374.2" font-size="7.5" fill="#f4f4f4">10 mAh cm<tspan font-size="4.4" dy="-2.9">-2</tspan></text><line x1="524" y1="423.3" x2="540" y2="423.3" stroke="#fff" stroke-width="1"/></svg></body></html>
